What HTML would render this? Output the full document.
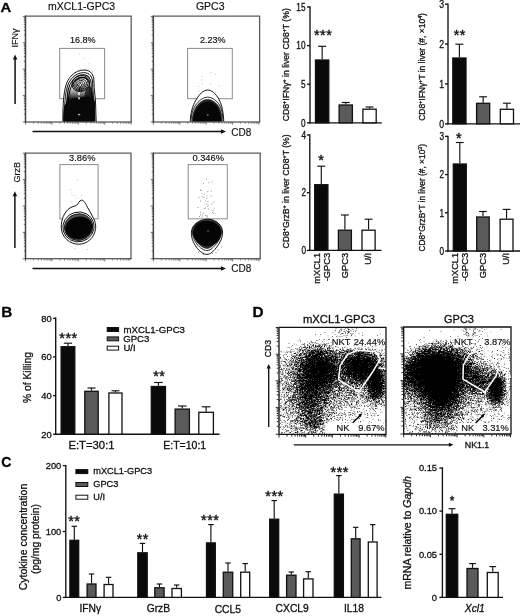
<!DOCTYPE html>
<html><head><meta charset="utf-8"><title>Figure</title>
<style>html,body{margin:0;padding:0;background:#fff}svg{display:block}svg text{font-family:"Liberation Sans","Noto Sans CJK SC",sans-serif;stroke:#111;stroke-width:0.3px}svg text.lt{stroke-width:0.16px}svg text.st{stroke-width:0.4px;letter-spacing:0.5px}</style></head>
<body>
<svg width="520" height="616" viewBox="0 0 520 616" fill="#111">
<defs>
<clipPath id="cA1"><rect x="26" y="16" width="105" height="105.6"/></clipPath>
<clipPath id="cA2"><rect x="154" y="16" width="105" height="105.6"/></clipPath>
<linearGradient id="gl1" gradientUnits="userSpaceOnUse" x1="0" y1="84" x2="0" y2="99"><stop offset="0" stop-color="#000" stop-opacity="0"/><stop offset="0.5" stop-color="#000" stop-opacity="0.35"/><stop offset="1" stop-color="#000" stop-opacity="0.9"/></linearGradient>
<radialGradient id="gdark"><stop offset="0" stop-color="#000"/><stop offset="0.75" stop-color="#000"/><stop offset="1" stop-color="#000" stop-opacity="0.55"/></radialGradient>
</defs>
<rect width="520" height="616" fill="#fff"/>
<text transform="translate(0.6 12.3) scale(1.1 1)" font-size="13.5" font-weight="bold" fill="#000">A</text>
<text transform="translate(1.2 317.3) scale(1.08 1)" font-size="14.2" font-weight="bold" fill="#000">B</text>
<text x="1.2" y="467" font-size="14" font-weight="bold" fill="#000">C</text>
<text transform="translate(252.4 316.9) scale(1.08 1)" font-size="14.2" font-weight="bold" fill="#000">D</text>
<text x="81.6" y="10" font-size="10.5" text-anchor="middle" class="lt">mXCL1-GPC3</text>
<text x="210.2" y="9.9" font-size="10.5" text-anchor="middle" class="lt">GPC3</text>
<path d="M25.5 122V16.15H131.2V122" fill="none" stroke="#5c5c5c" stroke-width="1.3"/>
<line x1="25.5" y1="15.55" x2="25.5" y2="122.5" stroke="#444" stroke-width="1.3"/>
<line x1="24.9" y1="122" x2="131.8" y2="122" stroke="#2a2a2a" stroke-width="1.1"/>
<path d="M25 122h-2.2M25 114.05h-1.2M25 109.4h-1.2M25 106.11h-1.2M25 103.55h-1.2M25 101.46h-1.2M25 99.69h-1.2M25 98.16h-1.2M25 96.81h-1.2M25 95.6h-2.2M25 87.65h-1.2M25 83h-1.2M25 79.71h-1.2M25 77.15h-1.2M25 75.06h-1.2M25 73.29h-1.2M25 71.76h-1.2M25 70.41h-1.2M25 69.2h-2.2M25 61.25h-1.2M25 56.6h-1.2M25 53.31h-1.2M25 50.75h-1.2M25 48.66h-1.2M25 46.89h-1.2M25 45.36h-1.2M25 44.01h-1.2M25 42.8h-2.2M25 34.85h-1.2M25 30.2h-1.2M25 26.91h-1.2M25 24.35h-1.2M25 22.26h-1.2M25 20.49h-1.2M25 18.96h-1.2M25 17.61h-1.2M25 16.4h-2.2" stroke="#333" stroke-width="0.7" fill="none"/>
<path d="M25.5 122.4v2.2M33.45 122.4v1.2M38.1 122.4v1.2M41.39 122.4v1.2M43.95 122.4v1.2M46.04 122.4v1.2M47.81 122.4v1.2M49.34 122.4v1.2M50.69 122.4v1.2M51.9 122.4v2.2M59.85 122.4v1.2M64.5 122.4v1.2M67.79 122.4v1.2M70.35 122.4v1.2M72.44 122.4v1.2M74.21 122.4v1.2M75.74 122.4v1.2M77.09 122.4v1.2M78.3 122.4v2.2M86.25 122.4v1.2M90.9 122.4v1.2M94.19 122.4v1.2M96.75 122.4v1.2M98.84 122.4v1.2M100.61 122.4v1.2M102.14 122.4v1.2M103.49 122.4v1.2M104.7 122.4v2.2M112.65 122.4v1.2M117.3 122.4v1.2M120.59 122.4v1.2M123.15 122.4v1.2M125.24 122.4v1.2M127.01 122.4v1.2M128.54 122.4v1.2M129.89 122.4v1.2M131.1 122.4v2.2" stroke="#333" stroke-width="0.7" fill="none"/>
<rect x="59.7" y="48.4" width="44.9" height="50.3" fill="none" stroke="#8c8c8c" stroke-width="1"/>
<text x="82.8" y="43.2" font-size="9" text-anchor="middle" class="lt">16.8%</text>
<g clip-path="url(#cA1)">
<path d="M63 123C62.6 110 63.4 96 65.2 88C67.5 77 75 70.3 83.8 70C91 69.8 93.8 75 93.9 81C94 90 95.6 98 95.7 106C95.8 112 96 118 96.3 123Z" fill="#fff" stroke="#0a0a0a" stroke-width="0.95"/>
<path d="M63 123C62.6 110 63.4 96 65.2 88C67.5 77 75 70.3 83.8 70C91 69.8 93.8 75 93.9 81C94 90 95.6 98 95.7 106C95.8 112 96 118 96.3 123Z" fill="none" stroke="#0a0a0a" stroke-width="1.05" transform="translate(79.7 123) scale(0.91 0.95) translate(-79.7 -123)"/>
<path d="M63 123C62.6 110 63.4 96 65.2 88C67.5 77 75 70.3 83.8 70C91 69.8 93.8 75 93.9 81C94 90 95.6 98 95.7 106C95.8 112 96 118 96.3 123Z" fill="none" stroke="#0a0a0a" stroke-width="1.17" transform="translate(79.7 123) scale(0.81 0.91) translate(-79.7 -123)"/>
<path d="M63 123C62.6 110 63.4 96 65.2 88C67.5 77 75 70.3 83.8 70C91 69.8 93.8 75 93.9 81C94 90 95.6 98 95.7 106C95.8 112 96 118 96.3 123Z" fill="none" stroke="#0a0a0a" stroke-width="1.33" transform="translate(79.7 123) scale(0.71 0.86) translate(-79.7 -123)"/>
<path d="M67 123L67 84L93 84L93 123Z" fill="url(#gl1)"/>
<ellipse cx="80.8" cy="83.6" rx="9" ry="7.92" fill="none" stroke="#0a0a0a" stroke-width="0.85" transform="rotate(-25 80.8 83.6)"/>
<ellipse cx="80.7" cy="83.9" rx="7.5" ry="6.6" fill="none" stroke="#0a0a0a" stroke-width="0.85" transform="rotate(-25 80.7 83.9)"/>
<ellipse cx="80.6" cy="84.2" rx="6" ry="5.28" fill="none" stroke="#0a0a0a" stroke-width="0.85" transform="rotate(-25 80.6 84.2)"/>
<ellipse cx="80.5" cy="84.5" rx="4.5" ry="3.96" fill="none" stroke="#0a0a0a" stroke-width="0.85" transform="rotate(-25 80.5 84.5)"/>
<ellipse cx="80.4" cy="84.8" rx="3" ry="2.64" fill="none" stroke="#0a0a0a" stroke-width="0.85" transform="rotate(-25 80.4 84.8)"/>
<ellipse cx="80.3" cy="85.1" rx="1.5" ry="1.32" fill="none" stroke="#0a0a0a" stroke-width="0.85" transform="rotate(-25 80.3 85.1)"/>
<path d="M84.4 97C84.6 92 86 88.4 88 86.8C90 85.8 91.6 87 92.2 90C93 94 94 99 94.5 104L84 104Z" fill="#111" fill-opacity="0.8"/>
<path d="M63.1 123C63.2 118 63.2 114 63.6 110C64 106.5 64.6 105 65.8 103.6C67 102 68.4 100.8 70 100C72 99 74 98.5 76.3 98.1C78 97.8 79.8 97.6 81.3 97.3C83 96.8 84.4 96.5 86 96.5C89 96.6 92 97.5 93.4 99C94.6 100.6 95 102 95.1 104C95.3 110 95.3 117 95.4 123Z" fill="#080808"/>
<ellipse cx="79" cy="93.6" rx="0.8" ry="1.9" fill="#fff" stroke="none" stroke-width="0.7"/>
<ellipse cx="79" cy="98.3" rx="0.8" ry="1.2" fill="#ddd" stroke="none" stroke-width="0.7"/>
<rect x="78" y="113.9" width="2.2" height="1.4" fill="#aaa" stroke="none" stroke-width="1"/>
</g>
<path d="M79.3 54h0.8M83.8 58.6h0.8M88.8 63.3h0.8M80 69h0.8M86.5 68h0.8M92.6 72h0.8" stroke="#aaa" stroke-width="0.8" fill="none"/>
<path d="M153.4 122V16.15H259.6V122" fill="none" stroke="#5c5c5c" stroke-width="1.3"/>
<line x1="153.4" y1="15.55" x2="153.4" y2="122.5" stroke="#444" stroke-width="1.3"/>
<line x1="152.8" y1="122" x2="260.2" y2="122" stroke="#2a2a2a" stroke-width="1.1"/>
<path d="M152.9 122h-2.2M152.9 114.05h-1.2M152.9 109.4h-1.2M152.9 106.11h-1.2M152.9 103.55h-1.2M152.9 101.46h-1.2M152.9 99.69h-1.2M152.9 98.16h-1.2M152.9 96.81h-1.2M152.9 95.6h-2.2M152.9 87.65h-1.2M152.9 83h-1.2M152.9 79.71h-1.2M152.9 77.15h-1.2M152.9 75.06h-1.2M152.9 73.29h-1.2M152.9 71.76h-1.2M152.9 70.41h-1.2M152.9 69.2h-2.2M152.9 61.25h-1.2M152.9 56.6h-1.2M152.9 53.31h-1.2M152.9 50.75h-1.2M152.9 48.66h-1.2M152.9 46.89h-1.2M152.9 45.36h-1.2M152.9 44.01h-1.2M152.9 42.8h-2.2M152.9 34.85h-1.2M152.9 30.2h-1.2M152.9 26.91h-1.2M152.9 24.35h-1.2M152.9 22.26h-1.2M152.9 20.49h-1.2M152.9 18.96h-1.2M152.9 17.61h-1.2M152.9 16.4h-2.2" stroke="#333" stroke-width="0.7" fill="none"/>
<path d="M153.4 122.4v2.2M161.35 122.4v1.2M166 122.4v1.2M169.29 122.4v1.2M171.85 122.4v1.2M173.94 122.4v1.2M175.71 122.4v1.2M177.24 122.4v1.2M178.59 122.4v1.2M179.8 122.4v2.2M187.75 122.4v1.2M192.4 122.4v1.2M195.69 122.4v1.2M198.25 122.4v1.2M200.34 122.4v1.2M202.11 122.4v1.2M203.64 122.4v1.2M204.99 122.4v1.2M206.2 122.4v2.2M214.15 122.4v1.2M218.8 122.4v1.2M222.09 122.4v1.2M224.65 122.4v1.2M226.74 122.4v1.2M228.51 122.4v1.2M230.04 122.4v1.2M231.39 122.4v1.2M232.6 122.4v2.2M240.55 122.4v1.2M245.2 122.4v1.2M248.49 122.4v1.2M251.05 122.4v1.2M253.14 122.4v1.2M254.91 122.4v1.2M256.44 122.4v1.2M257.79 122.4v1.2M259 122.4v2.2" stroke="#333" stroke-width="0.7" fill="none"/>
<rect x="187.6" y="48.4" width="44.7" height="50.3" fill="none" stroke="#8c8c8c" stroke-width="1"/>
<text x="212.7" y="43.2" font-size="9" text-anchor="middle" class="lt">2.23%</text>
<g clip-path="url(#cA2)">
<path d="M190.2 123C190.4 113 192.5 106 196 100C199.5 94 203.5 90 207.6 90C211.8 90 215.5 93.5 218.8 99C222 105 223.6 113 223.8 123Z" fill="#fff" stroke="#0a0a0a" stroke-width="0.95"/>
<path d="M190.9 123C191.1 114 193 108.5 196.5 104C200 99.6 204 97.2 207.6 97.2C211.6 97.2 215.2 99.4 218.5 103.5C221.6 107.5 223 114 223.1 123Z" fill="none" stroke="#0a0a0a" stroke-width="0.9"/>
<path d="M192 123C192.2 115 194 109.5 197.2 105.5C200.4 101.6 204 99.6 207.6 99.6C211.4 99.6 214.8 101.5 217.8 105.2C220.8 109 222 115 222.1 123Z" fill="#2a2a2a" stroke="#111" stroke-width="0.7"/>
<path d="M192.8 123C193 116 194.6 111 197.6 107.2C200.6 103.6 204 101.6 207.6 101.6C211.2 101.6 214.4 103.4 217.2 106.8C220 110.4 221.2 116 221.3 123Z" fill="#060606" stroke="none"/>
<rect x="206.8" y="114.3" width="1.8" height="1.3" fill="#888" stroke="none" stroke-width="1"/>
</g>
<path d="M210.5 72.5h0.9M215 74.5h0.9M201.8 76.5h0.9M201.5 80h0.9M202 84h0.9M210 84h0.9M218.8 86h0.9M198 86.5h0.9M198.5 91.5h0.9M215 92h0.9" stroke="#bbb" stroke-width="0.9" fill="none"/>
<line x1="32.5" y1="131.6" x2="223" y2="131.6" stroke="#111" stroke-width="1.5"/>
<path d="M226 131.6l-5 -2.25v4.5z" fill="#111"/>
<text x="231.2" y="135.6" font-size="10" class="lt">CD8</text>
<text x="18.3" y="47.5" font-size="9" transform="rotate(-90 18.3 47.5)" class="lt">IFNγ</text>
<line x1="15.1" y1="104" x2="15.1" y2="57.5" stroke="#111" stroke-width="1.5"/>
<path d="M15.1 54.5l-2.25 5h4.5z" fill="#111"/>
<path d="M25.5 258.8V153.2H131V258.8" fill="none" stroke="#5c5c5c" stroke-width="1.3"/>
<line x1="25.5" y1="152.6" x2="25.5" y2="259.3" stroke="#444" stroke-width="1.3"/>
<line x1="24.9" y1="258.8" x2="131.6" y2="258.8" stroke="#2a2a2a" stroke-width="1.1"/>
<path d="M25 258.8h-2.2M25 250.85h-1.2M25 246.2h-1.2M25 242.91h-1.2M25 240.35h-1.2M25 238.26h-1.2M25 236.49h-1.2M25 234.96h-1.2M25 233.61h-1.2M25 232.4h-2.2M25 224.45h-1.2M25 219.8h-1.2M25 216.51h-1.2M25 213.95h-1.2M25 211.86h-1.2M25 210.09h-1.2M25 208.56h-1.2M25 207.21h-1.2M25 206h-2.2M25 198.05h-1.2M25 193.4h-1.2M25 190.11h-1.2M25 187.55h-1.2M25 185.46h-1.2M25 183.69h-1.2M25 182.16h-1.2M25 180.81h-1.2M25 179.6h-2.2M25 171.65h-1.2M25 167h-1.2M25 163.71h-1.2M25 161.15h-1.2M25 159.06h-1.2M25 157.29h-1.2M25 155.76h-1.2M25 154.41h-1.2M25 153.2h-2.2" stroke="#333" stroke-width="0.7" fill="none"/>
<path d="M25.5 259.2v2.2M33.45 259.2v1.2M38.1 259.2v1.2M41.39 259.2v1.2M43.95 259.2v1.2M46.04 259.2v1.2M47.81 259.2v1.2M49.34 259.2v1.2M50.69 259.2v1.2M51.9 259.2v2.2M59.85 259.2v1.2M64.5 259.2v1.2M67.79 259.2v1.2M70.35 259.2v1.2M72.44 259.2v1.2M74.21 259.2v1.2M75.74 259.2v1.2M77.09 259.2v1.2M78.3 259.2v2.2M86.25 259.2v1.2M90.9 259.2v1.2M94.19 259.2v1.2M96.75 259.2v1.2M98.84 259.2v1.2M100.61 259.2v1.2M102.14 259.2v1.2M103.49 259.2v1.2M104.7 259.2v2.2M112.65 259.2v1.2M117.3 259.2v1.2M120.59 259.2v1.2M123.15 259.2v1.2M125.24 259.2v1.2M127.01 259.2v1.2M128.54 259.2v1.2M129.89 259.2v1.2" stroke="#333" stroke-width="0.7" fill="none"/>
<rect x="59.9" y="164.6" width="38.2" height="54.2" fill="none" stroke="#8c8c8c" stroke-width="1"/>
<text x="82.3" y="161.3" font-size="9.3" text-anchor="middle" class="lt">3.86%</text>
<path d="M61.3 228C61 219 64.5 212.5 68.8 208.8C71.5 206.5 74.5 206.6 76.6 205.2C78.6 203.8 79 200.6 81.4 200.2C83.8 199.9 85.6 203.5 87.4 207.2C89.4 211.2 92 214.5 93.8 218.8C95.2 222 96 225 95.6 228.5C94.5 238 87 244.2 78.8 244.2C69.5 244.2 62 237.5 61.3 228Z" fill="#fff" stroke="#0a0a0a" stroke-width="0.95"/>
<ellipse cx="78.5" cy="226.9" rx="15.7" ry="14.9" fill="none" stroke="#0a0a0a" stroke-width="0.9" transform="rotate(-15 78.5 226.9)"/>
<ellipse cx="78.6" cy="227.1" rx="14.3" ry="13.3" fill="#555" stroke="#0a0a0a" stroke-width="0.8" transform="rotate(-15 78.6 227.1)"/>
<ellipse cx="78.8" cy="227.8" rx="13.7" ry="11.2" fill="#050505" stroke="none" stroke-width="0.7" transform="rotate(-14 78.8 227.8)"/>
<path d="M70 190h0.9M71.3 193.5h0.9M73.3 195.6h0.9M81 195.5h0.9M76.3 198.3h0.9M70.5 202h0.9M77 180h0.9M74.5 248.5h0.9M87 249.5h0.9" stroke="#bbb" stroke-width="0.9" fill="none"/>
<path d="M153.4 258.8V153.2H260.2V258.8" fill="none" stroke="#5c5c5c" stroke-width="1.3"/>
<line x1="153.4" y1="152.6" x2="153.4" y2="259.3" stroke="#444" stroke-width="1.3"/>
<line x1="152.8" y1="258.8" x2="260.8" y2="258.8" stroke="#2a2a2a" stroke-width="1.1"/>
<path d="M152.9 258.8h-2.2M152.9 250.85h-1.2M152.9 246.2h-1.2M152.9 242.91h-1.2M152.9 240.35h-1.2M152.9 238.26h-1.2M152.9 236.49h-1.2M152.9 234.96h-1.2M152.9 233.61h-1.2M152.9 232.4h-2.2M152.9 224.45h-1.2M152.9 219.8h-1.2M152.9 216.51h-1.2M152.9 213.95h-1.2M152.9 211.86h-1.2M152.9 210.09h-1.2M152.9 208.56h-1.2M152.9 207.21h-1.2M152.9 206h-2.2M152.9 198.05h-1.2M152.9 193.4h-1.2M152.9 190.11h-1.2M152.9 187.55h-1.2M152.9 185.46h-1.2M152.9 183.69h-1.2M152.9 182.16h-1.2M152.9 180.81h-1.2M152.9 179.6h-2.2M152.9 171.65h-1.2M152.9 167h-1.2M152.9 163.71h-1.2M152.9 161.15h-1.2M152.9 159.06h-1.2M152.9 157.29h-1.2M152.9 155.76h-1.2M152.9 154.41h-1.2M152.9 153.2h-2.2" stroke="#333" stroke-width="0.7" fill="none"/>
<path d="M153.4 259.2v2.2M161.35 259.2v1.2M166 259.2v1.2M169.29 259.2v1.2M171.85 259.2v1.2M173.94 259.2v1.2M175.71 259.2v1.2M177.24 259.2v1.2M178.59 259.2v1.2M179.8 259.2v2.2M187.75 259.2v1.2M192.4 259.2v1.2M195.69 259.2v1.2M198.25 259.2v1.2M200.34 259.2v1.2M202.11 259.2v1.2M203.64 259.2v1.2M204.99 259.2v1.2M206.2 259.2v2.2M214.15 259.2v1.2M218.8 259.2v1.2M222.09 259.2v1.2M224.65 259.2v1.2M226.74 259.2v1.2M228.51 259.2v1.2M230.04 259.2v1.2M231.39 259.2v1.2M232.6 259.2v2.2M240.55 259.2v1.2M245.2 259.2v1.2M248.49 259.2v1.2M251.05 259.2v1.2M253.14 259.2v1.2M254.91 259.2v1.2M256.44 259.2v1.2M257.79 259.2v1.2M259 259.2v2.2" stroke="#333" stroke-width="0.7" fill="none"/>
<rect x="188.2" y="164.6" width="39.1" height="54.2" fill="none" stroke="#8c8c8c" stroke-width="1"/>
<text x="208.2" y="161.3" font-size="9.3" text-anchor="middle" class="lt">0.346%</text>
<path d="M207.5 219.2C214 219 221.5 223.5 222.5 231C223.2 237 220 243 216 248C213 251.8 210 254.4 207 254.4C203.5 254.4 199.5 251.5 196.3 247C193 242.3 191 237 191.4 232C192 224 200 219.4 207.5 219.2Z" fill="#fff" stroke="#0a0a0a" stroke-width="0.95"/>
<path d="M207.5 219.2C214 219 221.5 223.5 222.5 231C223.2 237 220 243 216 248C213 251.8 210 254.4 207 254.4C203.5 254.4 199.5 251.5 196.3 247C193 242.3 191 237 191.4 232C192 224 200 219.4 207.5 219.2Z" fill="none" stroke="#0a0a0a" stroke-width="0.95" transform="translate(207 219.2) scale(0.94 0.875) translate(-207 -218.6)"/>
<path d="M207.5 219.2C214 219 221.5 223.5 222.5 231C223.2 237 220 243 216 248C213 251.8 210 254.4 207 254.4C203.5 254.4 199.5 251.5 196.3 247C193 242.3 191 237 191.4 232C192 224 200 219.4 207.5 219.2Z" fill="#333" stroke="#111" stroke-width="0.7" transform="translate(207 219.2) scale(0.9 0.8) translate(-207 -217.8)"/>
<path d="M207.2 220.8C214.5 220.8 220.8 225.5 221.2 232.5C221.5 238.5 216 246.3 207.6 246.3C199.5 246.3 192.6 239.5 193 232.3C193.4 225.2 200 220.8 207.2 220.8Z" fill="#050505"/>
<rect x="207.3" y="230.4" width="1.5" height="1.2" fill="#777" stroke="none" stroke-width="1"/>
<path d="M200 190h1M201.5 193.5h1M206.5 198h1M207.5 201.5h1M200 201h1M213.5 202h1M205 208h1M207.8 209h1M197.5 207.5h1M212.5 210.5h1M212 212.5h1M200 215h1M203 213h1M205 215.5h1M199 216.5h1M201.5 217h1M221 247h1M217.5 250h1M198 252h1M212 253.5h1M203 254.5h1M215.5 252.5h1M203.88 194.21h1M207.06 216.01h1M211.27 204.02h1M207.68 204.97h1M203.37 197.3h1M210.83 191.24h1M201.69 215.05h1M198.56 197.27h1M213.98 208.28h1M210.75 196.06h1M201.73 196.82h1M200.91 190.51h1M207.34 191.6h1M199.94 212.45h1M211.34 182.15h1M206.41 217.65h1M206.28 195.79h1M206.48 216.12h1M205.97 179.02h1M204.9 201.05h1M213.12 213.35h1M206.2 203.91h1M208.27 182.79h1M207.25 206.43h1M203.75 208.47h1M202.83 183.4h1" stroke="#999" stroke-width="1" fill="none"/>
<line x1="32.5" y1="268.6" x2="223" y2="268.6" stroke="#111" stroke-width="1.5"/>
<path d="M226 268.6l-5 -2.25v4.5z" fill="#111"/>
<text x="231.2" y="272.2" font-size="10" class="lt">CD8</text>
<text x="19.6" y="182.6" font-size="9" transform="rotate(-90 19.6 182.6)" class="lt">GrzB</text>
<line x1="14.9" y1="248" x2="14.9" y2="194.2" stroke="#111" stroke-width="1.5"/>
<path d="M14.9 191.2l-2.25 5h4.5z" fill="#111"/>
<line x1="310" y1="6.33" x2="310" y2="123.47" stroke="#111" stroke-width="1.35"/>
<line x1="307" y1="7" x2="310" y2="7" stroke="#111" stroke-width="1.35"/>
<text transform="translate(305.5 10.71) scale(0.8 1)" font-size="10.3" text-anchor="end">15</text>
<line x1="307" y1="45.6" x2="310" y2="45.6" stroke="#111" stroke-width="1.35"/>
<text transform="translate(305.5 49.31) scale(0.8 1)" font-size="10.3" text-anchor="end">10</text>
<line x1="307" y1="84.2" x2="310" y2="84.2" stroke="#111" stroke-width="1.35"/>
<text transform="translate(305.5 87.91) scale(0.8 1)" font-size="10.3" text-anchor="end">5</text>
<line x1="307" y1="122.8" x2="310" y2="122.8" stroke="#111" stroke-width="1.35"/>
<text transform="translate(305.5 126.51) scale(0.8 1)" font-size="10.3" text-anchor="end">0</text>
<line x1="309.5" y1="122.8" x2="381.8" y2="122.8" stroke="#111" stroke-width="1.35"/>
<line x1="322.15" y1="46.3" x2="322.15" y2="59.35" stroke="#111" stroke-width="1.15"/>
<line x1="318.13" y1="46.3" x2="326.17" y2="46.3" stroke="#111" stroke-width="1.15"/>
<rect x="315.5" y="60" width="13.3" height="62.8" fill="#0a0a0a" stroke="#111" stroke-width="1.3"/>
<line x1="345.75" y1="102.5" x2="345.75" y2="104.35" stroke="#111" stroke-width="1.15"/>
<line x1="341.74" y1="102.5" x2="349.76" y2="102.5" stroke="#111" stroke-width="1.15"/>
<rect x="339.1" y="105" width="13.3" height="17.8" fill="#5a5a5a" stroke="#111" stroke-width="1.3"/>
<line x1="369.55" y1="107" x2="369.55" y2="108.55" stroke="#111" stroke-width="1.15"/>
<line x1="365.54" y1="107" x2="373.56" y2="107" stroke="#111" stroke-width="1.15"/>
<rect x="362.9" y="109.2" width="13.3" height="13.6" fill="#fff" stroke="#111" stroke-width="1.3"/>
<text x="323.2" y="39.5" font-size="14.5" text-anchor="middle" class="st">***</text>
<text x="288.7" y="64.7" font-size="8.8" text-anchor="middle" transform="rotate(-90 288.7 64.7)" textLength="113" lengthAdjust="spacingAndGlyphs">CD8<tspan dy="-3.17" font-size="5.46">+</tspan><tspan dy="3.17" font-size="8.8">&#8203;</tspan>IFNγ<tspan dy="-3.17" font-size="5.46">+</tspan><tspan dy="3.17" font-size="8.8">&#8203;</tspan> in liver CD8<tspan dy="-3.17" font-size="5.46">+</tspan><tspan dy="3.17" font-size="8.8">&#8203;</tspan>T (%)</text>
<line x1="448" y1="3.53" x2="448" y2="124.47" stroke="#111" stroke-width="1.35"/>
<line x1="445" y1="4.2" x2="448" y2="4.2" stroke="#111" stroke-width="1.35"/>
<text transform="translate(444.2 7.91) scale(0.85 1)" font-size="10.3" text-anchor="end">3</text>
<line x1="445" y1="44" x2="448" y2="44" stroke="#111" stroke-width="1.35"/>
<text transform="translate(444.2 47.71) scale(0.85 1)" font-size="10.3" text-anchor="end">2</text>
<line x1="445" y1="83.9" x2="448" y2="83.9" stroke="#111" stroke-width="1.35"/>
<text transform="translate(444.2 87.61) scale(0.85 1)" font-size="10.3" text-anchor="end">1</text>
<line x1="445" y1="123.8" x2="448" y2="123.8" stroke="#111" stroke-width="1.35"/>
<text transform="translate(444.2 127.51) scale(0.85 1)" font-size="10.3" text-anchor="end">0</text>
<line x1="447.5" y1="123.8" x2="520" y2="123.8" stroke="#111" stroke-width="1.35"/>
<line x1="459.4" y1="44.2" x2="459.4" y2="57.35" stroke="#111" stroke-width="1.15"/>
<line x1="455.41" y1="44.2" x2="463.39" y2="44.2" stroke="#111" stroke-width="1.15"/>
<rect x="452.8" y="58" width="13.2" height="65.8" fill="#0a0a0a" stroke="#111" stroke-width="1.3"/>
<line x1="483.15" y1="96.8" x2="483.15" y2="102.65" stroke="#111" stroke-width="1.15"/>
<line x1="479.19" y1="96.8" x2="487.11" y2="96.8" stroke="#111" stroke-width="1.15"/>
<rect x="476.6" y="103.3" width="13.1" height="20.5" fill="#5a5a5a" stroke="#111" stroke-width="1.3"/>
<line x1="506.9" y1="103.2" x2="506.9" y2="108.65" stroke="#111" stroke-width="1.15"/>
<line x1="502.91" y1="103.2" x2="510.89" y2="103.2" stroke="#111" stroke-width="1.15"/>
<rect x="500.3" y="109.3" width="13.2" height="14.5" fill="#fff" stroke="#111" stroke-width="1.3"/>
<text x="459.8" y="39.5" font-size="14.5" text-anchor="middle" class="st">**</text>
<text x="425.2" y="66.9" font-size="8.8" text-anchor="middle" transform="rotate(-90 425.2 66.9)" textLength="107.7" lengthAdjust="spacingAndGlyphs">CD8<tspan dy="-3.17" font-size="5.46">+</tspan><tspan dy="3.17" font-size="8.8">&#8203;</tspan>IFNγ<tspan dy="-3.17" font-size="5.46">+</tspan><tspan dy="3.17" font-size="8.8">&#8203;</tspan>T in liver (#, ×10<tspan dy="-3.17" font-size="5.46">4</tspan><tspan dy="3.17" font-size="8.8">&#8203;</tspan>)</text>
<line x1="309.8" y1="134.32" x2="309.8" y2="251.08" stroke="#111" stroke-width="1.35"/>
<line x1="306.8" y1="135" x2="309.8" y2="135" stroke="#111" stroke-width="1.35"/>
<text transform="translate(306 138.71) scale(0.8 1)" font-size="10.3" text-anchor="end">4</text>
<line x1="306.8" y1="192.7" x2="309.8" y2="192.7" stroke="#111" stroke-width="1.35"/>
<text transform="translate(306 196.41) scale(0.8 1)" font-size="10.3" text-anchor="end">2</text>
<line x1="306.8" y1="250.4" x2="309.8" y2="250.4" stroke="#111" stroke-width="1.35"/>
<text transform="translate(306 254.11) scale(0.8 1)" font-size="10.3" text-anchor="end">0</text>
<line x1="309.3" y1="250.4" x2="381.5" y2="250.4" stroke="#111" stroke-width="1.35"/>
<line x1="321.3" y1="166.2" x2="321.3" y2="184.05" stroke="#111" stroke-width="1.15"/>
<line x1="317.31" y1="166.2" x2="325.29" y2="166.2" stroke="#111" stroke-width="1.15"/>
<rect x="314.7" y="184.7" width="13.2" height="65.7" fill="#0a0a0a" stroke="#111" stroke-width="1.3"/>
<line x1="344.9" y1="215" x2="344.9" y2="229.55" stroke="#111" stroke-width="1.15"/>
<line x1="340.97" y1="215" x2="348.83" y2="215" stroke="#111" stroke-width="1.15"/>
<rect x="338.4" y="230.2" width="13" height="20.2" fill="#5a5a5a" stroke="#111" stroke-width="1.3"/>
<line x1="368.55" y1="219.2" x2="368.55" y2="229.55" stroke="#111" stroke-width="1.15"/>
<line x1="364.59" y1="219.2" x2="372.51" y2="219.2" stroke="#111" stroke-width="1.15"/>
<rect x="362" y="230.2" width="13.1" height="20.2" fill="#fff" stroke="#111" stroke-width="1.3"/>
<text x="321.3" y="165" font-size="14.5" text-anchor="middle" class="st">*</text>
<text x="288.7" y="191.4" font-size="8.8" text-anchor="middle" transform="rotate(-90 288.7 191.4)" textLength="114" lengthAdjust="spacingAndGlyphs">CD8<tspan dy="-3.17" font-size="5.46">+</tspan><tspan dy="3.17" font-size="8.8">&#8203;</tspan>GrzB<tspan dy="-3.17" font-size="5.46">+</tspan><tspan dy="3.17" font-size="8.8">&#8203;</tspan> in liver CD8<tspan dy="-3.17" font-size="5.46">+</tspan><tspan dy="3.17" font-size="8.8">&#8203;</tspan>T (%)</text>
<text x="320.3" y="252.8" font-size="9.3" text-anchor="end" transform="rotate(-90 320.3 252.8)">mXCL1</text>
<text x="330" y="252.8" font-size="9.3" text-anchor="end" transform="rotate(-90 330 252.8)">-GPC3</text>
<text x="348.1" y="252.8" font-size="9.3" text-anchor="end" transform="rotate(-90 348.1 252.8)">GPC3</text>
<text x="371.2" y="252.8" font-size="9.3" text-anchor="end" transform="rotate(-90 371.2 252.8)">U/I</text>
<line x1="448" y1="135.72" x2="448" y2="251.68" stroke="#111" stroke-width="1.35"/>
<line x1="445" y1="136.4" x2="448" y2="136.4" stroke="#111" stroke-width="1.35"/>
<text transform="translate(444.2 140.11) scale(0.8 1)" font-size="10.3" text-anchor="end">3</text>
<line x1="445" y1="174.6" x2="448" y2="174.6" stroke="#111" stroke-width="1.35"/>
<text transform="translate(444.2 178.31) scale(0.8 1)" font-size="10.3" text-anchor="end">2</text>
<line x1="445" y1="212.8" x2="448" y2="212.8" stroke="#111" stroke-width="1.35"/>
<text transform="translate(444.2 216.51) scale(0.8 1)" font-size="10.3" text-anchor="end">1</text>
<line x1="445" y1="251" x2="448" y2="251" stroke="#111" stroke-width="1.35"/>
<text transform="translate(444.2 254.71) scale(0.8 1)" font-size="10.3" text-anchor="end">0</text>
<line x1="447.5" y1="251" x2="520" y2="251" stroke="#111" stroke-width="1.35"/>
<line x1="459.8" y1="142.5" x2="459.8" y2="163.35" stroke="#111" stroke-width="1.15"/>
<line x1="455.87" y1="142.5" x2="463.73" y2="142.5" stroke="#111" stroke-width="1.15"/>
<rect x="453.3" y="164" width="13" height="87" fill="#0a0a0a" stroke="#111" stroke-width="1.3"/>
<line x1="482.95" y1="211.5" x2="482.95" y2="216.35" stroke="#111" stroke-width="1.15"/>
<line x1="479.15" y1="211.5" x2="486.75" y2="211.5" stroke="#111" stroke-width="1.15"/>
<rect x="476.7" y="217" width="12.5" height="34" fill="#5a5a5a" stroke="#111" stroke-width="1.3"/>
<line x1="506.55" y1="209.4" x2="506.55" y2="218.55" stroke="#111" stroke-width="1.15"/>
<line x1="502.64" y1="209.4" x2="510.45" y2="209.4" stroke="#111" stroke-width="1.15"/>
<rect x="500.1" y="219.2" width="12.9" height="31.8" fill="#fff" stroke="#111" stroke-width="1.3"/>
<text x="459" y="142.5" font-size="14.5" text-anchor="middle" class="st">*</text>
<text x="425.2" y="197.8" font-size="8.8" text-anchor="middle" transform="rotate(-90 425.2 197.8)" textLength="107.6" lengthAdjust="spacingAndGlyphs">CD8<tspan dy="-3.17" font-size="5.46">+</tspan><tspan dy="3.17" font-size="8.8">&#8203;</tspan>GrzB<tspan dy="-3.17" font-size="5.46">+</tspan><tspan dy="3.17" font-size="8.8">&#8203;</tspan>T in liver (#, ×10<tspan dy="-3.17" font-size="5.46">3</tspan><tspan dy="3.17" font-size="8.8">&#8203;</tspan>)</text>
<text x="458.5" y="252.8" font-size="9.3" text-anchor="end" transform="rotate(-90 458.5 252.8)">mXCL1</text>
<text x="468.2" y="252.8" font-size="9.3" text-anchor="end" transform="rotate(-90 468.2 252.8)">-GPC3</text>
<text x="485.6" y="252.8" font-size="9.3" text-anchor="end" transform="rotate(-90 485.6 252.8)">GPC3</text>
<text x="509.5" y="252.8" font-size="9.3" text-anchor="end" transform="rotate(-90 509.5 252.8)">U/I</text>
<line x1="55.7" y1="317.62" x2="55.7" y2="434.88" stroke="#111" stroke-width="1.35"/>
<line x1="53.1" y1="318.3" x2="55.7" y2="318.3" stroke="#111" stroke-width="1.35"/>
<text x="51.8" y="321.68" font-size="9.4" text-anchor="end">80</text>
<line x1="53.1" y1="356.9" x2="55.7" y2="356.9" stroke="#111" stroke-width="1.35"/>
<text x="51.8" y="360.28" font-size="9.4" text-anchor="end">60</text>
<line x1="53.1" y1="395.6" x2="55.7" y2="395.6" stroke="#111" stroke-width="1.35"/>
<text x="51.8" y="398.98" font-size="9.4" text-anchor="end">40</text>
<line x1="53.1" y1="434.2" x2="55.7" y2="434.2" stroke="#111" stroke-width="1.35"/>
<text x="51.8" y="437.58" font-size="9.4" text-anchor="end">20</text>
<line x1="55" y1="434.2" x2="219.5" y2="434.2" stroke="#111" stroke-width="1.35"/>
<line x1="67.95" y1="343.2" x2="67.95" y2="346.05" stroke="#111" stroke-width="1.15"/>
<line x1="63.82" y1="343.2" x2="72.07" y2="343.2" stroke="#111" stroke-width="1.15"/>
<rect x="61.1" y="346.7" width="13.7" height="87.5" fill="#0a0a0a" stroke="#111" stroke-width="1.3"/>
<line x1="91.5" y1="388" x2="91.5" y2="390.65" stroke="#111" stroke-width="1.15"/>
<line x1="87.46" y1="388" x2="95.54" y2="388" stroke="#111" stroke-width="1.15"/>
<rect x="84.8" y="391.3" width="13.4" height="42.9" fill="#5a5a5a" stroke="#111" stroke-width="1.3"/>
<line x1="115.45" y1="390.8" x2="115.45" y2="392.35" stroke="#111" stroke-width="1.15"/>
<line x1="111.49" y1="390.8" x2="119.41" y2="390.8" stroke="#111" stroke-width="1.15"/>
<rect x="108.9" y="393" width="13.1" height="41.2" fill="#fff" stroke="#111" stroke-width="1.3"/>
<line x1="158.4" y1="382.5" x2="158.4" y2="385.85" stroke="#111" stroke-width="1.15"/>
<line x1="154.14" y1="382.5" x2="162.66" y2="382.5" stroke="#111" stroke-width="1.15"/>
<rect x="151.3" y="386.5" width="14.2" height="47.7" fill="#0a0a0a" stroke="#111" stroke-width="1.3"/>
<line x1="182.25" y1="406" x2="182.25" y2="408.45" stroke="#111" stroke-width="1.15"/>
<line x1="177.96" y1="406" x2="186.54" y2="406" stroke="#111" stroke-width="1.15"/>
<rect x="175.1" y="409.1" width="14.3" height="25.1" fill="#5a5a5a" stroke="#111" stroke-width="1.3"/>
<line x1="206.1" y1="406.8" x2="206.1" y2="411.65" stroke="#111" stroke-width="1.15"/>
<line x1="201.73" y1="406.8" x2="210.47" y2="406.8" stroke="#111" stroke-width="1.15"/>
<rect x="198.8" y="412.3" width="14.6" height="21.9" fill="#fff" stroke="#111" stroke-width="1.3"/>
<text x="68.5" y="342.5" font-size="14.5" text-anchor="middle" class="st">***</text>
<text x="159.3" y="381.2" font-size="14.5" text-anchor="middle" class="st">**</text>
<text x="91.5" y="448.8" font-size="11.3" text-anchor="middle">E:T=30:1</text>
<text x="184.7" y="448.6" font-size="10.5" text-anchor="middle">E:T=10:1</text>
<text x="30.6" y="377.5" font-size="10.4" text-anchor="middle" transform="rotate(-90 30.6 377.5)" textLength="51" lengthAdjust="spacingAndGlyphs">% of Killing</text>
<rect x="107.2" y="327.5" width="11.4" height="4" fill="#0a0a0a" stroke="#111" stroke-width="1"/>
<rect x="107.2" y="336.9" width="11.4" height="3.9" fill="#5a5a5a" stroke="#111" stroke-width="1"/>
<rect x="107.2" y="346.2" width="11.4" height="3.9" fill="#fff" stroke="#111" stroke-width="1"/>
<text x="123.6" y="332.6" font-size="9.6">mXCL1-GPC3</text>
<text x="123.2" y="341.9" font-size="9.6">GPC3</text>
<text x="123.4" y="351.2" font-size="9.6">U/I</text>
<line x1="65.8" y1="464.93" x2="65.8" y2="598.07" stroke="#111" stroke-width="1.35"/>
<line x1="62.8" y1="465.6" x2="65.8" y2="465.6" stroke="#111" stroke-width="1.35"/>
<text x="61.3" y="468.95" font-size="9.3" text-anchor="end">200</text>
<line x1="62.8" y1="531.5" x2="65.8" y2="531.5" stroke="#111" stroke-width="1.35"/>
<text x="61.3" y="534.85" font-size="9.3" text-anchor="end">100</text>
<line x1="62.8" y1="597.4" x2="65.8" y2="597.4" stroke="#111" stroke-width="1.35"/>
<text x="61.3" y="600.75" font-size="9.3" text-anchor="end">0</text>
<line x1="65.5" y1="597.4" x2="381.5" y2="597.4" stroke="#111" stroke-width="1.35"/>
<line x1="74.3" y1="526.3" x2="74.3" y2="539.65" stroke="#111" stroke-width="1.15"/>
<line x1="71.55" y1="526.3" x2="77.05" y2="526.3" stroke="#111" stroke-width="1.15"/>
<rect x="69.9" y="540.3" width="8.8" height="57.1" fill="#0a0a0a" stroke="#111" stroke-width="1.3"/>
<line x1="91.55" y1="574" x2="91.55" y2="583.35" stroke="#111" stroke-width="1.15"/>
<line x1="88.8" y1="574" x2="94.3" y2="574" stroke="#111" stroke-width="1.15"/>
<rect x="87.1" y="584" width="8.9" height="13.4" fill="#5a5a5a" stroke="#111" stroke-width="1.3"/>
<line x1="108.55" y1="577.3" x2="108.55" y2="583.85" stroke="#111" stroke-width="1.15"/>
<line x1="105.8" y1="577.3" x2="111.3" y2="577.3" stroke="#111" stroke-width="1.15"/>
<rect x="104.1" y="584.5" width="8.9" height="12.9" fill="#fff" stroke="#111" stroke-width="1.3"/>
<line x1="142.5" y1="543.4" x2="142.5" y2="552.15" stroke="#111" stroke-width="1.15"/>
<line x1="139.75" y1="543.4" x2="145.25" y2="543.4" stroke="#111" stroke-width="1.15"/>
<rect x="137.8" y="552.8" width="9.4" height="44.6" fill="#0a0a0a" stroke="#111" stroke-width="1.3"/>
<line x1="159.45" y1="584" x2="159.45" y2="587.15" stroke="#111" stroke-width="1.15"/>
<line x1="156.7" y1="584" x2="162.2" y2="584" stroke="#111" stroke-width="1.15"/>
<rect x="154.8" y="587.8" width="9.3" height="9.6" fill="#5a5a5a" stroke="#111" stroke-width="1.3"/>
<line x1="176.7" y1="585" x2="176.7" y2="587.85" stroke="#111" stroke-width="1.15"/>
<line x1="173.95" y1="585" x2="179.45" y2="585" stroke="#111" stroke-width="1.15"/>
<rect x="172" y="588.5" width="9.4" height="8.9" fill="#fff" stroke="#111" stroke-width="1.3"/>
<line x1="210.9" y1="524.6" x2="210.9" y2="542.25" stroke="#111" stroke-width="1.15"/>
<line x1="208.15" y1="524.6" x2="213.65" y2="524.6" stroke="#111" stroke-width="1.15"/>
<rect x="206.5" y="542.9" width="8.8" height="54.5" fill="#0a0a0a" stroke="#111" stroke-width="1.3"/>
<line x1="228" y1="563" x2="228" y2="571.55" stroke="#111" stroke-width="1.15"/>
<line x1="225.25" y1="563" x2="230.75" y2="563" stroke="#111" stroke-width="1.15"/>
<rect x="223.3" y="572.2" width="9.4" height="25.2" fill="#5a5a5a" stroke="#111" stroke-width="1.3"/>
<line x1="245.2" y1="563.6" x2="245.2" y2="571.55" stroke="#111" stroke-width="1.15"/>
<line x1="242.45" y1="563.6" x2="247.95" y2="563.6" stroke="#111" stroke-width="1.15"/>
<rect x="240.7" y="572.2" width="9" height="25.2" fill="#fff" stroke="#111" stroke-width="1.3"/>
<line x1="274.2" y1="500.6" x2="274.2" y2="518.55" stroke="#111" stroke-width="1.15"/>
<line x1="271.45" y1="500.6" x2="276.95" y2="500.6" stroke="#111" stroke-width="1.15"/>
<rect x="269.7" y="519.2" width="9" height="78.2" fill="#0a0a0a" stroke="#111" stroke-width="1.3"/>
<line x1="291.3" y1="572" x2="291.3" y2="574.55" stroke="#111" stroke-width="1.15"/>
<line x1="288.55" y1="572" x2="294.05" y2="572" stroke="#111" stroke-width="1.15"/>
<rect x="286.6" y="575.2" width="9.4" height="22.2" fill="#5a5a5a" stroke="#111" stroke-width="1.3"/>
<line x1="308.3" y1="571.7" x2="308.3" y2="578.25" stroke="#111" stroke-width="1.15"/>
<line x1="305.55" y1="571.7" x2="311.05" y2="571.7" stroke="#111" stroke-width="1.15"/>
<rect x="303.6" y="578.9" width="9.4" height="18.5" fill="#fff" stroke="#111" stroke-width="1.3"/>
<line x1="338.85" y1="475.6" x2="338.85" y2="493.45" stroke="#111" stroke-width="1.15"/>
<line x1="336.1" y1="475.6" x2="341.6" y2="475.6" stroke="#111" stroke-width="1.15"/>
<rect x="334.3" y="494.1" width="9.1" height="103.3" fill="#0a0a0a" stroke="#111" stroke-width="1.3"/>
<line x1="355.7" y1="527.3" x2="355.7" y2="538.15" stroke="#111" stroke-width="1.15"/>
<line x1="352.95" y1="527.3" x2="358.45" y2="527.3" stroke="#111" stroke-width="1.15"/>
<rect x="351.3" y="538.8" width="8.8" height="58.6" fill="#5a5a5a" stroke="#111" stroke-width="1.3"/>
<line x1="372.7" y1="524.6" x2="372.7" y2="541.35" stroke="#111" stroke-width="1.15"/>
<line x1="369.95" y1="524.6" x2="375.45" y2="524.6" stroke="#111" stroke-width="1.15"/>
<rect x="368.3" y="542" width="8.8" height="55.4" fill="#fff" stroke="#111" stroke-width="1.3"/>
<text x="74.3" y="526" font-size="14.5" text-anchor="middle" class="st">**</text>
<text x="142.8" y="544" font-size="14.5" text-anchor="middle" class="st">**</text>
<text x="210.3" y="524.5" font-size="14.5" text-anchor="middle" class="st">***</text>
<text x="274.5" y="501" font-size="14.5" text-anchor="middle" class="st">***</text>
<text x="339.8" y="476.7" font-size="14.5" text-anchor="middle" class="st">***</text>
<text x="90.3" y="612.3" font-size="10.3" text-anchor="middle">IFNγ</text>
<text x="158.4" y="611.5" font-size="10.3" text-anchor="middle">GrzB</text>
<text x="227.8" y="613" font-size="10.3" text-anchor="middle">CCL5</text>
<text x="292.2" y="611.5" font-size="10.3" text-anchor="middle">CXCL9</text>
<text x="353.9" y="611.5" font-size="10.3" text-anchor="middle">IL18</text>
<text x="27.3" y="537" font-size="10.4" text-anchor="middle" transform="rotate(-90 27.3 537)" textLength="106.5" lengthAdjust="spacingAndGlyphs">Cytokine concentration</text>
<text x="38.8" y="539" font-size="10.4" text-anchor="middle" transform="rotate(-90 38.8 539)" textLength="70" lengthAdjust="spacingAndGlyphs">(pg/mg protein)</text>
<rect x="75.9" y="469.6" width="11.9" height="4" fill="#0a0a0a" stroke="#111" stroke-width="1"/>
<rect x="75.9" y="482.5" width="11.9" height="4" fill="#5a5a5a" stroke="#111" stroke-width="1"/>
<rect x="75.9" y="495.2" width="11.9" height="4" fill="#fff" stroke="#111" stroke-width="1"/>
<text x="93.3" y="474.4" font-size="9.2">mXCL1-GPC3</text>
<text x="93.3" y="487.4" font-size="9.2">GPC3</text>
<text x="93.3" y="500.2" font-size="9.2">U/I</text>
<line x1="442.4" y1="467.32" x2="442.4" y2="598.07" stroke="#111" stroke-width="1.35"/>
<line x1="439.4" y1="468" x2="442.4" y2="468" stroke="#111" stroke-width="1.35"/>
<text x="437" y="471.35" font-size="9.3" text-anchor="end">0.15</text>
<line x1="439.4" y1="511.1" x2="442.4" y2="511.1" stroke="#111" stroke-width="1.35"/>
<text x="437" y="514.45" font-size="9.3" text-anchor="end">0.10</text>
<line x1="439.4" y1="554.3" x2="442.4" y2="554.3" stroke="#111" stroke-width="1.35"/>
<text x="437" y="557.65" font-size="9.3" text-anchor="end">0.05</text>
<line x1="439.4" y1="597.4" x2="442.4" y2="597.4" stroke="#111" stroke-width="1.35"/>
<text x="437" y="600.75" font-size="9.3" text-anchor="end">0</text>
<line x1="441.8" y1="597.4" x2="503" y2="597.4" stroke="#111" stroke-width="1.35"/>
<line x1="452" y1="508.7" x2="452" y2="513.65" stroke="#111" stroke-width="1.15"/>
<line x1="448.51" y1="508.7" x2="455.49" y2="508.7" stroke="#111" stroke-width="1.15"/>
<rect x="446.3" y="514.3" width="11.4" height="83.1" fill="#0a0a0a" stroke="#111" stroke-width="1.3"/>
<line x1="472.5" y1="563.6" x2="472.5" y2="567.85" stroke="#111" stroke-width="1.15"/>
<line x1="469.12" y1="563.6" x2="475.88" y2="563.6" stroke="#111" stroke-width="1.15"/>
<rect x="467" y="568.5" width="11" height="28.9" fill="#5a5a5a" stroke="#111" stroke-width="1.3"/>
<line x1="492.75" y1="566.6" x2="492.75" y2="571.85" stroke="#111" stroke-width="1.15"/>
<line x1="489.39" y1="566.6" x2="496.11" y2="566.6" stroke="#111" stroke-width="1.15"/>
<rect x="487.3" y="572.5" width="10.9" height="24.9" fill="#fff" stroke="#111" stroke-width="1.3"/>
<text x="452.3" y="505.2" font-size="12" text-anchor="middle" class="st">*</text>
<text x="474.8" y="611.9" font-size="10.3" text-anchor="middle" font-style="italic">Xcl1</text>
<text x="411.2" y="532.8" font-size="10.4" text-anchor="middle" transform="rotate(-90 411.2 532.8)" textLength="113.5" lengthAdjust="spacingAndGlyphs">mRNA relative to <tspan font-style="italic">Gapdh</tspan></text>
<text x="339" y="322.8" font-size="11.3" text-anchor="middle">mXCL1-GPC3</text>
<text x="459" y="323" font-size="11" text-anchor="middle">GPC3</text>
<text x="270.9" y="357.2" font-size="8.6" transform="rotate(-90 270.9 357.2)">CD3</text>
<line x1="268.7" y1="427" x2="268.7" y2="366.76" stroke="#111" stroke-width="1.35"/>
<path d="M268.7 364l-2.07 4.6h4.14z" fill="#111"/>
<line x1="293.8" y1="444.8" x2="450.74" y2="444.8" stroke="#111" stroke-width="1.35"/>
<path d="M453.5 444.8l-4.6 -2.07v4.14z" fill="#111"/>
<text x="464.8" y="448.2" font-size="8.8">NK1.1</text>
<path transform="translate(279 327.3) scale(0.33333)" d="M0 0m198 0h2v1h-2zm-13 1h2v1h-2zm13 0h2v1h-2zm-28 1h2v1h-2zm15 0h2v1h-2zm14 0h2v1h-2zm33 0h2v1h-2zm-62 1h2v1h-2zm29 0h2v1h-2zm6 0h3v1h-3zm27 0h2v1h-2zm-46 1h2v1h-2zm19 0h3v1h-3zm13 0h2v1h-2zm-32 1h2v1h-2zm22 0h2v1h-2zm10 0h2v1h-2zm3 0h2v1h-2zm-37 1h4v1h-4zm10 0h2v1h-2zm13 0h3v1h-3zm4 0h2v1h-2zm10 0h2v1h-2zm-37 1h2v1h-2zm10 0h4v1h-4zm13 0h2v1h-2zm4 0h2v1h-2zm-15 1h2v1h-2zm18 0h2v1h-2zm16 0h2v1h-2zm-61 1h2v1h-2zm12 0h2v1h-2zm5 0h2v1h-2zm16 0h2v1h-2zm12 0h2v1h-2zm16 0h2v1h-2zm-63 1h4v1h-4zm14 0h2v1h-2zm5 0h2v1h-2zm16 0h2v1h-2zm5 0h2v1h-2zm10 0h2v1h-2zm-50 1h2v1h-2zm15 0h2v1h-2zm15 0h2v1h-2zm8 0h4v1h-4zm5 0h2v1h-2zm7 0h2v1h-2zm-35 1h2v1h-2zm12 0h2v1h-2zm3 0h2v1h-2zm8 0h4v1h-4zm5 0h2v1h-2zm12 0h2v1h-2zm6 0h2v1h-2zm-48 1h2v1h-2zm14 0h2v1h-2zm12 0h4v1h-4zm16 0h2v1h-2zm6 0h2v1h-2zm-48 1h2v1h-2zm28 0h2v1h-2zm-71 1h2v1h-2zm24 0h2v1h-2zm18 0h2v1h-2zm19 0h2v1h-2zm9 0h4v1h-4zm-70 1h2v1h-2zm24 0h2v1h-2zm16 0h4v1h-4zm21 0h2v1h-2zm8 0h5v1h-5zm44 0h2v1h-2zm-73 1h2v1h-2zm9 0h2v1h-2zm13 0h2v1h-2zm6 0h3v1h-3zm34 0h2v1h-2zm11 0h2v1h-2zm-64 1h2v1h-2zm3 0h4v1h-4zm10 0h2v1h-2zm6 0h2v1h-2zm8 0h2v1h-2zm8 0h2v1h-2zm18 0h2v1h-2zm-50 1h4v1h-4zm24 0h2v1h-2zm3 0h2v1h-2zm5 0h2v1h-2zm82 0h2v1h-2zm-136 1h2v1h-2zm49 0h2v1h-2zm87 0h2v1h-2zm-195 1h2v1h-2zm16 0h2v1h-2zm43 0h2v1h-2zm17 0h2v1h-2zm34 0h2v1h-2zm-110 1h2v1h-2zm16 0h2v1h-2zm60 0h2v1h-2zm21 0h2v1h-2zm13 0h2v1h-2zm-24 1h2v1h-2zm11 0h2v1h-2zm11 0h2v1h-2zm-22 1h2v1h-2zm9 0h2v1h-2zm13 0h2v1h-2zm34 0h2v1h-2zm45 0h2v1h-2zm-149 1h2v1h-2zm28 0h2v1h-2zm25 0h2v1h-2zm4 0h2v1h-2zm12 0h2v1h-2zm13 0h2v1h-2zm22 0h2v1h-2zm45 0h2v1h-2zm-149 1h2v1h-2zm28 0h2v1h-2zm25 0h2v1h-2zm16 0h2v1h-2zm13 0h2v1h-2zm-69 1h2v1h-2zm12 0h2v1h-2zm11 0h2v1h-2zm6 0h2v1h-2zm-29 1h2v1h-2zm12 0h2v1h-2zm11 0h2v1h-2zm6 0h2v1h-2zm14 2h2v1h-2zm0 1h2v1h-2zm-82 4h2v1h-2zm0 1h2v1h-2zm16 0h2v1h-2zm12 0h2v1h-2zm3 0h2v1h-2zm-91 1h2v1h-2zm4 0h2v1h-2zm68 0h2v1h-2zm4 0h2v1h-2zm7 0h2v1h-2zm5 0h2v1h-2zm3 0h2v1h-2zm28 0h2v1h-2zm-119 1h2v1h-2zm4 0h2v1h-2zm49 0h2v1h-2zm19 0h2v1h-2zm11 0h2v1h-2zm36 0h2v1h-2zm74 0h2v1h-2zm-140 1h2v1h-2zm140 0h2v1h-2zm-197 1h2v1h-2zm37 0h2v1h-2zm20 0h2v1h-2zm-57 1h2v1h-2zm37 0h2v1h-2zm36 0h2v1h-2zm-65 1h2v1h-2zm32 0h2v1h-2zm33 0h2v1h-2zm-65 1h2v1h-2zm20 0h2v1h-2zm12 0h2v1h-2zm-12 1h2v1h-2zm24 0h2v1h-2zm-11 1h2v1h-2zm4 0h2v1h-2zm7 0h2v1h-2zm47 0h2v1h-2zm-65 1h2v1h-2zm7 0h6v1h-6zm8 0h2v1h-2zm27 0h2v1h-2zm23 0h2v1h-2zm-65 1h2v1h-2zm8 0h4v1h-4zm7 0h2v1h-2zm7 0h2v1h-2zm20 0h2v1h-2zm4 0h2v1h-2zm7 0h2v1h-2zm-114 1h2v1h-2zm46 0h2v1h-2zm15 0h2v1h-2zm22 0h2v1h-2zm4 0h2v1h-2zm20 0h2v1h-2zm7 0h2v1h-2zm5 0h2v1h-2zm21 0h2v1h-2zm24 0h2v1h-2zm17 0h2v1h-2zm-181 1h2v1h-2zm15 0h3v1h-3zm27 0h2v1h-2zm4 0h2v1h-2zm15 0h2v1h-2zm19 0h2v1h-2zm7 0h2v1h-2zm9 0h2v1h-2zm17 0h2v1h-2zm6 0h2v1h-2zm21 0h2v1h-2zm12 0h2v1h-2zm12 0h2v1h-2zm17 0h2v1h-2zm-166 1h3v1h-3zm24 0h2v1h-2zm3 0h2v1h-2zm5 0h2v1h-2zm9 0h2v1h-2zm8 0h2v1h-2zm9 0h2v1h-2zm7 0h2v1h-2zm16 0h2v1h-2zm13 0h2v1h-2zm4 0h2v1h-2zm39 0h2v1h-2zm26 0h2v1h-2zm43 0h2v1h-2zm14 0h2v1h-2zm-196 1h2v1h-2zm4 0h2v1h-2zm4 0h2v1h-2zm9 0h2v1h-2zm8 0h2v1h-2zm9 0h2v1h-2zm17 0h2v1h-2zm3 0h2v1h-2zm8 0h4v1h-4zm5 0h2v1h-2zm3 0h2v1h-2zm69 0h2v1h-2zm42 0h3v1h-3zm15 0h2v1h-2zm-213 1h2v1h-2zm21 0h2v1h-2zm14 0h2v1h-2zm9 0h3v1h-3zm5 0h4v1h-4zm19 0h2v1h-2zm3 0h2v1h-2zm8 0h4v1h-4zm5 0h2v1h-2zm3 0h2v1h-2zm5 0h2v1h-2zm106 0h2v1h-2zm-198 1h2v1h-2zm34 0h3v1h-3zm4 0h2v1h-2zm6 0h3v1h-3zm4 0h5v1h-5zm10 0h2v1h-2zm4 0h2v1h-2zm5 0h2v1h-2zm6 0h2v1h-2zm11 0h2v1h-2zm3 0h4v1h-4zm5 0h2v1h-2zm7 0h2v1h-2zm8 0h2v1h-2zm116 0h2v1h-2zm37 0h2v1h-2zm-271 1h2v1h-2zm35 0h2v1h-2zm10 0h2v1h-2zm4 0h2v1h-2zm10 0h2v1h-2zm3 0h3v1h-3zm6 0h3v1h-3zm5 0h2v1h-2zm5 0h5v1h-5zm6 0h2v1h-2zm6 0h2v1h-2zm5 0h2v1h-2zm5 0h2v1h-2zm10 0h2v1h-2zm8 0h2v1h-2zm66 0h2v1h-2zm9 0h2v1h-2zm17 0h2v1h-2zm24 0h2v1h-2zm37 0h2v1h-2zm-271 1h2v1h-2zm35 0h2v1h-2zm9 0h2v1h-2zm19 0h2v1h-2zm5 0h2v1h-2zm11 0h4v1h-4zm11 0h2v1h-2zm5 0h2v1h-2zm8 0h2v1h-2zm7 0h4v1h-4zm5 0h3v1h-3zm69 0h2v1h-2zm9 0h2v1h-2zm13 0h2v1h-2zm4 0h2v1h-2zm37 0h6v1h-6zm-224 1h2v1h-2zm21 0h2v1h-2zm7 0h2v1h-2zm5 0h2v1h-2zm5 0h2v1h-2zm7 0h2v1h-2zm5 0h4v1h-4zm6 0h4v1h-4zm6 0h4v1h-4zm10 0h3v1h-3zm8 0h2v1h-2zm7 0h4v1h-4zm5 0h3v1h-3zm13 0h4v1h-4zm78 0h2v1h-2zm34 0h2v1h-2zm7 0h6v1h-6zm-224 1h2v1h-2zm12 0h2v1h-2zm3 0h2v1h-2zm12 0h3v1h-3zm6 0h2v1h-2zm5 0h3v1h-3zm7 0h4v1h-4zm5 0h10v1h-10zm12 0h5v1h-5zm10 0h3v1h-3zm14 0h2v1h-2zm19 0h4v1h-4zm89 0h2v1h-2zm23 0h2v1h-2zm-243 1h3v1h-3zm29 0h2v1h-2zm9 0h2v1h-2zm3 0h2v1h-2zm12 0h3v1h-3zm6 0h2v1h-2zm6 0h2v1h-2zm6 0h4v1h-4zm5 0h2v1h-2zm4 0h2v1h-2zm4 0h2v1h-2zm5 0h4v1h-4zm9 0h3v1h-3zm6 0h2v1h-2zm8 0h3v1h-3zm13 0h2v1h-2zm37 0h2v1h-2zm58 0h2v1h-2zm21 0h2v1h-2zm-252 1h2v1h-2zm11 0h3v1h-3zm29 0h4v1h-4zm7 0h6v1h-6zm7 0h2v1h-2zm4 0h4v1h-4zm7 0h2v1h-2zm5 0h3v1h-3zm10 0h2v1h-2zm3 0h2v1h-2zm3 0h3v1h-3zm6 0h2v1h-2zm3 0h7v1h-7zm13 0h2v1h-2zm7 0h2v1h-2zm5 0h2v1h-2zm4 0h2v1h-2zm12 0h2v1h-2zm37 0h2v1h-2zm40 0h2v1h-2zm29 0h2v1h-2zm10 0h2v1h-2zm-252 1h2v1h-2zm4 0h2v1h-2zm30 0h2v1h-2zm8 0h2v1h-2zm4 0h7v1h-7zm8 0h2v1h-2zm4 0h4v1h-4zm6 0h3v1h-3zm4 0h2v1h-2zm3 0h2v1h-2zm9 0h3v1h-3zm6 0h2v1h-2zm6 0h2v1h-2zm5 0h5v1h-5zm11 0h2v1h-2zm12 0h2v1h-2zm3 0h3v1h-3zm9 0h2v1h-2zm18 0h2v1h-2zm13 0h2v1h-2zm6 0h2v1h-2zm44 0h2v1h-2zm29 0h2v1h-2zm-238 1h2v1h-2zm30 0h2v1h-2zm12 0h2v1h-2zm7 0h4v1h-4zm5 0h2v1h-2zm5 0h7v1h-7zm14 0h2v1h-2zm4 0h4v1h-4zm16 0h2v1h-2zm23 0h2v1h-2zm3 0h5v1h-5zm9 0h2v1h-2zm18 0h2v1h-2zm13 0h2v1h-2zm6 0h2v1h-2zm8 0h2v1h-2zm24 0h2v1h-2zm19 0h2v1h-2zm19 0h2v1h-2zm-206 1h2v1h-2zm20 0h7v1h-7zm10 0h2v1h-2zm3 0h2v1h-2zm8 0h2v1h-2zm3 0h2v1h-2zm6 0h2v1h-2zm5 0h2v1h-2zm7 0h5v1h-5zm8 0h2v1h-2zm15 0h3v1h-3zm8 0h2v1h-2zm51 0h2v1h-2zm24 0h2v1h-2zm19 0h4v1h-4zm19 0h2v1h-2zm-216 1h2v1h-2zm10 0h2v1h-2zm7 0h2v1h-2zm16 0h2v1h-2zm9 0h2v1h-2zm6 0h2v1h-2zm3 0h2v1h-2zm14 0h4v1h-4zm7 0h13v1h-13zm23 0h3v1h-3zm4 0h2v1h-2zm3 0h4v1h-4zm8 0h2v1h-2zm30 0h2v1h-2zm25 0h2v1h-2zm14 0h2v1h-2zm8 0h2v1h-2zm12 0h2v1h-2zm10 0h2v1h-2zm-209 1h2v1h-2zm3 0h2v1h-2zm3 0h2v1h-2zm11 0h2v1h-2zm3 0h2v1h-2zm9 0h2v1h-2zm4 0h2v1h-2zm8 0h3v1h-3zm7 0h2v1h-2zm3 0h2v1h-2zm4 0h2v1h-2zm3 0h2v1h-2zm8 0h3v1h-3zm11 0h3v1h-3zm4 0h4v1h-4zm5 0h4v1h-4zm10 0h2v1h-2zm3 0h2v1h-2zm3 0h4v1h-4zm8 0h5v1h-5zm24 0h3v1h-3zm6 0h2v1h-2zm3 0h2v1h-2zm18 0h2v1h-2zm4 0h2v1h-2zm3 0h2v1h-2zm8 0h2v1h-2zm3 0h2v1h-2zm6 0h4v1h-4zm6 0h2v1h-2zm18 0h2v1h-2zm9 0h2v1h-2zm5 0h2v1h-2zm7 0h2v1h-2zm14 0h2v1h-2zm-252 1h2v1h-2zm11 0h2v1h-2zm3 0h2v1h-2zm5 0h2v1h-2zm3 0h5v1h-5zm6 0h2v1h-2zm5 0h3v1h-3zm4 0h4v1h-4zm7 0h2v1h-2zm5 0h2v1h-2zm4 0h2v1h-2zm6 0h2v1h-2zm4 0h5v1h-5zm11 0h3v1h-3zm7 0h2v1h-2zm5 0h2v1h-2zm8 0h6v1h-6zm9 0h2v1h-2zm4 0h4v1h-4zm13 0h3v1h-3zm22 0h3v1h-3zm7 0h4v1h-4zm15 0h2v1h-2zm3 0h4v1h-4zm9 0h2v1h-2zm8 0h2v1h-2zm9 0h2v1h-2zm3 0h2v1h-2zm3 0h2v1h-2zm3 0h2v1h-2zm3 0h5v1h-5zm21 0h4v1h-4zm5 0h2v1h-2zm7 0h3v1h-3zm14 0h2v1h-2zm-256 1h2v1h-2zm4 0h2v1h-2zm14 0h2v1h-2zm5 0h2v1h-2zm3 0h5v1h-5zm11 0h5v1h-5zm6 0h2v1h-2zm5 0h4v1h-4zm9 0h2v1h-2zm9 0h2v1h-2zm3 0h2v1h-2zm3 0h2v1h-2zm4 0h5v1h-5zm7 0h5v1h-5zm7 0h2v1h-2zm3 0h2v1h-2zm7 0h4v1h-4zm7 0h2v1h-2zm6 0h2v1h-2zm22 0h3v1h-3zm10 0h4v1h-4zm8 0h2v1h-2zm13 0h4v1h-4zm5 0h3v1h-3zm6 0h2v1h-2zm9 0h2v1h-2zm14 0h3v1h-3zm5 0h3v1h-3zm4 0h5v1h-5zm13 0h5v1h-5zm10 0h2v1h-2zm3 0h2v1h-2zm8 0h2v1h-2zm5 0h2v1h-2zm3 0h2v1h-2zm20 0h2v1h-2zm9 0h2v1h-2zm-284 1h2v1h-2zm4 0h2v1h-2zm18 0h2v1h-2zm5 0h2v1h-2zm17 0h2v1h-2zm10 0h2v1h-2zm16 0h3v1h-3zm5 0h20v1h-20zm22 0h2v1h-2zm3 0h2v1h-2zm12 0h3v1h-3zm5 0h2v1h-2zm12 0h2v1h-2zm10 0h3v1h-3zm10 0h3v1h-3zm9 0h3v1h-3zm12 0h2v1h-2zm5 0h3v1h-3zm6 0h3v1h-3zm9 0h2v1h-2zm8 0h2v1h-2zm6 0h3v1h-3zm5 0h3v1h-3zm17 0h5v1h-5zm13 0h2v1h-2zm6 0h2v1h-2zm7 0h5v1h-5zm23 0h2v1h-2zm9 0h2v1h-2zm-284 1h2v1h-2zm27 0h2v1h-2zm4 0h2v1h-2zm4 0h6v1h-6zm10 0h2v1h-2zm5 0h2v1h-2zm6 0h4v1h-4zm8 0h2v1h-2zm4 0h13v1h-13zm15 0h4v1h-4zm5 0h2v1h-2zm3 0h6v1h-6zm9 0h3v1h-3zm5 0h4v1h-4zm6 0h8v1h-8zm11 0h3v1h-3zm7 0h3v1h-3zm9 0h4v1h-4zm20 0h5v1h-5zm17 0h2v1h-2zm6 0h3v1h-3zm4 0h4v1h-4zm9 0h2v1h-2zm4 0h2v1h-2zm3 0h2v1h-2zm3 0h2v1h-2zm6 0h4v1h-4zm5 0h2v1h-2zm13 0h2v1h-2zm8 0h2v1h-2zm3 0h3v1h-3zm5 0h3v1h-3zm9 0h2v1h-2zm15 0h2v1h-2zm8 0h2v1h-2zm-250 1h2v1h-2zm5 0h2v1h-2zm4 0h6v1h-6zm8 0h4v1h-4zm7 0h3v1h-3zm4 0h6v1h-6zm8 0h17v1h-17zm19 0h2v1h-2zm4 0h2v1h-2zm3 0h4v1h-4zm6 0h3v1h-3zm6 0h3v1h-3zm5 0h4v1h-4zm6 0h2v1h-2zm4 0h3v1h-3zm4 0h9v1h-9zm11 0h2v1h-2zm7 0h5v1h-5zm6 0h3v1h-3zm11 0h2v1h-2zm4 0h6v1h-6zm8 0h4v1h-4zm5 0h2v1h-2zm4 0h2v1h-2zm4 0h5v1h-5zm6 0h4v1h-4zm7 0h4v1h-4zm8 0h3v1h-3zm4 0h4v1h-4zm6 0h4v1h-4zm5 0h3v1h-3zm7 0h3v1h-3zm6 0h3v1h-3zm6 0h4v1h-4zm6 0h6v1h-6zm10 0h2v1h-2zm18 0h2v1h-2zm8 0h2v1h-2zm-288 1h2v1h-2zm24 0h2v1h-2zm10 0h2v1h-2zm3 0h3v1h-3zm6 0h2v1h-2zm6 0h4v1h-4zm6 0h2v1h-2zm8 0h9v1h-9zm10 0h8v1h-8zm10 0h16v1h-16zm18 0h8v1h-8zm9 0h5v1h-5zm9 0h4v1h-4zm5 0h16v1h-16zm25 0h2v1h-2zm6 0h3v1h-3zm11 0h6v1h-6zm7 0h3v1h-3zm5 0h7v1h-7zm9 0h2v1h-2zm3 0h3v1h-3zm4 0h5v1h-5zm7 0h2v1h-2zm3 0h10v1h-10zm12 0h4v1h-4zm6 0h5v1h-5zm6 0h4v1h-4zm5 0h4v1h-4zm7 0h5v1h-5zm6 0h2v1h-2zm6 0h5v1h-5zm10 0h2v1h-2zm6 0h2v1h-2zm7 0h2v1h-2zm11 0h2v1h-2zm-302 1h2v1h-2zm16 0h2v1h-2zm5 0h2v1h-2zm6 0h2v1h-2zm13 0h2v1h-2zm10 0h2v1h-2zm3 0h5v1h-5zm6 0h2v1h-2zm8 0h2v1h-2zm7 0h4v1h-4zm6 0h4v1h-4zm5 0h3v1h-3zm4 0h11v1h-11zm12 0h15v1h-15zm17 0h6v1h-6zm8 0h2v1h-2zm4 0h4v1h-4zm5 0h4v1h-4zm5 0h10v1h-10zm13 0h2v1h-2zm12 0h2v1h-2zm10 0h4v1h-4zm5 0h2v1h-2zm3 0h5v1h-5zm7 0h2v1h-2zm4 0h3v1h-3zm4 0h4v1h-4zm5 0h2v1h-2zm3 0h3v1h-3zm5 0h8v1h-8zm9 0h11v1h-11zm15 0h8v1h-8zm10 0h6v1h-6zm9 0h2v1h-2zm3 0h5v1h-5zm18 0h2v1h-2zm4 0h2v1h-2zm5 0h2v1h-2zm7 0h2v1h-2zm11 0h2v1h-2zm-302 1h2v1h-2zm21 0h2v1h-2zm6 0h2v1h-2zm3 0h2v1h-2zm6 0h2v1h-2zm19 0h3v1h-3zm9 0h2v1h-2zm4 0h2v1h-2zm6 0h4v1h-4zm5 0h2v1h-2zm3 0h2v1h-2zm5 0h2v1h-2zm3 0h10v1h-10zm11 0h15v1h-15zm17 0h10v1h-10zm11 0h11v1h-11zm18 0h14v1h-14zm15 0h2v1h-2zm3 0h2v1h-2zm10 0h4v1h-4zm5 0h2v1h-2zm10 0h2v1h-2zm3 0h2v1h-2zm3 0h6v1h-6zm7 0h2v1h-2zm3 0h11v1h-11zm15 0h2v1h-2zm8 0h3v1h-3zm6 0h8v1h-8zm10 0h2v1h-2zm3 0h9v1h-9zm12 0h2v1h-2zm10 0h2v1h-2zm3 0h9v1h-9zm13 0h2v1h-2zm-284 1h2v1h-2zm7 0h2v1h-2zm21 0h2v1h-2zm6 0h2v1h-2zm12 0h2v1h-2zm16 0h2v1h-2zm4 0h2v1h-2zm6 0h2v1h-2zm5 0h2v1h-2zm8 0h2v1h-2zm5 0h2v1h-2zm3 0h2v1h-2zm7 0h2v1h-2zm3 0h2v1h-2zm4 0h19v1h-19zm20 0h6v1h-6zm7 0h4v1h-4zm8 0h2v1h-2zm3 0h14v1h-14zm15 0h3v1h-3zm4 0h2v1h-2zm9 0h2v1h-2zm14 0h3v1h-3zm4 0h2v1h-2zm3 0h6v1h-6zm7 0h2v1h-2zm3 0h2v1h-2zm3 0h2v1h-2zm3 0h3v1h-3zm4 0h2v1h-2zm4 0h4v1h-4zm6 0h2v1h-2zm3 0h4v1h-4zm5 0h2v1h-2zm5 0h4v1h-4zm7 0h8v1h-8zm9 0h2v1h-2zm4 0h2v1h-2zm11 0h2v1h-2zm3 0h2v1h-2zm3 0h3v1h-3zm4 0h2v1h-2zm4 0h4v1h-4zm18 0h2v1h-2zm-300 1h2v1h-2zm7 0h2v1h-2zm6 0h2v1h-2zm4 0h2v1h-2zm8 0h2v1h-2zm3 0h2v1h-2zm18 0h2v1h-2zm6 0h2v1h-2zm10 0h2v1h-2zm11 0h2v1h-2zm8 0h3v1h-3zm5 0h2v1h-2zm4 0h5v1h-5zm6 0h2v1h-2zm3 0h2v1h-2zm4 0h3v1h-3zm5 0h24v1h-24zm25 0h8v1h-8zm9 0h2v1h-2zm3 0h4v1h-4zm6 0h6v1h-6zm7 0h8v1h-8zm15 0h2v1h-2zm3 0h6v1h-6zm7 0h6v1h-6zm13 0h5v1h-5zm11 0h16v1h-16zm17 0h7v1h-7zm8 0h2v1h-2zm3 0h5v1h-5zm7 0h6v1h-6zm7 0h4v1h-4zm5 0h2v1h-2zm3 0h3v1h-3zm4 0h6v1h-6zm9 0h2v1h-2zm4 0h6v1h-6zm8 0h2v1h-2zm18 0h2v1h-2zm-287 1h2v1h-2zm4 0h2v1h-2zm8 0h2v1h-2zm3 0h2v1h-2zm19 0h2v1h-2zm5 0h2v1h-2zm11 0h3v1h-3zm10 0h4v1h-4zm5 0h2v1h-2zm3 0h20v1h-20zm22 0h3v1h-3zm4 0h18v1h-18zm19 0h3v1h-3zm7 0h8v1h-8zm11 0h4v1h-4zm8 0h5v1h-5zm6 0h2v1h-2zm5 0h3v1h-3zm9 0h2v1h-2zm3 0h13v1h-13zm15 0h2v1h-2zm5 0h6v1h-6zm8 0h12v1h-12zm13 0h2v1h-2zm5 0h2v1h-2zm4 0h12v1h-12zm13 0h11v1h-11zm13 0h2v1h-2zm3 0h2v1h-2zm4 0h9v1h-9zm12 0h2v1h-2zm6 0h4v1h-4zm13 0h2v1h-2zm4 0h2v1h-2zm-263 1h2v1h-2zm11 0h3v1h-3zm6 0h2v1h-2zm13 0h8v1h-8zm9 0h2v1h-2zm5 0h3v1h-3zm4 0h2v1h-2zm3 0h6v1h-6zm7 0h21v1h-21zm22 0h2v1h-2zm6 0h8v1h-8zm9 0h2v1h-2zm5 0h5v1h-5zm7 0h6v1h-6zm7 0h4v1h-4zm13 0h3v1h-3zm8 0h2v1h-2zm5 0h4v1h-4zm5 0h3v1h-3zm6 0h6v1h-6zm7 0h4v1h-4zm7 0h12v1h-12zm13 0h3v1h-3zm4 0h7v1h-7zm10 0h2v1h-2zm6 0h9v1h-9zm10 0h13v1h-13zm14 0h4v1h-4zm7 0h4v1h-4zm5 0h2v1h-2zm13 0h3v1h-3zm4 0h2v1h-2zm8 0h2v1h-2zm4 0h2v1h-2zm15 0h2v1h-2zm-278 1h2v1h-2zm7 0h7v1h-7zm19 0h8v1h-8zm10 0h2v1h-2zm3 0h8v1h-8zm9 0h2v1h-2zm5 0h5v1h-5zm6 0h18v1h-18zm20 0h10v1h-10zm12 0h13v1h-13zm14 0h9v1h-9zm11 0h4v1h-4zm11 0h3v1h-3zm4 0h2v1h-2zm3 0h5v1h-5zm6 0h6v1h-6zm11 0h6v1h-6zm7 0h4v1h-4zm9 0h2v1h-2zm4 0h5v1h-5zm8 0h2v1h-2zm5 0h7v1h-7zm8 0h2v1h-2zm6 0h3v1h-3zm4 0h12v1h-12zm14 0h5v1h-5zm6 0h2v1h-2zm4 0h5v1h-5zm19 0h5v1h-5zm6 0h2v1h-2zm3 0h2v1h-2zm12 0h2v1h-2zm8 0h2v1h-2zm4 0h2v1h-2zm-271 1h6v1h-6zm12 0h2v1h-2zm7 0h5v1h-5zm8 0h2v1h-2zm4 0h6v1h-6zm7 0h2v1h-2zm3 0h2v1h-2zm3 0h7v1h-7zm8 0h13v1h-13zm15 0h2v1h-2zm3 0h12v1h-12zm13 0h11v1h-11zm12 0h8v1h-8zm10 0h2v1h-2zm3 0h8v1h-8zm11 0h7v1h-7zm8 0h2v1h-2zm3 0h3v1h-3zm5 0h4v1h-4zm6 0h2v1h-2zm13 0h3v1h-3zm4 0h2v1h-2zm6 0h3v1h-3zm6 0h10v1h-10zm11 0h31v1h-31zm33 0h2v1h-2zm5 0h5v1h-5zm6 0h2v1h-2zm7 0h2v1h-2zm6 0h2v1h-2zm9 0h2v1h-2zm12 0h2v1h-2zm8 0h2v1h-2zm-265 1h6v1h-6zm10 0h2v1h-2zm7 0h2v1h-2zm8 0h7v1h-7zm10 0h2v1h-2zm4 0h11v1h-11zm15 0h8v1h-8zm9 0h17v1h-17zm18 0h7v1h-7zm9 0h10v1h-10zm12 0h13v1h-13zm15 0h3v1h-3zm4 0h3v1h-3zm4 0h2v1h-2zm4 0h8v1h-8zm9 0h9v1h-9zm13 0h7v1h-7zm8 0h2v1h-2zm3 0h5v1h-5zm6 0h8v1h-8zm12 0h10v1h-10zm11 0h7v1h-7zm8 0h8v1h-8zm9 0h2v1h-2zm3 0h3v1h-3zm4 0h4v1h-4zm7 0h5v1h-5zm8 0h10v1h-10zm12 0h2v1h-2zm14 0h2v1h-2zm3 0h2v1h-2zm-288 1h2v1h-2zm5 0h2v1h-2zm16 0h2v1h-2zm12 0h3v1h-3zm10 0h2v1h-2zm3 0h2v1h-2zm3 0h2v1h-2zm7 0h4v1h-4zm8 0h2v1h-2zm5 0h10v1h-10zm13 0h3v1h-3zm4 0h3v1h-3zm5 0h22v1h-22zm23 0h2v1h-2zm5 0h3v1h-3zm8 0h2v1h-2zm4 0h7v1h-7zm8 0h5v1h-5zm8 0h2v1h-2zm3 0h5v1h-5zm6 0h13v1h-13zm14 0h9v1h-9zm10 0h6v1h-6zm8 0h2v1h-2zm3 0h5v1h-5zm7 0h3v1h-3zm4 0h2v1h-2zm7 0h2v1h-2zm3 0h11v1h-11zm12 0h11v1h-11zm13 0h10v1h-10zm11 0h2v1h-2zm3 0h5v1h-5zm6 0h8v1h-8zm10 0h6v1h-6zm18 0h2v1h-2zm3 0h2v1h-2zm15 0h1v1h-1zm-318 1h2v1h-2zm15 0h2v1h-2zm5 0h2v1h-2zm16 0h2v1h-2zm13 0h2v1h-2zm3 0h2v1h-2zm6 0h3v1h-3zm4 0h4v1h-4zm9 0h5v1h-5zm7 0h4v1h-4zm9 0h13v1h-13zm14 0h2v1h-2zm5 0h31v1h-31zm37 0h2v1h-2zm4 0h3v1h-3zm4 0h2v1h-2zm3 0h2v1h-2zm3 0h2v1h-2zm3 0h2v1h-2zm5 0h5v1h-5zm6 0h2v1h-2zm4 0h2v1h-2zm4 0h4v1h-4zm9 0h8v1h-8zm9 0h11v1h-11zm12 0h2v1h-2zm3 0h3v1h-3zm5 0h2v1h-2zm6 0h3v1h-3zm4 0h18v1h-18zm20 0h2v1h-2zm4 0h27v1h-27zm32 0h4v1h-4zm17 0h2v1h-2zm18 0h1v1h-1zm-318 1h2v1h-2zm40 0h2v1h-2zm9 0h2v1h-2zm3 0h2v1h-2zm5 0h11v1h-11zm14 0h11v1h-11zm14 0h14v1h-14zm15 0h2v1h-2zm3 0h23v1h-23zm24 0h11v1h-11zm15 0h3v1h-3zm5 0h3v1h-3zm10 0h5v1h-5zm7 0h5v1h-5zm6 0h2v1h-2zm10 0h2v1h-2zm5 0h7v1h-7zm9 0h2v1h-2zm3 0h11v1h-11zm12 0h2v1h-2zm3 0h6v1h-6zm7 0h23v1h-23zm24 0h3v1h-3zm5 0h12v1h-12zm13 0h8v1h-8zm9 0h8v1h-8zm11 0h6v1h-6zm9 0h2v1h-2zm10 0h2v1h-2zm3 0h2v1h-2zm4 0h2v1h-2zm-297 1h2v1h-2zm30 0h2v1h-2zm8 0h2v1h-2zm3 0h2v1h-2zm6 0h3v1h-3zm4 0h8v1h-8zm14 0h7v1h-7zm8 0h11v1h-11zm13 0h6v1h-6zm7 0h12v1h-12zm13 0h15v1h-15zm17 0h8v1h-8zm9 0h10v1h-10zm11 0h2v1h-2zm3 0h6v1h-6zm8 0h8v1h-8zm16 0h2v1h-2zm5 0h3v1h-3zm8 0h4v1h-4zm6 0h2v1h-2zm5 0h3v1h-3zm4 0h24v1h-24zm26 0h26v1h-26zm27 0h4v1h-4zm5 0h3v1h-3zm7 0h5v1h-5zm8 0h7v1h-7zm8 0h5v1h-5zm11 0h6v1h-6zm7 0h2v1h-2zm-297 1h2v1h-2zm24 0h2v1h-2zm14 0h2v1h-2zm3 0h3v1h-3zm4 0h2v1h-2zm3 0h5v1h-5zm9 0h2v1h-2zm10 0h5v1h-5zm6 0h12v1h-12zm14 0h18v1h-18zm19 0h4v1h-4zm5 0h10v1h-10zm12 0h3v1h-3zm5 0h3v1h-3zm6 0h8v1h-8zm9 0h2v1h-2zm3 0h5v1h-5zm9 0h3v1h-3zm4 0h2v1h-2zm3 0h2v1h-2zm7 0h2v1h-2zm5 0h2v1h-2zm4 0h3v1h-3zm4 0h5v1h-5zm6 0h4v1h-4zm6 0h3v1h-3zm4 0h5v1h-5zm6 0h2v1h-2zm4 0h4v1h-4zm9 0h3v1h-3zm5 0h23v1h-23zm25 0h2v1h-2zm3 0h4v1h-4zm6 0h13v1h-13zm16 0h12v1h-12zm18 0h3v1h-3zm4 0h3v1h-3zm8 0h2v1h-2zm3 0h2v1h-2zm-287 1h2v1h-2zm6 0h2v1h-2zm3 0h2v1h-2zm5 0h4v1h-4zm5 0h2v1h-2zm4 0h3v1h-3zm4 0h2v1h-2zm4 0h6v1h-6zm11 0h2v1h-2zm3 0h2v1h-2zm3 0h2v1h-2zm3 0h2v1h-2zm5 0h5v1h-5zm6 0h5v1h-5zm6 0h28v1h-28zm29 0h3v1h-3zm8 0h10v1h-10zm11 0h2v1h-2zm3 0h8v1h-8zm10 0h6v1h-6zm7 0h5v1h-5zm8 0h2v1h-2zm5 0h4v1h-4zm7 0h2v1h-2zm4 0h3v1h-3zm4 0h11v1h-11zm13 0h3v1h-3zm4 0h8v1h-8zm9 0h5v1h-5zm8 0h3v1h-3zm5 0h20v1h-20zm21 0h7v1h-7zm8 0h3v1h-3zm7 0h6v1h-6zm8 0h5v1h-5zm8 0h4v1h-4zm5 0h6v1h-6zm11 0h2v1h-2zm3 0h2v1h-2zm3 0h2v1h-2zm7 0h2v1h-2zm3 0h2v1h-2zm-287 1h2v1h-2zm9 0h2v1h-2zm5 0h7v1h-7zm21 0h2v1h-2zm3 0h2v1h-2zm4 0h2v1h-2zm3 0h5v1h-5zm6 0h7v1h-7zm8 0h35v1h-35zm37 0h3v1h-3zm5 0h2v1h-2zm4 0h10v1h-10zm12 0h3v1h-3zm4 0h6v1h-6zm7 0h10v1h-10zm11 0h4v1h-4zm6 0h2v1h-2zm4 0h3v1h-3zm11 0h5v1h-5zm6 0h10v1h-10zm11 0h15v1h-15zm16 0h7v1h-7zm8 0h12v1h-12zm13 0h7v1h-7zm10 0h12v1h-12zm15 0h6v1h-6zm9 0h10v1h-10zm13 0h5v1h-5zm10 0h2v1h-2zm3 0h2v1h-2zm-280 1h2v1h-2zm16 0h6v1h-6zm8 0h2v1h-2zm12 0h2v1h-2zm8 0h2v1h-2zm8 0h18v1h-18zm20 0h28v1h-28zm30 0h3v1h-3zm4 0h3v1h-3zm5 0h15v1h-15zm20 0h18v1h-18zm20 0h2v1h-2zm5 0h3v1h-3zm4 0h5v1h-5zm8 0h6v1h-6zm7 0h7v1h-7zm8 0h8v1h-8zm11 0h4v1h-4zm6 0h6v1h-6zm7 0h13v1h-13zm14 0h26v1h-26zm28 0h2v1h-2zm5 0h10v1h-10zm11 0h6v1h-6zm13 0h2v1h-2zm-289 1h2v1h-2zm11 0h2v1h-2zm16 0h6v1h-6zm11 0h2v1h-2zm5 0h6v1h-6zm8 0h2v1h-2zm8 0h2v1h-2zm6 0h8v1h-8zm9 0h27v1h-27zm28 0h9v1h-9zm11 0h8v1h-8zm10 0h11v1h-11zm12 0h4v1h-4zm6 0h9v1h-9zm13 0h7v1h-7zm8 0h5v1h-5zm6 0h2v1h-2zm3 0h7v1h-7zm9 0h13v1h-13zm14 0h2v1h-2zm6 0h4v1h-4zm5 0h4v1h-4zm5 0h21v1h-21zm22 0h24v1h-24zm25 0h2v1h-2zm6 0h12v1h-12zm13 0h2v1h-2zm4 0h2v1h-2zm7 0h6v1h-6zm-297 1h2v1h-2zm10 0h3v1h-3zm25 0h2v1h-2zm7 0h4v1h-4zm6 0h2v1h-2zm5 0h4v1h-4zm8 0h2v1h-2zm3 0h4v1h-4zm5 0h2v1h-2zm4 0h8v1h-8zm9 0h4v1h-4zm7 0h22v1h-22zm23 0h19v1h-19zm21 0h4v1h-4zm5 0h6v1h-6zm9 0h15v1h-15zm17 0h13v1h-13zm19 0h5v1h-5zm7 0h8v1h-8zm11 0h2v1h-2zm4 0h5v1h-5zm6 0h8v1h-8zm9 0h2v1h-2zm3 0h18v1h-18zm20 0h2v1h-2zm3 0h9v1h-9zm14 0h16v1h-16zm17 0h2v1h-2zm3 0h5v1h-5zm7 0h2v1h-2zm3 0h3v1h-3zm7 0h2v1h-2zm4 0h2v1h-2zm-301 1h3v1h-3zm11 0h2v1h-2zm22 0h4v1h-4zm9 0h4v1h-4zm5 0h3v1h-3zm6 0h2v1h-2zm7 0h26v1h-26zm29 0h16v1h-16zm17 0h10v1h-10zm11 0h3v1h-3zm4 0h12v1h-12zm13 0h7v1h-7zm8 0h14v1h-14zm15 0h5v1h-5zm7 0h8v1h-8zm9 0h3v1h-3zm4 0h2v1h-2zm6 0h5v1h-5zm6 0h7v1h-7zm13 0h8v1h-8zm9 0h34v1h-34zm36 0h7v1h-7zm9 0h18v1h-18zm19 0h4v1h-4zm5 0h4v1h-4zm5 0h4v1h-4zm5 0h3v1h-3zm7 0h6v1h-6zm11 0h2v1h-2zm7 0h2v1h-2zm-314 1h2v1h-2zm32 0h2v1h-2zm10 0h2v1h-2zm4 0h8v1h-8zm9 0h2v1h-2zm4 0h4v1h-4zm7 0h6v1h-6zm8 0h2v1h-2zm3 0h9v1h-9zm10 0h2v1h-2zm5 0h40v1h-40zm41 0h6v1h-6zm7 0h12v1h-12zm13 0h4v1h-4zm5 0h3v1h-3zm5 0h2v1h-2zm3 0h8v1h-8zm10 0h5v1h-5zm6 0h5v1h-5zm6 0h3v1h-3zm4 0h3v1h-3zm4 0h2v1h-2zm4 0h7v1h-7zm10 0h6v1h-6zm7 0h9v1h-9zm10 0h6v1h-6zm7 0h20v1h-20zm21 0h5v1h-5zm6 0h7v1h-7zm8 0h2v1h-2zm5 0h4v1h-4zm5 0h3v1h-3zm5 0h5v1h-5zm12 0h6v1h-6zm7 0h2v1h-2zm4 0h4v1h-4zm7 0h2v1h-2zm-314 1h2v1h-2zm13 0h2v1h-2zm18 0h2v1h-2zm6 0h2v1h-2zm5 0h2v1h-2zm4 0h2v1h-2zm3 0h8v1h-8zm9 0h2v1h-2zm7 0h3v1h-3zm9 0h2v1h-2zm3 0h9v1h-9zm10 0h39v1h-39zm41 0h5v1h-5zm6 0h12v1h-12zm14 0h4v1h-4zm5 0h4v1h-4zm5 0h3v1h-3zm5 0h6v1h-6zm7 0h2v1h-2zm7 0h4v1h-4zm5 0h4v1h-4zm6 0h7v1h-7zm8 0h7v1h-7zm8 0h4v1h-4zm5 0h7v1h-7zm8 0h61v1h-61zm62 0h2v1h-2zm4 0h9v1h-9zm12 0h2v1h-2zm3 0h2v1h-2zm4 0h5v1h-5zm7 0h2v1h-2zm-309 1h2v1h-2zm13 0h2v1h-2zm18 0h2v1h-2zm4 0h4v1h-4zm8 0h2v1h-2zm4 0h2v1h-2zm5 0h10v1h-10zm11 0h5v1h-5zm15 0h15v1h-15zm16 0h61v1h-61zm64 0h2v1h-2zm4 0h7v1h-7zm8 0h2v1h-2zm10 0h7v1h-7zm8 0h4v1h-4zm7 0h24v1h-24zm25 0h36v1h-36zm37 0h25v1h-25zm26 0h4v1h-4zm5 0h6v1h-6zm7 0h3v1h-3zm7 0h5v1h-5zm6 0h4v1h-4zm-293 1h2v1h-2zm20 0h2v1h-2zm8 0h2v1h-2zm4 0h2v1h-2zm6 0h12v1h-12zm13 0h2v1h-2zm4 0h2v1h-2zm5 0h61v1h-61zm62 0h4v1h-4zm5 0h2v1h-2zm3 0h15v1h-15zm16 0h7v1h-7zm9 0h2v1h-2zm3 0h4v1h-4zm7 0h2v1h-2zm5 0h2v1h-2zm3 0h3v1h-3zm4 0h74v1h-74zm75 0h6v1h-6zm8 0h7v1h-7zm10 0h2v1h-2zm3 0h2v1h-2zm4 0h2v1h-2zm3 0h3v1h-3zm8 0h9v1h-9zm-288 1h2v1h-2zm24 0h2v1h-2zm10 0h2v1h-2zm4 0h2v1h-2zm8 0h11v1h-11zm14 0h55v1h-55zm56 0h32v1h-32zm33 0h15v1h-15zm16 0h2v1h-2zm6 0h5v1h-5zm6 0h13v1h-13zm15 0h17v1h-17zm18 0h3v1h-3zm4 0h10v1h-10zm11 0h7v1h-7zm8 0h16v1h-16zm17 0h9v1h-9zm10 0h4v1h-4zm6 0h2v1h-2zm4 0h5v1h-5zm7 0h2v1h-2zm3 0h2v1h-2zm8 0h6v1h-6zm7 0h2v1h-2zm-297 1h2v1h-2zm4 0h3v1h-3zm6 0h2v1h-2zm9 0h2v1h-2zm7 0h2v1h-2zm7 0h2v1h-2zm3 0h4v1h-4zm9 0h2v1h-2zm4 0h4v1h-4zm6 0h3v1h-3zm5 0h27v1h-27zm28 0h4v1h-4zm5 0h10v1h-10zm11 0h13v1h-13zm15 0h25v1h-25zm26 0h16v1h-16zm17 0h9v1h-9zm10 0h5v1h-5zm7 0h8v1h-8zm9 0h4v1h-4zm5 0h22v1h-22zm23 0h14v1h-14zm15 0h30v1h-30zm31 0h10v1h-10zm11 0h4v1h-4zm6 0h2v1h-2zm6 0h2v1h-2zm5 0h2v1h-2zm4 0h2v1h-2zm3 0h2v1h-2zm-307 1h2v1h-2zm3 0h2v1h-2zm7 0h2v1h-2zm4 0h3v1h-3zm6 0h2v1h-2zm6 0h2v1h-2zm3 0h2v1h-2zm7 0h3v1h-3zm5 0h5v1h-5zm7 0h2v1h-2zm5 0h5v1h-5zm6 0h4v1h-4zm5 0h4v1h-4zm5 0h5v1h-5zm6 0h11v1h-11zm12 0h25v1h-25zm26 0h28v1h-28zm29 0h4v1h-4zm5 0h5v1h-5zm6 0h4v1h-4zm5 0h7v1h-7zm10 0h2v1h-2zm4 0h3v1h-3zm4 0h10v1h-10zm13 0h10v1h-10zm11 0h39v1h-39zm41 0h30v1h-30zm31 0h15v1h-15zm16 0h2v1h-2zm5 0h8v1h-8zm-293 1h2v1h-2zm3 0h2v1h-2zm22 0h5v1h-5zm11 0h3v1h-3zm5 0h2v1h-2zm3 0h2v1h-2zm4 0h4v1h-4zm5 0h10v1h-10zm11 0h7v1h-7zm11 0h3v1h-3zm4 0h10v1h-10zm11 0h22v1h-22zm23 0h4v1h-4zm5 0h3v1h-3zm4 0h24v1h-24zm25 0h9v1h-9zm10 0h6v1h-6zm9 0h4v1h-4zm8 0h4v1h-4zm6 0h3v1h-3zm4 0h3v1h-3zm5 0h10v1h-10zm11 0h67v1h-67zm68 0h7v1h-7zm9 0h9v1h-9zm10 0h3v1h-3zm6 0h2v1h-2zm4 0h4v1h-4zm10 0h2v1h-2zm-291 1h2v1h-2zm9 0h2v1h-2zm3 0h2v1h-2zm6 0h4v1h-4zm7 0h3v1h-3zm9 0h7v1h-7zm8 0h4v1h-4zm5 0h7v1h-7zm9 0h6v1h-6zm7 0h49v1h-49zm51 0h26v1h-26zm27 0h14v1h-14zm17 0h9v1h-9zm10 0h3v1h-3zm5 0h21v1h-21zm23 0h63v1h-63zm64 0h8v1h-8zm10 0h3v1h-3zm7 0h2v1h-2zm6 0h5v1h-5zm8 0h2v1h-2zm-291 1h2v1h-2zm10 0h2v1h-2zm5 0h2v1h-2zm3 0h2v1h-2zm8 0h2v1h-2zm5 0h2v1h-2zm5 0h3v1h-3zm8 0h2v1h-2zm3 0h2v1h-2zm3 0h4v1h-4zm6 0h23v1h-23zm24 0h8v1h-8zm9 0h26v1h-26zm27 0h9v1h-9zm10 0h2v1h-2zm3 0h2v1h-2zm3 0h25v1h-25zm26 0h9v1h-9zm10 0h4v1h-4zm5 0h81v1h-81zm82 0h13v1h-13zm15 0h2v1h-2zm4 0h4v1h-4zm5 0h9v1h-9zm-287 1h2v1h-2zm18 0h2v1h-2zm3 0h7v1h-7zm16 0h6v1h-6zm9 0h2v1h-2zm4 0h4v1h-4zm5 0h2v1h-2zm4 0h2v1h-2zm4 0h12v1h-12zm13 0h11v1h-11zm12 0h8v1h-8zm9 0h2v1h-2zm3 0h33v1h-33zm34 0h2v1h-2zm7 0h13v1h-13zm14 0h4v1h-4zm8 0h3v1h-3zm4 0h4v1h-4zm8 0h10v1h-10zm13 0h85v1h-85zm87 0h6v1h-6zm7 0h4v1h-4zm5 0h4v1h-4zm5 0h2v1h-2zm5 0h2v1h-2zm3 0h2v1h-2zm3 0h2v1h-2zm-313 1h2v1h-2zm3 0h2v1h-2zm5 0h7v1h-7zm18 0h2v1h-2zm5 0h2v1h-2zm3 0h2v1h-2zm5 0h2v1h-2zm4 0h6v1h-6zm8 0h2v1h-2zm5 0h2v1h-2zm4 0h4v1h-4zm5 0h4v1h-4zm6 0h9v1h-9zm10 0h24v1h-24zm26 0h41v1h-41zm43 0h14v1h-14zm17 0h9v1h-9zm10 0h3v1h-3zm5 0h30v1h-30zm31 0h34v1h-34zm35 0h44v1h-44zm45 0h2v1h-2zm6 0h2v1h-2zm3 0h2v1h-2zm3 0h4v1h-4zm5 0h5v1h-5zm-310 1h2v1h-2zm3 0h2v1h-2zm5 0h2v1h-2zm3 0h4v1h-4zm10 0h2v1h-2zm5 0h2v1h-2zm11 0h4v1h-4zm6 0h5v1h-5zm8 0h3v1h-3zm5 0h3v1h-3zm4 0h4v1h-4zm7 0h13v1h-13zm14 0h2v1h-2zm3 0h4v1h-4zm5 0h71v1h-71zm72 0h13v1h-13zm16 0h2v1h-2zm3 0h6v1h-6zm8 0h21v1h-21zm22 0h64v1h-64zm66 0h13v1h-13zm14 0h6v1h-6zm9 0h2v1h-2zm6 0h2v1h-2zm6 0h4v1h-4zm-298 1h2v1h-2zm8 0h3v1h-3zm14 0h7v1h-7zm8 0h2v1h-2zm3 0h2v1h-2zm6 0h3v1h-3zm4 0h3v1h-3zm4 0h2v1h-2zm4 0h9v1h-9zm11 0h47v1h-47zm48 0h8v1h-8zm9 0h18v1h-18zm20 0h11v1h-11zm12 0h8v1h-8zm12 0h7v1h-7zm8 0h4v1h-4zm6 0h4v1h-4zm5 0h42v1h-42zm43 0h36v1h-36zm38 0h4v1h-4zm5 0h10v1h-10zm11 0h4v1h-4zm15 0h2v1h-2zm6 0h2v1h-2zm-300 1h2v1h-2zm9 0h2v1h-2zm5 0h2v1h-2zm4 0h2v1h-2zm4 0h2v1h-2zm3 0h4v1h-4zm6 0h4v1h-4zm5 0h6v1h-6zm8 0h2v1h-2zm3 0h3v1h-3zm4 0h10v1h-10zm11 0h2v1h-2zm3 0h6v1h-6zm7 0h57v1h-57zm58 0h7v1h-7zm8 0h2v1h-2zm5 0h7v1h-7zm8 0h7v1h-7zm12 0h7v1h-7zm8 0h6v1h-6zm7 0h14v1h-14zm15 0h40v1h-40zm41 0h17v1h-17zm18 0h15v1h-15zm16 0h4v1h-4zm5 0h6v1h-6zm7 0h3v1h-3zm8 0h2v1h-2zm6 0h2v1h-2zm5 0h2v1h-2zm-315 1h2v1h-2zm16 0h4v1h-4zm14 0h2v1h-2zm4 0h2v1h-2zm13 0h11v1h-11zm12 0h3v1h-3zm4 0h85v1h-85zm86 0h32v1h-32zm34 0h2v1h-2zm4 0h2v1h-2zm3 0h3v1h-3zm4 0h89v1h-89zm90 0h11v1h-11zm12 0h2v1h-2zm8 0h3v1h-3zm4 0h2v1h-2zm7 0h3v1h-3zm-315 1h2v1h-2zm16 0h4v1h-4zm5 0h2v1h-2zm7 0h2v1h-2zm21 0h6v1h-6zm8 0h4v1h-4zm5 0h3v1h-3zm4 0h6v1h-6zm8 0h74v1h-74zm76 0h15v1h-15zm16 0h2v1h-2zm3 0h3v1h-3zm4 0h12v1h-12zm16 0h5v1h-5zm7 0h98v1h-98zm99 0h5v1h-5zm6 0h2v1h-2zm4 0h7v1h-7zm11 0h2v1h-2zm-312 1h2v1h-2zm17 0h2v1h-2zm7 0h2v1h-2zm5 0h2v1h-2zm3 0h2v1h-2zm7 0h2v1h-2zm3 0h2v1h-2zm6 0h3v1h-3zm5 0h2v1h-2zm5 0h9v1h-9zm12 0h4v1h-4zm5 0h4v1h-4zm5 0h2v1h-2zm3 0h21v1h-21zm22 0h53v1h-53zm54 0h4v1h-4zm6 0h2v1h-2zm5 0h2v1h-2zm4 0h7v1h-7zm11 0h16v1h-16zm17 0h82v1h-82zm83 0h11v1h-11zm12 0h2v1h-2zm3 0h2v1h-2zm3 0h2v1h-2zm3 0h2v1h-2zm-306 1h2v1h-2zm10 0h2v1h-2zm16 0h2v1h-2zm3 0h5v1h-5zm10 0h2v1h-2zm3 0h2v1h-2zm7 0h4v1h-4zm8 0h12v1h-12zm14 0h2v1h-2zm3 0h5v1h-5zm7 0h16v1h-16zm17 0h55v1h-55zm56 0h2v1h-2zm6 0h3v1h-3zm7 0h3v1h-3zm5 0h9v1h-9zm13 0h11v1h-11zm15 0h60v1h-60zm62 0h7v1h-7zm8 0h9v1h-9zm10 0h13v1h-13zm18 0h4v1h-4zm5 0h2v1h-2zm-293 1h2v1h-2zm14 0h4v1h-4zm7 0h4v1h-4zm9 0h4v1h-4zm5 0h5v1h-5zm6 0h3v1h-3zm6 0h12v1h-12zm17 0h15v1h-15zm16 0h50v1h-50zm51 0h12v1h-12zm13 0h2v1h-2zm4 0h6v1h-6zm9 0h4v1h-4zm5 0h9v1h-9zm12 0h51v1h-51zm53 0h53v1h-53zm54 0h2v1h-2zm3 0h8v1h-8zm9 0h2v1h-2zm8 0h2v1h-2zm-296 1h3v1h-3zm9 0h2v1h-2zm5 0h6v1h-6zm10 0h11v1h-11zm12 0h3v1h-3zm6 0h47v1h-47zm48 0h55v1h-55zm56 0h3v1h-3zm5 0h17v1h-17zm18 0h4v1h-4zm5 0h4v1h-4zm5 0h109v1h-109zm113 0h2v1h-2zm4 0h2v1h-2zm-313 1h2v1h-2zm8 0h2v1h-2zm9 0h3v1h-3zm11 0h2v1h-2zm3 0h4v1h-4zm9 0h3v1h-3zm5 0h5v1h-5zm13 0h10v1h-10zm11 0h25v1h-25zm26 0h66v1h-66zm67 0h3v1h-3zm6 0h2v1h-2zm4 0h9v1h-9zm10 0h3v1h-3zm4 0h2v1h-2zm5 0h7v1h-7zm8 0h7v1h-7zm8 0h81v1h-81zm82 0h9v1h-9zm11 0h5v1h-5zm8 0h4v1h-4zm-310 1h4v1h-4zm9 0h3v1h-3zm10 0h2v1h-2zm3 0h4v1h-4zm8 0h4v1h-4zm5 0h2v1h-2zm7 0h3v1h-3zm8 0h2v1h-2zm4 0h2v1h-2zm5 0h35v1h-35zm37 0h41v1h-41zm42 0h29v1h-29zm32 0h2v1h-2zm3 0h27v1h-27zm28 0h5v1h-5zm8 0h68v1h-68zm69 0h12v1h-12zm13 0h2v1h-2zm4 0h9v1h-9zm12 0h7v1h-7zm-307 1h2v1h-2zm9 0h2v1h-2zm3 0h2v1h-2zm5 0h2v1h-2zm5 0h4v1h-4zm5 0h2v1h-2zm4 0h3v1h-3zm4 0h2v1h-2zm7 0h5v1h-5zm8 0h2v1h-2zm4 0h2v1h-2zm4 0h7v1h-7zm8 0h8v1h-8zm9 0h91v1h-91zm92 0h4v1h-4zm6 0h21v1h-21zm22 0h49v1h-49zm50 0h48v1h-48zm51 0h8v1h-8zm9 0h7v1h-7zm11 0h2v1h-2zm-304 1h2v1h-2zm5 0h2v1h-2zm6 0h2v1h-2zm4 0h2v1h-2zm15 0h2v1h-2zm3 0h7v1h-7zm9 0h2v1h-2zm4 0h7v1h-7zm8 0h2v1h-2zm3 0h39v1h-39zm40 0h20v1h-20zm21 0h24v1h-24zm25 0h17v1h-17zm18 0h10v1h-10zm11 0h13v1h-13zm14 0h70v1h-70zm72 0h5v1h-5zm6 0h19v1h-19zm20 0h3v1h-3zm4 0h8v1h-8zm10 0h2v1h-2zm4 0h4v1h-4zm-302 1h2v1h-2zm11 0h2v1h-2zm16 0h2v1h-2zm7 0h6v1h-6zm7 0h5v1h-5zm7 0h5v1h-5zm6 0h2v1h-2zm3 0h10v1h-10zm11 0h13v1h-13zm14 0h34v1h-34zm35 0h15v1h-15zm16 0h9v1h-9zm10 0h22v1h-22zm23 0h5v1h-5zm6 0h3v1h-3zm4 0h9v1h-9zm10 0h74v1h-74zm77 0h24v1h-24zm25 0h9v1h-9zm10 0h2v1h-2zm4 0h3v1h-3zm-313 1h2v1h-2zm20 0h2v1h-2zm4 0h2v1h-2zm5 0h2v1h-2zm9 0h2v1h-2zm7 0h6v1h-6zm7 0h5v1h-5zm7 0h5v1h-5zm6 0h2v1h-2zm3 0h105v1h-105zm106 0h8v1h-8zm9 0h3v1h-3zm4 0h5v1h-5zm8 0h3v1h-3zm4 0h19v1h-19zm20 0h76v1h-76zm77 0h2v1h-2zm7 0h5v1h-5zm11 0h2v1h-2zm-314 1h2v1h-2zm11 0h2v1h-2zm5 0h2v1h-2zm4 0h3v1h-3zm4 0h2v1h-2zm5 0h2v1h-2zm3 0h2v1h-2zm4 0h2v1h-2zm3 0h4v1h-4zm9 0h5v1h-5zm6 0h2v1h-2zm6 0h10v1h-10zm11 0h36v1h-36zm37 0h5v1h-5zm6 0h54v1h-54zm55 0h13v1h-13zm14 0h8v1h-8zm9 0h2v1h-2zm3 0h4v1h-4zm5 0h7v1h-7zm9 0h20v1h-20zm21 0h35v1h-35zm37 0h21v1h-21zm22 0h2v1h-2zm3 0h8v1h-8zm10 0h2v1h-2zm3 0h4v1h-4zm9 0h2v1h-2zm-317 1h2v1h-2zm14 0h2v1h-2zm5 0h2v1h-2zm5 0h2v1h-2zm11 0h6v1h-6zm7 0h4v1h-4zm12 0h5v1h-5zm8 0h14v1h-14zm15 0h8v1h-8zm9 0h9v1h-9zm10 0h54v1h-54zm55 0h19v1h-19zm20 0h7v1h-7zm8 0h11v1h-11zm12 0h3v1h-3zm4 0h10v1h-10zm11 0h8v1h-8zm10 0h22v1h-22zm23 0h30v1h-30zm31 0h33v1h-33zm34 0h8v1h-8zm-304 1h2v1h-2zm4 0h2v1h-2zm32 0h4v1h-4zm6 0h2v1h-2zm13 0h3v1h-3zm7 0h12v1h-12zm13 0h83v1h-83zm84 0h16v1h-16zm17 0h18v1h-18zm19 0h75v1h-75zm76 0h28v1h-28zm33 0h6v1h-6zm9 0h2v1h-2zm3 0h4v1h-4zm-315 1h2v1h-2zm3 0h2v1h-2zm26 0h4v1h-4zm11 0h2v1h-2zm3 0h5v1h-5zm11 0h3v1h-3zm7 0h5v1h-5zm7 0h2v1h-2zm4 0h8v1h-8zm9 0h25v1h-25zm28 0h64v1h-64zm67 0h7v1h-7zm10 0h7v1h-7zm8 0h72v1h-72zm73 0h35v1h-35zm38 0h6v1h-6zm7 0h2v1h-2zm3 0h4v1h-4zm-315 1h2v1h-2zm6 0h2v1h-2zm14 0h2v1h-2zm9 0h4v1h-4zm6 0h2v1h-2zm4 0h3v1h-3zm4 0h8v1h-8zm12 0h2v1h-2zm4 0h2v1h-2zm5 0h2v1h-2zm7 0h9v1h-9zm10 0h9v1h-9zm10 0h82v1h-82zm84 0h9v1h-9zm11 0h2v1h-2zm3 0h9v1h-9zm12 0h101v1h-101zm103 0h3v1h-3zm4 0h3v1h-3zm4 0h4v1h-4zm-306 1h2v1h-2zm5 0h2v1h-2zm4 0h2v1h-2zm5 0h2v1h-2zm5 0h2v1h-2zm10 0h2v1h-2zm4 0h4v1h-4zm8 0h6v1h-6zm7 0h8v1h-8zm9 0h3v1h-3zm5 0h22v1h-22zm23 0h97v1h-97zm98 0h9v1h-9zm10 0h99v1h-99zm102 0h5v1h-5zm6 0h5v1h-5zm7 0h2v1h-2zm-303 1h2v1h-2zm4 0h2v1h-2zm10 0h2v1h-2zm13 0h5v1h-5zm12 0h3v1h-3zm4 0h11v1h-11zm14 0h20v1h-20zm21 0h73v1h-73zm74 0h3v1h-3zm6 0h19v1h-19zm20 0h2v1h-2zm3 0h17v1h-17zm18 0h45v1h-45zm46 0h38v1h-38zm40 0h2v1h-2zm3 0h7v1h-7zm8 0h5v1h-5zm-304 1h4v1h-4zm17 0h2v1h-2zm18 0h4v1h-4zm8 0h2v1h-2zm3 0h6v1h-6zm8 0h7v1h-7zm9 0h7v1h-7zm8 0h11v1h-11zm12 0h2v1h-2zm3 0h76v1h-76zm79 0h5v1h-5zm6 0h11v1h-11zm13 0h8v1h-8zm10 0h3v1h-3zm5 0h104v1h-104zm105 0h3v1h-3zm4 0h3v1h-3zm-308 1h4v1h-4zm6 0h2v1h-2zm11 0h2v1h-2zm7 0h5v1h-5zm11 0h2v1h-2zm4 0h2v1h-2zm4 0h9v1h-9zm12 0h11v1h-11zm12 0h15v1h-15zm17 0h85v1h-85zm88 0h9v1h-9zm12 0h8v1h-8zm10 0h3v1h-3zm6 0h74v1h-74zm75 0h18v1h-18zm19 0h5v1h-5zm6 0h3v1h-3zm7 0h4v1h-4zm-306 1h4v1h-4zm5 0h4v1h-4zm13 0h4v1h-4zm5 0h6v1h-6zm12 0h2v1h-2zm3 0h2v1h-2zm3 0h5v1h-5zm8 0h7v1h-7zm8 0h111v1h-111zm114 0h2v1h-2zm3 0h6v1h-6zm9 0h2v1h-2zm3 0h112v1h-112zm114 0h3v1h-3zm6 0h4v1h-4zm9 0h1v1h-1zm-313 1h2v1h-2zm4 0h3v1h-3zm7 0h3v1h-3zm5 0h4v1h-4zm9 0h2v1h-2zm3 0h2v1h-2zm5 0h2v1h-2zm3 0h2v1h-2zm3 0h5v1h-5zm7 0h14v1h-14zm15 0h106v1h-106zm107 0h8v1h-8zm13 0h80v1h-80zm81 0h14v1h-14zm15 0h3v1h-3zm4 0h15v1h-15zm16 0h4v1h-4zm9 0h5v1h-5zm6 0h2v1h-2zm-308 1h2v1h-2zm7 0h3v1h-3zm5 0h2v1h-2zm12 0h2v1h-2zm18 0h2v1h-2zm4 0h11v1h-11zm15 0h7v1h-7zm8 0h69v1h-69zm70 0h11v1h-11zm12 0h23v1h-23zm24 0h2v1h-2zm3 0h5v1h-5zm9 0h2v1h-2zm3 0h94v1h-94zm95 0h7v1h-7zm8 0h4v1h-4zm5 0h2v1h-2zm3 0h2v1h-2zm3 0h3v1h-3zm4 0h2v1h-2zm-319 1h2v1h-2zm28 0h2v1h-2zm3 0h2v1h-2zm4 0h2v1h-2zm10 0h2v1h-2zm8 0h2v1h-2zm3 0h12v1h-12zm14 0h20v1h-20zm21 0h79v1h-79zm83 0h11v1h-11zm12 0h2v1h-2zm3 0h19v1h-19zm20 0h84v1h-84zm85 0h22v1h-22zm23 0h3v1h-3zm-317 1h2v1h-2zm9 0h2v1h-2zm18 0h3v1h-3zm4 0h2v1h-2zm4 0h5v1h-5zm7 0h2v1h-2zm3 0h2v1h-2zm3 0h2v1h-2zm8 0h3v1h-3zm4 0h7v1h-7zm8 0h5v1h-5zm6 0h91v1h-91zm92 0h4v1h-4zm6 0h9v1h-9zm10 0h3v1h-3zm5 0h6v1h-6zm7 0h61v1h-61zm62 0h60v1h-60zm61 0h3v1h-3zm-314 1h2v1h-2zm6 0h2v1h-2zm18 0h2v1h-2zm10 0h3v1h-3zm4 0h5v1h-5zm7 0h2v1h-2zm7 0h12v1h-12zm13 0h8v1h-8zm9 0h2v1h-2zm3 0h37v1h-37zm38 0h63v1h-63zm64 0h11v1h-11zm12 0h5v1h-5zm7 0h98v1h-98zm99 0h12v1h-12zm13 0h2v1h-2zm3 0h5v1h-5zm-313 1h2v1h-2zm15 0h2v1h-2zm9 0h2v1h-2zm6 0h2v1h-2zm8 0h5v1h-5zm10 0h3v1h-3zm4 0h2v1h-2zm3 0h5v1h-5zm6 0h3v1h-3zm4 0h8v1h-8zm9 0h40v1h-40zm41 0h48v1h-48zm49 0h10v1h-10zm12 0h2v1h-2zm4 0h8v1h-8zm9 0h2v1h-2zm3 0h4v1h-4zm5 0h17v1h-17zm18 0h8v1h-8zm9 0h12v1h-12zm13 0h59v1h-59zm60 0h8v1h-8zm9 0h3v1h-3zm6 0h6v1h-6zm-297 1h2v1h-2zm9 0h2v1h-2zm5 0h5v1h-5zm8 0h2v1h-2zm11 0h5v1h-5zm7 0h4v1h-4zm6 0h3v1h-3zm4 0h49v1h-49zm50 0h37v1h-37zm38 0h3v1h-3zm4 0h12v1h-12zm13 0h4v1h-4zm5 0h3v1h-3zm5 0h2v1h-2zm4 0h7v1h-7zm8 0h7v1h-7zm8 0h110v1h-110zm112 0h2v1h-2zm-310 1h2v1h-2zm5 0h2v1h-2zm8 0h2v1h-2zm9 0h3v1h-3zm5 0h7v1h-7zm8 0h2v1h-2zm4 0h3v1h-3zm6 0h2v1h-2zm3 0h3v1h-3zm8 0h3v1h-3zm10 0h84v1h-84zm85 0h3v1h-3zm4 0h8v1h-8zm9 0h3v1h-3zm4 0h8v1h-8zm9 0h3v1h-3zm5 0h6v1h-6zm8 0h25v1h-25zm26 0h88v1h-88zm90 0h2v1h-2zm5 0h2v1h-2zm-311 1h2v1h-2zm5 0h4v1h-4zm8 0h2v1h-2zm6 0h3v1h-3zm4 0h2v1h-2zm6 0h2v1h-2zm3 0h2v1h-2zm5 0h7v1h-7zm8 0h2v1h-2zm3 0h5v1h-5zm8 0h3v1h-3zm10 0h11v1h-11zm12 0h2v1h-2zm3 0h5v1h-5zm6 0h57v1h-57zm58 0h4v1h-4zm5 0h12v1h-12zm13 0h18v1h-18zm19 0h12v1h-12zm13 0h5v1h-5zm7 0h12v1h-12zm14 0h3v1h-3zm4 0h5v1h-5zm6 0h72v1h-72zm77 0h4v1h-4zm5 0h2v1h-2zm3 0h5v1h-5zm-304 1h2v1h-2zm6 0h2v1h-2zm6 0h3v1h-3zm6 0h3v1h-3zm11 0h5v1h-5zm6 0h5v1h-5zm7 0h4v1h-4zm9 0h2v1h-2zm8 0h3v1h-3zm6 0h14v1h-14zm15 0h29v1h-29zm30 0h27v1h-27zm29 0h16v1h-16zm17 0h9v1h-9zm10 0h127v1h-127zm128 0h6v1h-6zm7 0h3v1h-3zm5 0h3v1h-3zm-310 1h2v1h-2zm15 0h4v1h-4zm6 0h4v1h-4zm10 0h11v1h-11zm15 0h4v1h-4zm7 0h9v1h-9zm10 0h2v1h-2zm3 0h16v1h-16zm17 0h59v1h-59zm61 0h8v1h-8zm9 0h93v1h-93zm94 0h50v1h-50zm51 0h3v1h-3zm8 0h3v1h-3zm-311 1h2v1h-2zm5 0h2v1h-2zm5 0h2v1h-2zm10 0h3v1h-3zm4 0h4v1h-4zm5 0h2v1h-2zm7 0h2v1h-2zm5 0h6v1h-6zm7 0h7v1h-7zm9 0h3v1h-3zm5 0h6v1h-6zm7 0h22v1h-22zm24 0h4v1h-4zm5 0h73v1h-73zm75 0h10v1h-10zm13 0h2v1h-2zm4 0h10v1h-10zm11 0h15v1h-15zm16 0h44v1h-44zm46 0h44v1h-44zm45 0h6v1h-6zm-308 1h2v1h-2zm10 0h2v1h-2zm10 0h3v1h-3zm4 0h2v1h-2zm5 0h2v1h-2zm4 0h2v1h-2zm8 0h4v1h-4zm6 0h5v1h-5zm7 0h5v1h-5zm7 0h3v1h-3zm5 0h7v1h-7zm8 0h17v1h-17zm18 0h51v1h-51zm52 0h2v1h-2zm3 0h26v1h-26zm27 0h9v1h-9zm14 0h19v1h-19zm20 0h30v1h-30zm31 0h65v1h-65zm66 0h10v1h-10zm-301 1h5v1h-5zm21 0h2v1h-2zm7 0h5v1h-5zm7 0h3v1h-3zm5 0h16v1h-16zm17 0h45v1h-45zm46 0h29v1h-29zm30 0h27v1h-27zm28 0h8v1h-8zm10 0h8v1h-8zm9 0h2v1h-2zm4 0h44v1h-44zm46 0h68v1h-68zm70 0h6v1h-6zm9 0h2v1h-2zm4 0h1v1h-1zm-313 1h6v1h-6zm21 0h2v1h-2zm3 0h6v1h-6zm7 0h2v1h-2zm4 0h3v1h-3zm5 0h3v1h-3zm4 0h2v1h-2zm4 0h8v1h-8zm9 0h6v1h-6zm7 0h6v1h-6zm7 0h34v1h-34zm35 0h21v1h-21zm22 0h10v1h-10zm11 0h4v1h-4zm5 0h24v1h-24zm25 0h9v1h-9zm10 0h8v1h-8zm10 0h2v1h-2zm4 0h33v1h-33zm34 0h19v1h-19zm21 0h7v1h-7zm10 0h10v1h-10zm11 0h33v1h-33zm35 0h3v1h-3zm5 0h2v1h-2zm4 0h1v1h-1zm-309 1h2v1h-2zm7 0h2v1h-2zm10 0h2v1h-2zm3 0h4v1h-4zm16 0h2v1h-2zm4 0h2v1h-2zm4 0h5v1h-5zm6 0h109v1h-109zm111 0h3v1h-3zm4 0h2v1h-2zm4 0h8v1h-8zm9 0h5v1h-5zm7 0h2v1h-2zm4 0h19v1h-19zm20 0h44v1h-44zm45 0h10v1h-10zm11 0h42v1h-42zm44 0h1v1h-1zm-304 1h4v1h-4zm12 0h2v1h-2zm3 0h3v1h-3zm6 0h2v1h-2zm5 0h2v1h-2zm5 0h3v1h-3zm6 0h12v1h-12zm14 0h12v1h-12zm14 0h19v1h-19zm20 0h61v1h-61zm63 0h2v1h-2zm4 0h2v1h-2zm3 0h6v1h-6zm8 0h8v1h-8zm12 0h3v1h-3zm5 0h4v1h-4zm5 0h2v1h-2zm4 0h2v1h-2zm3 0h5v1h-5zm8 0h4v1h-4zm5 0h53v1h-53zm54 0h42v1h-42zm-261 1h4v1h-4zm12 0h2v1h-2zm8 0h2v1h-2zm3 0h2v1h-2zm3 0h4v1h-4zm8 0h2v1h-2zm5 0h11v1h-11zm17 0h96v1h-96zm98 0h2v1h-2zm3 0h6v1h-6zm7 0h6v1h-6zm13 0h3v1h-3zm5 0h17v1h-17zm18 0h42v1h-42zm44 0h47v1h-47zm48 0h6v1h-6zm7 0h4v1h-4zm-310 1h2v1h-2zm11 0h2v1h-2zm3 0h2v1h-2zm4 0h2v1h-2zm5 0h2v1h-2zm8 0h2v1h-2zm6 0h2v1h-2zm3 0h2v1h-2zm4 0h3v1h-3zm6 0h4v1h-4zm5 0h8v1h-8zm13 0h19v1h-19zm20 0h59v1h-59zm60 0h10v1h-10zm11 0h15v1h-15zm16 0h6v1h-6zm7 0h2v1h-2zm3 0h6v1h-6zm10 0h7v1h-7zm8 0h12v1h-12zm13 0h39v1h-39zm41 0h8v1h-8zm9 0h44v1h-44zm45 0h2v1h-2zm4 0h2v1h-2zm-315 1h2v1h-2zm11 0h2v1h-2zm3 0h2v1h-2zm4 0h2v1h-2zm4 0h2v1h-2zm8 0h2v1h-2zm10 0h2v1h-2zm4 0h3v1h-3zm6 0h4v1h-4zm5 0h9v1h-9zm10 0h2v1h-2zm3 0h3v1h-3zm5 0h62v1h-62zm63 0h37v1h-37zm38 0h4v1h-4zm6 0h4v1h-4zm5 0h7v1h-7zm10 0h21v1h-21zm22 0h14v1h-14zm16 0h26v1h-26zm27 0h46v1h-46zm47 0h4v1h-4zm7 0h3v1h-3zm-310 1h2v1h-2zm10 0h2v1h-2zm8 0h2v1h-2zm8 0h4v1h-4zm7 0h2v1h-2zm3 0h2v1h-2zm9 0h4v1h-4zm6 0h14v1h-14zm15 0h64v1h-64zm65 0h43v1h-43zm45 0h3v1h-3zm7 0h9v1h-9zm14 0h5v1h-5zm6 0h2v1h-2zm3 0h7v1h-7zm8 0h76v1h-76zm77 0h16v1h-16zm17 0h4v1h-4zm5 0h1v1h-1zm-313 1h2v1h-2zm10 0h2v1h-2zm4 0h2v1h-2zm5 0h2v1h-2zm4 0h2v1h-2zm5 0h2v1h-2zm5 0h2v1h-2zm3 0h7v1h-7zm9 0h4v1h-4zm5 0h2v1h-2zm4 0h11v1h-11zm12 0h28v1h-28zm29 0h59v1h-59zm60 0h2v1h-2zm3 0h14v1h-14zm18 0h6v1h-6zm9 0h9v1h-9zm13 0h10v1h-10zm11 0h13v1h-13zm14 0h16v1h-16zm17 0h10v1h-10zm11 0h53v1h-53zm57 0h4v1h-4zm5 0h1v1h-1zm-308 1h2v1h-2zm5 0h2v1h-2zm4 0h2v1h-2zm5 0h2v1h-2zm4 0h2v1h-2zm4 0h2v1h-2zm4 0h4v1h-4zm6 0h6v1h-6zm8 0h79v1h-79zm80 0h20v1h-20zm21 0h11v1h-11zm12 0h14v1h-14zm20 0h16v1h-16zm20 0h8v1h-8zm11 0h2v1h-2zm3 0h11v1h-11zm12 0h33v1h-33zm34 0h46v1h-46zm47 0h2v1h-2zm3 0h2v1h-2zm5 0h1v1h-1zm-308 1h2v1h-2zm5 0h2v1h-2zm3 0h3v1h-3zm4 0h2v1h-2zm3 0h2v1h-2zm7 0h3v1h-3zm4 0h2v1h-2zm6 0h4v1h-4zm9 0h4v1h-4zm6 0h2v1h-2zm3 0h6v1h-6zm7 0h64v1h-64zm65 0h2v1h-2zm3 0h31v1h-31zm33 0h10v1h-10zm13 0h10v1h-10zm14 0h4v1h-4zm8 0h3v1h-3zm5 0h2v1h-2zm6 0h2v1h-2zm3 0h12v1h-12zm13 0h7v1h-7zm9 0h3v1h-3zm4 0h20v1h-20zm22 0h48v1h-48zm53 0h1v1h-1zm-317 1h2v1h-2zm4 0h2v1h-2zm13 0h2v1h-2zm4 0h2v1h-2zm3 0h2v1h-2zm8 0h2v1h-2zm7 0h2v1h-2zm3 0h3v1h-3zm9 0h2v1h-2zm4 0h4v1h-4zm5 0h10v1h-10zm13 0h28v1h-28zm29 0h40v1h-40zm41 0h22v1h-22zm24 0h2v1h-2zm3 0h7v1h-7zm8 0h11v1h-11zm13 0h2v1h-2zm3 0h5v1h-5zm8 0h4v1h-4zm5 0h3v1h-3zm6 0h2v1h-2zm3 0h2v1h-2zm5 0h17v1h-17zm18 0h24v1h-24zm25 0h48v1h-48zm50 0h2v1h-2zm-314 1h2v1h-2zm4 0h4v1h-4zm12 0h2v1h-2zm3 0h2v1h-2zm5 0h2v1h-2zm15 0h2v1h-2zm3 0h2v1h-2zm7 0h13v1h-13zm14 0h7v1h-7zm8 0h13v1h-13zm15 0h14v1h-14zm15 0h42v1h-42zm44 0h20v1h-20zm22 0h13v1h-13zm17 0h5v1h-5zm7 0h2v1h-2zm3 0h5v1h-5zm8 0h8v1h-8zm9 0h3v1h-3zm4 0h3v1h-3zm4 0h6v1h-6zm7 0h12v1h-12zm13 0h66v1h-66zm67 0h2v1h-2zm3 0h2v1h-2zm5 0h2v1h-2zm-310 1h4v1h-4zm12 0h2v1h-2zm3 0h2v1h-2zm12 0h2v1h-2zm6 0h2v1h-2zm5 0h2v1h-2zm6 0h29v1h-29zm30 0h6v1h-6zm8 0h33v1h-33zm34 0h36v1h-36zm37 0h24v1h-24zm27 0h6v1h-6zm10 0h3v1h-3zm8 0h7v1h-7zm8 0h4v1h-4zm5 0h3v1h-3zm4 0h41v1h-41zm42 0h52v1h-52zm53 0h2v1h-2zm3 0h1v1h-1zm-313 1h2v1h-2zm13 0h2v1h-2zm14 0h2v1h-2zm6 0h2v1h-2zm4 0h2v1h-2zm5 0h5v1h-5zm9 0h3v1h-3zm4 0h18v1h-18zm19 0h2v1h-2zm3 0h8v1h-8zm9 0h3v1h-3zm4 0h63v1h-63zm64 0h3v1h-3zm5 0h13v1h-13zm15 0h3v1h-3zm6 0h14v1h-14zm15 0h2v1h-2zm3 0h2v1h-2zm3 0h2v1h-2zm5 0h23v1h-23zm25 0h10v1h-10zm11 0h9v1h-9zm11 0h3v1h-3zm5 0h47v1h-47zm49 0h4v1h-4zm5 0h2v1h-2zm-319 1h2v1h-2zm7 0h2v1h-2zm13 0h2v1h-2zm4 0h2v1h-2zm6 0h3v1h-3zm7 0h2v1h-2zm7 0h2v1h-2zm3 0h4v1h-4zm5 0h2v1h-2zm9 0h7v1h-7zm9 0h5v1h-5zm7 0h2v1h-2zm5 0h14v1h-14zm15 0h63v1h-63zm64 0h3v1h-3zm4 0h5v1h-5zm7 0h8v1h-8zm10 0h4v1h-4zm5 0h14v1h-14zm15 0h2v1h-2zm3 0h2v1h-2zm3 0h2v1h-2zm3 0h2v1h-2zm3 0h21v1h-21zm25 0h29v1h-29zm30 0h43v1h-43zm44 0h5v1h-5zm6 0h2v1h-2zm-319 1h3v1h-3zm24 0h2v1h-2zm6 0h5v1h-5zm7 0h3v1h-3zm5 0h2v1h-2zm5 0h5v1h-5zm9 0h10v1h-10zm14 0h9v1h-9zm12 0h3v1h-3zm4 0h10v1h-10zm11 0h21v1h-21zm22 0h21v1h-21zm22 0h29v1h-29zm31 0h24v1h-24zm30 0h2v1h-2zm3 0h4v1h-4zm6 0h6v1h-6zm13 0h12v1h-12zm13 0h19v1h-19zm20 0h48v1h-48zm52 0h7v1h-7zm11 0h1v1h-1zm-319 1h2v1h-2zm9 0h3v1h-3zm14 0h2v1h-2zm6 0h5v1h-5zm7 0h4v1h-4zm5 0h2v1h-2zm3 0h2v1h-2zm3 0h6v1h-6zm8 0h8v1h-8zm9 0h5v1h-5zm6 0h14v1h-14zm15 0h52v1h-52zm53 0h7v1h-7zm8 0h19v1h-19zm20 0h3v1h-3zm5 0h10v1h-10zm13 0h13v1h-13zm17 0h4v1h-4zm5 0h2v1h-2zm4 0h7v1h-7zm9 0h2v1h-2zm6 0h17v1h-17zm18 0h12v1h-12zm13 0h59v1h-59zm63 0h1v1h-1zm-313 1h6v1h-6zm17 0h2v1h-2zm13 0h4v1h-4zm5 0h2v1h-2zm3 0h2v1h-2zm3 0h3v1h-3zm4 0h32v1h-32zm34 0h16v1h-16zm18 0h41v1h-41zm42 0h23v1h-23zm28 0h2v1h-2zm3 0h25v1h-25zm27 0h2v1h-2zm3 0h2v1h-2zm4 0h7v1h-7zm9 0h5v1h-5zm8 0h18v1h-18zm20 0h8v1h-8zm10 0h11v1h-11zm12 0h46v1h-46zm-266 1h2v1h-2zm3 0h4v1h-4zm13 0h2v1h-2zm23 0h2v1h-2zm6 0h2v1h-2zm5 0h64v1h-64zm66 0h31v1h-31zm33 0h5v1h-5zm6 0h10v1h-10zm16 0h2v1h-2zm5 0h6v1h-6zm8 0h2v1h-2zm5 0h10v1h-10zm11 0h5v1h-5zm7 0h5v1h-5zm7 0h7v1h-7zm10 0h3v1h-3zm5 0h16v1h-16zm17 0h2v1h-2zm4 0h5v1h-5zm6 0h10v1h-10zm11 0h37v1h-37zm38 0h7v1h-7zm10 0h2v1h-2zm-319 1h2v1h-2zm4 0h2v1h-2zm16 0h2v1h-2zm17 0h3v1h-3zm5 0h9v1h-9zm10 0h2v1h-2zm3 0h7v1h-7zm9 0h11v1h-11zm12 0h33v1h-33zm34 0h14v1h-14zm15 0h3v1h-3zm4 0h27v1h-27zm30 0h6v1h-6zm7 0h2v1h-2zm6 0h6v1h-6zm8 0h8v1h-8zm9 0h6v1h-6zm10 0h8v1h-8zm11 0h5v1h-5zm8 0h4v1h-4zm10 0h3v1h-3zm4 0h2v1h-2zm4 0h6v1h-6zm9 0h8v1h-8zm9 0h22v1h-22zm24 0h30v1h-30zm31 0h9v1h-9zm10 0h2v1h-2zm-319 1h4v1h-4zm7 0h2v1h-2zm10 0h2v1h-2zm3 0h2v1h-2zm17 0h7v1h-7zm8 0h4v1h-4zm6 0h3v1h-3zm4 0h3v1h-3zm5 0h15v1h-15zm16 0h89v1h-89zm91 0h2v1h-2zm5 0h3v1h-3zm4 0h22v1h-22zm23 0h2v1h-2zm3 0h4v1h-4zm8 0h12v1h-12zm13 0h2v1h-2zm3 0h2v1h-2zm6 0h3v1h-3zm4 0h2v1h-2zm3 0h3v1h-3zm4 0h14v1h-14zm15 0h19v1h-19zm20 0h26v1h-26zm27 0h2v1h-2zm4 0h9v1h-9zm-309 1h4v1h-4zm7 0h2v1h-2zm10 0h2v1h-2zm3 0h2v1h-2zm4 0h2v1h-2zm3 0h2v1h-2zm9 0h8v1h-8zm13 0h15v1h-15zm18 0h6v1h-6zm10 0h71v1h-71zm72 0h14v1h-14zm18 0h4v1h-4zm5 0h3v1h-3zm4 0h7v1h-7zm9 0h4v1h-4zm5 0h2v1h-2zm3 0h6v1h-6zm9 0h3v1h-3zm4 0h2v1h-2zm5 0h7v1h-7zm11 0h8v1h-8zm10 0h16v1h-16zm19 0h6v1h-6zm7 0h8v1h-8zm9 0h4v1h-4zm5 0h26v1h-26zm27 0h8v1h-8zm10 0h8v1h-8zm-309 1h2v1h-2zm20 0h6v1h-6zm7 0h2v1h-2zm9 0h2v1h-2zm11 0h4v1h-4zm6 0h2v1h-2zm4 0h7v1h-7zm11 0h5v1h-5zm9 0h8v1h-8zm9 0h5v1h-5zm6 0h68v1h-68zm71 0h2v1h-2zm4 0h4v1h-4zm6 0h4v1h-4zm5 0h2v1h-2zm8 0h2v1h-2zm4 0h2v1h-2zm3 0h7v1h-7zm9 0h3v1h-3zm4 0h2v1h-2zm5 0h19v1h-19zm21 0h4v1h-4zm5 0h8v1h-8zm9 0h3v1h-3zm4 0h20v1h-20zm21 0h41v1h-41zm42 0h6v1h-6zm-313 1h2v1h-2zm3 0h2v1h-2zm12 0h2v1h-2zm7 0h2v1h-2zm4 0h2v1h-2zm7 0h2v1h-2zm14 0h6v1h-6zm9 0h3v1h-3zm4 0h2v1h-2zm4 0h3v1h-3zm4 0h7v1h-7zm8 0h43v1h-43zm44 0h42v1h-42zm43 0h2v1h-2zm3 0h11v1h-11zm12 0h2v1h-2zm5 0h2v1h-2zm7 0h2v1h-2zm6 0h4v1h-4zm6 0h2v1h-2zm9 0h4v1h-4zm5 0h14v1h-14zm15 0h7v1h-7zm11 0h3v1h-3zm4 0h3v1h-3zm4 0h2v1h-2zm3 0h47v1h-47zm48 0h11v1h-11zm12 0h3v1h-3zm4 0h2v1h-2zm-317 1h2v1h-2zm3 0h2v1h-2zm12 0h2v1h-2zm11 0h2v1h-2zm7 0h3v1h-3zm14 0h6v1h-6zm9 0h7v1h-7zm8 0h3v1h-3zm7 0h8v1h-8zm9 0h68v1h-68zm70 0h14v1h-14zm16 0h3v1h-3zm4 0h9v1h-9zm13 0h2v1h-2zm3 0h2v1h-2zm4 0h2v1h-2zm4 0h2v1h-2zm8 0h4v1h-4zm9 0h2v1h-2zm6 0h10v1h-10zm14 0h7v1h-7zm11 0h2v1h-2zm3 0h8v1h-8zm12 0h2v1h-2zm3 0h15v1h-15zm16 0h36v1h-36zm37 0h3v1h-3zm-306 1h2v1h-2zm8 0h2v1h-2zm5 0h4v1h-4zm7 0h2v1h-2zm7 0h4v1h-4zm11 0h3v1h-3zm7 0h3v1h-3zm4 0h10v1h-10zm11 0h3v1h-3zm6 0h39v1h-39zm40 0h25v1h-25zm28 0h7v1h-7zm9 0h3v1h-3zm4 0h5v1h-5zm8 0h2v1h-2zm4 0h2v1h-2zm4 0h2v1h-2zm3 0h8v1h-8zm13 0h4v1h-4zm8 0h2v1h-2zm3 0h2v1h-2zm3 0h7v1h-7zm13 0h2v1h-2zm4 0h6v1h-6zm8 0h12v1h-12zm17 0h2v1h-2zm3 0h2v1h-2zm3 0h5v1h-5zm12 0h3v1h-3zm4 0h10v1h-10zm12 0h42v1h-42zm-269 1h2v1h-2zm6 0h2v1h-2zm7 0h4v1h-4zm7 0h2v1h-2zm9 0h2v1h-2zm8 0h11v1h-11zm15 0h2v1h-2zm4 0h69v1h-69zm70 0h15v1h-15zm17 0h2v1h-2zm4 0h6v1h-6zm11 0h8v1h-8zm10 0h3v1h-3zm4 0h3v1h-3zm5 0h3v1h-3zm4 0h2v1h-2zm7 0h4v1h-4zm5 0h2v1h-2zm5 0h2v1h-2zm4 0h3v1h-3zm4 0h2v1h-2zm3 0h6v1h-6zm9 0h14v1h-14zm17 0h10v1h-10zm12 0h4v1h-4zm7 0h14v1h-14zm15 0h42v1h-42zm43 0h2v1h-2zm-317 1h3v1h-3zm8 0h2v1h-2zm3 0h2v1h-2zm9 0h3v1h-3zm10 0h2v1h-2zm5 0h2v1h-2zm3 0h2v1h-2zm4 0h9v1h-9zm12 0h22v1h-22zm25 0h9v1h-9zm12 0h54v1h-54zm55 0h5v1h-5zm7 0h20v1h-20zm21 0h2v1h-2zm3 0h8v1h-8zm16 0h4v1h-4zm5 0h2v1h-2zm3 0h2v1h-2zm3 0h6v1h-6zm7 0h2v1h-2zm3 0h7v1h-7zm10 0h5v1h-5zm7 0h2v1h-2zm4 0h2v1h-2zm7 0h6v1h-6zm10 0h4v1h-4zm7 0h51v1h-51zm52 0h2v1h-2zm5 0h3v1h-3zm-316 1h3v1h-3zm7 0h3v1h-3zm14 0h2v1h-2zm4 0h2v1h-2zm5 0h2v1h-2zm5 0h2v1h-2zm3 0h2v1h-2zm6 0h9v1h-9zm10 0h19v1h-19zm20 0h32v1h-32zm33 0h8v1h-8zm9 0h3v1h-3zm4 0h16v1h-16zm17 0h16v1h-16zm17 0h10v1h-10zm12 0h7v1h-7zm8 0h5v1h-5zm6 0h4v1h-4zm9 0h2v1h-2zm6 0h2v1h-2zm3 0h5v1h-5zm6 0h5v1h-5zm6 0h3v1h-3zm9 0h2v1h-2zm5 0h5v1h-5zm6 0h3v1h-3zm5 0h2v1h-2zm3 0h3v1h-3zm10 0h2v1h-2zm5 0h2v1h-2zm3 0h16v1h-16zm17 0h37v1h-37zm43 0h3v1h-3zm-309 1h2v1h-2zm5 0h2v1h-2zm9 0h2v1h-2zm3 0h3v1h-3zm5 0h2v1h-2zm10 0h5v1h-5zm6 0h4v1h-4zm6 0h2v1h-2zm9 0h13v1h-13zm15 0h4v1h-4zm5 0h36v1h-36zm37 0h13v1h-13zm14 0h9v1h-9zm12 0h13v1h-13zm14 0h7v1h-7zm8 0h2v1h-2zm4 0h2v1h-2zm4 0h2v1h-2zm3 0h4v1h-4zm6 0h4v1h-4zm5 0h4v1h-4zm8 0h2v1h-2zm3 0h4v1h-4zm8 0h6v1h-6zm8 0h2v1h-2zm11 0h2v1h-2zm4 0h3v1h-3zm6 0h2v1h-2zm3 0h5v1h-5zm9 0h4v1h-4zm7 0h6v1h-6zm8 0h46v1h-46zm51 0h2v1h-2zm5 0h1v1h-1zm-320 1h2v1h-2zm14 0h2v1h-2zm9 0h2v1h-2zm3 0h2v1h-2zm5 0h2v1h-2zm5 0h2v1h-2zm5 0h5v1h-5zm6 0h3v1h-3zm5 0h2v1h-2zm7 0h2v1h-2zm3 0h2v1h-2zm3 0h10v1h-10zm11 0h5v1h-5zm6 0h48v1h-48zm49 0h13v1h-13zm14 0h3v1h-3zm4 0h5v1h-5zm6 0h8v1h-8zm9 0h5v1h-5zm6 0h2v1h-2zm3 0h9v1h-9zm10 0h2v1h-2zm3 0h2v1h-2zm3 0h2v1h-2zm12 0h3v1h-3zm7 0h10v1h-10zm13 0h6v1h-6zm8 0h5v1h-5zm8 0h5v1h-5zm6 0h5v1h-5zm6 0h6v1h-6zm7 0h3v1h-3zm8 0h9v1h-9zm10 0h38v1h-38zm40 0h3v1h-3zm5 0h2v1h-2zm-319 1h2v1h-2zm14 0h2v1h-2zm4 0h5v1h-5zm13 0h2v1h-2zm5 0h2v1h-2zm5 0h5v1h-5zm10 0h3v1h-3zm4 0h3v1h-3zm4 0h9v1h-9zm10 0h6v1h-6zm7 0h68v1h-68zm69 0h8v1h-8zm9 0h3v1h-3zm4 0h2v1h-2zm6 0h3v1h-3zm4 0h7v1h-7zm8 0h5v1h-5zm7 0h2v1h-2zm11 0h2v1h-2zm7 0h5v1h-5zm7 0h2v1h-2zm4 0h5v1h-5zm7 0h8v1h-8zm10 0h5v1h-5zm6 0h2v1h-2zm4 0h9v1h-9zm10 0h6v1h-6zm8 0h4v1h-4zm5 0h11v1h-11zm12 0h44v1h-44zm45 0h2v1h-2zm-310 1h2v1h-2zm9 0h5v1h-5zm11 0h2v1h-2zm5 0h3v1h-3zm8 0h3v1h-3zm9 0h2v1h-2zm3 0h5v1h-5zm6 0h2v1h-2zm3 0h9v1h-9zm10 0h3v1h-3zm4 0h20v1h-20zm21 0h48v1h-48zm49 0h6v1h-6zm7 0h6v1h-6zm9 0h3v1h-3zm4 0h3v1h-3zm5 0h2v1h-2zm5 0h4v1h-4zm8 0h2v1h-2zm8 0h3v1h-3zm6 0h13v1h-13zm14 0h2v1h-2zm6 0h2v1h-2zm11 0h2v1h-2zm3 0h4v1h-4zm8 0h2v1h-2zm5 0h2v1h-2zm3 0h2v1h-2zm5 0h2v1h-2zm3 0h4v1h-4zm5 0h41v1h-41zm42 0h11v1h-11zm12 0h4v1h-4zm-313 1h2v1h-2zm6 0h2v1h-2zm20 0h2v1h-2zm5 0h3v1h-3zm8 0h3v1h-3zm11 0h3v1h-3zm4 0h2v1h-2zm3 0h2v1h-2zm5 0h5v1h-5zm7 0h25v1h-25zm26 0h24v1h-24zm25 0h12v1h-12zm13 0h5v1h-5zm6 0h6v1h-6zm8 0h10v1h-10zm13 0h6v1h-6zm9 0h4v1h-4zm5 0h4v1h-4zm5 0h2v1h-2zm3 0h2v1h-2zm8 0h2v1h-2zm6 0h9v1h-9zm11 0h11v1h-11zm18 0h2v1h-2zm5 0h7v1h-7zm8 0h2v1h-2zm4 0h3v1h-3zm4 0h2v1h-2zm5 0h5v1h-5zm7 0h5v1h-5zm6 0h2v1h-2zm3 0h45v1h-45zm48 0h3v1h-3zm-315 1h2v1h-2zm25 0h2v1h-2zm6 0h4v1h-4zm8 0h2v1h-2zm11 0h2v1h-2zm3 0h2v1h-2zm4 0h7v1h-7zm8 0h2v1h-2zm4 0h9v1h-9zm10 0h24v1h-24zm25 0h16v1h-16zm17 0h17v1h-17zm18 0h7v1h-7zm8 0h10v1h-10zm12 0h6v1h-6zm8 0h6v1h-6zm12 0h2v1h-2zm16 0h10v1h-10zm12 0h12v1h-12zm14 0h2v1h-2zm4 0h4v1h-4zm6 0h6v1h-6zm7 0h2v1h-2zm4 0h6v1h-6zm8 0h6v1h-6zm8 0h5v1h-5zm8 0h42v1h-42zm43 0h4v1h-4zm5 0h4v1h-4zm-299 1h2v1h-2zm5 0h2v1h-2zm4 0h5v1h-5zm7 0h4v1h-4zm5 0h4v1h-4zm7 0h2v1h-2zm5 0h3v1h-3zm5 0h2v1h-2zm3 0h14v1h-14zm16 0h25v1h-25zm26 0h5v1h-5zm6 0h13v1h-13zm14 0h2v1h-2zm3 0h2v1h-2zm3 0h15v1h-15zm16 0h15v1h-15zm16 0h2v1h-2zm3 0h3v1h-3zm4 0h11v1h-11zm14 0h4v1h-4zm16 0h5v1h-5zm7 0h2v1h-2zm3 0h2v1h-2zm4 0h2v1h-2zm4 0h2v1h-2zm6 0h6v1h-6zm10 0h2v1h-2zm4 0h3v1h-3zm12 0h5v1h-5zm7 0h6v1h-6zm8 0h3v1h-3zm5 0h45v1h-45zm46 0h8v1h-8zm-301 1h2v1h-2zm7 0h2v1h-2zm5 0h2v1h-2zm4 0h5v1h-5zm8 0h13v1h-13zm16 0h5v1h-5zm8 0h4v1h-4zm5 0h16v1h-16zm17 0h11v1h-11zm12 0h29v1h-29zm32 0h8v1h-8zm10 0h26v1h-26zm31 0h5v1h-5zm7 0h6v1h-6zm7 0h4v1h-4zm13 0h2v1h-2zm3 0h2v1h-2zm7 0h2v1h-2zm3 0h2v1h-2zm15 0h4v1h-4zm9 0h3v1h-3zm4 0h2v1h-2zm8 0h2v1h-2zm4 0h5v1h-5zm8 0h2v1h-2zm3 0h6v1h-6zm9 0h9v1h-9zm11 0h34v1h-34zm36 0h2v1h-2zm3 0h4v1h-4zm-305 1h2v1h-2zm6 0h2v1h-2zm3 0h2v1h-2zm11 0h2v1h-2zm4 0h5v1h-5zm6 0h6v1h-6zm9 0h13v1h-13zm14 0h11v1h-11zm12 0h6v1h-6zm8 0h4v1h-4zm5 0h12v1h-12zm13 0h30v1h-30zm31 0h2v1h-2zm4 0h13v1h-13zm14 0h8v1h-8zm9 0h2v1h-2zm3 0h2v1h-2zm7 0h5v1h-5zm7 0h4v1h-4zm8 0h2v1h-2zm8 0h4v1h-4zm9 0h3v1h-3zm10 0h6v1h-6zm8 0h5v1h-5zm10 0h3v1h-3zm12 0h2v1h-2zm12 0h3v1h-3zm5 0h4v1h-4zm8 0h42v1h-42zm43 0h5v1h-5zm8 0h2v1h-2zm-304 1h2v1h-2zm3 0h2v1h-2zm3 0h2v1h-2zm11 0h2v1h-2zm7 0h2v1h-2zm6 0h5v1h-5zm6 0h13v1h-13zm15 0h18v1h-18zm19 0h33v1h-33zm35 0h16v1h-16zm19 0h5v1h-5zm7 0h5v1h-5zm6 0h2v1h-2zm3 0h5v1h-5zm6 0h2v1h-2zm3 0h2v1h-2zm4 0h8v1h-8zm11 0h9v1h-9zm13 0h2v1h-2zm3 0h3v1h-3zm8 0h7v1h-7zm10 0h6v1h-6zm8 0h4v1h-4zm8 0h2v1h-2zm14 0h2v1h-2zm6 0h4v1h-4zm6 0h3v1h-3zm7 0h2v1h-2zm5 0h47v1h-47zm48 0h2v1h-2zm3 0h2v1h-2zm-307 1h2v1h-2zm4 0h2v1h-2zm9 0h5v1h-5zm8 0h2v1h-2zm10 0h3v1h-3zm5 0h3v1h-3zm4 0h5v1h-5zm7 0h2v1h-2zm3 0h5v1h-5zm6 0h27v1h-27zm28 0h24v1h-24zm25 0h21v1h-21zm22 0h17v1h-17zm19 0h2v1h-2zm3 0h2v1h-2zm4 0h5v1h-5zm11 0h11v1h-11zm13 0h2v1h-2zm3 0h5v1h-5zm10 0h8v1h-8zm18 0h2v1h-2zm6 0h2v1h-2zm4 0h2v1h-2zm10 0h4v1h-4zm6 0h4v1h-4zm6 0h2v1h-2zm7 0h3v1h-3zm4 0h9v1h-9zm10 0h36v1h-36zm38 0h3v1h-3zm4 0h4v1h-4zm-307 1h2v1h-2zm4 0h3v1h-3zm9 0h5v1h-5zm6 0h6v1h-6zm12 0h3v1h-3zm9 0h2v1h-2zm3 0h3v1h-3zm4 0h2v1h-2zm3 0h5v1h-5zm6 0h14v1h-14zm15 0h57v1h-57zm59 0h6v1h-6zm9 0h3v1h-3zm4 0h2v1h-2zm6 0h5v1h-5zm9 0h2v1h-2zm10 0h4v1h-4zm8 0h3v1h-3zm8 0h6v1h-6zm8 0h2v1h-2zm5 0h5v1h-5zm6 0h4v1h-4zm7 0h2v1h-2zm8 0h3v1h-3zm4 0h4v1h-4zm6 0h2v1h-2zm6 0h2v1h-2zm5 0h4v1h-4zm5 0h2v1h-2zm5 0h15v1h-15zm17 0h13v1h-13zm14 0h8v1h-8zm9 0h19v1h-19zm20 0h2v1h-2zm-309 1h3v1h-3zm5 0h2v1h-2zm9 0h4v1h-4zm5 0h3v1h-3zm4 0h4v1h-4zm8 0h2v1h-2zm3 0h2v1h-2zm5 0h2v1h-2zm3 0h4v1h-4zm9 0h25v1h-25zm26 0h19v1h-19zm20 0h19v1h-19zm24 0h6v1h-6zm8 0h6v1h-6zm7 0h9v1h-9zm11 0h7v1h-7zm21 0h5v1h-5zm7 0h3v1h-3zm4 0h6v1h-6zm9 0h2v1h-2zm3 0h3v1h-3zm6 0h2v1h-2zm6 0h4v1h-4zm7 0h2v1h-2zm3 0h2v1h-2zm4 0h9v1h-9zm10 0h5v1h-5zm12 0h5v1h-5zm6 0h7v1h-7zm9 0h8v1h-8zm9 0h36v1h-36zm37 0h11v1h-11zm-299 1h2v1h-2zm4 0h2v1h-2zm5 0h2v1h-2zm4 0h3v1h-3zm5 0h2v1h-2zm6 0h2v1h-2zm4 0h2v1h-2zm5 0h2v1h-2zm5 0h2v1h-2zm3 0h5v1h-5zm10 0h6v1h-6zm7 0h5v1h-5zm7 0h16v1h-16zm18 0h12v1h-12zm13 0h22v1h-22zm23 0h13v1h-13zm14 0h7v1h-7zm8 0h4v1h-4zm5 0h5v1h-5zm17 0h2v1h-2zm4 0h5v1h-5zm7 0h3v1h-3zm4 0h8v1h-8zm12 0h2v1h-2zm5 0h2v1h-2zm9 0h2v1h-2zm5 0h2v1h-2zm3 0h2v1h-2zm4 0h2v1h-2zm3 0h5v1h-5zm7 0h5v1h-5zm12 0h2v1h-2zm3 0h2v1h-2zm3 0h7v1h-7zm12 0h2v1h-2zm3 0h2v1h-2zm3 0h39v1h-39zm40 0h2v1h-2zm4 0h4v1h-4zm-305 1h5v1h-5zm8 0h2v1h-2zm3 0h2v1h-2zm3 0h2v1h-2zm3 0h4v1h-4zm6 0h2v1h-2zm4 0h2v1h-2zm3 0h2v1h-2zm7 0h8v1h-8zm9 0h2v1h-2zm4 0h22v1h-22zm23 0h4v1h-4zm5 0h19v1h-19zm20 0h19v1h-19zm20 0h18v1h-18zm19 0h2v1h-2zm4 0h3v1h-3zm5 0h4v1h-4zm9 0h2v1h-2zm7 0h2v1h-2zm4 0h5v1h-5zm7 0h4v1h-4zm10 0h4v1h-4zm9 0h5v1h-5zm16 0h4v1h-4zm13 0h2v1h-2zm6 0h2v1h-2zm7 0h2v1h-2zm5 0h2v1h-2zm4 0h4v1h-4zm5 0h2v1h-2zm3 0h2v1h-2zm5 0h9v1h-9zm10 0h33v1h-33zm35 0h2v1h-2zm4 0h4v1h-4zm-306 1h4v1h-4zm12 0h2v1h-2zm3 0h2v1h-2zm5 0h2v1h-2zm4 0h5v1h-5zm7 0h2v1h-2zm8 0h7v1h-7zm8 0h3v1h-3zm4 0h22v1h-22zm23 0h20v1h-20zm21 0h2v1h-2zm3 0h13v1h-13zm14 0h5v1h-5zm7 0h7v1h-7zm9 0h8v1h-8zm10 0h3v1h-3zm4 0h4v1h-4zm5 0h2v1h-2zm3 0h2v1h-2zm6 0h2v1h-2zm12 0h4v1h-4zm6 0h4v1h-4zm12 0h2v1h-2zm7 0h2v1h-2zm3 0h2v1h-2zm13 0h4v1h-4zm20 0h2v1h-2zm6 0h3v1h-3zm5 0h2v1h-2zm5 0h2v1h-2zm7 0h2v1h-2zm5 0h41v1h-41zm43 0h4v1h-4zm6 0h2v1h-2zm-306 1h4v1h-4zm7 0h2v1h-2zm5 0h2v1h-2zm3 0h3v1h-3zm7 0h2v1h-2zm3 0h4v1h-4zm8 0h2v1h-2zm7 0h21v1h-21zm22 0h5v1h-5zm7 0h14v1h-14zm15 0h19v1h-19zm20 0h8v1h-8zm9 0h13v1h-13zm14 0h3v1h-3zm5 0h9v1h-9zm12 0h3v1h-3zm6 0h6v1h-6zm14 0h2v1h-2zm4 0h4v1h-4zm6 0h4v1h-4zm10 0h2v1h-2zm7 0h3v1h-3zm13 0h4v1h-4zm7 0h2v1h-2zm9 0h2v1h-2zm8 0h3v1h-3zm8 0h2v1h-2zm9 0h2v1h-2zm6 0h2v1h-2zm6 0h41v1h-41zm42 0h5v1h-5zm7 0h3v1h-3zm-299 1h2v1h-2zm5 0h2v1h-2zm4 0h2v1h-2zm4 0h6v1h-6zm13 0h3v1h-3zm5 0h2v1h-2zm5 0h18v1h-18zm20 0h6v1h-6zm8 0h32v1h-32zm33 0h11v1h-11zm13 0h12v1h-12zm19 0h4v1h-4zm5 0h3v1h-3zm4 0h2v1h-2zm3 0h2v1h-2zm4 0h4v1h-4zm8 0h2v1h-2zm3 0h9v1h-9zm10 0h5v1h-5zm9 0h4v1h-4zm9 0h5v1h-5zm7 0h2v1h-2zm4 0h7v1h-7zm9 0h5v1h-5zm9 0h2v1h-2zm8 0h2v1h-2zm4 0h2v1h-2zm7 0h2v1h-2zm3 0h2v1h-2zm3 0h2v1h-2zm6 0h2v1h-2zm3 0h8v1h-8zm9 0h2v1h-2zm3 0h18v1h-18zm19 0h13v1h-13zm14 0h2v1h-2zm5 0h2v1h-2zm3 0h2v1h-2zm-315 1h2v1h-2zm23 0h4v1h-4zm5 0h6v1h-6zm13 0h3v1h-3zm5 0h2v1h-2zm4 0h5v1h-5zm7 0h9v1h-9zm10 0h2v1h-2zm5 0h6v1h-6zm8 0h32v1h-32zm35 0h10v1h-10zm12 0h10v1h-10zm11 0h3v1h-3zm8 0h12v1h-12zm21 0h6v1h-6zm7 0h2v1h-2zm4 0h5v1h-5zm6 0h2v1h-2zm4 0h6v1h-6zm13 0h7v1h-7zm9 0h4v1h-4zm5 0h2v1h-2zm4 0h5v1h-5zm21 0h2v1h-2zm7 0h2v1h-2zm3 0h3v1h-3zm4 0h4v1h-4zm7 0h8v1h-8zm10 0h2v1h-2zm3 0h12v1h-12zm13 0h20v1h-20zm25 0h2v1h-2zm-312 1h2v1h-2zm7 0h2v1h-2zm3 0h4v1h-4zm13 0h4v1h-4zm22 0h9v1h-9zm13 0h5v1h-5zm9 0h4v1h-4zm5 0h2v1h-2zm3 0h3v1h-3zm4 0h14v1h-14zm15 0h25v1h-25zm26 0h5v1h-5zm7 0h10v1h-10zm11 0h5v1h-5zm8 0h3v1h-3zm4 0h8v1h-8zm12 0h4v1h-4zm5 0h4v1h-4zm9 0h2v1h-2zm3 0h4v1h-4zm5 0h2v1h-2zm4 0h2v1h-2zm4 0h2v1h-2zm6 0h2v1h-2zm3 0h5v1h-5zm6 0h2v1h-2zm5 0h2v1h-2zm4 0h2v1h-2zm12 0h2v1h-2zm4 0h2v1h-2zm11 0h2v1h-2zm8 0h2v1h-2zm3 0h4v1h-4zm7 0h2v1h-2zm3 0h43v1h-43zm44 0h4v1h-4zm-301 1h2v1h-2zm3 0h4v1h-4zm21 0h2v1h-2zm5 0h2v1h-2zm9 0h8v1h-8zm12 0h2v1h-2zm3 0h4v1h-4zm5 0h6v1h-6zm7 0h2v1h-2zm5 0h16v1h-16zm17 0h5v1h-5zm6 0h16v1h-16zm17 0h2v1h-2zm3 0h2v1h-2zm3 0h3v1h-3zm4 0h9v1h-9zm12 0h5v1h-5zm6 0h2v1h-2zm3 0h4v1h-4zm7 0h5v1h-5zm6 0h5v1h-5zm12 0h2v1h-2zm3 0h2v1h-2zm5 0h2v1h-2zm10 0h2v1h-2zm6 0h3v1h-3zm5 0h2v1h-2zm5 0h2v1h-2zm4 0h2v1h-2zm5 0h2v1h-2zm5 0h2v1h-2zm7 0h2v1h-2zm4 0h2v1h-2zm3 0h2v1h-2zm8 0h2v1h-2zm10 0h3v1h-3zm8 0h2v1h-2zm3 0h11v1h-11zm12 0h27v1h-27zm28 0h2v1h-2zm3 0h5v1h-5zm7 0h2v1h-2zm-287 1h2v1h-2zm4 0h4v1h-4zm5 0h2v1h-2zm9 0h2v1h-2zm4 0h6v1h-6zm8 0h2v1h-2zm3 0h4v1h-4zm5 0h6v1h-6zm7 0h14v1h-14zm15 0h11v1h-11zm12 0h5v1h-5zm6 0h11v1h-11zm12 0h2v1h-2zm3 0h2v1h-2zm3 0h7v1h-7zm9 0h5v1h-5zm7 0h8v1h-8zm9 0h4v1h-4zm8 0h4v1h-4zm5 0h6v1h-6zm12 0h4v1h-4zm12 0h5v1h-5zm6 0h2v1h-2zm6 0h2v1h-2zm14 0h6v1h-6zm10 0h4v1h-4zm11 0h7v1h-7zm21 0h2v1h-2zm10 0h22v1h-22zm24 0h16v1h-16zm17 0h2v1h-2zm3 0h10v1h-10zm-287 1h2v1h-2zm6 0h3v1h-3zm7 0h2v1h-2zm6 0h2v1h-2zm3 0h6v1h-6zm8 0h5v1h-5zm8 0h2v1h-2zm4 0h10v1h-10zm11 0h17v1h-17zm19 0h6v1h-6zm7 0h16v1h-16zm19 0h4v1h-4zm5 0h6v1h-6zm7 0h11v1h-11zm12 0h7v1h-7zm8 0h4v1h-4zm6 0h2v1h-2zm5 0h6v1h-6zm14 0h4v1h-4zm10 0h5v1h-5zm12 0h2v1h-2zm16 0h4v1h-4zm5 0h7v1h-7zm8 0h2v1h-2zm6 0h3v1h-3zm5 0h2v1h-2zm6 0h3v1h-3zm10 0h2v1h-2zm5 0h2v1h-2zm3 0h24v1h-24zm25 0h20v1h-20zm21 0h10v1h-10zm-296 1h2v1h-2zm8 0h3v1h-3zm7 0h2v1h-2zm9 0h2v1h-2zm4 0h9v1h-9zm11 0h4v1h-4zm8 0h15v1h-15zm16 0h2v1h-2zm3 0h11v1h-11zm12 0h2v1h-2zm4 0h2v1h-2zm3 0h3v1h-3zm4 0h15v1h-15zm17 0h12v1h-12zm13 0h3v1h-3zm4 0h8v1h-8zm10 0h6v1h-6zm8 0h2v1h-2zm4 0h2v1h-2zm5 0h3v1h-3zm16 0h2v1h-2zm5 0h2v1h-2zm5 0h2v1h-2zm8 0h4v1h-4zm5 0h4v1h-4zm5 0h2v1h-2zm4 0h2v1h-2zm4 0h2v1h-2zm5 0h4v1h-4zm8 0h2v1h-2zm6 0h2v1h-2zm11 0h5v1h-5zm15 0h2v1h-2zm3 0h2v1h-2zm6 0h11v1h-11zm13 0h26v1h-26zm27 0h4v1h-4zm9 0h2v1h-2zm-317 1h2v1h-2zm7 0h2v1h-2zm5 0h2v1h-2zm7 0h3v1h-3zm5 0h2v1h-2zm3 0h2v1h-2zm9 0h2v1h-2zm6 0h6v1h-6zm8 0h7v1h-7zm9 0h5v1h-5zm7 0h8v1h-8zm9 0h2v1h-2zm3 0h15v1h-15zm16 0h22v1h-22zm23 0h5v1h-5zm6 0h5v1h-5zm6 0h2v1h-2zm3 0h19v1h-19zm20 0h2v1h-2zm4 0h3v1h-3zm4 0h2v1h-2zm3 0h2v1h-2zm14 0h3v1h-3zm6 0h2v1h-2zm13 0h3v1h-3zm5 0h7v1h-7zm8 0h4v1h-4zm5 0h3v1h-3zm8 0h2v1h-2zm8 0h2v1h-2zm3 0h2v1h-2zm4 0h2v1h-2zm3 0h2v1h-2zm3 0h2v1h-2zm4 0h2v1h-2zm3 0h2v1h-2zm6 0h2v1h-2zm4 0h2v1h-2zm4 0h2v1h-2zm4 0h6v1h-6zm7 0h3v1h-3zm4 0h2v1h-2zm3 0h12v1h-12zm13 0h16v1h-16zm19 0h2v1h-2zm3 0h2v1h-2zm-317 1h2v1h-2zm6 0h3v1h-3zm13 0h4v1h-4zm5 0h4v1h-4zm16 0h3v1h-3zm4 0h5v1h-5zm6 0h3v1h-3zm5 0h2v1h-2zm4 0h15v1h-15zm16 0h2v1h-2zm4 0h7v1h-7zm9 0h16v1h-16zm17 0h11v1h-11zm12 0h5v1h-5zm6 0h8v1h-8zm9 0h19v1h-19zm20 0h2v1h-2zm3 0h8v1h-8zm11 0h3v1h-3zm6 0h2v1h-2zm5 0h5v1h-5zm6 0h7v1h-7zm21 0h2v1h-2zm5 0h4v1h-4zm6 0h2v1h-2zm6 0h5v1h-5zm9 0h2v1h-2zm7 0h2v1h-2zm3 0h2v1h-2zm3 0h2v1h-2zm7 0h2v1h-2zm6 0h3v1h-3zm4 0h2v1h-2zm4 0h4v1h-4zm7 0h3v1h-3zm4 0h3v1h-3zm4 0h2v1h-2zm3 0h21v1h-21zm22 0h15v1h-15zm-298 1h2v1h-2zm15 0h2v1h-2zm4 0h3v1h-3zm8 0h2v1h-2zm7 0h3v1h-3zm4 0h2v1h-2zm3 0h2v1h-2zm4 0h4v1h-4zm8 0h8v1h-8zm9 0h2v1h-2zm4 0h2v1h-2zm3 0h17v1h-17zm18 0h2v1h-2zm3 0h19v1h-19zm22 0h7v1h-7zm9 0h4v1h-4zm5 0h4v1h-4zm5 0h13v1h-13zm15 0h2v1h-2zm3 0h2v1h-2zm4 0h4v1h-4zm5 0h6v1h-6zm8 0h2v1h-2zm6 0h4v1h-4zm5 0h7v1h-7zm26 0h4v1h-4zm7 0h2v1h-2zm5 0h2v1h-2zm3 0h2v1h-2zm13 0h2v1h-2zm14 0h2v1h-2zm6 0h2v1h-2zm3 0h2v1h-2zm4 0h4v1h-4zm7 0h7v1h-7zm8 0h35v1h-35zm36 0h2v1h-2zm-297 1h2v1h-2zm15 0h2v1h-2zm12 0h2v1h-2zm8 0h2v1h-2zm3 0h8v1h-8zm10 0h5v1h-5zm6 0h9v1h-9zm10 0h10v1h-10zm11 0h2v1h-2zm3 0h5v1h-5zm6 0h12v1h-12zm13 0h11v1h-11zm13 0h3v1h-3zm4 0h8v1h-8zm9 0h9v1h-9zm14 0h2v1h-2zm5 0h2v1h-2zm4 0h6v1h-6zm9 0h4v1h-4zm6 0h2v1h-2zm6 0h2v1h-2zm3 0h2v1h-2zm6 0h2v1h-2zm5 0h2v1h-2zm10 0h4v1h-4zm7 0h3v1h-3zm5 0h2v1h-2zm3 0h2v1h-2zm13 0h2v1h-2zm12 0h4v1h-4zm8 0h2v1h-2zm7 0h8v1h-8zm9 0h5v1h-5zm6 0h10v1h-10zm11 0h6v1h-6zm7 0h8v1h-8zm9 0h5v1h-5zm6 0h2v1h-2zm6 0h1v1h-1zm-300 1h3v1h-3zm22 0h4v1h-4zm5 0h2v1h-2zm11 0h5v1h-5zm10 0h15v1h-15zm16 0h4v1h-4zm7 0h6v1h-6zm7 0h5v1h-5zm6 0h24v1h-24zm25 0h4v1h-4zm8 0h4v1h-4zm6 0h7v1h-7zm9 0h2v1h-2zm18 0h2v1h-2zm5 0h4v1h-4zm6 0h2v1h-2zm15 0h2v1h-2zm4 0h3v1h-3zm7 0h4v1h-4zm7 0h2v1h-2zm3 0h4v1h-4zm6 0h8v1h-8zm16 0h2v1h-2zm12 0h2v1h-2zm4 0h2v1h-2zm4 0h2v1h-2zm9 0h6v1h-6zm7 0h25v1h-25zm26 0h5v1h-5zm7 0h5v1h-5zm6 0h3v1h-3zm4 0h3v1h-3zm-297 1h2v1h-2zm21 0h4v1h-4zm5 0h2v1h-2zm4 0h2v1h-2zm5 0h3v1h-3zm4 0h5v1h-5zm7 0h2v1h-2zm4 0h13v1h-13zm14 0h3v1h-3zm4 0h2v1h-2zm4 0h7v1h-7zm11 0h3v1h-3zm4 0h4v1h-4zm5 0h15v1h-15zm16 0h2v1h-2zm13 0h3v1h-3zm5 0h2v1h-2zm5 0h2v1h-2zm5 0h4v1h-4zm13 0h2v1h-2zm3 0h5v1h-5zm8 0h2v1h-2zm19 0h2v1h-2zm7 0h4v1h-4zm7 0h2v1h-2zm3 0h2v1h-2zm5 0h9v1h-9zm14 0h2v1h-2zm5 0h2v1h-2zm5 0h2v1h-2zm6 0h2v1h-2zm3 0h2v1h-2zm10 0h2v1h-2zm3 0h2v1h-2zm6 0h26v1h-26zm27 0h6v1h-6zm7 0h9v1h-9zm10 0h2v1h-2zm-318 1h2v1h-2zm6 0h2v1h-2zm8 0h3v1h-3zm14 0h2v1h-2zm15 0h3v1h-3zm4 0h2v1h-2zm3 0h5v1h-5zm6 0h3v1h-3zm5 0h8v1h-8zm9 0h3v1h-3zm5 0h18v1h-18zm19 0h9v1h-9zm10 0h14v1h-14zm15 0h9v1h-9zm13 0h4v1h-4zm6 0h2v1h-2zm3 0h4v1h-4zm6 0h2v1h-2zm10 0h4v1h-4zm5 0h2v1h-2zm3 0h2v1h-2zm4 0h2v1h-2zm4 0h4v1h-4zm8 0h2v1h-2zm30 0h3v1h-3zm11 0h5v1h-5zm8 0h4v1h-4zm6 0h2v1h-2zm5 0h2v1h-2zm3 0h4v1h-4zm8 0h2v1h-2zm4 0h2v1h-2zm9 0h2v1h-2zm3 0h2v1h-2zm6 0h16v1h-16zm17 0h9v1h-9zm10 0h6v1h-6zm9 0h5v1h-5zm-310 1h3v1h-3zm6 0h2v1h-2zm8 0h4v1h-4zm7 0h3v1h-3zm7 0h2v1h-2zm15 0h3v1h-3zm4 0h2v1h-2zm3 0h9v1h-9zm11 0h2v1h-2zm3 0h4v1h-4zm5 0h12v1h-12zm13 0h8v1h-8zm9 0h17v1h-17zm18 0h12v1h-12zm13 0h8v1h-8zm10 0h8v1h-8zm9 0h2v1h-2zm9 0h2v1h-2zm3 0h6v1h-6zm9 0h2v1h-2zm3 0h6v1h-6zm8 0h3v1h-3zm7 0h3v1h-3zm5 0h2v1h-2zm4 0h2v1h-2zm3 0h4v1h-4zm6 0h2v1h-2zm4 0h2v1h-2zm7 0h5v1h-5zm13 0h5v1h-5zm8 0h4v1h-4zm14 0h2v1h-2zm5 0h2v1h-2zm7 0h2v1h-2zm5 0h4v1h-4zm5 0h4v1h-4zm5 0h2v1h-2zm3 0h2v1h-2zm3 0h28v1h-28zm29 0h9v1h-9zm10 0h3v1h-3zm-315 1h2v1h-2zm14 0h3v1h-3zm6 0h5v1h-5zm13 0h2v1h-2zm9 0h5v1h-5zm7 0h3v1h-3zm5 0h3v1h-3zm6 0h5v1h-5zm6 0h5v1h-5zm6 0h3v1h-3zm4 0h2v1h-2zm3 0h41v1h-41zm42 0h8v1h-8zm9 0h4v1h-4zm5 0h4v1h-4zm5 0h3v1h-3zm4 0h2v1h-2zm5 0h9v1h-9zm12 0h3v1h-3zm4 0h3v1h-3zm7 0h3v1h-3zm5 0h4v1h-4zm7 0h3v1h-3zm4 0h2v1h-2zm3 0h4v1h-4zm6 0h2v1h-2zm4 0h4v1h-4zm5 0h5v1h-5zm9 0h2v1h-2zm7 0h3v1h-3zm7 0h4v1h-4zm13 0h2v1h-2zm3 0h2v1h-2zm3 0h4v1h-4zm8 0h2v1h-2zm4 0h4v1h-4zm5 0h2v1h-2zm3 0h27v1h-27zm29 0h5v1h-5zm8 0h7v1h-7zm10 0h3v1h-3zm-301 1h2v1h-2zm9 0h3v1h-3zm10 0h2v1h-2zm5 0h6v1h-6zm7 0h4v1h-4zm15 0h4v1h-4zm6 0h2v1h-2zm5 0h33v1h-33zm34 0h9v1h-9zm11 0h6v1h-6zm10 0h2v1h-2zm4 0h3v1h-3zm6 0h3v1h-3zm4 0h6v1h-6zm10 0h2v1h-2zm3 0h2v1h-2zm9 0h2v1h-2zm4 0h2v1h-2zm3 0h3v1h-3zm4 0h3v1h-3zm4 0h3v1h-3zm8 0h4v1h-4zm8 0h2v1h-2zm7 0h2v1h-2zm3 0h2v1h-2zm3 0h2v1h-2zm3 0h2v1h-2zm3 0h5v1h-5zm11 0h2v1h-2zm3 0h2v1h-2zm3 0h4v1h-4zm11 0h4v1h-4zm5 0h4v1h-4zm5 0h2v1h-2zm6 0h2v1h-2zm12 0h12v1h-12zm13 0h14v1h-14zm16 0h7v1h-7zm8 0h5v1h-5zm10 0h2v1h-2zm-314 1h2v1h-2zm4 0h2v1h-2zm18 0h3v1h-3zm4 0h2v1h-2zm8 0h2v1h-2zm3 0h4v1h-4zm7 0h4v1h-4zm8 0h2v1h-2zm3 0h2v1h-2zm5 0h2v1h-2zm5 0h18v1h-18zm22 0h2v1h-2zm3 0h31v1h-31zm35 0h2v1h-2zm3 0h10v1h-10zm11 0h7v1h-7zm11 0h4v1h-4zm10 0h2v1h-2zm8 0h3v1h-3zm5 0h3v1h-3zm4 0h2v1h-2zm3 0h2v1h-2zm5 0h3v1h-3zm7 0h2v1h-2zm7 0h3v1h-3zm12 0h4v1h-4zm11 0h2v1h-2zm3 0h2v1h-2zm14 0h2v1h-2zm5 0h4v1h-4zm5 0h2v1h-2zm4 0h2v1h-2zm12 0h2v1h-2zm5 0h2v1h-2zm3 0h2v1h-2zm4 0h6v1h-6zm7 0h16v1h-16zm17 0h3v1h-3zm4 0h3v1h-3zm9 0h2v1h-2zm-314 1h2v1h-2zm4 0h2v1h-2zm8 0h3v1h-3zm8 0h4v1h-4zm6 0h2v1h-2zm8 0h2v1h-2zm3 0h2v1h-2zm4 0h3v1h-3zm4 0h2v1h-2zm7 0h2v1h-2zm3 0h2v1h-2zm5 0h4v1h-4zm5 0h5v1h-5zm6 0h12v1h-12zm15 0h21v1h-21zm22 0h10v1h-10zm11 0h8v1h-8zm9 0h2v1h-2zm3 0h6v1h-6zm7 0h3v1h-3zm4 0h4v1h-4zm7 0h3v1h-3zm11 0h2v1h-2zm8 0h2v1h-2zm6 0h3v1h-3zm6 0h2v1h-2zm5 0h4v1h-4zm11 0h2v1h-2zm4 0h2v1h-2zm18 0h2v1h-2zm4 0h2v1h-2zm4 0h2v1h-2zm5 0h2v1h-2zm13 0h2v1h-2zm4 0h2v1h-2zm3 0h4v1h-4zm5 0h2v1h-2zm3 0h2v1h-2zm4 0h4v1h-4zm7 0h7v1h-7zm8 0h21v1h-21zm24 0h7v1h-7zm-296 1h2v1h-2zm6 0h3v1h-3zm8 0h3v1h-3zm18 0h2v1h-2zm3 0h3v1h-3zm4 0h4v1h-4zm8 0h6v1h-6zm9 0h3v1h-3zm4 0h5v1h-5zm6 0h11v1h-11zm12 0h16v1h-16zm17 0h3v1h-3zm4 0h2v1h-2zm3 0h10v1h-10zm11 0h13v1h-13zm16 0h2v1h-2zm3 0h3v1h-3zm4 0h6v1h-6zm7 0h2v1h-2zm11 0h4v1h-4zm8 0h2v1h-2zm5 0h4v1h-4zm6 0h2v1h-2zm8 0h2v1h-2zm7 0h4v1h-4zm24 0h2v1h-2zm8 0h2v1h-2zm5 0h2v1h-2zm10 0h2v1h-2zm7 0h2v1h-2zm3 0h2v1h-2zm5 0h2v1h-2zm3 0h3v1h-3zm4 0h2v1h-2zm3 0h2v1h-2zm4 0h4v1h-4zm5 0h19v1h-19zm20 0h4v1h-4zm5 0h9v1h-9zm11 0h2v1h-2zm5 0h2v1h-2zm-316 1h2v1h-2zm6 0h2v1h-2zm25 0h3v1h-3zm5 0h7v1h-7zm10 0h3v1h-3zm7 0h7v1h-7zm9 0h21v1h-21zm22 0h23v1h-23zm25 0h3v1h-3zm6 0h18v1h-18zm19 0h3v1h-3zm5 0h9v1h-9zm13 0h4v1h-4zm10 0h4v1h-4zm11 0h2v1h-2zm6 0h2v1h-2zm14 0h3v1h-3zm4 0h4v1h-4zm21 0h2v1h-2zm15 0h2v1h-2zm8 0h2v1h-2zm3 0h2v1h-2zm7 0h2v1h-2zm8 0h3v1h-3zm7 0h2v1h-2zm4 0h37v1h-37zm41 0h2v1h-2zm4 0h3v1h-3zm-315 1h2v1h-2zm26 0h8v1h-8zm10 0h9v1h-9zm17 0h2v1h-2zm4 0h3v1h-3zm4 0h22v1h-22zm23 0h2v1h-2zm3 0h21v1h-21zm22 0h5v1h-5zm7 0h21v1h-21zm24 0h4v1h-4zm5 0h2v1h-2zm5 0h8v1h-8zm10 0h10v1h-10zm14 0h2v1h-2zm19 0h2v1h-2zm4 0h5v1h-5zm7 0h2v1h-2zm3 0h2v1h-2zm11 0h2v1h-2zm15 0h2v1h-2zm11 0h2v1h-2zm15 0h2v1h-2zm5 0h3v1h-3zm7 0h5v1h-5zm6 0h6v1h-6zm8 0h11v1h-11zm12 0h3v1h-3zm4 0h6v1h-6zm14 0h3v1h-3zm-304 1h2v1h-2zm4 0h2v1h-2zm11 0h8v1h-8zm11 0h4v1h-4zm5 0h7v1h-7zm8 0h2v1h-2zm3 0h2v1h-2zm4 0h9v1h-9zm10 0h13v1h-13zm14 0h2v1h-2zm3 0h3v1h-3zm4 0h10v1h-10zm11 0h15v1h-15zm16 0h9v1h-9zm10 0h3v1h-3zm4 0h8v1h-8zm11 0h3v1h-3zm5 0h2v1h-2zm5 0h2v1h-2zm3 0h5v1h-5zm7 0h10v1h-10zm14 0h2v1h-2zm15 0h2v1h-2zm11 0h2v1h-2zm4 0h5v1h-5zm6 0h2v1h-2zm4 0h2v1h-2zm3 0h2v1h-2zm6 0h2v1h-2zm9 0h2v1h-2zm15 0h4v1h-4zm5 0h2v1h-2zm6 0h4v1h-4zm6 0h4v1h-4zm5 0h2v1h-2zm3 0h3v1h-3zm4 0h7v1h-7zm8 0h12v1h-12zm13 0h2v1h-2zm4 0h3v1h-3zm5 0h2v1h-2zm3 0h2v1h-2zm4 0h2v1h-2zm3 0h3v1h-3zm-305 1h2v1h-2zm4 0h2v1h-2zm3 0h2v1h-2zm7 0h2v1h-2zm6 0h2v1h-2zm4 0h4v1h-4zm5 0h14v1h-14zm17 0h2v1h-2zm3 0h23v1h-23zm24 0h7v1h-7zm8 0h5v1h-5zm7 0h6v1h-6zm7 0h8v1h-8zm9 0h13v1h-13zm18 0h3v1h-3zm4 0h4v1h-4zm7 0h3v1h-3zm17 0h3v1h-3zm7 0h2v1h-2zm10 0h2v1h-2zm3 0h2v1h-2zm3 0h2v1h-2zm5 0h2v1h-2zm4 0h2v1h-2zm12 0h4v1h-4zm5 0h2v1h-2zm4 0h2v1h-2zm3 0h2v1h-2zm5 0h3v1h-3zm10 0h3v1h-3zm5 0h2v1h-2zm6 0h2v1h-2zm3 0h5v1h-5zm6 0h2v1h-2zm6 0h5v1h-5zm7 0h3v1h-3zm4 0h2v1h-2zm3 0h2v1h-2zm3 0h5v1h-5zm6 0h5v1h-5zm6 0h2v1h-2zm3 0h5v1h-5zm7 0h2v1h-2zm5 0h2v1h-2zm4 0h2v1h-2zm3 0h3v1h-3zm4 0h2v1h-2zm3 0h3v1h-3zm-313 1h2v1h-2zm15 0h2v1h-2zm7 0h2v1h-2zm4 0h2v1h-2zm6 0h4v1h-4zm5 0h2v1h-2zm3 0h3v1h-3zm5 0h6v1h-6zm13 0h3v1h-3zm4 0h4v1h-4zm7 0h10v1h-10zm11 0h14v1h-14zm16 0h2v1h-2zm4 0h2v1h-2zm3 0h7v1h-7zm8 0h2v1h-2zm5 0h4v1h-4zm5 0h5v1h-5zm9 0h14v1h-14zm17 0h2v1h-2zm4 0h2v1h-2zm3 0h2v1h-2zm3 0h4v1h-4zm8 0h2v1h-2zm9 0h6v1h-6zm7 0h2v1h-2zm9 0h2v1h-2zm12 0h4v1h-4zm5 0h2v1h-2zm4 0h2v1h-2zm5 0h2v1h-2zm3 0h2v1h-2zm11 0h2v1h-2zm4 0h4v1h-4zm6 0h2v1h-2zm3 0h2v1h-2zm9 0h2v1h-2zm3 0h5v1h-5zm6 0h4v1h-4zm9 0h7v1h-7zm8 0h5v1h-5zm6 0h2v1h-2zm3 0h10v1h-10zm13 0h3v1h-3zm7 0h2v1h-2zm-307 1h2v1h-2zm22 0h2v1h-2zm4 0h2v1h-2zm7 0h3v1h-3zm11 0h2v1h-2zm4 0h7v1h-7zm8 0h5v1h-5zm9 0h2v1h-2zm4 0h29v1h-29zm34 0h2v1h-2zm3 0h2v1h-2zm3 0h4v1h-4zm8 0h4v1h-4zm5 0h4v1h-4zm10 0h2v1h-2zm3 0h6v1h-6zm7 0h4v1h-4zm5 0h2v1h-2zm4 0h2v1h-2zm3 0h2v1h-2zm3 0h2v1h-2zm6 0h2v1h-2zm8 0h2v1h-2zm3 0h5v1h-5zm7 0h2v1h-2zm9 0h3v1h-3zm10 0h6v1h-6zm11 0h2v1h-2zm5 0h2v1h-2zm3 0h2v1h-2zm5 0h2v1h-2zm12 0h4v1h-4zm16 0h2v1h-2zm3 0h3v1h-3zm6 0h4v1h-4zm5 0h6v1h-6zm8 0h3v1h-3zm5 0h7v1h-7zm10 0h2v1h-2zm3 0h7v1h-7zm8 0h3v1h-3zm13 0h3v1h-3zm-303 1h2v1h-2zm12 0h2v1h-2zm12 0h2v1h-2zm10 0h2v1h-2zm4 0h7v1h-7zm8 0h6v1h-6zm9 0h6v1h-6zm7 0h15v1h-15zm16 0h17v1h-17zm18 0h8v1h-8zm11 0h5v1h-5zm6 0h3v1h-3zm9 0h9v1h-9zm10 0h4v1h-4zm10 0h2v1h-2zm11 0h2v1h-2zm8 0h2v1h-2zm4 0h2v1h-2zm6 0h2v1h-2zm9 0h4v1h-4zm5 0h2v1h-2zm5 0h2v1h-2zm6 0h2v1h-2zm13 0h2v1h-2zm5 0h2v1h-2zm14 0h2v1h-2zm15 0h2v1h-2zm8 0h2v1h-2zm5 0h5v1h-5zm8 0h7v1h-7zm8 0h3v1h-3zm4 0h5v1h-5zm7 0h3v1h-3zm4 0h2v1h-2zm9 0h2v1h-2zm7 0h3v1h-3zm-316 1h2v1h-2zm13 0h2v1h-2zm7 0h2v1h-2zm7 0h2v1h-2zm3 0h4v1h-4zm5 0h2v1h-2zm3 0h2v1h-2zm4 0h2v1h-2zm9 0h2v1h-2zm3 0h6v1h-6zm7 0h5v1h-5zm6 0h5v1h-5zm8 0h22v1h-22zm23 0h8v1h-8zm10 0h9v1h-9zm10 0h21v1h-21zm26 0h2v1h-2zm3 0h2v1h-2zm8 0h2v1h-2zm4 0h2v1h-2zm4 0h2v1h-2zm8 0h2v1h-2zm14 0h2v1h-2zm6 0h2v1h-2zm4 0h2v1h-2zm3 0h4v1h-4zm11 0h2v1h-2zm6 0h3v1h-3zm23 0h2v1h-2zm16 0h4v1h-4zm7 0h2v1h-2zm3 0h2v1h-2zm6 0h4v1h-4zm7 0h10v1h-10zm12 0h4v1h-4zm7 0h3v1h-3zm7 0h2v1h-2zm3 0h2v1h-2zm3 0h2v1h-2zm7 0h2v1h-2zm-316 1h3v1h-3zm4 0h2v1h-2zm9 0h2v1h-2zm7 0h2v1h-2zm3 0h2v1h-2zm4 0h2v1h-2zm3 0h4v1h-4zm5 0h14v1h-14zm15 0h2v1h-2zm4 0h6v1h-6zm8 0h4v1h-4zm5 0h5v1h-5zm7 0h5v1h-5zm7 0h5v1h-5zm6 0h10v1h-10zm11 0h2v1h-2zm3 0h2v1h-2zm3 0h2v1h-2zm3 0h16v1h-16zm17 0h16v1h-16zm17 0h2v1h-2zm3 0h2v1h-2zm3 0h2v1h-2zm10 0h4v1h-4zm6 0h2v1h-2zm8 0h2v1h-2zm12 0h4v1h-4zm8 0h2v1h-2zm5 0h2v1h-2zm4 0h2v1h-2zm3 0h3v1h-3zm12 0h3v1h-3zm7 0h2v1h-2zm6 0h2v1h-2zm10 0h2v1h-2zm4 0h2v1h-2zm12 0h2v1h-2zm7 0h2v1h-2zm3 0h2v1h-2zm16 0h6v1h-6zm7 0h4v1h-4zm16 0h5v1h-5zm-302 1h2v1h-2zm3 0h2v1h-2zm19 0h2v1h-2zm5 0h2v1h-2zm8 0h13v1h-13zm14 0h2v1h-2zm7 0h4v1h-4zm5 0h4v1h-4zm6 0h2v1h-2zm4 0h12v1h-12zm14 0h7v1h-7zm8 0h8v1h-8zm10 0h15v1h-15zm17 0h2v1h-2zm6 0h2v1h-2zm3 0h16v1h-16zm27 0h2v1h-2zm5 0h2v1h-2zm21 0h2v1h-2zm3 0h2v1h-2zm4 0h2v1h-2zm5 0h3v1h-3zm8 0h3v1h-3zm6 0h2v1h-2zm10 0h6v1h-6zm9 0h2v1h-2zm14 0h2v1h-2zm8 0h2v1h-2zm9 0h2v1h-2zm4 0h6v1h-6zm15 0h2v1h-2zm3 0h5v1h-5zm6 0h2v1h-2zm8 0h4v1h-4zm9 0h3v1h-3zm-305 1h2v1h-2zm29 0h2v1h-2zm5 0h2v1h-2zm3 0h4v1h-4zm6 0h4v1h-4zm6 0h2v1h-2zm7 0h6v1h-6zm7 0h2v1h-2zm3 0h2v1h-2zm7 0h17v1h-17zm18 0h2v1h-2zm4 0h15v1h-15zm18 0h6v1h-6zm9 0h2v1h-2zm7 0h11v1h-11zm12 0h2v1h-2zm3 0h5v1h-5zm7 0h4v1h-4zm12 0h2v1h-2zm24 0h2v1h-2zm4 0h4v1h-4zm5 0h2v1h-2zm14 0h2v1h-2zm4 0h2v1h-2zm6 0h3v1h-3zm4 0h2v1h-2zm27 0h2v1h-2zm9 0h2v1h-2zm4 0h8v1h-8zm11 0h2v1h-2zm4 0h2v1h-2zm3 0h2v1h-2zm3 0h5v1h-5zm11 0h4v1h-4zm10 0h4v1h-4zm-306 1h2v1h-2zm15 0h2v1h-2zm10 0h4v1h-4zm5 0h3v1h-3zm4 0h5v1h-5zm9 0h5v1h-5zm6 0h4v1h-4zm7 0h3v1h-3zm7 0h2v1h-2zm3 0h7v1h-7zm9 0h14v1h-14zm15 0h2v1h-2zm4 0h18v1h-18zm21 0h4v1h-4zm8 0h21v1h-21zm23 0h3v1h-3zm5 0h4v1h-4zm12 0h4v1h-4zm6 0h2v1h-2zm7 0h2v1h-2zm5 0h2v1h-2zm12 0h2v1h-2zm21 0h2v1h-2zm21 0h4v1h-4zm13 0h2v1h-2zm10 0h2v1h-2zm6 0h3v1h-3zm6 0h2v1h-2zm5 0h2v1h-2zm6 0h3v1h-3zm5 0h2v1h-2zm12 0h4v1h-4zm8 0h4v1h-4zm8 0h2v1h-2zm-314 1h2v1h-2zm7 0h2v1h-2zm8 0h2v1h-2zm9 0h5v1h-5zm6 0h9v1h-9zm11 0h2v1h-2zm5 0h2v1h-2zm3 0h4v1h-4zm5 0h2v1h-2zm3 0h2v1h-2zm10 0h9v1h-9zm12 0h7v1h-7zm8 0h12v1h-12zm14 0h2v1h-2zm3 0h8v1h-8zm9 0h4v1h-4zm6 0h2v1h-2zm3 0h9v1h-9zm10 0h12v1h-12zm14 0h2v1h-2zm19 0h2v1h-2zm3 0h3v1h-3zm5 0h2v1h-2zm3 0h2v1h-2zm3 0h4v1h-4zm15 0h2v1h-2zm3 0h2v1h-2zm3 0h2v1h-2zm19 0h4v1h-4zm16 0h4v1h-4zm12 0h3v1h-3zm11 0h2v1h-2zm6 0h3v1h-3zm5 0h2v1h-2zm6 0h2v1h-2zm6 0h2v1h-2zm5 0h2v1h-2zm3 0h2v1h-2zm3 0h4v1h-4zm6 0h4v1h-4zm10 0h2v1h-2zm3 0h5v1h-5zm-311 1h2v1h-2zm7 0h2v1h-2zm12 0h2v1h-2zm4 0h3v1h-3zm8 0h7v1h-7zm10 0h2v1h-2zm8 0h4v1h-4zm5 0h3v1h-3zm6 0h2v1h-2zm5 0h2v1h-2zm4 0h9v1h-9zm11 0h7v1h-7zm8 0h13v1h-13zm16 0h4v1h-4zm5 0h18v1h-18zm20 0h2v1h-2zm4 0h7v1h-7zm9 0h2v1h-2zm8 0h4v1h-4zm6 0h2v1h-2zm8 0h2v1h-2zm4 0h2v1h-2zm5 0h2v1h-2zm6 0h2v1h-2zm15 0h2v1h-2zm3 0h2v1h-2zm3 0h5v1h-5zm13 0h2v1h-2zm3 0h2v1h-2zm3 0h4v1h-4zm19 0h2v1h-2zm9 0h2v1h-2zm7 0h2v1h-2zm6 0h2v1h-2zm4 0h3v1h-3zm5 0h4v1h-4zm5 0h2v1h-2zm11 0h2v1h-2zm4 0h2v1h-2zm3 0h10v1h-10zm16 0h2v1h-2zm3 0h3v1h-3zm-292 1h2v1h-2zm4 0h3v1h-3zm5 0h2v1h-2zm3 0h2v1h-2zm3 0h4v1h-4zm7 0h2v1h-2zm9 0h2v1h-2zm4 0h4v1h-4zm6 0h2v1h-2zm4 0h3v1h-3zm5 0h9v1h-9zm10 0h5v1h-5zm6 0h2v1h-2zm3 0h6v1h-6zm7 0h6v1h-6zm7 0h6v1h-6zm7 0h2v1h-2zm3 0h12v1h-12zm13 0h2v1h-2zm8 0h4v1h-4zm8 0h2v1h-2zm9 0h4v1h-4zm5 0h3v1h-3zm9 0h2v1h-2zm7 0h4v1h-4zm10 0h3v1h-3zm5 0h2v1h-2zm3 0h2v1h-2zm8 0h3v1h-3zm5 0h3v1h-3zm11 0h2v1h-2zm3 0h2v1h-2zm3 0h2v1h-2zm6 0h2v1h-2zm5 0h2v1h-2zm4 0h2v1h-2zm4 0h4v1h-4zm16 0h2v1h-2zm6 0h2v1h-2zm4 0h2v1h-2zm7 0h6v1h-6zm14 0h2v1h-2zm4 0h5v1h-5zm7 0h2v1h-2zm3 0h2v1h-2zm10 0h3v1h-3zm-291 1h5v1h-5zm10 0h2v1h-2zm3 0h3v1h-3zm14 0h2v1h-2zm5 0h2v1h-2zm4 0h4v1h-4zm10 0h4v1h-4zm5 0h7v1h-7zm10 0h5v1h-5zm6 0h2v1h-2zm4 0h5v1h-5zm7 0h15v1h-15zm16 0h5v1h-5zm7 0h8v1h-8zm15 0h3v1h-3zm6 0h3v1h-3zm11 0h3v1h-3zm4 0h2v1h-2zm14 0h4v1h-4zm12 0h3v1h-3zm5 0h2v1h-2zm3 0h2v1h-2zm7 0h6v1h-6zm29 0h2v1h-2zm5 0h2v1h-2zm4 0h2v1h-2zm3 0h2v1h-2zm3 0h2v1h-2zm5 0h2v1h-2zm19 0h2v1h-2zm8 0h2v1h-2zm3 0h4v1h-4zm10 0h2v1h-2zm4 0h4v1h-4zm7 0h3v1h-3zm4 0h2v1h-2zm7 0h5v1h-5zm9 0h2v1h-2zm3 0h1v1h-1zm-312 1h2v1h-2zm11 0h5v1h-5zm13 0h3v1h-3zm5 0h2v1h-2zm3 0h2v1h-2zm6 0h2v1h-2zm3 0h2v1h-2zm7 0h4v1h-4zm5 0h4v1h-4zm5 0h10v1h-10zm13 0h14v1h-14zm15 0h10v1h-10zm11 0h6v1h-6zm8 0h5v1h-5zm6 0h3v1h-3zm5 0h5v1h-5zm7 0h2v1h-2zm3 0h9v1h-9zm11 0h2v1h-2zm11 0h3v1h-3zm6 0h2v1h-2zm8 0h2v1h-2zm13 0h2v1h-2zm9 0h2v1h-2zm5 0h2v1h-2zm4 0h4v1h-4zm31 0h2v1h-2zm3 0h2v1h-2zm3 0h2v1h-2zm8 0h2v1h-2zm14 0h2v1h-2zm5 0h2v1h-2zm12 0h3v1h-3zm9 0h4v1h-4zm5 0h4v1h-4zm6 0h3v1h-3zm4 0h2v1h-2zm7 0h2v1h-2zm5 0h2v1h-2zm4 0h2v1h-2zm3 0h1v1h-1zm-312 1h2v1h-2zm10 0h2v1h-2zm4 0h2v1h-2zm15 0h5v1h-5zm9 0h5v1h-5zm6 0h2v1h-2zm6 0h2v1h-2zm3 0h4v1h-4zm5 0h12v1h-12zm13 0h31v1h-31zm34 0h4v1h-4zm6 0h3v1h-3zm7 0h3v1h-3zm5 0h12v1h-12zm14 0h3v1h-3zm4 0h4v1h-4zm8 0h2v1h-2zm5 0h2v1h-2zm10 0h2v1h-2zm11 0h2v1h-2zm9 0h2v1h-2zm11 0h2v1h-2zm3 0h2v1h-2zm25 0h3v1h-3zm4 0h2v1h-2zm14 0h2v1h-2zm5 0h2v1h-2zm5 0h3v1h-3zm28 0h3v1h-3zm4 0h6v1h-6zm20 0h4v1h-4zm-297 1h2v1h-2zm4 0h6v1h-6zm12 0h2v1h-2zm8 0h2v1h-2zm8 0h4v1h-4zm5 0h3v1h-3zm9 0h30v1h-30zm33 0h2v1h-2zm3 0h6v1h-6zm7 0h5v1h-5zm10 0h2v1h-2zm3 0h2v1h-2zm3 0h3v1h-3zm4 0h3v1h-3zm8 0h3v1h-3zm4 0h3v1h-3zm4 0h4v1h-4zm6 0h3v1h-3zm4 0h5v1h-5zm11 0h2v1h-2zm4 0h2v1h-2zm7 0h3v1h-3zm8 0h6v1h-6zm26 0h3v1h-3zm10 0h2v1h-2zm5 0h2v1h-2zm11 0h2v1h-2zm4 0h2v1h-2zm4 0h2v1h-2zm3 0h2v1h-2zm7 0h3v1h-3zm5 0h3v1h-3zm5 0h2v1h-2zm20 0h6v1h-6zm11 0h2v1h-2zm5 0h2v1h-2zm3 0h4v1h-4zm10 0h2v1h-2zm3 0h2v1h-2zm3 0h2v1h-2zm-300 1h2v1h-2zm3 0h2v1h-2zm3 0h2v1h-2zm10 0h3v1h-3zm8 0h2v1h-2zm3 0h4v1h-4zm10 0h2v1h-2zm9 0h7v1h-7zm9 0h4v1h-4zm6 0h13v1h-13zm15 0h19v1h-19zm20 0h2v1h-2zm3 0h2v1h-2zm3 0h10v1h-10zm15 0h2v1h-2zm3 0h4v1h-4zm5 0h8v1h-8zm11 0h7v1h-7zm10 0h2v1h-2zm4 0h2v1h-2zm7 0h2v1h-2zm6 0h6v1h-6zm10 0h2v1h-2zm18 0h4v1h-4zm10 0h4v1h-4zm5 0h2v1h-2zm12 0h2v1h-2zm5 0h4v1h-4zm5 0h2v1h-2zm8 0h2v1h-2zm5 0h2v1h-2zm24 0h6v1h-6zm10 0h3v1h-3zm9 0h4v1h-4zm8 0h4v1h-4zm5 0h2v1h-2zm3 0h2v1h-2zm-311 1h2v1h-2zm14 0h4v1h-4zm13 0h3v1h-3zm10 0h5v1h-5zm6 0h2v1h-2zm8 0h2v1h-2zm4 0h6v1h-6zm7 0h2v1h-2zm4 0h4v1h-4zm6 0h11v1h-11zm14 0h9v1h-9zm10 0h16v1h-16zm18 0h11v1h-11zm17 0h4v1h-4zm5 0h8v1h-8zm9 0h2v1h-2zm6 0h3v1h-3zm12 0h2v1h-2zm11 0h2v1h-2zm4 0h4v1h-4zm6 0h2v1h-2zm9 0h2v1h-2zm9 0h4v1h-4zm12 0h2v1h-2zm15 0h2v1h-2zm5 0h2v1h-2zm16 0h2v1h-2zm20 0h2v1h-2zm4 0h3v1h-3zm12 0h3v1h-3zm11 0h4v1h-4zm6 0h2v1h-2zm-303 1h2v1h-2zm14 0h4v1h-4zm6 0h2v1h-2zm13 0h2v1h-2zm4 0h4v1h-4zm6 0h2v1h-2zm5 0h2v1h-2zm3 0h2v1h-2zm3 0h5v1h-5zm6 0h5v1h-5zm6 0h4v1h-4zm7 0h17v1h-17zm18 0h4v1h-4zm10 0h2v1h-2zm4 0h10v1h-10zm13 0h7v1h-7zm11 0h5v1h-5zm7 0h8v1h-8zm9 0h2v1h-2zm5 0h2v1h-2zm6 0h2v1h-2zm3 0h2v1h-2zm3 0h3v1h-3zm4 0h2v1h-2zm5 0h2v1h-2zm7 0h4v1h-4zm6 0h2v1h-2zm9 0h2v1h-2zm6 0h2v1h-2zm14 0h2v1h-2zm17 0h2v1h-2zm20 0h2v1h-2zm20 0h2v1h-2zm4 0h3v1h-3zm4 0h2v1h-2zm5 0h2v1h-2zm9 0h2v1h-2zm5 0h4v1h-4zm-281 1h2v1h-2zm4 0h2v1h-2zm13 0h2v1h-2zm6 0h2v1h-2zm9 0h2v1h-2zm3 0h2v1h-2zm3 0h8v1h-8zm9 0h7v1h-7zm8 0h5v1h-5zm6 0h19v1h-19zm20 0h18v1h-18zm22 0h2v1h-2zm8 0h5v1h-5zm9 0h2v1h-2zm3 0h2v1h-2zm7 0h2v1h-2zm4 0h2v1h-2zm6 0h2v1h-2zm3 0h2v1h-2zm3 0h2v1h-2zm4 0h2v1h-2zm5 0h2v1h-2zm28 0h2v1h-2zm7 0h2v1h-2zm7 0h4v1h-4zm14 0h2v1h-2zm3 0h2v1h-2zm33 0h2v1h-2zm7 0h2v1h-2zm8 0h2v1h-2zm5 0h2v1h-2zm3 0h2v1h-2zm6 0h2v1h-2zm3 0h2v1h-2zm4 0h2v1h-2zm3 0h4v1h-4zm9 0h2v1h-2zm-300 1h2v1h-2zm5 0h2v1h-2zm16 0h2v1h-2zm5 0h4v1h-4zm7 0h2v1h-2zm4 0h2v1h-2zm3 0h10v1h-10zm13 0h18v1h-18zm19 0h8v1h-8zm11 0h18v1h-18zm19 0h4v1h-4zm14 0h3v1h-3zm7 0h4v1h-4zm12 0h5v1h-5zm13 0h2v1h-2zm10 0h2v1h-2zm16 0h2v1h-2zm7 0h2v1h-2zm14 0h2v1h-2zm7 0h4v1h-4zm14 0h2v1h-2zm3 0h2v1h-2zm10 0h2v1h-2zm23 0h2v1h-2zm7 0h2v1h-2zm9 0h2v1h-2zm6 0h3v1h-3zm10 0h2v1h-2zm4 0h2v1h-2zm3 0h4v1h-4zm9 0h2v1h-2zm-300 1h2v1h-2zm9 0h2v1h-2zm7 0h3v1h-3zm4 0h3v1h-3zm6 0h2v1h-2zm7 0h2v1h-2zm3 0h8v1h-8zm9 0h2v1h-2zm3 0h2v1h-2zm10 0h2v1h-2zm3 0h6v1h-6zm7 0h7v1h-7zm8 0h2v1h-2zm5 0h2v1h-2zm3 0h8v1h-8zm9 0h10v1h-10zm11 0h2v1h-2zm6 0h2v1h-2zm7 0h2v1h-2zm6 0h6v1h-6zm13 0h4v1h-4zm12 0h2v1h-2zm10 0h2v1h-2zm12 0h2v1h-2zm4 0h2v1h-2zm7 0h2v1h-2zm9 0h2v1h-2zm5 0h2v1h-2zm3 0h2v1h-2zm4 0h2v1h-2zm17 0h2v1h-2zm10 0h2v1h-2zm30 0h2v1h-2zm7 0h4v1h-4zm8 0h2v1h-2zm4 0h2v1h-2zm-288 1h3v1h-3zm12 0h2v1h-2zm7 0h2v1h-2zm5 0h5v1h-5zm6 0h2v1h-2zm6 0h3v1h-3zm10 0h5v1h-5zm9 0h2v1h-2zm6 0h2v1h-2zm7 0h2v1h-2zm3 0h7v1h-7zm9 0h8v1h-8zm9 0h12v1h-12zm15 0h2v1h-2zm4 0h10v1h-10zm11 0h7v1h-7zm10 0h2v1h-2zm6 0h4v1h-4zm11 0h4v1h-4zm12 0h2v1h-2zm7 0h2v1h-2zm7 0h2v1h-2zm8 0h2v1h-2zm8 0h2v1h-2zm4 0h2v1h-2zm5 0h2v1h-2zm3 0h2v1h-2zm5 0h2v1h-2zm3 0h2v1h-2zm34 0h2v1h-2zm24 0h2v1h-2zm3 0h2v1h-2zm7 0h2v1h-2zm8 0h2v1h-2zm4 0h2v1h-2zm22 0h2v1h-2zm-310 1h4v1h-4zm12 0h2v1h-2zm12 0h2v1h-2zm10 0h2v1h-2zm3 0h4v1h-4zm11 0h2v1h-2zm4 0h11v1h-11zm12 0h2v1h-2zm4 0h2v1h-2zm3 0h2v1h-2zm3 0h4v1h-4zm5 0h2v1h-2zm3 0h5v1h-5zm6 0h7v1h-7zm8 0h11v1h-11zm12 0h4v1h-4zm5 0h5v1h-5zm6 0h7v1h-7zm10 0h8v1h-8zm16 0h4v1h-4zm17 0h2v1h-2zm3 0h2v1h-2zm6 0h3v1h-3zm10 0h2v1h-2zm7 0h2v1h-2zm4 0h2v1h-2zm5 0h2v1h-2zm10 0h2v1h-2zm19 0h2v1h-2zm10 0h2v1h-2zm6 0h2v1h-2zm9 0h2v1h-2zm6 0h2v1h-2zm9 0h2v1h-2zm18 0h2v1h-2zm4 0h2v1h-2zm19 0h2v1h-2zm3 0h4v1h-4zm-308 1h2v1h-2zm17 0h2v1h-2zm4 0h2v1h-2zm4 0h2v1h-2zm7 0h2v1h-2zm5 0h2v1h-2zm9 0h2v1h-2zm4 0h9v1h-9zm10 0h6v1h-6zm10 0h4v1h-4zm7 0h2v1h-2zm3 0h4v1h-4zm6 0h24v1h-24zm26 0h3v1h-3zm4 0h3v1h-3zm12 0h5v1h-5zm8 0h4v1h-4zm7 0h2v1h-2zm8 0h2v1h-2zm6 0h2v1h-2zm3 0h3v1h-3zm9 0h2v1h-2zm4 0h3v1h-3zm4 0h4v1h-4zm28 0h3v1h-3zm5 0h2v1h-2zm4 0h2v1h-2zm4 0h2v1h-2zm6 0h2v1h-2zm5 0h2v1h-2zm5 0h4v1h-4zm7 0h2v1h-2zm8 0h3v1h-3zm6 0h2v1h-2zm13 0h2v1h-2zm4 0h2v1h-2zm7 0h2v1h-2zm5 0h4v1h-4zm21 0h2v1h-2zm5 0h2v1h-2zm-309 1h2v1h-2zm16 0h2v1h-2zm4 0h2v1h-2zm3 0h3v1h-3zm8 0h4v1h-4zm8 0h2v1h-2zm6 0h2v1h-2zm8 0h2v1h-2zm6 0h6v1h-6zm7 0h2v1h-2zm3 0h2v1h-2zm7 0h2v1h-2zm3 0h4v1h-4zm6 0h20v1h-20zm21 0h3v1h-3zm5 0h2v1h-2zm3 0h3v1h-3zm5 0h2v1h-2zm5 0h5v1h-5zm7 0h8v1h-8zm11 0h2v1h-2zm6 0h4v1h-4zm8 0h2v1h-2zm4 0h2v1h-2zm12 0h3v1h-3zm4 0h2v1h-2zm29 0h2v1h-2zm4 0h2v1h-2zm4 0h2v1h-2zm4 0h2v1h-2zm10 0h3v1h-3zm8 0h2v1h-2zm5 0h2v1h-2zm9 0h2v1h-2zm8 0h2v1h-2zm4 0h2v1h-2zm6 0h2v1h-2zm4 0h2v1h-2zm7 0h2v1h-2zm3 0h6v1h-6zm-281 1h2v1h-2zm23 0h2v1h-2zm8 0h4v1h-4zm6 0h4v1h-4zm8 0h2v1h-2zm8 0h11v1h-11zm13 0h14v1h-14zm15 0h3v1h-3zm4 0h18v1h-18zm22 0h6v1h-6zm7 0h2v1h-2zm5 0h2v1h-2zm5 0h3v1h-3zm7 0h4v1h-4zm5 0h2v1h-2zm6 0h2v1h-2zm6 0h4v1h-4zm10 0h2v1h-2zm13 0h2v1h-2zm6 0h2v1h-2zm28 0h2v1h-2zm12 0h2v1h-2zm10 0h2v1h-2zm22 0h2v1h-2zm8 0h2v1h-2zm4 0h2v1h-2zm20 0h2v1h-2zm4 0h2v1h-2zm14 0h2v1h-2zm-302 1h3v1h-3zm9 0h2v1h-2zm5 0h3v1h-3zm4 0h2v1h-2zm15 0h3v1h-3zm4 0h2v1h-2zm3 0h2v1h-2zm5 0h2v1h-2zm3 0h2v1h-2zm10 0h9v1h-9zm11 0h19v1h-19zm20 0h3v1h-3zm4 0h6v1h-6zm7 0h5v1h-5zm6 0h2v1h-2zm4 0h4v1h-4zm5 0h2v1h-2zm5 0h4v1h-4zm5 0h3v1h-3zm4 0h7v1h-7zm24 0h2v1h-2zm3 0h3v1h-3zm5 0h2v1h-2zm5 0h2v1h-2zm5 0h5v1h-5zm9 0h5v1h-5zm13 0h2v1h-2zm15 0h3v1h-3zm12 0h2v1h-2zm3 0h2v1h-2zm29 0h2v1h-2zm21 0h2v1h-2zm3 0h4v1h-4zm8 0h2v1h-2zm7 0h2v1h-2zm11 0h2v1h-2zm-302 1h3v1h-3zm9 0h2v1h-2zm5 0h3v1h-3zm4 0h2v1h-2zm15 0h3v1h-3zm4 0h2v1h-2zm8 0h6v1h-6zm7 0h7v1h-7zm10 0h9v1h-9zm11 0h6v1h-6zm8 0h22v1h-22zm25 0h3v1h-3zm9 0h2v1h-2zm5 0h8v1h-8zm9 0h6v1h-6zm11 0h2v1h-2zm11 0h2v1h-2zm5 0h3v1h-3zm5 0h2v1h-2zm5 0h2v1h-2zm5 0h3v1h-3zm11 0h3v1h-3zm11 0h2v1h-2zm16 0h2v1h-2zm6 0h2v1h-2zm5 0h7v1h-7zm53 0h2v1h-2zm3 0h4v1h-4zm15 0h2v1h-2zm-295 1h2v1h-2zm3 0h2v1h-2zm14 0h4v1h-4zm5 0h3v1h-3zm5 0h2v1h-2zm23 0h5v1h-5zm6 0h9v1h-9zm10 0h3v1h-3zm4 0h5v1h-5zm7 0h13v1h-13zm14 0h7v1h-7zm11 0h2v1h-2zm9 0h4v1h-4zm6 0h2v1h-2zm6 0h9v1h-9zm10 0h3v1h-3zm7 0h2v1h-2zm4 0h2v1h-2zm10 0h3v1h-3zm4 0h2v1h-2zm5 0h4v1h-4zm8 0h2v1h-2zm6 0h2v1h-2zm9 0h2v1h-2zm11 0h2v1h-2zm5 0h2v1h-2zm16 0h3v1h-3zm7 0h2v1h-2zm4 0h2v1h-2zm91 0h1v1h-1zm-320 1h2v1h-2zm3 0h2v1h-2zm6 0h2v1h-2zm3 0h2v1h-2zm5 0h2v1h-2zm6 0h2v1h-2zm4 0h2v1h-2zm5 0h4v1h-4zm5 0h2v1h-2zm7 0h2v1h-2zm6 0h6v1h-6zm11 0h6v1h-6zm9 0h5v1h-5zm6 0h2v1h-2zm3 0h16v1h-16zm17 0h4v1h-4zm6 0h2v1h-2zm3 0h4v1h-4zm6 0h4v1h-4zm6 0h2v1h-2zm4 0h6v1h-6zm7 0h4v1h-4zm12 0h3v1h-3zm5 0h2v1h-2zm9 0h3v1h-3zm4 0h9v1h-9zm13 0h2v1h-2zm6 0h4v1h-4zm11 0h4v1h-4zm14 0h2v1h-2zm13 0h5v1h-5zm62 0h2v1h-2zm37 0h2v1h-2zm6 0h1v1h-1zm-319 1h2v1h-2zm8 0h2v1h-2zm3 0h2v1h-2zm7 0h2v1h-2zm13 0h4v1h-4zm5 0h2v1h-2zm7 0h2v1h-2zm5 0h3v1h-3zm4 0h5v1h-5zm7 0h4v1h-4zm5 0h2v1h-2zm11 0h5v1h-5zm8 0h7v1h-7zm8 0h2v1h-2zm4 0h13v1h-13zm15 0h2v1h-2zm3 0h3v1h-3zm5 0h13v1h-13zm16 0h2v1h-2zm6 0h2v1h-2zm4 0h2v1h-2zm9 0h3v1h-3zm5 0h5v1h-5zm6 0h2v1h-2zm13 0h3v1h-3zm10 0h4v1h-4zm27 0h4v1h-4zm16 0h2v1h-2zm9 0h2v1h-2zm30 0h2v1h-2zm7 0h2v1h-2zm4 0h2v1h-2zm12 0h2v1h-2zm21 0h2v1h-2zm-313 1h2v1h-2zm7 0h2v1h-2zm9 0h4v1h-4zm12 0h2v1h-2zm3 0h2v1h-2zm9 0h5v1h-5zm8 0h2v1h-2zm6 0h3v1h-3zm5 0h4v1h-4zm7 0h14v1h-14zm15 0h9v1h-9zm10 0h2v1h-2zm4 0h13v1h-13zm14 0h2v1h-2zm4 0h4v1h-4zm5 0h2v1h-2zm3 0h3v1h-3zm4 0h5v1h-5zm8 0h3v1h-3zm20 0h3v1h-3zm8 0h2v1h-2zm8 0h2v1h-2zm8 0h3v1h-3zm53 0h2v1h-2zm6 0h2v1h-2zm3 0h2v1h-2zm30 0h2v1h-2zm11 0h2v1h-2zm7 0h4v1h-4zm5 0h2v1h-2zm-288 1h2v1h-2zm3 0h2v1h-2zm9 0h2v1h-2zm5 0h3v1h-3zm7 0h2v1h-2zm12 0h3v1h-3zm7 0h2v1h-2zm7 0h2v1h-2zm8 0h13v1h-13zm15 0h2v1h-2zm4 0h3v1h-3zm4 0h3v1h-3zm6 0h4v1h-4zm5 0h7v1h-7zm13 0h2v1h-2zm6 0h5v1h-5zm6 0h9v1h-9zm12 0h2v1h-2zm3 0h2v1h-2zm10 0h2v1h-2zm8 0h2v1h-2zm3 0h3v1h-3zm12 0h3v1h-3zm9 0h2v1h-2zm4 0h2v1h-2zm41 0h2v1h-2zm10 0h2v1h-2zm3 0h2v1h-2zm14 0h2v1h-2zm3 0h2v1h-2zm19 0h2v1h-2zm7 0h2v1h-2zm8 0h4v1h-4zm-288 1h2v1h-2zm5 0h2v1h-2zm6 0h2v1h-2zm11 0h3v1h-3zm9 0h2v1h-2zm13 0h2v1h-2zm4 0h2v1h-2zm11 0h2v1h-2zm4 0h5v1h-5zm12 0h2v1h-2zm3 0h2v1h-2zm4 0h2v1h-2zm4 0h2v1h-2zm3 0h7v1h-7zm8 0h4v1h-4zm5 0h2v1h-2zm7 0h5v1h-5zm7 0h5v1h-5zm6 0h2v1h-2zm3 0h6v1h-6zm12 0h2v1h-2zm10 0h4v1h-4zm11 0h3v1h-3zm13 0h2v1h-2zm8 0h2v1h-2zm4 0h2v1h-2zm4 0h2v1h-2zm37 0h2v1h-2zm10 0h2v1h-2zm17 0h2v1h-2zm3 0h2v1h-2zm19 0h2v1h-2zm7 0h4v1h-4zm23 0h2v1h-2zm-303 1h2v1h-2zm11 0h6v1h-6zm11 0h2v1h-2zm9 0h2v1h-2zm4 0h2v1h-2zm5 0h6v1h-6zm11 0h2v1h-2zm8 0h2v1h-2zm4 0h7v1h-7zm11 0h3v1h-3zm4 0h3v1h-3zm4 0h2v1h-2zm7 0h9v1h-9zm10 0h5v1h-5zm6 0h2v1h-2zm4 0h5v1h-5zm6 0h4v1h-4zm7 0h5v1h-5zm7 0h2v1h-2zm8 0h4v1h-4zm11 0h3v1h-3zm9 0h4v1h-4zm24 0h2v1h-2zm6 0h2v1h-2zm95 0h2v1h-2zm21 0h2v1h-2zm-291 1h7v1h-7zm17 0h2v1h-2zm6 0h2v1h-2zm5 0h4v1h-4zm8 0h2v1h-2zm3 0h2v1h-2zm6 0h6v1h-6zm8 0h5v1h-5zm6 0h7v1h-7zm8 0h4v1h-4zm8 0h2v1h-2zm3 0h2v1h-2zm3 0h5v1h-5zm7 0h8v1h-8zm9 0h4v1h-4zm5 0h5v1h-5zm7 0h6v1h-6zm7 0h3v1h-3zm9 0h4v1h-4zm5 0h4v1h-4zm10 0h2v1h-2zm5 0h4v1h-4zm6 0h2v1h-2zm8 0h2v1h-2zm10 0h2v1h-2zm8 0h2v1h-2zm27 0h2v1h-2zm8 0h2v1h-2zm49 0h2v1h-2zm10 0h2v1h-2zm-282 1h2v1h-2zm10 0h3v1h-3zm6 0h2v1h-2zm5 0h2v1h-2zm6 0h3v1h-3zm20 0h3v1h-3zm9 0h6v1h-6zm9 0h2v1h-2zm3 0h9v1h-9zm10 0h4v1h-4zm6 0h4v1h-4zm5 0h2v1h-2zm5 0h2v1h-2zm3 0h10v1h-10zm11 0h3v1h-3zm4 0h6v1h-6zm7 0h3v1h-3zm5 0h5v1h-5zm17 0h6v1h-6zm10 0h2v1h-2zm11 0h2v1h-2zm8 0h3v1h-3zm18 0h2v1h-2zm8 0h2v1h-2zm18 0h3v1h-3zm9 0h2v1h-2zm49 0h2v1h-2zm10 0h2v1h-2zm3 0h2v1h-2zm-285 1h2v1h-2zm10 0h3v1h-3zm11 0h2v1h-2zm6 0h2v1h-2zm3 0h3v1h-3zm18 0h2v1h-2zm8 0h4v1h-4zm9 0h2v1h-2zm3 0h6v1h-6zm7 0h2v1h-2zm3 0h5v1h-5zm6 0h2v1h-2zm3 0h2v1h-2zm3 0h6v1h-6zm7 0h4v1h-4zm5 0h4v1h-4zm5 0h4v1h-4zm5 0h11v1h-11zm13 0h7v1h-7zm18 0h4v1h-4zm12 0h2v1h-2zm4 0h2v1h-2zm3 0h2v1h-2zm9 0h2v1h-2zm25 0h2v1h-2zm18 0h2v1h-2zm46 0h2v1h-2zm25 0h2v1h-2zm-275 1h2v1h-2zm20 0h3v1h-3zm9 0h2v1h-2zm16 0h2v1h-2zm15 0h10v1h-10zm11 0h2v1h-2zm3 0h5v1h-5zm6 0h6v1h-6zm8 0h4v1h-4zm6 0h7v1h-7zm8 0h21v1h-21zm25 0h2v1h-2zm12 0h2v1h-2zm6 0h2v1h-2zm4 0h2v1h-2zm3 0h5v1h-5zm98 0h2v1h-2zm9 0h2v1h-2zm-268 1h2v1h-2zm19 0h2v1h-2zm19 0h2v1h-2zm3 0h2v1h-2zm5 0h2v1h-2zm3 0h2v1h-2zm5 0h3v1h-3zm12 0h2v1h-2zm3 0h2v1h-2zm3 0h5v1h-5zm6 0h2v1h-2zm4 0h13v1h-13zm15 0h4v1h-4zm6 0h6v1h-6zm8 0h13v1h-13zm14 0h2v1h-2zm3 0h4v1h-4zm8 0h2v1h-2zm4 0h2v1h-2zm8 0h2v1h-2zm14 0h4v1h-4zm71 0h2v1h-2zm35 0h2v1h-2zm-268 1h2v1h-2zm19 0h2v1h-2zm6 0h2v1h-2zm16 0h2v1h-2zm4 0h3v1h-3zm4 0h2v1h-2zm6 0h2v1h-2zm3 0h2v1h-2zm6 0h6v1h-6zm11 0h21v1h-21zm22 0h2v1h-2zm5 0h2v1h-2zm4 0h3v1h-3zm4 0h5v1h-5zm6 0h5v1h-5zm6 0h2v1h-2zm5 0h3v1h-3zm12 0h3v1h-3zm7 0h2v1h-2zm76 0h2v1h-2zm11 0h2v1h-2zm6 0h2v1h-2zm47 0h2v1h-2zm-261 1h2v1h-2zm7 0h2v1h-2zm13 0h2v1h-2zm8 0h2v1h-2zm5 0h2v1h-2zm6 0h2v1h-2zm3 0h3v1h-3zm8 0h8v1h-8zm9 0h7v1h-7zm8 0h5v1h-5zm6 0h2v1h-2zm4 0h5v1h-5zm8 0h5v1h-5zm15 0h4v1h-4zm13 0h3v1h-3zm8 0h2v1h-2zm14 0h2v1h-2zm6 0h2v1h-2zm14 0h2v1h-2zm13 0h2v1h-2zm29 0h2v1h-2zm3 0h2v1h-2zm7 0h2v1h-2zm7 0h2v1h-2zm4 0h2v1h-2zm11 0h3v1h-3zm32 0h2v1h-2zm16 0h2v1h-2zm4 0h2v1h-2zm-287 1h2v1h-2zm12 0h3v1h-3zm4 0h4v1h-4zm14 0h2v1h-2zm4 0h6v1h-6zm14 0h2v1h-2zm5 0h8v1h-8zm9 0h2v1h-2zm3 0h7v1h-7zm8 0h8v1h-8zm10 0h5v1h-5zm8 0h5v1h-5zm8 0h4v1h-4zm7 0h4v1h-4zm9 0h2v1h-2zm4 0h2v1h-2zm6 0h4v1h-4zm6 0h2v1h-2zm10 0h3v1h-3zm6 0h2v1h-2zm3 0h2v1h-2zm11 0h2v1h-2zm13 0h2v1h-2zm14 0h2v1h-2zm5 0h2v1h-2zm13 0h2v1h-2zm7 0h2v1h-2zm11 0h2v1h-2zm11 0h3v1h-3zm48 0h2v1h-2zm4 0h2v1h-2zm-287 1h2v1h-2zm12 0h2v1h-2zm4 0h6v1h-6zm10 0h3v1h-3zm4 0h2v1h-2zm3 0h2v1h-2zm3 0h4v1h-4zm12 0h2v1h-2zm4 0h8v1h-8zm13 0h15v1h-15zm18 0h2v1h-2zm3 0h2v1h-2zm3 0h3v1h-3zm5 0h2v1h-2zm5 0h4v1h-4zm8 0h3v1h-3zm8 0h2v1h-2zm10 0h2v1h-2zm4 0h4v1h-4zm6 0h5v1h-5zm6 0h3v1h-3zm9 0h2v1h-2zm24 0h2v1h-2zm14 0h3v1h-3zm5 0h2v1h-2zm22 0h2v1h-2zm9 0h2v1h-2zm3 0h2v1h-2zm-242 1h2v1h-2zm9 0h2v1h-2zm6 0h2v1h-2zm4 0h2v1h-2zm8 0h2v1h-2zm8 0h2v1h-2zm6 0h3v1h-3zm7 0h2v1h-2zm3 0h2v1h-2zm5 0h4v1h-4zm6 0h3v1h-3zm5 0h2v1h-2zm4 0h2v1h-2zm6 0h2v1h-2zm3 0h2v1h-2zm3 0h19v1h-19zm21 0h3v1h-3zm5 0h2v1h-2zm3 0h7v1h-7zm8 0h2v1h-2zm4 0h2v1h-2zm4 0h2v1h-2zm16 0h2v1h-2zm4 0h7v1h-7zm8 0h2v1h-2zm4 0h2v1h-2zm18 0h2v1h-2zm3 0h2v1h-2zm23 0h2v1h-2zm9 0h2v1h-2zm17 0h2v1h-2zm12 0h2v1h-2zm26 0h2v1h-2zm-268 1h2v1h-2zm9 0h2v1h-2zm5 0h3v1h-3zm5 0h2v1h-2zm8 0h2v1h-2zm8 0h2v1h-2zm15 0h3v1h-3zm6 0h4v1h-4zm6 0h3v1h-3zm5 0h2v1h-2zm10 0h8v1h-8zm9 0h12v1h-12zm14 0h2v1h-2zm6 0h5v1h-5zm6 0h7v1h-7zm8 0h6v1h-6zm8 0h4v1h-4zm20 0h2v1h-2zm11 0h3v1h-3zm6 0h2v1h-2zm13 0h2v1h-2zm3 0h2v1h-2zm10 0h2v1h-2zm22 0h2v1h-2zm3 0h2v1h-2zm42 0h2v1h-2zm10 0h2v1h-2zm7 0h2v1h-2zm9 0h2v1h-2zm-270 1h2v1h-2zm5 0h2v1h-2zm8 0h2v1h-2zm3 0h2v1h-2zm5 0h2v1h-2zm5 0h2v1h-2zm6 0h3v1h-3zm4 0h3v1h-3zm5 0h3v1h-3zm8 0h10v1h-10zm14 0h7v1h-7zm8 0h8v1h-8zm16 0h2v1h-2zm5 0h4v1h-4zm6 0h8v1h-8zm9 0h4v1h-4zm5 0h2v1h-2zm4 0h2v1h-2zm4 0h2v1h-2zm9 0h2v1h-2zm9 0h3v1h-3zm7 0h4v1h-4zm6 0h2v1h-2zm9 0h2v1h-2zm9 0h2v1h-2zm8 0h2v1h-2zm22 0h2v1h-2zm3 0h2v1h-2zm5 0h2v1h-2zm37 0h2v1h-2zm17 0h2v1h-2zm9 0h2v1h-2zm-265 1h2v1h-2zm4 0h2v1h-2zm7 0h2v1h-2zm5 0h2v1h-2zm5 0h2v1h-2zm6 0h3v1h-3zm9 0h3v1h-3zm5 0h13v1h-13zm19 0h16v1h-16zm19 0h12v1h-12zm14 0h5v1h-5zm6 0h2v1h-2zm3 0h2v1h-2zm5 0h2v1h-2zm7 0h4v1h-4zm6 0h2v1h-2zm4 0h2v1h-2zm9 0h3v1h-3zm6 0h2v1h-2zm3 0h2v1h-2zm13 0h2v1h-2zm9 0h2v1h-2zm3 0h2v1h-2zm16 0h2v1h-2zm19 0h2v1h-2zm28 0h2v1h-2zm9 0h2v1h-2zm22 0h2v1h-2zm-260 1h2v1h-2zm3 0h2v1h-2zm3 0h2v1h-2zm27 0h2v1h-2zm4 0h9v1h-9zm12 0h4v1h-4zm8 0h9v1h-9zm10 0h8v1h-8zm10 0h5v1h-5zm6 0h7v1h-7zm8 0h2v1h-2zm3 0h3v1h-3zm7 0h2v1h-2zm12 0h4v1h-4zm6 0h2v1h-2zm6 0h2v1h-2zm13 0h2v1h-2zm14 0h2v1h-2zm14 0h2v1h-2zm3 0h2v1h-2zm4 0h2v1h-2zm9 0h2v1h-2zm4 0h2v1h-2zm3 0h2v1h-2zm40 0h2v1h-2zm3 0h2v1h-2zm6 0h2v1h-2zm22 0h2v1h-2zm-281 1h2v1h-2zm8 0h2v1h-2zm13 0h2v1h-2zm6 0h2v1h-2zm10 0h2v1h-2zm16 0h3v1h-3zm5 0h5v1h-5zm6 0h2v1h-2zm6 0h6v1h-6zm8 0h4v1h-4zm6 0h3v1h-3zm5 0h2v1h-2zm4 0h2v1h-2zm5 0h6v1h-6zm7 0h2v1h-2zm3 0h3v1h-3zm4 0h6v1h-6zm12 0h2v1h-2zm5 0h2v1h-2zm3 0h2v1h-2zm6 0h3v1h-3zm8 0h5v1h-5zm7 0h2v1h-2zm20 0h2v1h-2zm17 0h2v1h-2zm4 0h2v1h-2zm13 0h2v1h-2zm3 0h2v1h-2zm12 0h2v1h-2zm31 0h2v1h-2zm-253 1h2v1h-2zm8 0h2v1h-2zm6 0h2v1h-2zm14 0h2v1h-2zm4 0h2v1h-2zm5 0h2v1h-2zm15 0h3v1h-3zm6 0h5v1h-5zm9 0h3v1h-3zm5 0h4v1h-4zm5 0h2v1h-2zm7 0h3v1h-3zm5 0h6v1h-6zm7 0h5v1h-5zm6 0h2v1h-2zm3 0h5v1h-5zm7 0h7v1h-7zm8 0h2v1h-2zm3 0h3v1h-3zm4 0h4v1h-4zm5 0h2v1h-2zm6 0h3v1h-3zm10 0h7v1h-7zm30 0h2v1h-2zm4 0h2v1h-2zm4 0h2v1h-2zm22 0h3v1h-3zm13 0h3v1h-3zm40 0h2v1h-2zm9 0h2v1h-2zm-272 1h3v1h-3zm5 0h2v1h-2zm5 0h2v1h-2zm6 0h2v1h-2zm14 0h2v1h-2zm4 0h4v1h-4zm17 0h2v1h-2zm3 0h3v1h-3zm6 0h2v1h-2zm3 0h2v1h-2zm6 0h3v1h-3zm4 0h8v1h-8zm13 0h3v1h-3zm4 0h6v1h-6zm8 0h5v1h-5zm6 0h2v1h-2zm3 0h4v1h-4zm12 0h2v1h-2zm3 0h6v1h-6zm7 0h5v1h-5zm11 0h2v1h-2zm7 0h2v1h-2zm6 0h2v1h-2zm15 0h2v1h-2zm5 0h2v1h-2zm7 0h2v1h-2zm4 0h2v1h-2zm4 0h2v1h-2zm9 0h2v1h-2zm13 0h3v1h-3zm13 0h3v1h-3zm39 0h3v1h-3zm10 0h4v1h-4zm9 0h2v1h-2zm-281 1h4v1h-4zm5 0h2v1h-2zm17 0h2v1h-2zm14 0h2v1h-2zm8 0h2v1h-2zm7 0h2v1h-2zm7 0h24v1h-24zm26 0h2v1h-2zm3 0h5v1h-5zm6 0h6v1h-6zm7 0h12v1h-12zm21 0h2v1h-2zm3 0h5v1h-5zm6 0h4v1h-4zm10 0h2v1h-2zm3 0h2v1h-2zm4 0h2v1h-2zm7 0h2v1h-2zm14 0h2v1h-2zm5 0h2v1h-2zm3 0h2v1h-2zm8 0h2v1h-2zm13 0h2v1h-2zm9 0h2v1h-2zm10 0h2v1h-2zm46 0h2v1h-2zm12 0h2v1h-2zm7 0h2v1h-2zm10 0h2v1h-2zm4 0h2v1h-2zm-293 1h2v1h-2zm20 0h2v1h-2zm3 0h2v1h-2zm3 0h2v1h-2zm16 0h4v1h-4zm6 0h2v1h-2zm8 0h11v1h-11zm13 0h11v1h-11zm13 0h2v1h-2zm3 0h4v1h-4zm7 0h5v1h-5zm6 0h4v1h-4zm6 0h8v1h-8zm14 0h3v1h-3zm7 0h2v1h-2zm3 0h2v1h-2zm6 0h2v1h-2zm7 0h6v1h-6zm11 0h2v1h-2zm8 0h2v1h-2zm14 0h2v1h-2zm8 0h4v1h-4zm22 0h2v1h-2zm10 0h2v1h-2zm68 0h2v1h-2zm7 0h2v1h-2zm4 0h2v1h-2zm-296 1h2v1h-2zm8 0h2v1h-2zm4 0h2v1h-2zm13 0h3v1h-3zm4 0h2v1h-2zm8 0h2v1h-2zm8 0h4v1h-4zm6 0h3v1h-3zm6 0h2v1h-2zm9 0h2v1h-2zm4 0h2v1h-2zm7 0h5v1h-5zm8 0h2v1h-2zm3 0h8v1h-8zm10 0h4v1h-4zm5 0h2v1h-2zm5 0h3v1h-3zm5 0h2v1h-2zm4 0h6v1h-6zm11 0h2v1h-2zm3 0h2v1h-2zm6 0h2v1h-2zm7 0h6v1h-6zm16 0h2v1h-2zm3 0h2v1h-2zm24 0h2v1h-2zm9 0h2v1h-2zm89 0h2v1h-2zm-285 1h2v1h-2zm8 0h2v1h-2zm3 0h5v1h-5zm14 0h2v1h-2zm12 0h2v1h-2zm15 0h2v1h-2zm3 0h4v1h-4zm9 0h2v1h-2zm6 0h2v1h-2zm7 0h5v1h-5zm6 0h4v1h-4zm7 0h7v1h-7zm8 0h13v1h-13zm19 0h7v1h-7zm19 0h2v1h-2zm8 0h4v1h-4zm9 0h2v1h-2zm7 0h2v1h-2zm4 0h2v1h-2zm32 0h2v1h-2zm32 0h2v1h-2zm-217 1h2v1h-2zm3 0h2v1h-2zm18 0h2v1h-2zm20 0h2v1h-2zm3 0h4v1h-4zm7 0h6v1h-6zm9 0h2v1h-2zm4 0h23v1h-23zm24 0h2v1h-2zm3 0h8v1h-8zm10 0h8v1h-8zm9 0h6v1h-6zm9 0h2v1h-2zm6 0h2v1h-2zm4 0h3v1h-3zm4 0h4v1h-4zm9 0h2v1h-2zm11 0h2v1h-2zm64 0h2v1h-2zm48 0h2v1h-2zm-265 1h2v1h-2zm3 0h2v1h-2zm5 0h2v1h-2zm5 0h2v1h-2zm3 0h2v1h-2zm5 0h2v1h-2zm5 0h2v1h-2zm14 0h3v1h-3zm5 0h4v1h-4zm6 0h2v1h-2zm4 0h2v1h-2zm5 0h2v1h-2zm4 0h15v1h-15zm16 0h13v1h-13zm14 0h6v1h-6zm7 0h8v1h-8zm9 0h8v1h-8zm9 0h3v1h-3zm10 0h3v1h-3zm4 0h2v1h-2zm14 0h2v1h-2zm14 0h2v1h-2zm10 0h2v1h-2zm94 0h2v1h-2zm-262 1h2v1h-2zm5 0h2v1h-2zm5 0h2v1h-2zm3 0h2v1h-2zm10 0h2v1h-2zm14 0h2v1h-2zm3 0h6v1h-6zm7 0h2v1h-2zm17 0h7v1h-7zm8 0h2v1h-2zm7 0h2v1h-2zm3 0h3v1h-3zm5 0h2v1h-2zm4 0h3v1h-3zm4 0h2v1h-2zm4 0h7v1h-7zm8 0h2v1h-2zm3 0h5v1h-5zm7 0h2v1h-2zm4 0h2v1h-2zm23 0h2v1h-2zm14 0h2v1h-2zm10 0h2v1h-2zm26 0h2v1h-2zm50 0h2v1h-2zm5 0h2v1h-2zm-213 1h2v1h-2zm4 0h2v1h-2zm5 0h4v1h-4zm15 0h2v1h-2zm5 0h5v1h-5zm6 0h10v1h-10zm11 0h2v1h-2zm3 0h5v1h-5zm6 0h3v1h-3zm6 0h10v1h-10zm11 0h5v1h-5zm13 0h3v1h-3zm28 0h2v1h-2zm11 0h2v1h-2zm5 0h4v1h-4zm5 0h2v1h-2zm4 0h3v1h-3zm20 0h2v1h-2zm30 0h2v1h-2zm20 0h2v1h-2zm5 0h2v1h-2zm4 0h2v1h-2zm-267 1h2v1h-2zm49 0h5v1h-5zm10 0h8v1h-8zm10 0h4v1h-4zm5 0h4v1h-4zm5 0h18v1h-18zm20 0h7v1h-7zm12 0h10v1h-10zm11 0h2v1h-2zm3 0h2v1h-2zm4 0h3v1h-3zm7 0h2v1h-2zm15 0h2v1h-2zm4 0h2v1h-2zm8 0h2v1h-2zm11 0h2v1h-2zm5 0h4v1h-4zm5 0h2v1h-2zm4 0h3v1h-3zm50 0h3v1h-3zm29 0h2v1h-2zm-267 1h2v1h-2zm29 0h2v1h-2zm19 0h6v1h-6zm8 0h2v1h-2zm5 0h6v1h-6zm8 0h4v1h-4zm7 0h2v1h-2zm4 0h9v1h-9zm10 0h2v1h-2zm4 0h3v1h-3zm6 0h2v1h-2zm3 0h3v1h-3zm6 0h6v1h-6zm8 0h3v1h-3zm5 0h2v1h-2zm7 0h3v1h-3zm10 0h3v1h-3zm4 0h2v1h-2zm8 0h6v1h-6zm14 0h2v1h-2zm74 0h2v1h-2zm-213 1h2v1h-2zm3 0h2v1h-2zm19 0h4v1h-4zm8 0h2v1h-2zm5 0h2v1h-2zm3 0h9v1h-9zm17 0h9v1h-9zm13 0h2v1h-2zm3 0h5v1h-5zm6 0h9v1h-9zm10 0h2v1h-2zm4 0h2v1h-2zm7 0h3v1h-3zm6 0h2v1h-2zm9 0h3v1h-3zm4 0h2v1h-2zm10 0h3v1h-3zm12 0h2v1h-2zm10 0h2v1h-2zm60 0h2v1h-2zm-235 1h2v1h-2zm26 0h2v1h-2zm24 0h2v1h-2zm11 0h2v1h-2zm3 0h9v1h-9zm12 0h2v1h-2zm8 0h2v1h-2zm3 0h3v1h-3zm4 0h2v1h-2zm3 0h2v1h-2zm3 0h4v1h-4zm6 0h9v1h-9zm14 0h3v1h-3zm6 0h4v1h-4zm52 0h2v1h-2zm3 0h2v1h-2zm10 0h2v1h-2zm26 0h2v1h-2zm5 0h2v1h-2zm16 0h2v1h-2zm44 0h2v1h-2zm-279 1h2v1h-2zm22 0h2v1h-2zm4 0h2v1h-2zm17 0h4v1h-4zm7 0h3v1h-3zm11 0h2v1h-2zm3 0h2v1h-2zm6 0h4v1h-4zm6 0h2v1h-2zm5 0h2v1h-2zm3 0h3v1h-3zm4 0h2v1h-2zm3 0h5v1h-5zm10 0h9v1h-9zm10 0h2v1h-2zm6 0h10v1h-10zm23 0h6v1h-6zm9 0h2v1h-2zm5 0h2v1h-2zm15 0h2v1h-2zm9 0h2v1h-2zm10 0h2v1h-2zm9 0h2v1h-2zm17 0h2v1h-2zm5 0h2v1h-2zm3 0h2v1h-2zm5 0h2v1h-2zm52 0h2v1h-2zm16 0h2v1h-2zm-273 1h2v1h-2zm4 0h2v1h-2zm11 0h2v1h-2zm6 0h4v1h-4zm5 0h2v1h-2zm3 0h3v1h-3zm5 0h2v1h-2zm5 0h3v1h-3zm11 0h4v1h-4zm8 0h14v1h-14zm17 0h13v1h-13zm14 0h2v1h-2zm5 0h2v1h-2zm3 0h8v1h-8zm12 0h2v1h-2zm8 0h8v1h-8zm10 0h2v1h-2zm5 0h2v1h-2zm15 0h6v1h-6zm28 0h2v1h-2zm25 0h2v1h-2zm5 0h2v1h-2zm68 0h2v1h-2zm-294 1h2v1h-2zm11 0h3v1h-3zm25 0h3v1h-3zm4 0h2v1h-2zm7 0h2v1h-2zm3 0h4v1h-4zm5 0h5v1h-5zm6 0h2v1h-2zm6 0h2v1h-2zm6 0h29v1h-29zm31 0h2v1h-2zm3 0h2v1h-2zm3 0h2v1h-2zm5 0h2v1h-2zm4 0h10v1h-10zm11 0h3v1h-3zm4 0h2v1h-2zm4 0h2v1h-2zm5 0h3v1h-3zm18 0h2v1h-2zm9 0h4v1h-4zm17 0h2v1h-2zm107 0h2v1h-2zm7 0h2v1h-2zm14 0h2v1h-2zm-315 1h2v1h-2zm11 0h3v1h-3zm10 0h2v1h-2zm11 0h3v1h-3zm5 0h2v1h-2zm3 0h2v1h-2zm3 0h2v1h-2zm3 0h2v1h-2zm3 0h5v1h-5zm7 0h4v1h-4zm11 0h3v1h-3zm4 0h2v1h-2zm3 0h11v1h-11zm16 0h6v1h-6zm7 0h2v1h-2zm3 0h8v1h-8zm10 0h4v1h-4zm5 0h14v1h-14zm16 0h5v1h-5zm12 0h3v1h-3zm18 0h2v1h-2zm13 0h2v1h-2zm13 0h2v1h-2zm15 0h2v1h-2zm92 0h2v1h-2zm7 0h2v1h-2zm14 0h2v1h-2zm-311 1h2v1h-2zm17 0h2v1h-2zm9 0h5v1h-5zm6 0h2v1h-2zm7 0h5v1h-5zm6 0h5v1h-5zm18 0h3v1h-3zm4 0h14v1h-14zm17 0h7v1h-7zm9 0h2v1h-2zm3 0h8v1h-8zm10 0h12v1h-12zm15 0h4v1h-4zm8 0h2v1h-2zm5 0h2v1h-2zm11 0h2v1h-2zm4 0h2v1h-2zm21 0h2v1h-2zm28 0h2v1h-2zm8 0h2v1h-2zm39 0h2v1h-2zm-245 1h2v1h-2zm12 0h2v1h-2zm14 0h2v1h-2zm5 0h3v1h-3zm9 0h4v1h-4zm8 0h4v1h-4zm10 0h5v1h-5zm6 0h2v1h-2zm3 0h9v1h-9zm15 0h10v1h-10zm11 0h15v1h-15zm17 0h8v1h-8zm11 0h5v1h-5zm8 0h2v1h-2zm5 0h2v1h-2zm5 0h2v1h-2zm6 0h2v1h-2zm4 0h2v1h-2zm57 0h2v1h-2zm31 0h2v1h-2zm8 0h2v1h-2zm66 0h2v1h-2zm-299 1h2v1h-2zm14 0h2v1h-2zm4 0h3v1h-3zm4 0h2v1h-2zm6 0h4v1h-4zm9 0h3v1h-3zm7 0h10v1h-10zm12 0h4v1h-4zm5 0h5v1h-5zm9 0h3v1h-3zm7 0h8v1h-8zm10 0h11v1h-11zm13 0h10v1h-10zm12 0h2v1h-2zm15 0h2v1h-2zm98 0h2v1h-2zm26 0h2v1h-2zm48 0h2v1h-2zm-304 1h2v1h-2zm23 0h2v1h-2zm4 0h2v1h-2zm13 0h4v1h-4zm9 0h9v1h-9zm12 0h2v1h-2zm5 0h2v1h-2zm3 0h2v1h-2zm6 0h3v1h-3zm5 0h10v1h-10zm11 0h7v1h-7zm9 0h3v1h-3zm6 0h9v1h-9zm11 0h3v1h-3zm107 0h2v1h-2zm5 0h2v1h-2zm27 0h2v1h-2zm-262 1h2v1h-2zm6 0h2v1h-2zm3 0h2v1h-2zm37 0h2v1h-2zm13 0h13v1h-13zm19 0h6v1h-6zm8 0h9v1h-9zm10 0h7v1h-7zm11 0h2v1h-2zm8 0h2v1h-2zm4 0h2v1h-2zm4 0h4v1h-4zm9 0h2v1h-2zm58 0h2v1h-2zm20 0h2v1h-2zm20 0h2v1h-2zm5 0h2v1h-2zm-235 1h2v1h-2zm9 0h2v1h-2zm17 0h2v1h-2zm10 0h2v1h-2zm9 0h3v1h-3zm9 0h2v1h-2zm9 0h9v1h-9zm11 0h2v1h-2zm4 0h7v1h-7zm8 0h6v1h-6zm7 0h5v1h-5zm6 0h12v1h-12zm13 0h2v1h-2zm3 0h2v1h-2zm10 0h2v1h-2zm7 0h4v1h-4zm58 0h2v1h-2zm20 0h2v1h-2zm58 0h2v1h-2zm-268 1h2v1h-2zm18 0h2v1h-2zm8 0h2v1h-2zm7 0h2v1h-2zm3 0h3v1h-3zm4 0h2v1h-2zm5 0h3v1h-3zm6 0h2v1h-2zm3 0h2v1h-2zm3 0h2v1h-2zm10 0h3v1h-3zm7 0h2v1h-2zm6 0h12v1h-12zm13 0h5v1h-5zm7 0h8v1h-8zm9 0h5v1h-5zm11 0h3v1h-3zm7 0h2v1h-2zm7 0h4v1h-4zm45 0h2v1h-2zm19 0h2v1h-2zm61 0h2v1h-2zm9 0h2v1h-2zm36 0h2v1h-2zm-308 1h2v1h-2zm21 0h3v1h-3zm11 0h2v1h-2zm5 0h2v1h-2zm4 0h5v1h-5zm7 0h2v1h-2zm7 0h2v1h-2zm6 0h2v1h-2zm10 0h2v1h-2zm4 0h2v1h-2zm4 0h2v1h-2zm5 0h9v1h-9zm10 0h2v1h-2zm3 0h2v1h-2zm3 0h2v1h-2zm3 0h5v1h-5zm9 0h9v1h-9zm12 0h6v1h-6zm7 0h2v1h-2zm9 0h2v1h-2zm43 0h2v1h-2zm19 0h2v1h-2zm61 0h2v1h-2zm45 0h2v1h-2zm-308 1h2v1h-2zm21 0h2v1h-2zm7 0h2v1h-2zm4 0h2v1h-2zm11 0h4v1h-4zm5 0h2v1h-2zm7 0h2v1h-2zm3 0h4v1h-4zm8 0h2v1h-2zm5 0h2v1h-2zm3 0h10v1h-10zm11 0h8v1h-8zm9 0h5v1h-5zm9 0h4v1h-4zm5 0h3v1h-3zm4 0h3v1h-3zm5 0h6v1h-6zm9 0h5v1h-5zm-110 1h2v1h-2zm12 0h2v1h-2zm17 0h2v1h-2zm7 0h2v1h-2zm6 0h4v1h-4zm8 0h2v1h-2zm8 0h10v1h-10zm11 0h7v1h-7zm9 0h21v1h-21zm25 0h5v1h-5zm8 0h4v1h-4zm-123 1h2v1h-2zm12 0h2v1h-2zm36 0h2v1h-2zm20 0h2v1h-2zm3 0h2v1h-2zm3 0h14v1h-14zm16 0h2v1h-2zm3 0h7v1h-7zm9 0h9v1h-9zm10 0h2v1h-2zm3 0h7v1h-7zm8 0h2v1h-2zm-131 1h3v1h-3zm8 0h2v1h-2zm22 0h2v1h-2zm22 0h2v1h-2zm11 0h2v1h-2zm6 0h2v1h-2zm3 0h2v1h-2zm4 0h2v1h-2zm3 0h10v1h-10zm12 0h5v1h-5zm8 0h2v1h-2zm3 0h2v1h-2zm3 0h3v1h-3zm4 0h3v1h-3zm4 0h9v1h-9zm10 0h10v1h-10zm-123 1h3v1h-3zm30 0h2v1h-2zm4 0h2v1h-2zm12 0h2v1h-2zm6 0h2v1h-2zm11 0h3v1h-3zm6 0h2v1h-2zm3 0h2v1h-2zm7 0h3v1h-3zm4 0h2v1h-2zm8 0h2v1h-2zm3 0h7v1h-7zm8 0h9v1h-9zm11 0h7v1h-7zm10 0h2v1h-2zm6 0h2v1h-2zm4 0h2v1h-2zm-115 1h2v1h-2zm12 0h2v1h-2zm4 0h2v1h-2zm3 0h2v1h-2zm9 0h2v1h-2zm17 0h3v1h-3zm4 0h2v1h-2zm8 0h2v1h-2zm4 0h6v1h-6zm13 0h18v1h-18zm21 0h2v1h-2zm6 0h2v1h-2zm10 0h2v1h-2zm4 0h2v1h-2zm4 0h2v1h-2zm-119 1h2v1h-2zm5 0h2v1h-2zm14 0h2v1h-2zm9 0h2v1h-2zm19 0h4v1h-4zm5 0h2v1h-2zm4 0h3v1h-3zm8 0h6v1h-6zm8 0h9v1h-9zm10 0h3v1h-3zm4 0h4v1h-4zm9 0h3v1h-3zm6 0h2v1h-2zm18 0h2v1h-2zm-117 1h2v1h-2zm3 0h2v1h-2zm14 0h2v1h-2zm6 0h2v1h-2zm3 0h2v1h-2zm19 0h2v1h-2zm5 0h2v1h-2zm4 0h2v1h-2zm4 0h2v1h-2zm4 0h2v1h-2zm3 0h3v1h-3zm5 0h2v1h-2zm3 0h6v1h-6zm11 0h7v1h-7zm8 0h4v1h-4zm5 0h3v1h-3zm5 0h4v1h-4zm13 0h2v1h-2zm-117 1h4v1h-4zm19 0h2v1h-2zm6 0h3v1h-3zm35 0h2v1h-2zm7 0h2v1h-2zm5 0h2v1h-2zm3 0h7v1h-7zm8 0h15v1h-15zm16 0h3v1h-3zm4 0h5v1h-5zm14 0h2v1h-2zm-130 1h2v1h-2zm7 0h2v1h-2zm6 0h2v1h-2zm6 0h2v1h-2zm11 0h2v1h-2zm3 0h2v1h-2zm6 0h2v1h-2zm6 0h2v1h-2zm27 0h7v1h-7zm8 0h2v1h-2zm7 0h4v1h-4zm5 0h3v1h-3zm4 0h12v1h-12zm13 0h2v1h-2zm3 0h3v1h-3zm4 0h2v1h-2zm10 0h2v1h-2zm-126 1h2v1h-2zm7 0h3v1h-3zm12 0h2v1h-2zm6 0h2v1h-2zm5 0h7v1h-7zm11 0h2v1h-2zm4 0h2v1h-2zm7 0h2v1h-2zm6 0h2v1h-2zm7 0h2v1h-2zm7 0h7v1h-7zm11 0h2v1h-2zm4 0h4v1h-4zm10 0h11v1h-11zm12 0h2v1h-2zm3 0h2v1h-2zm14 0h2v1h-2zm6 0h2v1h-2zm-137 1h2v1h-2zm13 0h2v1h-2zm12 0h2v1h-2zm5 0h2v1h-2zm6 0h2v1h-2zm4 0h2v1h-2zm6 0h2v1h-2zm4 0h3v1h-3zm7 0h2v1h-2zm6 0h5v1h-5zm7 0h3v1h-3zm9 0h7v1h-7zm9 0h2v1h-2zm6 0h5v1h-5zm7 0h2v1h-2zm4 0h14v1h-14zm15 0h3v1h-3zm10 0h2v1h-2zm4 0h2v1h-2zm3 0h2v1h-2zm-137 1h2v1h-2zm3 0h2v1h-2zm13 0h2v1h-2zm9 0h2v1h-2zm4 0h2v1h-2zm21 0h3v1h-3zm12 0h2v1h-2zm3 0h3v1h-3zm6 0h2v1h-2zm8 0h2v1h-2zm5 0h4v1h-4zm7 0h2v1h-2zm3 0h9v1h-9zm11 0h5v1h-5zm6 0h7v1h-7zm9 0h3v1h-3zm10 0h2v1h-2zm4 0h2v1h-2zm-131 1h2v1h-2zm13 0h2v1h-2zm13 0h2v1h-2zm4 0h2v1h-2zm14 0h6v1h-6zm8 0h2v1h-2zm7 0h2v1h-2zm8 0h2v1h-2zm4 0h2v1h-2zm10 0h4v1h-4zm7 0h2v1h-2zm7 0h3v1h-3zm7 0h9v1h-9zm13 0h2v1h-2zm7 0h2v1h-2zm-92 1h2v1h-2zm14 0h6v1h-6zm8 0h2v1h-2zm4 0h2v1h-2zm6 0h2v1h-2zm5 0h2v1h-2zm3 0h3v1h-3zm7 0h4v1h-4zm14 0h2v1h-2zm4 0h2v1h-2zm3 0h2v1h-2zm3 0h10v1h-10zm14 0h2v1h-2zm4 0h2v1h-2zm3 0h4v1h-4zm-90 1h4v1h-4zm8 0h2v1h-2zm7 0h3v1h-3zm6 0h2v1h-2zm3 0h2v1h-2zm6 0h2v1h-2zm3 0h2v1h-2zm4 0h5v1h-5zm8 0h4v1h-4zm14 0h2v1h-2zm7 0h6v1h-6zm8 0h4v1h-4zm10 0h2v1h-2zm3 0h2v1h-2zm3 0h4v1h-4zm5 0h2v1h-2zm-117 1h2v1h-2zm21 0h7v1h-7zm9 0h2v1h-2zm3 0h2v1h-2zm3 0h6v1h-6zm7 0h2v1h-2zm6 0h2v1h-2zm6 0h2v1h-2zm4 0h5v1h-5zm8 0h4v1h-4zm5 0h3v1h-3zm9 0h2v1h-2zm7 0h3v1h-3zm4 0h4v1h-4zm14 0h2v1h-2zm11 0h2v1h-2zm-117 1h2v1h-2zm21 0h2v1h-2zm5 0h2v1h-2zm7 0h2v1h-2zm3 0h2v1h-2zm3 0h3v1h-3zm10 0h2v1h-2zm18 0h4v1h-4zm5 0h3v1h-3zm6 0h2v1h-2zm3 0h2v1h-2zm3 0h4v1h-4zm10 0h2v1h-2zm14 0h2v1h-2zm9 0h5v1h-5zm-120 1h2v1h-2zm9 0h2v1h-2zm31 0h2v1h-2zm5 0h2v1h-2zm5 0h2v1h-2zm20 0h2v1h-2zm4 0h2v1h-2zm7 0h2v1h-2zm3 0h2v1h-2zm3 0h6v1h-6zm11 0h2v1h-2zm13 0h2v1h-2zm9 0h5v1h-5zm-120 1h2v1h-2zm9 0h2v1h-2zm31 0h2v1h-2zm5 0h2v1h-2zm5 0h2v1h-2zm8 0h2v1h-2zm11 0h2v1h-2zm3 0h4v1h-4zm5 0h2v1h-2zm6 0h3v1h-3zm8 0h2v1h-2zm7 0h3v1h-3zm8 0h2v1h-2zm7 0h2v1h-2zm12 0h4v1h-4zm-108 1h2v1h-2zm26 0h2v1h-2zm13 0h6v1h-6zm13 0h2v1h-2zm3 0h2v1h-2zm5 0h2v1h-2zm5 0h4v1h-4zm12 0h2v1h-2zm3 0h4v1h-4zm9 0h2v1h-2zm7 0h2v1h-2zm12 0h4v1h-4zm-114 1h2v1h-2zm4 0h4v1h-4zm19 0h2v1h-2zm4 0h2v1h-2zm5 0h2v1h-2zm11 0h5v1h-5zm6 0h2v1h-2zm14 0h2v1h-2zm8 0h2v1h-2zm12 0h2v1h-2zm3 0h4v1h-4zm6 0h3v1h-3zm15 0h2v1h-2zm3 0h2v1h-2zm-110 1h2v1h-2zm4 0h4v1h-4zm11 0h2v1h-2zm8 0h2v1h-2zm4 0h2v1h-2zm16 0h5v1h-5zm20 0h2v1h-2zm5 0h2v1h-2zm3 0h2v1h-2zm7 0h2v1h-2zm10 0h2v1h-2zm4 0h3v1h-3zm14 0h3v1h-3zm4 0h2v1h-2zm-108 1h2v1h-2zm4 0h2v1h-2zm9 0h4v1h-4zm20 0h2v1h-2zm8 0h3v1h-3zm25 0h2v1h-2zm3 0h2v1h-2zm7 0h2v1h-2zm4 0h2v1h-2zm6 0h3v1h-3zm5 0h2v1h-2zm12 0h3v1h-3zm-106 1h2v1h-2zm3 0h2v1h-2zm15 0h2v1h-2zm16 0h4v1h-4zm11 0h2v1h-2zm10 0h2v1h-2zm17 0h2v1h-2zm4 0h4v1h-4zm7 0h2v1h-2zm7 0h2v1h-2zm13 0h2v1h-2zm3 0h2v1h-2zm-106 1h2v1h-2zm12 0h2v1h-2zm16 0h2v1h-2zm6 0h3v1h-3zm21 0h2v1h-2zm17 0h2v1h-2zm4 0h4v1h-4zm7 0h2v1h-2zm7 0h3v1h-3zm13 0h2v1h-2zm3 0h2v1h-2zm3 0h2v1h-2zm-109 1h2v1h-2zm12 0h2v1h-2zm16 0h4v1h-4zm8 0h2v1h-2zm13 0h2v1h-2zm5 0h2v1h-2zm13 0h2v1h-2zm11 0h2v1h-2zm4 0h5v1h-5zm6 0h5v1h-5zm21 0h2v1h-2zm-123 1h2v1h-2zm3 0h2v1h-2zm7 0h2v1h-2zm16 0h4v1h-4zm15 0h6v1h-6zm7 0h4v1h-4zm15 0h2v1h-2zm5 0h2v1h-2zm13 0h2v1h-2zm4 0h2v1h-2zm5 0h4v1h-4zm5 0h3v1h-3zm4 0h2v1h-2zm3 0h3v1h-3zm21 0h2v1h-2zm5 0h2v1h-2zm-128 1h2v1h-2zm3 0h2v1h-2zm7 0h2v1h-2zm13 0h2v1h-2zm3 0h4v1h-4zm15 0h6v1h-6zm7 0h2v1h-2zm7 0h2v1h-2zm4 0h2v1h-2zm3 0h2v1h-2zm6 0h2v1h-2zm3 0h2v1h-2zm9 0h3v1h-3zm5 0h2v1h-2zm5 0h2v1h-2zm5 0h2v1h-2zm4 0h2v1h-2zm17 0h4v1h-4zm7 0h2v1h-2zm5 0h2v1h-2zm-105 1h2v1h-2zm32 0h2v1h-2zm4 0h2v1h-2zm3 0h2v1h-2zm6 0h2v1h-2zm3 0h2v1h-2zm6 0h2v1h-2zm3 0h4v1h-4zm14 0h2v1h-2zm5 0h2v1h-2zm15 0h6v1h-6zm-113 1h2v1h-2zm31 0h2v1h-2zm4 0h2v1h-2zm13 0h2v1h-2zm28 0h2v1h-2zm5 0h2v1h-2zm9 0h2v1h-2zm3 0h2v1h-2zm12 0h2v1h-2zm8 0h2v1h-2zm9 0h2v1h-2zm7 0h2v1h-2zm-129 1h4v1h-4zm31 0h2v1h-2zm4 0h2v1h-2zm13 0h2v1h-2zm5 0h2v1h-2zm3 0h2v1h-2zm4 0h2v1h-2zm20 0h2v1h-2zm5 0h2v1h-2zm5 0h2v1h-2zm15 0h2v1h-2zm17 0h2v1h-2zm7 0h3v1h-3zm59 0h2v1h-2zm72 0h2v1h-2zm22 0h2v1h-2zm-281 1h3v1h-3zm12 0h4v1h-4zm40 0h2v1h-2zm3 0h2v1h-2zm4 0h2v1h-2zm8 0h2v1h-2zm5 0h2v1h-2zm7 0h2v1h-2zm5 0h2v1h-2zm19 0h2v1h-2zm26 0h2v1h-2zm58 0h2v1h-2zm37 0h2v1h-2zm35 0h2v1h-2zm22 0h2v1h-2z" fill="#000"/>
<path d="M279 434.3V327.3H386V434.3Z" fill="none" stroke="#111" stroke-width="1.3"/>
<path d="M278.5 434.3h-2.8M278.5 426.26h-1.8M278.5 421.56h-1.8M278.5 418.22h-1.8M278.5 415.64h-1.8M278.5 413.52h-1.8M278.5 411.74h-1.8M278.5 410.19h-1.8M278.5 408.82h-1.8M278.5 407.6h-2.8M278.5 399.56h-1.8M278.5 394.86h-1.8M278.5 391.52h-1.8M278.5 388.94h-1.8M278.5 386.82h-1.8M278.5 385.04h-1.8M278.5 383.49h-1.8M278.5 382.12h-1.8M278.5 380.9h-2.8M278.5 372.86h-1.8M278.5 368.16h-1.8M278.5 364.82h-1.8M278.5 362.24h-1.8M278.5 360.12h-1.8M278.5 358.34h-1.8M278.5 356.79h-1.8M278.5 355.42h-1.8M278.5 354.2h-2.8M278.5 346.16h-1.8M278.5 341.46h-1.8M278.5 338.12h-1.8M278.5 335.54h-1.8M278.5 333.42h-1.8M278.5 331.64h-1.8M278.5 330.09h-1.8M278.5 328.72h-1.8M278.5 327.5h-2.8" stroke="#111" stroke-width="0.9" fill="none"/>
<path d="M279 434.8v2.8M287.04 434.8v1.8M291.74 434.8v1.8M295.08 434.8v1.8M297.66 434.8v1.8M299.78 434.8v1.8M301.56 434.8v1.8M303.11 434.8v1.8M304.48 434.8v1.8M305.7 434.8v2.8M313.74 434.8v1.8M318.44 434.8v1.8M321.78 434.8v1.8M324.36 434.8v1.8M326.48 434.8v1.8M328.26 434.8v1.8M329.81 434.8v1.8M331.18 434.8v1.8M332.4 434.8v2.8M340.44 434.8v1.8M345.14 434.8v1.8M348.48 434.8v1.8M351.06 434.8v1.8M353.18 434.8v1.8M354.96 434.8v1.8M356.51 434.8v1.8M357.88 434.8v1.8M359.1 434.8v2.8M367.14 434.8v1.8M371.84 434.8v1.8M375.18 434.8v1.8M377.76 434.8v1.8M379.88 434.8v1.8M381.66 434.8v1.8M383.21 434.8v1.8M384.58 434.8v1.8M385.8 434.8v2.8" stroke="#111" stroke-width="0.9" fill="none"/>
<path transform="translate(403.7 327) scale(0.33333)" d="M0 0m203 0h2v1h-2zm-41 1h2v1h-2zm32 0h2v1h-2zm9 0h2v1h-2zm-41 1h2v1h-2zm20 0h4v1h-4zm6 0h2v1h-2zm6 0h2v1h-2zm15 0h2v1h-2zm-29 1h6v1h-6zm8 0h2v1h-2zm21 0h2v1h-2zm-29 1h2v1h-2zm33 0h3v1h-3zm21 0h2v1h-2zm-50 1h2v1h-2zm3 0h4v1h-4zm9 0h4v1h-4zm11 0h2v1h-2zm6 0h3v1h-3zm21 0h2v1h-2zm14 0h2v1h-2zm-64 1h2v1h-2zm3 0h4v1h-4zm9 0h4v1h-4zm11 0h2v1h-2zm5 0h3v1h-3zm9 0h2v1h-2zm27 0h2v1h-2zm43 0h2v1h-2zm-107 1h2v1h-2zm28 0h3v1h-3zm9 0h2v1h-2zm20 0h2v1h-2zm50 0h2v1h-2zm-141 1h2v1h-2zm23 0h2v1h-2zm11 0h2v1h-2zm3 0h2v1h-2zm54 0h2v1h-2zm-91 1h2v1h-2zm23 0h2v1h-2zm14 0h2v1h-2zm40 0h2v1h-2zm-150 1h2v1h-2zm100 0h2v1h-2zm32 0h2v1h-2zm18 0h2v1h-2zm-150 1h2v1h-2zm100 0h2v1h-2zm7 0h2v1h-2zm4 0h2v1h-2zm21 0h2v1h-2zm20 0h2v1h-2zm-45 1h2v1h-2zm4 0h2v1h-2zm21 0h2v1h-2zm20 0h2v1h-2zm-118 1h2v1h-2zm69 0h2v1h-2zm29 0h2v1h-2zm16 0h2v1h-2zm10 0h2v1h-2zm-124 1h2v1h-2zm69 0h2v1h-2zm7 0h2v1h-2zm38 0h2v1h-2zm10 0h2v1h-2zm26 0h2v1h-2zm-74 1h2v1h-2zm23 0h2v1h-2zm51 0h2v1h-2zm-73 1h2v1h-2zm3 0h2v1h-2zm19 0h3v1h-3zm5 0h2v1h-2zm-28 1h3v1h-3zm4 0h3v1h-3zm20 0h2v1h-2zm4 0h2v1h-2zm-28 1h2v1h-2zm5 0h4v1h-4zm15 0h2v1h-2zm8 0h2v1h-2zm-30 1h2v1h-2zm9 0h2v1h-2zm13 0h2v1h-2zm6 0h2v1h-2zm-28 1h2v1h-2zm9 0h2v1h-2zm13 0h2v1h-2zm6 0h2v1h-2zm-33 1h2v1h-2zm6 0h2v1h-2zm8 0h2v1h-2zm13 0h2v1h-2zm-27 1h2v1h-2zm6 0h2v1h-2zm21 0h4v1h-4zm24 0h2v1h-2zm-41 1h2v1h-2zm6 0h2v1h-2zm13 0h2v1h-2zm22 0h2v1h-2zm-41 1h2v1h-2zm6 0h2v1h-2zm10 0h2v1h-2zm13 0h2v1h-2zm-31 1h2v1h-2zm5 0h2v1h-2zm13 0h2v1h-2zm7 0h2v1h-2zm6 0h2v1h-2zm-31 1h2v1h-2zm5 0h2v1h-2zm20 0h2v1h-2zm37 0h2v1h-2zm-58 1h2v1h-2zm34 0h2v1h-2zm24 0h2v1h-2zm-111 1h2v1h-2zm23 0h2v1h-2zm30 0h2v1h-2zm34 0h2v1h-2zm-87 1h2v1h-2zm23 0h2v1h-2zm45 0h3v1h-3zm0 1h3v1h-3zm-147 1h2v1h-2zm0 1h2v1h-2zm102 1h2v1h-2zm0 1h2v1h-2zm6 0h2v1h-2zm68 0h2v1h-2zm-68 1h2v1h-2zm68 0h2v1h-2zm-38 1h2v1h-2zm29 0h2v1h-2zm-177 1h2v1h-2zm46 0h2v1h-2zm102 0h2v1h-2zm29 0h2v1h-2zm-177 1h2v1h-2zm46 0h2v1h-2zm28 0h2v1h-2zm15 0h2v1h-2zm6 0h2v1h-2zm79 0h2v1h-2zm-178 1h2v1h-2zm78 0h2v1h-2zm15 0h2v1h-2zm6 0h2v1h-2zm69 0h2v1h-2zm10 0h2v1h-2zm-178 1h2v1h-2zm65 0h2v1h-2zm17 0h2v1h-2zm86 0h2v1h-2zm-118 1h6v1h-6zm15 0h2v1h-2zm16 0h3v1h-3zm-31 1h6v1h-6zm8 0h2v1h-2zm6 0h2v1h-2zm17 0h2v1h-2zm96 0h2v1h-2zm-163 1h2v1h-2zm37 0h2v1h-2zm7 0h2v1h-2zm6 0h2v1h-2zm8 0h2v1h-2zm11 0h2v1h-2zm10 0h2v1h-2zm45 0h2v1h-2zm39 0h2v1h-2zm-163 1h2v1h-2zm26 0h2v1h-2zm3 0h2v1h-2zm8 0h2v1h-2zm15 0h2v1h-2zm5 0h3v1h-3zm12 0h2v1h-2zm10 0h2v1h-2zm16 0h2v1h-2zm29 0h2v1h-2zm35 0h2v1h-2zm-133 1h2v1h-2zm3 0h2v1h-2zm13 0h2v1h-2zm10 0h2v1h-2zm5 0h2v1h-2zm8 0h2v1h-2zm14 0h2v1h-2zm8 0h2v1h-2zm8 0h2v1h-2zm3 0h2v1h-2zm61 0h2v1h-2zm30 0h2v1h-2zm-198 1h2v1h-2zm51 0h2v1h-2zm3 0h2v1h-2zm20 0h2v1h-2zm3 0h2v1h-2zm11 0h2v1h-2zm4 0h2v1h-2zm4 0h2v1h-2zm11 0h2v1h-2zm87 0h2v1h-2zm4 0h2v1h-2zm-235 1h2v1h-2zm37 0h2v1h-2zm22 0h2v1h-2zm22 0h2v1h-2zm8 0h4v1h-4zm9 0h2v1h-2zm12 0h6v1h-6zm15 0h2v1h-2zm3 0h3v1h-3zm39 0h2v1h-2zm64 0h2v1h-2zm-231 1h2v1h-2zm52 0h2v1h-2zm7 0h4v1h-4zm11 0h4v1h-4zm9 0h4v1h-4zm7 0h2v1h-2zm3 0h2v1h-2zm9 0h2v1h-2zm5 0h2v1h-2zm7 0h4v1h-4zm9 0h3v1h-3zm9 0h2v1h-2zm39 0h2v1h-2zm21 0h4v1h-4zm8 0h2v1h-2zm-144 1h2v1h-2zm9 0h3v1h-3zm6 0h8v1h-8zm11 0h3v1h-3zm5 0h2v1h-2zm3 0h2v1h-2zm3 0h4v1h-4zm6 0h2v1h-2zm8 0h2v1h-2zm8 0h4v1h-4zm8 0h3v1h-3zm9 0h2v1h-2zm60 0h4v1h-4zm8 0h2v1h-2zm4 0h2v1h-2zm82 0h2v1h-2zm-220 1h2v1h-2zm5 0h5v1h-5zm6 0h2v1h-2zm5 0h2v1h-2zm5 0h2v1h-2zm7 0h3v1h-3zm5 0h3v1h-3zm8 0h2v1h-2zm8 0h5v1h-5zm7 0h2v1h-2zm10 0h2v1h-2zm72 0h2v1h-2zm80 0h4v1h-4zm-256 1h2v1h-2zm24 0h2v1h-2zm7 0h2v1h-2zm16 0h2v1h-2zm7 0h3v1h-3zm12 0h2v1h-2zm6 0h3v1h-3zm13 0h7v1h-7zm9 0h2v1h-2zm58 0h2v1h-2zm24 0h2v1h-2zm80 0h2v1h-2zm-256 1h2v1h-2zm24 0h2v1h-2zm7 0h2v1h-2zm16 0h4v1h-4zm8 0h2v1h-2zm3 0h2v1h-2zm15 0h3v1h-3zm7 0h2v1h-2zm4 0h3v1h-3zm4 0h2v1h-2zm14 0h2v1h-2zm50 0h2v1h-2zm24 0h2v1h-2zm-176 1h2v1h-2zm28 0h2v1h-2zm15 0h2v1h-2zm6 0h2v1h-2zm8 0h3v1h-3zm13 0h2v1h-2zm4 0h2v1h-2zm6 0h2v1h-2zm4 0h4v1h-4zm6 0h2v1h-2zm12 0h2v1h-2zm3 0h5v1h-5zm46 0h2v1h-2zm22 0h2v1h-2zm-173 1h2v1h-2zm28 0h2v1h-2zm3 0h2v1h-2zm5 0h2v1h-2zm7 0h2v1h-2zm9 0h2v1h-2zm3 0h4v1h-4zm15 0h2v1h-2zm7 0h2v1h-2zm5 0h2v1h-2zm3 0h3v1h-3zm5 0h2v1h-2zm15 0h5v1h-5zm46 0h2v1h-2zm22 0h2v1h-2zm19 0h2v1h-2zm-173 1h2v1h-2zm3 0h2v1h-2zm9 0h2v1h-2zm5 0h4v1h-4zm9 0h2v1h-2zm4 0h2v1h-2zm3 0h2v1h-2zm3 0h2v1h-2zm8 0h2v1h-2zm3 0h2v1h-2zm5 0h3v1h-3zm6 0h2v1h-2zm5 0h5v1h-5zm14 0h3v1h-3zm5 0h2v1h-2zm6 0h2v1h-2zm30 0h2v1h-2zm53 0h4v1h-4zm69 0h2v1h-2zm-253 1h2v1h-2zm13 0h2v1h-2zm3 0h2v1h-2zm5 0h2v1h-2zm4 0h2v1h-2zm3 0h2v1h-2zm4 0h2v1h-2zm7 0h3v1h-3zm4 0h2v1h-2zm3 0h2v1h-2zm4 0h2v1h-2zm7 0h5v1h-5zm8 0h5v1h-5zm10 0h6v1h-6zm15 0h3v1h-3zm5 0h2v1h-2zm6 0h3v1h-3zm30 0h2v1h-2zm19 0h2v1h-2zm34 0h2v1h-2zm69 0h2v1h-2zm-253 1h4v1h-4zm10 0h2v1h-2zm3 0h2v1h-2zm8 0h2v1h-2zm4 0h2v1h-2zm3 0h2v1h-2zm12 0h2v1h-2zm6 0h2v1h-2zm4 0h2v1h-2zm4 0h4v1h-4zm5 0h2v1h-2zm4 0h3v1h-3zm5 0h2v1h-2zm7 0h4v1h-4zm10 0h2v1h-2zm5 0h2v1h-2zm5 0h2v1h-2zm3 0h2v1h-2zm4 0h2v1h-2zm3 0h2v1h-2zm30 0h2v1h-2zm15 0h2v1h-2zm23 0h2v1h-2zm-200 1h2v1h-2zm3 0h2v1h-2zm26 0h4v1h-4zm5 0h2v1h-2zm3 0h2v1h-2zm3 0h2v1h-2zm3 0h7v1h-7zm12 0h2v1h-2zm10 0h5v1h-5zm8 0h5v1h-5zm6 0h6v1h-6zm10 0h4v1h-4zm6 0h2v1h-2zm4 0h7v1h-7zm8 0h2v1h-2zm5 0h2v1h-2zm5 0h3v1h-3zm4 0h8v1h-8zm11 0h2v1h-2zm26 0h2v1h-2zm4 0h2v1h-2zm38 0h2v1h-2zm-200 1h2v1h-2zm3 0h2v1h-2zm22 0h2v1h-2zm6 0h2v1h-2zm3 0h2v1h-2zm9 0h7v1h-7zm11 0h5v1h-5zm11 0h5v1h-5zm10 0h3v1h-3zm4 0h4v1h-4zm9 0h6v1h-6zm7 0h2v1h-2zm4 0h5v1h-5zm8 0h2v1h-2zm5 0h2v1h-2zm5 0h3v1h-3zm4 0h8v1h-8zm21 0h2v1h-2zm6 0h2v1h-2zm10 0h2v1h-2zm34 0h2v1h-2zm40 0h2v1h-2zm-217 1h2v1h-2zm10 0h2v1h-2zm5 0h2v1h-2zm14 0h2v1h-2zm4 0h2v1h-2zm6 0h5v1h-5zm7 0h2v1h-2zm4 0h2v1h-2zm3 0h2v1h-2zm3 0h2v1h-2zm4 0h2v1h-2zm3 0h2v1h-2zm3 0h4v1h-4zm7 0h6v1h-6zm7 0h2v1h-2zm6 0h3v1h-3zm6 0h2v1h-2zm3 0h4v1h-4zm11 0h2v1h-2zm3 0h3v1h-3zm4 0h2v1h-2zm14 0h2v1h-2zm6 0h2v1h-2zm20 0h2v1h-2zm4 0h2v1h-2zm20 0h2v1h-2zm21 0h2v1h-2zm19 0h2v1h-2zm-217 1h2v1h-2zm15 0h2v1h-2zm8 0h2v1h-2zm10 0h7v1h-7zm13 0h6v1h-6zm7 0h2v1h-2zm3 0h6v1h-6zm7 0h4v1h-4zm5 0h4v1h-4zm5 0h6v1h-6zm7 0h3v1h-3zm4 0h2v1h-2zm8 0h2v1h-2zm3 0h3v1h-3zm9 0h7v1h-7zm8 0h3v1h-3zm23 0h2v1h-2zm4 0h2v1h-2zm12 0h4v1h-4zm6 0h2v1h-2zm12 0h2v1h-2zm8 0h2v1h-2zm21 0h2v1h-2zm5 0h2v1h-2zm60 0h2v1h-2zm10 0h2v1h-2zm-262 1h2v1h-2zm3 0h2v1h-2zm9 0h2v1h-2zm3 0h2v1h-2zm5 0h2v1h-2zm3 0h6v1h-6zm13 0h6v1h-6zm7 0h3v1h-3zm4 0h2v1h-2zm7 0h2v1h-2zm3 0h8v1h-8zm9 0h9v1h-9zm14 0h2v1h-2zm4 0h14v1h-14zm17 0h3v1h-3zm4 0h2v1h-2zm4 0h2v1h-2zm11 0h2v1h-2zm4 0h2v1h-2zm4 0h2v1h-2zm12 0h2v1h-2zm6 0h2v1h-2zm12 0h2v1h-2zm8 0h2v1h-2zm16 0h2v1h-2zm10 0h2v1h-2zm60 0h2v1h-2zm10 0h2v1h-2zm-286 1h2v1h-2zm20 0h2v1h-2zm4 0h2v1h-2zm3 0h2v1h-2zm9 0h2v1h-2zm3 0h2v1h-2zm4 0h3v1h-3zm4 0h2v1h-2zm13 0h10v1h-10zm11 0h2v1h-2zm5 0h2v1h-2zm3 0h2v1h-2zm5 0h3v1h-3zm6 0h7v1h-7zm10 0h2v1h-2zm4 0h2v1h-2zm4 0h12v1h-12zm15 0h3v1h-3zm6 0h2v1h-2zm4 0h3v1h-3zm5 0h2v1h-2zm6 0h2v1h-2zm4 0h2v1h-2zm36 0h2v1h-2zm22 0h2v1h-2zm-222 1h2v1h-2zm16 0h2v1h-2zm17 0h2v1h-2zm3 0h2v1h-2zm5 0h2v1h-2zm4 0h2v1h-2zm6 0h6v1h-6zm8 0h4v1h-4zm7 0h2v1h-2zm5 0h9v1h-9zm10 0h4v1h-4zm7 0h2v1h-2zm3 0h3v1h-3zm4 0h2v1h-2zm6 0h2v1h-2zm4 0h2v1h-2zm3 0h5v1h-5zm8 0h2v1h-2zm3 0h3v1h-3zm5 0h3v1h-3zm5 0h3v1h-3zm4 0h2v1h-2zm6 0h6v1h-6zm10 0h4v1h-4zm5 0h2v1h-2zm4 0h2v1h-2zm4 0h6v1h-6zm16 0h4v1h-4zm12 0h2v1h-2zm10 0h2v1h-2zm3 0h2v1h-2zm27 0h2v1h-2zm85 0h2v1h-2zm-315 1h2v1h-2zm20 0h3v1h-3zm11 0h4v1h-4zm5 0h2v1h-2zm5 0h6v1h-6zm10 0h6v1h-6zm10 0h7v1h-7zm10 0h7v1h-7zm8 0h2v1h-2zm4 0h4v1h-4zm5 0h2v1h-2zm3 0h3v1h-3zm6 0h2v1h-2zm4 0h2v1h-2zm4 0h9v1h-9zm10 0h8v1h-8zm9 0h4v1h-4zm5 0h3v1h-3zm10 0h11v1h-11zm12 0h3v1h-3zm7 0h2v1h-2zm3 0h3v1h-3zm5 0h2v1h-2zm10 0h6v1h-6zm9 0h2v1h-2zm5 0h2v1h-2zm6 0h2v1h-2zm3 0h2v1h-2zm4 0h2v1h-2zm13 0h2v1h-2zm13 0h3v1h-3zm86 0h2v1h-2zm-295 1h3v1h-3zm11 0h3v1h-3zm5 0h2v1h-2zm5 0h5v1h-5zm13 0h6v1h-6zm7 0h7v1h-7zm8 0h2v1h-2zm3 0h9v1h-9zm11 0h5v1h-5zm7 0h4v1h-4zm6 0h6v1h-6zm10 0h5v1h-5zm6 0h11v1h-11zm13 0h6v1h-6zm8 0h2v1h-2zm6 0h2v1h-2zm3 0h8v1h-8zm10 0h5v1h-5zm6 0h2v1h-2zm3 0h2v1h-2zm3 0h2v1h-2zm5 0h3v1h-3zm4 0h2v1h-2zm3 0h2v1h-2zm3 0h3v1h-3zm6 0h2v1h-2zm9 0h4v1h-4zm5 0h2v1h-2zm17 0h2v1h-2zm8 0h2v1h-2zm5 0h2v1h-2zm89 0h1v1h-1zm-286 1h2v1h-2zm10 0h4v1h-4zm5 0h2v1h-2zm7 0h14v1h-14zm15 0h10v1h-10zm13 0h20v1h-20zm23 0h6v1h-6zm9 0h7v1h-7zm11 0h6v1h-6zm8 0h2v1h-2zm6 0h11v1h-11zm14 0h7v1h-7zm11 0h2v1h-2zm3 0h5v1h-5zm6 0h2v1h-2zm6 0h3v1h-3zm15 0h2v1h-2zm24 0h2v1h-2zm6 0h2v1h-2zm6 0h2v1h-2zm7 0h2v1h-2zm81 0h1v1h-1zm-310 1h2v1h-2zm8 0h2v1h-2zm4 0h2v1h-2zm5 0h2v1h-2zm14 0h2v1h-2zm3 0h3v1h-3zm4 0h22v1h-22zm24 0h2v1h-2zm3 0h5v1h-5zm8 0h18v1h-18zm19 0h8v1h-8zm9 0h2v1h-2zm5 0h7v1h-7zm9 0h3v1h-3zm5 0h2v1h-2zm5 0h5v1h-5zm6 0h8v1h-8zm14 0h2v1h-2zm3 0h2v1h-2zm4 0h2v1h-2zm3 0h2v1h-2zm4 0h3v1h-3zm4 0h4v1h-4zm13 0h2v1h-2zm29 0h2v1h-2zm5 0h3v1h-3zm12 0h2v1h-2zm7 0h2v1h-2zm74 0h2v1h-2zm5 0h2v1h-2zm-308 1h2v1h-2zm8 0h2v1h-2zm4 0h2v1h-2zm5 0h2v1h-2zm6 0h3v1h-3zm7 0h4v1h-4zm5 0h2v1h-2zm3 0h18v1h-18zm19 0h2v1h-2zm4 0h8v1h-8zm9 0h5v1h-5zm8 0h2v1h-2zm4 0h8v1h-8zm10 0h9v1h-9zm14 0h14v1h-14zm20 0h4v1h-4zm5 0h8v1h-8zm10 0h2v1h-2zm5 0h11v1h-11zm14 0h2v1h-2zm3 0h5v1h-5zm6 0h2v1h-2zm6 0h3v1h-3zm30 0h2v1h-2zm6 0h2v1h-2zm10 0h2v1h-2zm4 0h2v1h-2zm44 0h2v1h-2zm34 0h2v1h-2zm5 0h2v1h-2zm-307 1h2v1h-2zm10 0h2v1h-2zm12 0h3v1h-3zm5 0h6v1h-6zm13 0h3v1h-3zm9 0h6v1h-6zm7 0h19v1h-19zm21 0h2v1h-2zm4 0h4v1h-4zm6 0h2v1h-2zm6 0h7v1h-7zm14 0h14v1h-14zm18 0h3v1h-3zm5 0h4v1h-4zm5 0h4v1h-4zm5 0h2v1h-2zm3 0h8v1h-8zm9 0h3v1h-3zm7 0h2v1h-2zm5 0h3v1h-3zm4 0h2v1h-2zm4 0h4v1h-4zm8 0h2v1h-2zm6 0h2v1h-2zm19 0h2v1h-2zm15 0h2v1h-2zm4 0h2v1h-2zm44 0h2v1h-2zm19 0h2v1h-2zm-287 1h2v1h-2zm10 0h2v1h-2zm13 0h3v1h-3zm4 0h2v1h-2zm9 0h6v1h-6zm7 0h2v1h-2zm6 0h8v1h-8zm9 0h3v1h-3zm4 0h8v1h-8zm9 0h4v1h-4zm8 0h2v1h-2zm5 0h3v1h-3zm7 0h9v1h-9zm13 0h4v1h-4zm8 0h9v1h-9zm12 0h5v1h-5zm6 0h5v1h-5zm7 0h2v1h-2zm3 0h2v1h-2zm3 0h2v1h-2zm4 0h2v1h-2zm5 0h2v1h-2zm5 0h4v1h-4zm6 0h4v1h-4zm9 0h2v1h-2zm6 0h5v1h-5zm6 0h4v1h-4zm21 0h2v1h-2zm14 0h2v1h-2zm9 0h2v1h-2zm12 0h2v1h-2zm28 0h2v1h-2zm19 0h3v1h-3zm-280 1h2v1h-2zm11 0h2v1h-2zm4 0h4v1h-4zm11 0h37v1h-37zm38 0h7v1h-7zm8 0h2v1h-2zm5 0h3v1h-3zm7 0h18v1h-18zm19 0h7v1h-7zm8 0h5v1h-5zm6 0h11v1h-11zm13 0h4v1h-4zm8 0h2v1h-2zm3 0h3v1h-3zm9 0h4v1h-4zm6 0h4v1h-4zm5 0h2v1h-2zm7 0h2v1h-2zm3 0h2v1h-2zm3 0h5v1h-5zm7 0h2v1h-2zm5 0h2v1h-2zm18 0h2v1h-2zm3 0h3v1h-3zm5 0h2v1h-2zm9 0h2v1h-2zm12 0h2v1h-2zm13 0h2v1h-2zm35 0h2v1h-2zm-281 1h2v1h-2zm8 0h2v1h-2zm3 0h2v1h-2zm3 0h3v1h-3zm9 0h2v1h-2zm3 0h5v1h-5zm6 0h4v1h-4zm5 0h26v1h-26zm27 0h7v1h-7zm8 0h4v1h-4zm5 0h3v1h-3zm7 0h22v1h-22zm23 0h2v1h-2zm3 0h18v1h-18zm20 0h4v1h-4zm6 0h4v1h-4zm5 0h3v1h-3zm9 0h2v1h-2zm6 0h2v1h-2zm5 0h4v1h-4zm6 0h3v1h-3zm7 0h4v1h-4zm7 0h2v1h-2zm5 0h2v1h-2zm18 0h2v1h-2zm3 0h3v1h-3zm16 0h2v1h-2zm23 0h2v1h-2zm26 0h2v1h-2zm-275 1h2v1h-2zm8 0h2v1h-2zm3 0h5v1h-5zm6 0h4v1h-4zm6 0h2v1h-2zm3 0h3v1h-3zm5 0h2v1h-2zm4 0h6v1h-6zm9 0h18v1h-18zm19 0h20v1h-20zm21 0h2v1h-2zm3 0h21v1h-21zm26 0h18v1h-18zm22 0h2v1h-2zm4 0h3v1h-3zm4 0h5v1h-5zm9 0h7v1h-7zm8 0h2v1h-2zm6 0h2v1h-2zm4 0h2v1h-2zm7 0h2v1h-2zm5 0h2v1h-2zm3 0h2v1h-2zm25 0h2v1h-2zm16 0h2v1h-2zm49 0h2v1h-2zm-285 1h2v1h-2zm4 0h2v1h-2zm6 0h2v1h-2zm8 0h3v1h-3zm4 0h2v1h-2zm7 0h2v1h-2zm3 0h3v1h-3zm4 0h3v1h-3zm10 0h16v1h-16zm21 0h7v1h-7zm8 0h2v1h-2zm4 0h17v1h-17zm18 0h7v1h-7zm8 0h18v1h-18zm19 0h16v1h-16zm20 0h2v1h-2zm3 0h13v1h-13zm15 0h10v1h-10zm11 0h2v1h-2zm19 0h5v1h-5zm6 0h2v1h-2zm60 0h2v1h-2zm-259 1h3v1h-3zm5 0h2v1h-2zm5 0h2v1h-2zm10 0h2v1h-2zm3 0h3v1h-3zm5 0h2v1h-2zm3 0h7v1h-7zm11 0h2v1h-2zm6 0h12v1h-12zm13 0h2v1h-2zm3 0h14v1h-14zm16 0h11v1h-11zm12 0h25v1h-25zm26 0h12v1h-12zm15 0h8v1h-8zm12 0h2v1h-2zm3 0h10v1h-10zm11 0h6v1h-6zm9 0h4v1h-4zm6 0h3v1h-3zm11 0h3v1h-3zm6 0h5v1h-5zm8 0h2v1h-2zm46 0h2v1h-2zm14 0h2v1h-2zm33 0h2v1h-2zm16 0h2v1h-2zm-308 1h2v1h-2zm10 0h2v1h-2zm6 0h2v1h-2zm8 0h2v1h-2zm4 0h2v1h-2zm3 0h2v1h-2zm4 0h3v1h-3zm4 0h7v1h-7zm9 0h7v1h-7zm9 0h3v1h-3zm7 0h13v1h-13zm14 0h5v1h-5zm6 0h10v1h-10zm11 0h23v1h-23zm24 0h7v1h-7zm9 0h17v1h-17zm20 0h7v1h-7zm8 0h3v1h-3zm4 0h4v1h-4zm5 0h4v1h-4zm8 0h4v1h-4zm5 0h2v1h-2zm3 0h7v1h-7zm10 0h5v1h-5zm20 0h2v1h-2zm8 0h2v1h-2zm19 0h2v1h-2zm7 0h2v1h-2zm47 0h2v1h-2zm3 0h2v1h-2zm13 0h2v1h-2zm-292 1h2v1h-2zm4 0h2v1h-2zm6 0h4v1h-4zm5 0h36v1h-36zm37 0h8v1h-8zm10 0h4v1h-4zm6 0h8v1h-8zm9 0h12v1h-12zm13 0h5v1h-5zm6 0h12v1h-12zm13 0h22v1h-22zm23 0h3v1h-3zm5 0h6v1h-6zm7 0h3v1h-3zm4 0h5v1h-5zm7 0h4v1h-4zm5 0h12v1h-12zm35 0h3v1h-3zm8 0h2v1h-2zm6 0h2v1h-2zm13 0h2v1h-2zm57 0h2v1h-2zm-287 1h2v1h-2zm12 0h3v1h-3zm6 0h3v1h-3zm6 0h19v1h-19zm20 0h21v1h-21zm22 0h2v1h-2zm4 0h13v1h-13zm14 0h13v1h-13zm16 0h2v1h-2zm3 0h21v1h-21zm22 0h6v1h-6zm7 0h3v1h-3zm5 0h2v1h-2zm3 0h2v1h-2zm4 0h6v1h-6zm9 0h2v1h-2zm3 0h2v1h-2zm7 0h3v1h-3zm5 0h5v1h-5zm16 0h2v1h-2zm5 0h2v1h-2zm8 0h2v1h-2zm5 0h4v1h-4zm15 0h2v1h-2zm-217 1h2v1h-2zm13 0h2v1h-2zm8 0h2v1h-2zm4 0h15v1h-15zm16 0h42v1h-42zm43 0h2v1h-2zm3 0h2v1h-2zm3 0h11v1h-11zm12 0h29v1h-29zm30 0h7v1h-7zm8 0h10v1h-10zm11 0h2v1h-2zm5 0h2v1h-2zm3 0h7v1h-7zm8 0h3v1h-3zm4 0h2v1h-2zm4 0h2v1h-2zm9 0h2v1h-2zm5 0h4v1h-4zm8 0h2v1h-2zm3 0h5v1h-5zm15 0h2v1h-2zm6 0h3v1h-3zm44 0h2v1h-2zm38 0h2v1h-2zm-296 1h2v1h-2zm8 0h2v1h-2zm6 0h15v1h-15zm17 0h3v1h-3zm4 0h3v1h-3zm4 0h16v1h-16zm17 0h16v1h-16zm17 0h3v1h-3zm4 0h24v1h-24zm25 0h18v1h-18zm19 0h9v1h-9zm10 0h11v1h-11zm13 0h2v1h-2zm8 0h4v1h-4zm7 0h7v1h-7zm9 0h4v1h-4zm5 0h2v1h-2zm11 0h2v1h-2zm3 0h8v1h-8zm12 0h2v1h-2zm9 0h2v1h-2zm6 0h3v1h-3zm44 0h2v1h-2zm27 0h2v1h-2zm8 0h2v1h-2zm3 0h2v1h-2zm-299 1h2v1h-2zm3 0h4v1h-4zm6 0h5v1h-5zm10 0h2v1h-2zm5 0h10v1h-10zm11 0h2v1h-2zm3 0h2v1h-2zm4 0h11v1h-11zm12 0h4v1h-4zm6 0h47v1h-47zm48 0h3v1h-3zm4 0h20v1h-20zm21 0h7v1h-7zm10 0h10v1h-10zm14 0h2v1h-2zm5 0h6v1h-6zm9 0h4v1h-4zm5 0h3v1h-3zm11 0h2v1h-2zm3 0h6v1h-6zm12 0h2v1h-2zm13 0h2v1h-2zm3 0h2v1h-2zm47 0h2v1h-2zm8 0h2v1h-2zm15 0h2v1h-2zm8 0h2v1h-2zm-313 1h2v1h-2zm16 0h3v1h-3zm4 0h8v1h-8zm9 0h3v1h-3zm10 0h19v1h-19zm21 0h7v1h-7zm8 0h39v1h-39zm40 0h8v1h-8zm9 0h24v1h-24zm25 0h7v1h-7zm8 0h8v1h-8zm10 0h11v1h-11zm14 0h2v1h-2zm4 0h7v1h-7zm9 0h4v1h-4zm7 0h4v1h-4zm13 0h2v1h-2zm6 0h2v1h-2zm19 0h2v1h-2zm3 0h2v1h-2zm6 0h2v1h-2zm26 0h2v1h-2zm15 0h2v1h-2zm8 0h2v1h-2zm-290 1h3v1h-3zm16 0h2v1h-2zm3 0h4v1h-4zm5 0h2v1h-2zm6 0h2v1h-2zm7 0h25v1h-25zm27 0h16v1h-16zm17 0h36v1h-36zm37 0h18v1h-18zm19 0h4v1h-4zm5 0h11v1h-11zm13 0h12v1h-12zm13 0h3v1h-3zm8 0h5v1h-5zm9 0h4v1h-4zm5 0h2v1h-2zm6 0h4v1h-4zm9 0h4v1h-4zm8 0h2v1h-2zm3 0h2v1h-2zm25 0h2v1h-2zm26 0h2v1h-2zm13 0h2v1h-2zm-279 1h2v1h-2zm18 0h4v1h-4zm10 0h2v1h-2zm7 0h27v1h-27zm28 0h16v1h-16zm17 0h7v1h-7zm8 0h28v1h-28zm29 0h5v1h-5zm7 0h30v1h-30zm31 0h16v1h-16zm17 0h2v1h-2zm3 0h6v1h-6zm9 0h8v1h-8zm11 0h6v1h-6zm9 0h5v1h-5zm9 0h4v1h-4zm66 0h2v1h-2zm9 0h2v1h-2zm13 0h2v1h-2zm-291 1h2v1h-2zm9 0h4v1h-4zm5 0h2v1h-2zm4 0h5v1h-5zm7 0h27v1h-27zm29 0h69v1h-69zm70 0h23v1h-23zm25 0h6v1h-6zm7 0h5v1h-5zm6 0h4v1h-4zm6 0h3v1h-3zm9 0h5v1h-5zm8 0h3v1h-3zm4 0h2v1h-2zm8 0h2v1h-2zm6 0h2v1h-2zm3 0h2v1h-2zm49 0h2v1h-2zm23 0h4v1h-4zm13 0h2v1h-2zm-293 1h4v1h-4zm13 0h5v1h-5zm6 0h7v1h-7zm9 0h2v1h-2zm3 0h118v1h-118zm121 0h4v1h-4zm6 0h10v1h-10zm11 0h2v1h-2zm6 0h8v1h-8zm11 0h2v1h-2zm7 0h2v1h-2zm13 0h4v1h-4zm16 0h2v1h-2zm32 0h2v1h-2zm3 0h2v1h-2zm25 0h2v1h-2zm5 0h2v1h-2zm-291 1h2v1h-2zm4 0h2v1h-2zm14 0h4v1h-4zm5 0h11v1h-11zm12 0h103v1h-103zm104 0h7v1h-7zm8 0h7v1h-7zm8 0h14v1h-14zm15 0h6v1h-6zm9 0h5v1h-5zm6 0h7v1h-7zm12 0h2v1h-2zm3 0h6v1h-6zm10 0h4v1h-4zm5 0h3v1h-3zm11 0h2v1h-2zm9 0h2v1h-2zm23 0h2v1h-2zm33 0h2v1h-2zm20 0h2v1h-2zm-311 1h2v1h-2zm3 0h2v1h-2zm13 0h2v1h-2zm4 0h13v1h-13zm14 0h3v1h-3zm6 0h74v1h-74zm75 0h5v1h-5zm6 0h17v1h-17zm18 0h4v1h-4zm5 0h6v1h-6zm7 0h15v1h-15zm16 0h2v1h-2zm3 0h7v1h-7zm8 0h2v1h-2zm3 0h2v1h-2zm6 0h5v1h-5zm8 0h2v1h-2zm3 0h10v1h-10zm17 0h3v1h-3zm20 0h2v1h-2zm7 0h2v1h-2zm69 0h2v1h-2zm-308 1h2v1h-2zm5 0h2v1h-2zm3 0h2v1h-2zm5 0h15v1h-15zm18 0h10v1h-10zm11 0h105v1h-105zm106 0h6v1h-6zm7 0h8v1h-8zm9 0h10v1h-10zm11 0h11v1h-11zm12 0h2v1h-2zm3 0h4v1h-4zm5 0h2v1h-2zm5 0h2v1h-2zm3 0h2v1h-2zm8 0h2v1h-2zm8 0h2v1h-2zm13 0h2v1h-2zm7 0h2v1h-2zm19 0h2v1h-2zm33 0h2v1h-2zm18 0h2v1h-2zm-311 1h2v1h-2zm6 0h3v1h-3zm4 0h2v1h-2zm4 0h6v1h-6zm9 0h3v1h-3zm4 0h4v1h-4zm6 0h13v1h-13zm14 0h9v1h-9zm10 0h92v1h-92zm93 0h5v1h-5zm7 0h2v1h-2zm3 0h14v1h-14zm18 0h10v1h-10zm11 0h2v1h-2zm3 0h2v1h-2zm9 0h5v1h-5zm12 0h2v1h-2zm4 0h2v1h-2zm4 0h2v1h-2zm39 0h2v1h-2zm33 0h2v1h-2zm18 0h2v1h-2zm-317 1h4v1h-4zm6 0h2v1h-2zm3 0h2v1h-2zm3 0h2v1h-2zm8 0h4v1h-4zm5 0h2v1h-2zm4 0h126v1h-126zm127 0h16v1h-16zm17 0h5v1h-5zm7 0h2v1h-2zm4 0h4v1h-4zm6 0h4v1h-4zm6 0h2v1h-2zm9 0h7v1h-7zm18 0h2v1h-2zm9 0h2v1h-2zm69 0h2v1h-2zm8 0h2v1h-2zm-309 1h4v1h-4zm5 0h2v1h-2zm3 0h3v1h-3zm6 0h2v1h-2zm7 0h2v1h-2zm3 0h3v1h-3zm5 0h127v1h-127zm128 0h11v1h-11zm12 0h7v1h-7zm8 0h2v1h-2zm3 0h4v1h-4zm7 0h7v1h-7zm9 0h2v1h-2zm3 0h3v1h-3zm6 0h3v1h-3zm5 0h2v1h-2zm7 0h5v1h-5zm15 0h4v1h-4zm39 0h3v1h-3zm14 0h2v1h-2zm16 0h2v1h-2zm8 0h2v1h-2zm6 0h2v1h-2zm-313 1h2v1h-2zm3 0h6v1h-6zm7 0h4v1h-4zm6 0h5v1h-5zm6 0h17v1h-17zm18 0h4v1h-4zm7 0h118v1h-118zm121 0h3v1h-3zm4 0h2v1h-2zm3 0h2v1h-2zm3 0h4v1h-4zm5 0h5v1h-5zm6 0h3v1h-3zm8 0h3v1h-3zm11 0h2v1h-2zm7 0h5v1h-5zm10 0h4v1h-4zm7 0h2v1h-2zm37 0h3v1h-3zm14 0h2v1h-2zm7 0h2v1h-2zm23 0h2v1h-2zm-314 1h3v1h-3zm6 0h8v1h-8zm9 0h9v1h-9zm10 0h4v1h-4zm5 0h9v1h-9zm10 0h126v1h-126zm129 0h3v1h-3zm4 0h3v1h-3zm8 0h2v1h-2zm3 0h2v1h-2zm6 0h6v1h-6zm36 0h4v1h-4zm31 0h2v1h-2zm14 0h2v1h-2zm20 0h2v1h-2zm7 0h2v1h-2zm-298 1h3v1h-3zm8 0h3v1h-3zm4 0h2v1h-2zm3 0h2v1h-2zm5 0h4v1h-4zm5 0h4v1h-4zm5 0h9v1h-9zm10 0h8v1h-8zm9 0h75v1h-75zm77 0h3v1h-3zm4 0h28v1h-28zm29 0h9v1h-9zm10 0h7v1h-7zm12 0h3v1h-3zm6 0h2v1h-2zm3 0h10v1h-10zm11 0h2v1h-2zm3 0h2v1h-2zm19 0h2v1h-2zm5 0h2v1h-2zm6 0h2v1h-2zm3 0h2v1h-2zm20 0h2v1h-2zm34 0h2v1h-2zm7 0h2v1h-2zm-297 1h3v1h-3zm7 0h3v1h-3zm4 0h2v1h-2zm3 0h4v1h-4zm7 0h23v1h-23zm24 0h105v1h-105zm109 0h20v1h-20zm21 0h2v1h-2zm3 0h6v1h-6zm8 0h2v1h-2zm5 0h11v1h-11zm12 0h2v1h-2zm3 0h2v1h-2zm12 0h2v1h-2zm4 0h2v1h-2zm8 0h2v1h-2zm3 0h2v1h-2zm3 0h3v1h-3zm12 0h2v1h-2zm30 0h2v1h-2zm12 0h2v1h-2zm-289 1h2v1h-2zm10 0h2v1h-2zm3 0h6v1h-6zm7 0h8v1h-8zm9 0h6v1h-6zm7 0h135v1h-135zm138 0h2v1h-2zm3 0h2v1h-2zm3 0h5v1h-5zm10 0h5v1h-5zm6 0h6v1h-6zm9 0h2v1h-2zm10 0h4v1h-4zm14 0h2v1h-2zm7 0h2v1h-2zm11 0h2v1h-2zm30 0h2v1h-2zm10 0h2v1h-2zm-288 1h2v1h-2zm3 0h2v1h-2zm8 0h9v1h-9zm10 0h4v1h-4zm8 0h117v1h-117zm118 0h28v1h-28zm31 0h2v1h-2zm3 0h7v1h-7zm10 0h2v1h-2zm3 0h5v1h-5zm7 0h2v1h-2zm5 0h2v1h-2zm10 0h2v1h-2zm38 0h2v1h-2zm5 0h2v1h-2zm29 0h2v1h-2zm-288 1h5v1h-5zm8 0h2v1h-2zm4 0h7v1h-7zm8 0h5v1h-5zm9 0h120v1h-120zm122 0h20v1h-20zm21 0h8v1h-8zm9 0h8v1h-8zm15 0h2v1h-2zm4 0h4v1h-4zm6 0h2v1h-2zm48 0h2v1h-2zm5 0h2v1h-2zm56 0h2v1h-2zm-315 1h5v1h-5zm6 0h5v1h-5zm11 0h10v1h-10zm14 0h4v1h-4zm5 0h118v1h-118zm119 0h8v1h-8zm10 0h9v1h-9zm10 0h5v1h-5zm6 0h2v1h-2zm3 0h5v1h-5zm8 0h4v1h-4zm8 0h4v1h-4zm6 0h2v1h-2zm21 0h2v1h-2zm4 0h2v1h-2zm33 0h2v1h-2zm18 0h2v1h-2zm33 0h2v1h-2zm-315 1h2v1h-2zm5 0h8v1h-8zm13 0h6v1h-6zm7 0h10v1h-10zm14 0h135v1h-135zm136 0h9v1h-9zm10 0h2v1h-2zm3 0h2v1h-2zm4 0h4v1h-4zm10 0h4v1h-4zm10 0h2v1h-2zm9 0h2v1h-2zm6 0h2v1h-2zm4 0h2v1h-2zm17 0h2v1h-2zm16 0h2v1h-2zm18 0h2v1h-2zm-282 1h3v1h-3zm5 0h2v1h-2zm3 0h9v1h-9zm10 0h20v1h-20zm21 0h148v1h-148zm149 0h4v1h-4zm5 0h3v1h-3zm11 0h2v1h-2zm5 0h2v1h-2zm3 0h2v1h-2zm9 0h2v1h-2zm6 0h2v1h-2zm11 0h2v1h-2zm3 0h3v1h-3zm7 0h2v1h-2zm-248 1h3v1h-3zm5 0h2v1h-2zm4 0h2v1h-2zm4 0h174v1h-174zm177 0h9v1h-9zm10 0h2v1h-2zm3 0h3v1h-3zm6 0h2v1h-2zm18 0h3v1h-3zm11 0h6v1h-6zm19 0h2v1h-2zm-257 1h2v1h-2zm5 0h5v1h-5zm6 0h9v1h-9zm11 0h133v1h-133zm134 0h15v1h-15zm16 0h14v1h-14zm17 0h4v1h-4zm6 0h7v1h-7zm8 0h3v1h-3zm16 0h2v1h-2zm9 0h2v1h-2zm12 0h2v1h-2zm17 0h2v1h-2zm12 0h2v1h-2zm-271 1h2v1h-2zm8 0h4v1h-4zm5 0h13v1h-13zm14 0h3v1h-3zm4 0h142v1h-142zm144 0h13v1h-13zm16 0h2v1h-2zm3 0h2v1h-2zm6 0h3v1h-3zm5 0h3v1h-3zm6 0h2v1h-2zm6 0h2v1h-2zm4 0h2v1h-2zm10 0h2v1h-2zm8 0h2v1h-2zm26 0h2v1h-2zm6 0h2v1h-2zm9 0h2v1h-2zm-280 1h2v1h-2zm3 0h2v1h-2zm5 0h3v1h-3zm5 0h153v1h-153zm154 0h14v1h-14zm15 0h8v1h-8zm9 0h6v1h-6zm7 0h11v1h-11zm12 0h3v1h-3zm6 0h3v1h-3zm4 0h5v1h-5zm11 0h4v1h-4zm8 0h2v1h-2zm15 0h2v1h-2zm11 0h2v1h-2zm15 0h2v1h-2zm4 0h2v1h-2zm18 0h2v1h-2zm-299 1h2v1h-2zm5 0h3v1h-3zm5 0h10v1h-10zm12 0h13v1h-13zm14 0h89v1h-89zm90 0h49v1h-49zm50 0h7v1h-7zm8 0h7v1h-7zm8 0h14v1h-14zm15 0h8v1h-8zm10 0h5v1h-5zm7 0h2v1h-2zm5 0h5v1h-5zm6 0h3v1h-3zm8 0h2v1h-2zm8 0h2v1h-2zm9 0h2v1h-2zm4 0h2v1h-2zm13 0h2v1h-2zm4 0h2v1h-2zm18 0h2v1h-2zm-298 1h2v1h-2zm4 0h3v1h-3zm4 0h2v1h-2zm4 0h2v1h-2zm3 0h4v1h-4zm5 0h153v1h-153zm154 0h13v1h-13zm14 0h2v1h-2zm4 0h10v1h-10zm11 0h9v1h-9zm20 0h2v1h-2zm5 0h2v1h-2zm3 0h2v1h-2zm3 0h2v1h-2zm5 0h2v1h-2zm3 0h3v1h-3zm17 0h2v1h-2zm4 0h2v1h-2zm13 0h2v1h-2zm5 0h2v1h-2zm-285 1h2v1h-2zm4 0h2v1h-2zm4 0h2v1h-2zm4 0h3v1h-3zm5 0h19v1h-19zm20 0h138v1h-138zm139 0h7v1h-7zm9 0h20v1h-20zm22 0h7v1h-7zm24 0h2v1h-2zm12 0h2v1h-2zm4 0h3v1h-3zm11 0h2v1h-2zm27 0h2v1h-2zm-285 1h2v1h-2zm9 0h6v1h-6zm8 0h144v1h-144zm145 0h23v1h-23zm25 0h18v1h-18zm21 0h2v1h-2zm3 0h2v1h-2zm6 0h2v1h-2zm4 0h2v1h-2zm10 0h2v1h-2zm12 0h2v1h-2zm5 0h2v1h-2zm10 0h2v1h-2zm18 0h3v1h-3zm26 0h2v1h-2zm-302 1h6v1h-6zm7 0h7v1h-7zm9 0h145v1h-145zm146 0h10v1h-10zm11 0h3v1h-3zm4 0h8v1h-8zm10 0h3v1h-3zm6 0h4v1h-4zm5 0h8v1h-8zm10 0h2v1h-2zm9 0h2v1h-2zm3 0h3v1h-3zm6 0h2v1h-2zm13 0h2v1h-2zm4 0h3v1h-3zm5 0h2v1h-2zm21 0h2v1h-2zm7 0h3v1h-3zm26 0h2v1h-2zm-302 1h10v1h-10zm12 0h7v1h-7zm9 0h155v1h-155zm156 0h5v1h-5zm6 0h6v1h-6zm7 0h2v1h-2zm4 0h12v1h-12zm13 0h5v1h-5zm12 0h4v1h-4zm7 0h3v1h-3zm7 0h2v1h-2zm5 0h3v1h-3zm6 0h2v1h-2zm14 0h2v1h-2zm11 0h2v1h-2zm9 0h2v1h-2zm6 0h2v1h-2zm-283 1h2v1h-2zm3 0h6v1h-6zm7 0h166v1h-166zm168 0h10v1h-10zm11 0h4v1h-4zm5 0h4v1h-4zm5 0h2v1h-2zm3 0h2v1h-2zm4 0h2v1h-2zm3 0h2v1h-2zm4 0h2v1h-2zm5 0h4v1h-4zm8 0h2v1h-2zm6 0h3v1h-3zm5 0h2v1h-2zm6 0h2v1h-2zm7 0h3v1h-3zm7 0h2v1h-2zm11 0h2v1h-2zm9 0h2v1h-2zm6 0h2v1h-2zm-280 1h147v1h-147zm148 0h36v1h-36zm38 0h7v1h-7zm12 0h3v1h-3zm12 0h3v1h-3zm9 0h2v1h-2zm9 0h4v1h-4zm12 0h2v1h-2zm5 0h5v1h-5zm8 0h3v1h-3zm-257 1h2v1h-2zm3 0h4v1h-4zm5 0h159v1h-159zm160 0h19v1h-19zm20 0h7v1h-7zm8 0h4v1h-4zm5 0h3v1h-3zm5 0h2v1h-2zm6 0h2v1h-2zm3 0h3v1h-3zm8 0h3v1h-3zm4 0h2v1h-2zm3 0h4v1h-4zm11 0h2v1h-2zm8 0h2v1h-2zm8 0h3v1h-3zm27 0h2v1h-2zm-284 1h23v1h-23zm24 0h3v1h-3zm5 0h91v1h-91zm92 0h66v1h-66zm67 0h15v1h-15zm18 0h2v1h-2zm6 0h2v1h-2zm4 0h2v1h-2zm4 0h2v1h-2zm4 0h2v1h-2zm3 0h2v1h-2zm3 0h3v1h-3zm5 0h2v1h-2zm6 0h2v1h-2zm19 0h4v1h-4zm11 0h2v1h-2zm11 0h4v1h-4zm-282 1h3v1h-3zm5 0h8v1h-8zm9 0h37v1h-37zm38 0h153v1h-153zm156 0h3v1h-3zm5 0h2v1h-2zm3 0h7v1h-7zm10 0h2v1h-2zm5 0h2v1h-2zm4 0h3v1h-3zm7 0h2v1h-2zm17 0h6v1h-6zm12 0h2v1h-2zm11 0h2v1h-2zm4 0h2v1h-2zm-285 1h2v1h-2zm3 0h157v1h-157zm158 0h29v1h-29zm30 0h3v1h-3zm4 0h11v1h-11zm12 0h3v1h-3zm5 0h7v1h-7zm8 0h2v1h-2zm3 0h4v1h-4zm6 0h2v1h-2zm6 0h2v1h-2zm5 0h5v1h-5zm18 0h2v1h-2zm4 0h2v1h-2zm5 0h2v1h-2zm18 0h2v1h-2zm6 0h2v1h-2zm-288 1h4v1h-4zm5 0h10v1h-10zm11 0h159v1h-159zm160 0h15v1h-15zm16 0h2v1h-2zm3 0h4v1h-4zm6 0h2v1h-2zm6 0h2v1h-2zm3 0h9v1h-9zm10 0h2v1h-2zm6 0h2v1h-2zm6 0h2v1h-2zm5 0h5v1h-5zm6 0h2v1h-2zm4 0h2v1h-2zm17 0h2v1h-2zm14 0h2v1h-2zm10 0h2v1h-2zm9 0h2v1h-2zm-296 1h40v1h-40zm42 0h132v1h-132zm133 0h18v1h-18zm19 0h4v1h-4zm6 0h5v1h-5zm6 0h5v1h-5zm7 0h4v1h-4zm7 0h2v1h-2zm4 0h2v1h-2zm5 0h2v1h-2zm13 0h2v1h-2zm3 0h3v1h-3zm5 0h3v1h-3zm4 0h2v1h-2zm23 0h2v1h-2zm18 0h3v1h-3zm-300 1h2v1h-2zm5 0h5v1h-5zm6 0h28v1h-28zm29 0h147v1h-147zm150 0h7v1h-7zm9 0h2v1h-2zm6 0h5v1h-5zm6 0h6v1h-6zm7 0h4v1h-4zm5 0h5v1h-5zm6 0h2v1h-2zm5 0h2v1h-2zm7 0h4v1h-4zm7 0h5v1h-5zm7 0h3v1h-3zm4 0h2v1h-2zm4 0h2v1h-2zm8 0h3v1h-3zm14 0h2v1h-2zm15 0h2v1h-2zm6 0h2v1h-2zm-306 1h2v1h-2zm6 0h181v1h-181zm182 0h9v1h-9zm10 0h3v1h-3zm7 0h5v1h-5zm6 0h9v1h-9zm12 0h5v1h-5zm6 0h3v1h-3zm8 0h3v1h-3zm4 0h5v1h-5zm7 0h4v1h-4zm11 0h2v1h-2zm4 0h3v1h-3zm8 0h3v1h-3zm14 0h2v1h-2zm21 0h2v1h-2zm3 0h2v1h-2zm4 0h2v1h-2zm-313 1h15v1h-15zm17 0h18v1h-18zm19 0h141v1h-141zm142 0h26v1h-26zm28 0h3v1h-3zm5 0h5v1h-5zm6 0h2v1h-2zm3 0h7v1h-7zm10 0h3v1h-3zm5 0h8v1h-8zm9 0h2v1h-2zm4 0h4v1h-4zm6 0h2v1h-2zm3 0h2v1h-2zm6 0h3v1h-3zm7 0h2v1h-2zm39 0h2v1h-2zm4 0h2v1h-2zm-313 1h10v1h-10zm11 0h160v1h-160zm161 0h26v1h-26zm28 0h5v1h-5zm7 0h5v1h-5zm7 0h2v1h-2zm3 0h6v1h-6zm8 0h2v1h-2zm5 0h3v1h-3zm4 0h4v1h-4zm5 0h3v1h-3zm5 0h2v1h-2zm4 0h2v1h-2zm6 0h2v1h-2zm3 0h2v1h-2zm6 0h2v1h-2zm7 0h2v1h-2zm15 0h2v1h-2zm-285 1h10v1h-10zm11 0h151v1h-151zm152 0h4v1h-4zm5 0h30v1h-30zm32 0h5v1h-5zm8 0h4v1h-4zm7 0h6v1h-6zm10 0h4v1h-4zm5 0h3v1h-3zm4 0h2v1h-2zm3 0h2v1h-2zm3 0h2v1h-2zm3 0h3v1h-3zm4 0h2v1h-2zm3 0h2v1h-2zm3 0h2v1h-2zm17 0h2v1h-2zm6 0h4v1h-4zm9 0h3v1h-3zm-285 1h6v1h-6zm7 0h18v1h-18zm19 0h144v1h-144zm145 0h28v1h-28zm29 0h5v1h-5zm8 0h2v1h-2zm7 0h4v1h-4zm5 0h4v1h-4zm5 0h4v1h-4zm6 0h2v1h-2zm6 0h4v1h-4zm6 0h2v1h-2zm4 0h2v1h-2zm3 0h5v1h-5zm8 0h2v1h-2zm6 0h2v1h-2zm6 0h3v1h-3zm6 0h4v1h-4zm10 0h2v1h-2zm3 0h2v1h-2zm-289 1h3v1h-3zm5 0h21v1h-21zm22 0h153v1h-153zm154 0h3v1h-3zm4 0h20v1h-20zm21 0h18v1h-18zm19 0h6v1h-6zm11 0h5v1h-5zm7 0h2v1h-2zm8 0h2v1h-2zm7 0h2v1h-2zm6 0h3v1h-3zm7 0h2v1h-2zm7 0h2v1h-2zm11 0h2v1h-2zm-289 1h7v1h-7zm8 0h8v1h-8zm9 0h12v1h-12zm13 0h143v1h-143zm144 0h2v1h-2zm4 0h16v1h-16zm17 0h9v1h-9zm10 0h3v1h-3zm4 0h9v1h-9zm10 0h3v1h-3zm5 0h7v1h-7zm8 0h2v1h-2zm4 0h6v1h-6zm7 0h4v1h-4zm8 0h3v1h-3zm14 0h2v1h-2zm8 0h2v1h-2zm7 0h2v1h-2zm38 0h2v1h-2zm-318 1h6v1h-6zm9 0h151v1h-151zm152 0h4v1h-4zm5 0h31v1h-31zm32 0h2v1h-2zm3 0h11v1h-11zm14 0h3v1h-3zm9 0h6v1h-6zm8 0h3v1h-3zm4 0h6v1h-6zm7 0h4v1h-4zm6 0h5v1h-5zm14 0h9v1h-9zm10 0h4v1h-4zm7 0h2v1h-2zm18 0h2v1h-2zm20 0h2v1h-2zm-318 1h2v1h-2zm3 0h3v1h-3zm6 0h151v1h-151zm152 0h9v1h-9zm10 0h9v1h-9zm10 0h6v1h-6zm9 0h2v1h-2zm3 0h8v1h-8zm9 0h10v1h-10zm11 0h4v1h-4zm5 0h4v1h-4zm6 0h8v1h-8zm9 0h2v1h-2zm3 0h5v1h-5zm7 0h3v1h-3zm6 0h4v1h-4zm11 0h2v1h-2zm3 0h9v1h-9zm11 0h3v1h-3zm15 0h2v1h-2zm7 0h4v1h-4zm19 0h2v1h-2zm-313 1h4v1h-4zm7 0h15v1h-15zm16 0h170v1h-170zm172 0h8v1h-8zm11 0h3v1h-3zm4 0h3v1h-3zm4 0h6v1h-6zm7 0h3v1h-3zm4 0h7v1h-7zm10 0h3v1h-3zm10 0h3v1h-3zm13 0h4v1h-4zm10 0h2v1h-2zm3 0h2v1h-2zm10 0h2v1h-2zm4 0h4v1h-4zm9 0h2v1h-2zm19 0h3v1h-3zm-313 1h2v1h-2zm3 0h4v1h-4zm5 0h4v1h-4zm6 0h190v1h-190zm191 0h4v1h-4zm5 0h6v1h-6zm7 0h6v1h-6zm8 0h7v1h-7zm9 0h4v1h-4zm11 0h3v1h-3zm10 0h2v1h-2zm4 0h4v1h-4zm6 0h2v1h-2zm3 0h2v1h-2zm3 0h2v1h-2zm3 0h2v1h-2zm3 0h2v1h-2zm4 0h2v1h-2zm4 0h2v1h-2zm5 0h2v1h-2zm15 0h2v1h-2zm9 0h2v1h-2zm-314 1h2v1h-2zm3 0h5v1h-5zm6 0h4v1h-4zm7 0h147v1h-147zm148 0h12v1h-12zm14 0h11v1h-11zm12 0h14v1h-14zm15 0h26v1h-26zm29 0h4v1h-4zm9 0h2v1h-2zm6 0h2v1h-2zm6 0h3v1h-3zm4 0h4v1h-4zm6 0h4v1h-4zm5 0h3v1h-3zm4 0h2v1h-2zm3 0h2v1h-2zm3 0h2v1h-2zm9 0h4v1h-4zm16 0h2v1h-2zm-304 1h193v1h-193zm194 0h5v1h-5zm6 0h24v1h-24zm25 0h5v1h-5zm7 0h5v1h-5zm8 0h4v1h-4zm8 0h4v1h-4zm7 0h7v1h-7zm10 0h11v1h-11zm14 0h2v1h-2zm5 0h2v1h-2zm4 0h4v1h-4zm-291 1h2v1h-2zm3 0h174v1h-174zm175 0h18v1h-18zm19 0h12v1h-12zm13 0h3v1h-3zm4 0h10v1h-10zm13 0h3v1h-3zm6 0h5v1h-5zm9 0h4v1h-4zm6 0h2v1h-2zm5 0h2v1h-2zm4 0h5v1h-5zm6 0h4v1h-4zm6 0h3v1h-3zm4 0h7v1h-7zm12 0h4v1h-4zm7 0h4v1h-4zm-292 1h2v1h-2zm5 0h4v1h-4zm5 0h151v1h-151zm152 0h8v1h-8zm9 0h6v1h-6zm7 0h7v1h-7zm8 0h11v1h-11zm12 0h14v1h-14zm17 0h2v1h-2zm3 0h12v1h-12zm14 0h4v1h-4zm5 0h2v1h-2zm3 0h4v1h-4zm7 0h3v1h-3zm4 0h2v1h-2zm5 0h4v1h-4zm7 0h4v1h-4zm6 0h2v1h-2zm9 0h2v1h-2zm7 0h11v1h-11zm29 0h2v1h-2zm-308 1h2v1h-2zm4 0h11v1h-11zm12 0h11v1h-11zm12 0h144v1h-144zm145 0h35v1h-35zm36 0h7v1h-7zm8 0h5v1h-5zm6 0h2v1h-2zm3 0h4v1h-4zm5 0h5v1h-5zm7 0h2v1h-2zm3 0h3v1h-3zm4 0h2v1h-2zm5 0h4v1h-4zm7 0h4v1h-4zm12 0h2v1h-2zm4 0h2v1h-2zm9 0h4v1h-4zm16 0h2v1h-2zm9 0h3v1h-3zm-313 1h6v1h-6zm9 0h157v1h-157zm158 0h17v1h-17zm18 0h4v1h-4zm6 0h4v1h-4zm5 0h8v1h-8zm11 0h17v1h-17zm18 0h2v1h-2zm4 0h3v1h-3zm5 0h4v1h-4zm5 0h2v1h-2zm3 0h5v1h-5zm6 0h2v1h-2zm4 0h4v1h-4zm5 0h2v1h-2zm5 0h4v1h-4zm13 0h2v1h-2zm3 0h5v1h-5zm13 0h2v1h-2zm3 0h2v1h-2zm10 0h2v1h-2zm9 0h2v1h-2zm-313 1h170v1h-170zm174 0h2v1h-2zm3 0h6v1h-6zm9 0h3v1h-3zm4 0h37v1h-37zm39 0h3v1h-3zm6 0h5v1h-5zm7 0h2v1h-2zm3 0h4v1h-4zm6 0h5v1h-5zm6 0h2v1h-2zm4 0h3v1h-3zm4 0h5v1h-5zm6 0h2v1h-2zm3 0h2v1h-2zm3 0h6v1h-6zm7 0h3v1h-3zm4 0h2v1h-2zm3 0h6v1h-6zm12 0h2v1h-2zm10 0h2v1h-2zm-312 1h3v1h-3zm4 0h8v1h-8zm9 0h31v1h-31zm34 0h159v1h-159zm160 0h2v1h-2zm4 0h5v1h-5zm8 0h8v1h-8zm9 0h2v1h-2zm6 0h5v1h-5zm7 0h2v1h-2zm5 0h2v1h-2zm4 0h6v1h-6zm10 0h2v1h-2zm3 0h6v1h-6zm7 0h5v1h-5zm6 0h10v1h-10zm11 0h9v1h-9zm14 0h4v1h-4zm-300 1h6v1h-6zm7 0h6v1h-6zm7 0h178v1h-178zm182 0h2v1h-2zm3 0h5v1h-5zm7 0h3v1h-3zm4 0h5v1h-5zm7 0h9v1h-9zm10 0h2v1h-2zm5 0h2v1h-2zm8 0h2v1h-2zm3 0h3v1h-3zm6 0h6v1h-6zm13 0h6v1h-6zm7 0h4v1h-4zm6 0h7v1h-7zm13 0h2v1h-2zm11 0h5v1h-5zm-300 1h163v1h-163zm164 0h29v1h-29zm30 0h5v1h-5zm6 0h2v1h-2zm3 0h4v1h-4zm5 0h2v1h-2zm3 0h14v1h-14zm22 0h3v1h-3zm11 0h3v1h-3zm6 0h6v1h-6zm9 0h4v1h-4zm7 0h6v1h-6zm12 0h5v1h-5zm10 0h2v1h-2zm6 0h2v1h-2zm4 0h5v1h-5zm-299 1h3v1h-3zm4 0h166v1h-166zm167 0h23v1h-23zm24 0h6v1h-6zm8 0h17v1h-17zm18 0h2v1h-2zm3 0h3v1h-3zm4 0h9v1h-9zm10 0h2v1h-2zm4 0h2v1h-2zm8 0h6v1h-6zm10 0h8v1h-8zm9 0h2v1h-2zm3 0h2v1h-2zm3 0h4v1h-4zm5 0h4v1h-4zm9 0h2v1h-2zm6 0h2v1h-2zm4 0h4v1h-4zm-299 1h10v1h-10zm11 0h6v1h-6zm7 0h177v1h-177zm180 0h22v1h-22zm23 0h2v1h-2zm3 0h3v1h-3zm4 0h9v1h-9zm10 0h6v1h-6zm12 0h6v1h-6zm13 0h8v1h-8zm9 0h14v1h-14zm17 0h2v1h-2zm6 0h2v1h-2zm4 0h4v1h-4zm-298 1h3v1h-3zm4 0h5v1h-5zm6 0h155v1h-155zm156 0h20v1h-20zm21 0h18v1h-18zm20 0h24v1h-24zm25 0h14v1h-14zm16 0h7v1h-7zm9 0h2v1h-2zm3 0h2v1h-2zm3 0h18v1h-18zm20 0h2v1h-2zm11 0h2v1h-2zm6 0h2v1h-2zm12 0h2v1h-2zm-311 1h2v1h-2zm3 0h19v1h-19zm20 0h173v1h-173zm174 0h40v1h-40zm43 0h5v1h-5zm7 0h2v1h-2zm3 0h4v1h-4zm6 0h5v1h-5zm6 0h3v1h-3zm4 0h6v1h-6zm7 0h9v1h-9zm16 0h5v1h-5zm10 0h2v1h-2zm12 0h2v1h-2zm-308 1h10v1h-10zm13 0h6v1h-6zm7 0h151v1h-151zm153 0h8v1h-8zm9 0h18v1h-18zm19 0h23v1h-23zm24 0h8v1h-8zm9 0h2v1h-2zm3 0h11v1h-11zm12 0h2v1h-2zm5 0h9v1h-9zm10 0h5v1h-5zm6 0h2v1h-2zm4 0h6v1h-6zm11 0h8v1h-8zm-285 1h10v1h-10zm13 0h6v1h-6zm8 0h139v1h-139zm141 0h8v1h-8zm9 0h23v1h-23zm24 0h25v1h-25zm26 0h7v1h-7zm9 0h2v1h-2zm4 0h2v1h-2zm4 0h6v1h-6zm7 0h3v1h-3zm7 0h2v1h-2zm4 0h3v1h-3zm5 0h2v1h-2zm3 0h3v1h-3zm5 0h3v1h-3zm5 0h6v1h-6zm8 0h5v1h-5zm9 0h2v1h-2zm-295 1h16v1h-16zm19 0h155v1h-155zm156 0h15v1h-15zm18 0h5v1h-5zm9 0h34v1h-34zm39 0h2v1h-2zm3 0h6v1h-6zm7 0h7v1h-7zm9 0h2v1h-2zm5 0h6v1h-6zm7 0h5v1h-5zm6 0h5v1h-5zm8 0h5v1h-5zm10 0h2v1h-2zm-296 1h19v1h-19zm20 0h153v1h-153zm154 0h12v1h-12zm13 0h3v1h-3zm5 0h3v1h-3zm4 0h2v1h-2zm3 0h2v1h-2zm4 0h22v1h-22zm23 0h12v1h-12zm13 0h4v1h-4zm5 0h6v1h-6zm7 0h6v1h-6zm7 0h19v1h-19zm21 0h4v1h-4zm6 0h3v1h-3zm5 0h2v1h-2zm4 0h4v1h-4zm6 0h2v1h-2zm-301 1h11v1h-11zm12 0h16v1h-16zm18 0h130v1h-130zm131 0h23v1h-23zm24 0h11v1h-11zm14 0h3v1h-3zm4 0h12v1h-12zm13 0h11v1h-11zm14 0h3v1h-3zm4 0h5v1h-5zm6 0h3v1h-3zm5 0h7v1h-7zm8 0h2v1h-2zm3 0h2v1h-2zm3 0h7v1h-7zm11 0h33v1h-33zm34 0h2v1h-2zm-304 1h160v1h-160zm161 0h18v1h-18zm19 0h8v1h-8zm10 0h7v1h-7zm9 0h14v1h-14zm15 0h8v1h-8zm9 0h7v1h-7zm8 0h2v1h-2zm3 0h4v1h-4zm6 0h5v1h-5zm9 0h3v1h-3zm9 0h6v1h-6zm8 0h26v1h-26zm27 0h2v1h-2zm3 0h2v1h-2zm3 0h3v1h-3zm5 0h2v1h-2zm15 0h2v1h-2zm-319 1h2v1h-2zm3 0h28v1h-28zm29 0h137v1h-137zm138 0h10v1h-10zm11 0h32v1h-32zm33 0h6v1h-6zm7 0h9v1h-9zm12 0h5v1h-5zm6 0h6v1h-6zm9 0h3v1h-3zm5 0h2v1h-2zm3 0h4v1h-4zm6 0h3v1h-3zm4 0h8v1h-8zm9 0h19v1h-19zm21 0h2v1h-2zm4 0h4v1h-4zm15 0h2v1h-2zm4 0h2v1h-2zm-319 1h12v1h-12zm13 0h187v1h-187zm188 0h25v1h-25zm26 0h2v1h-2zm3 0h15v1h-15zm16 0h5v1h-5zm7 0h2v1h-2zm3 0h2v1h-2zm3 0h29v1h-29zm30 0h5v1h-5zm6 0h2v1h-2zm7 0h6v1h-6zm13 0h2v1h-2zm6 0h1v1h-1zm-320 1h6v1h-6zm7 0h5v1h-5zm6 0h41v1h-41zm42 0h112v1h-112zm113 0h24v1h-24zm26 0h14v1h-14zm15 0h4v1h-4zm8 0h5v1h-5zm6 0h12v1h-12zm13 0h2v1h-2zm4 0h2v1h-2zm3 0h4v1h-4zm5 0h2v1h-2zm4 0h5v1h-5zm6 0h8v1h-8zm10 0h4v1h-4zm5 0h20v1h-20zm21 0h2v1h-2zm6 0h2v1h-2zm3 0h5v1h-5zm10 0h2v1h-2zm7 0h1v1h-1zm-319 1h6v1h-6zm7 0h11v1h-11zm12 0h14v1h-14zm15 0h133v1h-133zm134 0h18v1h-18zm19 0h22v1h-22zm24 0h17v1h-17zm19 0h15v1h-15zm19 0h45v1h-45zm47 0h2v1h-2zm3 0h2v1h-2zm6 0h2v1h-2zm7 0h2v1h-2zm-314 1h4v1h-4zm6 0h2v1h-2zm3 0h11v1h-11zm12 0h12v1h-12zm13 0h115v1h-115zm116 0h15v1h-15zm16 0h20v1h-20zm22 0h23v1h-23zm25 0h18v1h-18zm19 0h18v1h-18zm19 0h3v1h-3zm4 0h8v1h-8zm9 0h12v1h-12zm13 0h16v1h-16zm17 0h2v1h-2zm3 0h6v1h-6zm8 0h2v1h-2zm-305 1h7v1h-7zm8 0h5v1h-5zm7 0h17v1h-17zm18 0h147v1h-147zm149 0h4v1h-4zm6 0h21v1h-21zm22 0h4v1h-4zm5 0h21v1h-21zm27 0h8v1h-8zm10 0h2v1h-2zm3 0h8v1h-8zm9 0h31v1h-31zm33 0h7v1h-7zm8 0h2v1h-2zm-304 1h6v1h-6zm7 0h2v1h-2zm3 0h21v1h-21zm22 0h22v1h-22zm23 0h124v1h-124zm125 0h4v1h-4zm7 0h3v1h-3zm5 0h9v1h-9zm11 0h5v1h-5zm6 0h17v1h-17zm20 0h2v1h-2zm3 0h8v1h-8zm9 0h3v1h-3zm5 0h3v1h-3zm5 0h2v1h-2zm3 0h14v1h-14zm15 0h25v1h-25zm28 0h6v1h-6zm-296 1h5v1h-5zm6 0h2v1h-2zm3 0h27v1h-27zm28 0h53v1h-53zm54 0h91v1h-91zm96 0h3v1h-3zm4 0h9v1h-9zm11 0h26v1h-26zm28 0h9v1h-9zm10 0h4v1h-4zm6 0h2v1h-2zm3 0h10v1h-10zm11 0h31v1h-31zm33 0h4v1h-4zm5 0h3v1h-3zm5 0h2v1h-2zm-303 1h5v1h-5zm7 0h28v1h-28zm29 0h3v1h-3zm6 0h5v1h-5zm6 0h120v1h-120zm121 0h8v1h-8zm9 0h12v1h-12zm13 0h5v1h-5zm6 0h13v1h-13zm14 0h8v1h-8zm9 0h37v1h-37zm38 0h2v1h-2zm3 0h12v1h-12zm13 0h15v1h-15zm18 0h5v1h-5zm7 0h6v1h-6zm17 0h2v1h-2zm-316 1h16v1h-16zm17 0h140v1h-140zm141 0h18v1h-18zm20 0h32v1h-32zm34 0h3v1h-3zm4 0h2v1h-2zm3 0h6v1h-6zm8 0h4v1h-4zm6 0h35v1h-35zm37 0h27v1h-27zm28 0h5v1h-5zm18 0h2v1h-2zm-316 1h13v1h-13zm14 0h156v1h-156zm157 0h4v1h-4zm5 0h9v1h-9zm11 0h5v1h-5zm6 0h7v1h-7zm8 0h2v1h-2zm4 0h3v1h-3zm4 0h17v1h-17zm18 0h18v1h-18zm19 0h5v1h-5zm6 0h10v1h-10zm11 0h37v1h-37zm39 0h4v1h-4zm-304 1h5v1h-5zm8 0h7v1h-7zm8 0h155v1h-155zm157 0h33v1h-33zm34 0h14v1h-14zm15 0h6v1h-6zm7 0h3v1h-3zm4 0h16v1h-16zm18 0h2v1h-2zm3 0h10v1h-10zm11 0h36v1h-36zm39 0h4v1h-4zm-304 1h5v1h-5zm8 0h2v1h-2zm3 0h160v1h-160zm162 0h9v1h-9zm10 0h28v1h-28zm29 0h4v1h-4zm6 0h3v1h-3zm6 0h25v1h-25zm26 0h7v1h-7zm9 0h2v1h-2zm3 0h39v1h-39zm-261 1h4v1h-4zm7 0h29v1h-29zm30 0h4v1h-4zm5 0h2v1h-2zm3 0h123v1h-123zm125 0h6v1h-6zm8 0h4v1h-4zm5 0h8v1h-8zm9 0h3v1h-3zm4 0h3v1h-3zm4 0h3v1h-3zm5 0h7v1h-7zm8 0h3v1h-3zm5 0h4v1h-4zm5 0h31v1h-31zm36 0h17v1h-17zm18 0h18v1h-18zm19 0h4v1h-4zm5 0h2v1h-2zm5 0h2v1h-2zm-307 1h5v1h-5zm6 0h10v1h-10zm11 0h2v1h-2zm4 0h2v1h-2zm3 0h13v1h-13zm15 0h4v1h-4zm5 0h125v1h-125zm127 0h5v1h-5zm6 0h2v1h-2zm4 0h10v1h-10zm12 0h7v1h-7zm8 0h3v1h-3zm4 0h27v1h-27zm28 0h11v1h-11zm15 0h5v1h-5zm7 0h2v1h-2zm5 0h3v1h-3zm4 0h32v1h-32zm34 0h3v1h-3zm4 0h2v1h-2zm5 0h2v1h-2zm9 0h2v1h-2zm-316 1h2v1h-2zm3 0h8v1h-8zm10 0h3v1h-3zm4 0h3v1h-3zm6 0h153v1h-153zm154 0h4v1h-4zm5 0h17v1h-17zm20 0h6v1h-6zm7 0h3v1h-3zm4 0h6v1h-6zm7 0h12v1h-12zm13 0h10v1h-10zm13 0h7v1h-7zm9 0h3v1h-3zm5 0h2v1h-2zm3 0h34v1h-34zm36 0h4v1h-4zm6 0h2v1h-2zm7 0h2v1h-2zm4 0h2v1h-2zm-316 1h11v1h-11zm12 0h16v1h-16zm18 0h142v1h-142zm143 0h11v1h-11zm12 0h9v1h-9zm12 0h2v1h-2zm3 0h25v1h-25zm27 0h14v1h-14zm16 0h5v1h-5zm6 0h4v1h-4zm5 0h49v1h-49zm51 0h2v1h-2zm7 0h2v1h-2zm-312 1h4v1h-4zm6 0h5v1h-5zm6 0h6v1h-6zm8 0h7v1h-7zm9 0h134v1h-134zm136 0h3v1h-3zm4 0h14v1h-14zm16 0h2v1h-2zm3 0h6v1h-6zm7 0h10v1h-10zm11 0h21v1h-21zm22 0h9v1h-9zm10 0h3v1h-3zm5 0h3v1h-3zm6 0h3v1h-3zm5 0h38v1h-38zm39 0h7v1h-7zm8 0h3v1h-3zm4 0h2v1h-2zm-305 1h11v1h-11zm12 0h6v1h-6zm8 0h7v1h-7zm8 0h140v1h-140zm141 0h14v1h-14zm16 0h2v1h-2zm3 0h2v1h-2zm3 0h10v1h-10zm11 0h2v1h-2zm3 0h8v1h-8zm9 0h15v1h-15zm17 0h3v1h-3zm4 0h2v1h-2zm3 0h3v1h-3zm6 0h2v1h-2zm4 0h2v1h-2zm6 0h4v1h-4zm6 0h39v1h-39zm41 0h3v1h-3zm-300 1h16v1h-16zm17 0h142v1h-142zm143 0h22v1h-22zm24 0h2v1h-2zm3 0h2v1h-2zm3 0h10v1h-10zm11 0h17v1h-17zm18 0h6v1h-6zm7 0h2v1h-2zm3 0h3v1h-3zm4 0h3v1h-3zm4 0h3v1h-3zm6 0h2v1h-2zm3 0h4v1h-4zm7 0h47v1h-47zm51 0h3v1h-3zm-304 1h7v1h-7zm8 0h52v1h-52zm53 0h122v1h-122zm125 0h7v1h-7zm8 0h6v1h-6zm7 0h3v1h-3zm4 0h12v1h-12zm14 0h6v1h-6zm10 0h3v1h-3zm4 0h10v1h-10zm13 0h9v1h-9zm11 0h43v1h-43zm47 0h3v1h-3zm-304 1h4v1h-4zm5 0h3v1h-3zm6 0h9v1h-9zm10 0h3v1h-3zm4 0h2v1h-2zm3 0h144v1h-144zm145 0h10v1h-10zm12 0h6v1h-6zm10 0h5v1h-5zm7 0h6v1h-6zm7 0h16v1h-16zm18 0h10v1h-10zm11 0h7v1h-7zm8 0h8v1h-8zm12 0h38v1h-38zm40 0h2v1h-2zm4 0h5v1h-5zm-302 1h8v1h-8zm9 0h8v1h-8zm10 0h5v1h-5zm6 0h12v1h-12zm14 0h131v1h-131zm133 0h11v1h-11zm13 0h4v1h-4zm5 0h2v1h-2zm5 0h8v1h-8zm9 0h9v1h-9zm12 0h7v1h-7zm11 0h6v1h-6zm9 0h2v1h-2zm4 0h2v1h-2zm3 0h2v1h-2zm4 0h4v1h-4zm6 0h5v1h-5zm6 0h33v1h-33zm39 0h9v1h-9zm-299 1h8v1h-8zm9 0h21v1h-21zm22 0h150v1h-150zm151 0h2v1h-2zm4 0h7v1h-7zm8 0h2v1h-2zm4 0h7v1h-7zm8 0h7v1h-7zm14 0h3v1h-3zm5 0h10v1h-10zm12 0h2v1h-2zm3 0h3v1h-3zm4 0h7v1h-7zm8 0h42v1h-42zm43 0h2v1h-2zm3 0h6v1h-6zm7 0h2v1h-2zm-305 1h5v1h-5zm6 0h2v1h-2zm3 0h2v1h-2zm5 0h2v1h-2zm3 0h4v1h-4zm5 0h4v1h-4zm6 0h7v1h-7zm8 0h134v1h-134zm135 0h10v1h-10zm12 0h2v1h-2zm4 0h12v1h-12zm13 0h12v1h-12zm13 0h10v1h-10zm12 0h5v1h-5zm6 0h6v1h-6zm9 0h2v1h-2zm3 0h54v1h-54zm55 0h4v1h-4zm5 0h4v1h-4zm13 0h2v1h-2zm3 0h2v1h-2zm-318 1h4v1h-4zm5 0h4v1h-4zm11 0h2v1h-2zm5 0h4v1h-4zm6 0h11v1h-11zm13 0h115v1h-115zm116 0h17v1h-17zm18 0h3v1h-3zm4 0h6v1h-6zm8 0h7v1h-7zm8 0h4v1h-4zm5 0h7v1h-7zm8 0h4v1h-4zm5 0h11v1h-11zm12 0h12v1h-12zm16 0h6v1h-6zm9 0h39v1h-39zm41 0h6v1h-6zm7 0h4v1h-4zm5 0h2v1h-2zm11 0h4v1h-4zm5 0h2v1h-2zm-318 1h2v1h-2zm3 0h11v1h-11zm18 0h11v1h-11zm13 0h4v1h-4zm6 0h121v1h-121zm123 0h9v1h-9zm11 0h3v1h-3zm4 0h9v1h-9zm11 0h5v1h-5zm6 0h2v1h-2zm4 0h7v1h-7zm8 0h6v1h-6zm8 0h15v1h-15zm17 0h6v1h-6zm8 0h6v1h-6zm9 0h5v1h-5zm6 0h43v1h-43zm44 0h2v1h-2zm14 0h2v1h-2zm7 0h1v1h-1zm-317 1h2v1h-2zm4 0h10v1h-10zm14 0h2v1h-2zm4 0h4v1h-4zm5 0h4v1h-4zm5 0h3v1h-3zm5 0h14v1h-14zm16 0h4v1h-4zm5 0h93v1h-93zm94 0h7v1h-7zm8 0h34v1h-34zm36 0h18v1h-18zm20 0h12v1h-12zm13 0h11v1h-11zm12 0h54v1h-54zm55 0h5v1h-5zm9 0h2v1h-2zm12 0h1v1h-1zm-313 1h5v1h-5zm6 0h4v1h-4zm5 0h6v1h-6zm7 0h4v1h-4zm5 0h10v1h-10zm11 0h139v1h-139zm141 0h4v1h-4zm5 0h22v1h-22zm26 0h2v1h-2zm3 0h2v1h-2zm3 0h12v1h-12zm13 0h66v1h-66zm68 0h4v1h-4zm8 0h2v1h-2zm-308 1h3v1h-3zm5 0h2v1h-2zm4 0h5v1h-5zm6 0h6v1h-6zm7 0h20v1h-20zm21 0h131v1h-131zm132 0h3v1h-3zm6 0h5v1h-5zm6 0h2v1h-2zm4 0h2v1h-2zm3 0h12v1h-12zm13 0h12v1h-12zm13 0h8v1h-8zm9 0h5v1h-5zm7 0h3v1h-3zm6 0h3v1h-3zm4 0h3v1h-3zm7 0h8v1h-8zm9 0h34v1h-34zm36 0h2v1h-2zm4 0h2v1h-2zm-302 1h3v1h-3zm5 0h9v1h-9zm11 0h4v1h-4zm7 0h2v1h-2zm6 0h29v1h-29zm30 0h99v1h-99zm100 0h8v1h-8zm9 0h9v1h-9zm13 0h5v1h-5zm6 0h3v1h-3zm4 0h2v1h-2zm3 0h3v1h-3zm4 0h3v1h-3zm7 0h18v1h-18zm19 0h2v1h-2zm5 0h3v1h-3zm5 0h7v1h-7zm8 0h2v1h-2zm3 0h6v1h-6zm8 0h43v1h-43zm45 0h2v1h-2zm4 0h3v1h-3zm15 0h2v1h-2zm-310 1h2v1h-2zm3 0h2v1h-2zm5 0h5v1h-5zm7 0h2v1h-2zm4 0h2v1h-2zm4 0h16v1h-16zm17 0h11v1h-11zm13 0h98v1h-98zm99 0h4v1h-4zm5 0h3v1h-3zm4 0h11v1h-11zm15 0h2v1h-2zm5 0h2v1h-2zm3 0h2v1h-2zm4 0h2v1h-2zm3 0h4v1h-4zm7 0h12v1h-12zm14 0h6v1h-6zm7 0h2v1h-2zm6 0h4v1h-4zm7 0h4v1h-4zm6 0h2v1h-2zm3 0h6v1h-6zm7 0h46v1h-46zm48 0h2v1h-2zm14 0h2v1h-2zm-317 1h12v1h-12zm15 0h4v1h-4zm7 0h3v1h-3zm4 0h3v1h-3zm4 0h27v1h-27zm29 0h104v1h-104zm105 0h10v1h-10zm12 0h3v1h-3zm7 0h3v1h-3zm7 0h3v1h-3zm8 0h4v1h-4zm7 0h6v1h-6zm7 0h2v1h-2zm3 0h3v1h-3zm4 0h6v1h-6zm7 0h2v1h-2zm6 0h2v1h-2zm4 0h8v1h-8zm9 0h2v1h-2zm3 0h6v1h-6zm7 0h46v1h-46zm49 0h2v1h-2zm-305 1h15v1h-15zm16 0h4v1h-4zm7 0h3v1h-3zm4 0h5v1h-5zm7 0h12v1h-12zm13 0h116v1h-116zm118 0h8v1h-8zm11 0h11v1h-11zm15 0h3v1h-3zm4 0h2v1h-2zm3 0h4v1h-4zm8 0h8v1h-8zm9 0h4v1h-4zm5 0h4v1h-4zm5 0h4v1h-4zm5 0h6v1h-6zm7 0h8v1h-8zm9 0h2v1h-2zm11 0h42v1h-42zm48 0h2v1h-2zm12 0h2v1h-2zm-317 1h2v1h-2zm5 0h2v1h-2zm3 0h4v1h-4zm5 0h5v1h-5zm7 0h2v1h-2zm3 0h11v1h-11zm13 0h10v1h-10zm11 0h116v1h-116zm118 0h8v1h-8zm9 0h10v1h-10zm11 0h2v1h-2zm3 0h2v1h-2zm3 0h10v1h-10zm14 0h13v1h-13zm16 0h6v1h-6zm8 0h7v1h-7zm10 0h5v1h-5zm8 0h2v1h-2zm4 0h10v1h-10zm11 0h37v1h-37zm43 0h2v1h-2zm11 0h3v1h-3zm-311 1h7v1h-7zm9 0h21v1h-21zm22 0h4v1h-4zm5 0h5v1h-5zm6 0h109v1h-109zm110 0h6v1h-6zm8 0h2v1h-2zm4 0h3v1h-3zm5 0h2v1h-2zm4 0h3v1h-3zm7 0h2v1h-2zm3 0h2v1h-2zm3 0h12v1h-12zm14 0h7v1h-7zm8 0h5v1h-5zm6 0h8v1h-8zm10 0h3v1h-3zm10 0h5v1h-5zm7 0h3v1h-3zm5 0h8v1h-8zm10 0h26v1h-26zm27 0h7v1h-7zm8 0h13v1h-13zm20 0h2v1h-2zm-316 1h2v1h-2zm7 0h3v1h-3zm9 0h13v1h-13zm15 0h5v1h-5zm6 0h5v1h-5zm6 0h2v1h-2zm3 0h10v1h-10zm11 0h126v1h-126zm132 0h6v1h-6zm7 0h8v1h-8zm9 0h2v1h-2zm3 0h4v1h-4zm5 0h5v1h-5zm6 0h3v1h-3zm6 0h7v1h-7zm8 0h2v1h-2zm4 0h2v1h-2zm3 0h4v1h-4zm6 0h5v1h-5zm7 0h42v1h-42zm43 0h10v1h-10zm11 0h2v1h-2zm-307 1h3v1h-3zm8 0h2v1h-2zm5 0h2v1h-2zm3 0h5v1h-5zm6 0h6v1h-6zm8 0h12v1h-12zm13 0h13v1h-13zm15 0h104v1h-104zm105 0h23v1h-23zm24 0h5v1h-5zm6 0h2v1h-2zm6 0h10v1h-10zm12 0h4v1h-4zm5 0h2v1h-2zm8 0h7v1h-7zm9 0h2v1h-2zm4 0h3v1h-3zm5 0h4v1h-4zm6 0h52v1h-52zm53 0h3v1h-3zm5 0h2v1h-2zm7 0h2v1h-2zm-312 1h4v1h-4zm7 0h7v1h-7zm8 0h5v1h-5zm7 0h4v1h-4zm5 0h19v1h-19zm20 0h113v1h-113zm116 0h5v1h-5zm6 0h7v1h-7zm10 0h9v1h-9zm13 0h2v1h-2zm6 0h2v1h-2zm4 0h3v1h-3zm4 0h2v1h-2zm4 0h4v1h-4zm8 0h8v1h-8zm11 0h2v1h-2zm5 0h2v1h-2zm3 0h2v1h-2zm4 0h4v1h-4zm5 0h2v1h-2zm4 0h7v1h-7zm8 0h41v1h-41zm43 0h6v1h-6zm11 0h2v1h-2zm-310 1h2v1h-2zm4 0h7v1h-7zm12 0h2v1h-2zm4 0h3v1h-3zm4 0h11v1h-11zm13 0h105v1h-105zm106 0h23v1h-23zm24 0h8v1h-8zm10 0h2v1h-2zm3 0h4v1h-4zm6 0h4v1h-4zm9 0h2v1h-2zm4 0h13v1h-13zm17 0h6v1h-6zm7 0h11v1h-11zm13 0h6v1h-6zm7 0h3v1h-3zm7 0h44v1h-44zm48 0h7v1h-7zm-299 1h2v1h-2zm4 0h8v1h-8zm16 0h4v1h-4zm5 0h2v1h-2zm3 0h7v1h-7zm10 0h42v1h-42zm43 0h84v1h-84zm87 0h8v1h-8zm10 0h13v1h-13zm18 0h16v1h-16zm19 0h2v1h-2zm4 0h2v1h-2zm5 0h4v1h-4zm5 0h4v1h-4zm8 0h9v1h-9zm14 0h6v1h-6zm7 0h37v1h-37zm39 0h4v1h-4zm13 0h2v1h-2zm-310 1h3v1h-3zm4 0h2v1h-2zm3 0h2v1h-2zm13 0h3v1h-3zm5 0h2v1h-2zm3 0h7v1h-7zm9 0h10v1h-10zm11 0h97v1h-97zm99 0h5v1h-5zm6 0h12v1h-12zm15 0h2v1h-2zm3 0h17v1h-17zm25 0h7v1h-7zm8 0h2v1h-2zm8 0h2v1h-2zm3 0h2v1h-2zm9 0h2v1h-2zm9 0h2v1h-2zm9 0h2v1h-2zm4 0h3v1h-3zm5 0h2v1h-2zm4 0h2v1h-2zm3 0h32v1h-32zm33 0h10v1h-10zm15 0h6v1h-6zm-305 1h2v1h-2zm3 0h2v1h-2zm6 0h4v1h-4zm5 0h2v1h-2zm8 0h2v1h-2zm7 0h3v1h-3zm4 0h5v1h-5zm6 0h2v1h-2zm3 0h2v1h-2zm5 0h96v1h-96zm98 0h18v1h-18zm24 0h2v1h-2zm3 0h7v1h-7zm9 0h2v1h-2zm4 0h4v1h-4zm8 0h4v1h-4zm8 0h4v1h-4zm10 0h6v1h-6zm9 0h2v1h-2zm12 0h2v1h-2zm7 0h2v1h-2zm6 0h6v1h-6zm10 0h42v1h-42zm50 0h4v1h-4zm-302 1h2v1h-2zm6 0h4v1h-4zm5 0h3v1h-3zm4 0h2v1h-2zm4 0h3v1h-3zm5 0h4v1h-4zm6 0h4v1h-4zm9 0h4v1h-4zm5 0h21v1h-21zm22 0h5v1h-5zm6 0h83v1h-83zm84 0h6v1h-6zm8 0h4v1h-4zm5 0h2v1h-2zm3 0h4v1h-4zm6 0h2v1h-2zm4 0h5v1h-5zm6 0h6v1h-6zm7 0h2v1h-2zm3 0h2v1h-2zm5 0h4v1h-4zm5 0h6v1h-6zm9 0h2v1h-2zm13 0h2v1h-2zm6 0h2v1h-2zm4 0h2v1h-2zm3 0h48v1h-48zm49 0h2v1h-2zm-295 1h2v1h-2zm8 0h2v1h-2zm3 0h2v1h-2zm3 0h3v1h-3zm4 0h2v1h-2zm5 0h2v1h-2zm4 0h11v1h-11zm15 0h113v1h-113zm114 0h2v1h-2zm3 0h6v1h-6zm8 0h2v1h-2zm5 0h2v1h-2zm3 0h5v1h-5zm6 0h2v1h-2zm7 0h2v1h-2zm3 0h6v1h-6zm7 0h5v1h-5zm7 0h5v1h-5zm6 0h2v1h-2zm3 0h3v1h-3zm4 0h2v1h-2zm14 0h6v1h-6zm11 0h21v1h-21zm23 0h18v1h-18zm19 0h4v1h-4zm5 0h4v1h-4zm11 0h3v1h-3zm-302 1h5v1h-5zm7 0h11v1h-11zm12 0h2v1h-2zm5 0h2v1h-2zm5 0h6v1h-6zm8 0h3v1h-3zm4 0h2v1h-2zm3 0h8v1h-8zm9 0h95v1h-95zm96 0h8v1h-8zm9 0h6v1h-6zm8 0h4v1h-4zm5 0h4v1h-4zm5 0h5v1h-5zm7 0h2v1h-2zm6 0h3v1h-3zm5 0h2v1h-2zm6 0h14v1h-14zm15 0h3v1h-3zm4 0h3v1h-3zm4 0h4v1h-4zm5 0h2v1h-2zm5 0h6v1h-6zm12 0h2v1h-2zm6 0h4v1h-4zm5 0h9v1h-9zm10 0h25v1h-25zm26 0h2v1h-2zm3 0h2v1h-2zm3 0h7v1h-7zm9 0h2v1h-2zm-309 1h4v1h-4zm5 0h2v1h-2zm4 0h10v1h-10zm11 0h2v1h-2zm5 0h5v1h-5zm6 0h4v1h-4zm9 0h5v1h-5zm7 0h7v1h-7zm10 0h98v1h-98zm99 0h11v1h-11zm12 0h8v1h-8zm9 0h5v1h-5zm8 0h2v1h-2zm7 0h5v1h-5zm7 0h2v1h-2zm6 0h4v1h-4zm5 0h10v1h-10zm12 0h7v1h-7zm8 0h2v1h-2zm4 0h10v1h-10zm14 0h5v1h-5zm6 0h13v1h-13zm14 0h31v1h-31zm32 0h4v1h-4zm8 0h3v1h-3zm5 0h2v1h-2zm-313 1h2v1h-2zm9 0h3v1h-3zm5 0h3v1h-3zm6 0h10v1h-10zm14 0h3v1h-3zm4 0h2v1h-2zm4 0h9v1h-9zm10 0h4v1h-4zm5 0h98v1h-98zm99 0h11v1h-11zm15 0h5v1h-5zm6 0h4v1h-4zm8 0h2v1h-2zm3 0h2v1h-2zm5 0h4v1h-4zm5 0h3v1h-3zm7 0h3v1h-3zm7 0h2v1h-2zm3 0h2v1h-2zm7 0h4v1h-4zm5 0h4v1h-4zm5 0h12v1h-12zm16 0h5v1h-5zm6 0h43v1h-43zm47 0h4v1h-4zm6 0h3v1h-3zm6 0h2v1h-2zm-312 1h3v1h-3zm5 0h2v1h-2zm4 0h2v1h-2zm4 0h2v1h-2zm7 0h7v1h-7zm9 0h2v1h-2zm3 0h4v1h-4zm5 0h2v1h-2zm4 0h6v1h-6zm7 0h2v1h-2zm4 0h116v1h-116zm117 0h6v1h-6zm7 0h6v1h-6zm11 0h2v1h-2zm9 0h3v1h-3zm5 0h2v1h-2zm3 0h3v1h-3zm7 0h2v1h-2zm7 0h5v1h-5zm8 0h13v1h-13zm16 0h4v1h-4zm5 0h5v1h-5zm7 0h50v1h-50zm52 0h2v1h-2zm-306 1h3v1h-3zm5 0h2v1h-2zm8 0h2v1h-2zm4 0h2v1h-2zm6 0h2v1h-2zm6 0h5v1h-5zm7 0h2v1h-2zm5 0h2v1h-2zm4 0h3v1h-3zm5 0h7v1h-7zm8 0h110v1h-110zm111 0h13v1h-13zm14 0h2v1h-2zm13 0h2v1h-2zm5 0h2v1h-2zm5 0h2v1h-2zm12 0h6v1h-6zm8 0h6v1h-6zm13 0h7v1h-7zm9 0h7v1h-7zm8 0h23v1h-23zm24 0h14v1h-14zm15 0h8v1h-8zm-293 1h3v1h-3zm12 0h2v1h-2zm3 0h2v1h-2zm4 0h4v1h-4zm9 0h2v1h-2zm3 0h2v1h-2zm3 0h2v1h-2zm3 0h4v1h-4zm7 0h7v1h-7zm9 0h92v1h-92zm93 0h11v1h-11zm12 0h11v1h-11zm13 0h5v1h-5zm7 0h5v1h-5zm26 0h2v1h-2zm7 0h2v1h-2zm7 0h4v1h-4zm9 0h2v1h-2zm10 0h5v1h-5zm6 0h5v1h-5zm7 0h7v1h-7zm8 0h39v1h-39zm41 0h2v1h-2zm-301 1h5v1h-5zm11 0h2v1h-2zm3 0h3v1h-3zm7 0h3v1h-3zm5 0h2v1h-2zm7 0h2v1h-2zm3 0h6v1h-6zm7 0h16v1h-16zm17 0h9v1h-9zm10 0h85v1h-85zm86 0h15v1h-15zm24 0h6v1h-6zm10 0h2v1h-2zm19 0h2v1h-2zm4 0h3v1h-3zm7 0h2v1h-2zm19 0h2v1h-2zm3 0h8v1h-8zm9 0h8v1h-8zm9 0h39v1h-39zm41 0h3v1h-3zm10 0h2v1h-2zm-312 1h3v1h-3zm11 0h4v1h-4zm5 0h2v1h-2zm5 0h2v1h-2zm5 0h3v1h-3zm7 0h4v1h-4zm5 0h2v1h-2zm3 0h26v1h-26zm27 0h2v1h-2zm3 0h4v1h-4zm5 0h95v1h-95zm97 0h4v1h-4zm9 0h5v1h-5zm6 0h5v1h-5zm6 0h2v1h-2zm13 0h2v1h-2zm3 0h7v1h-7zm16 0h2v1h-2zm9 0h3v1h-3zm9 0h2v1h-2zm4 0h3v1h-3zm4 0h3v1h-3zm4 0h4v1h-4zm5 0h28v1h-28zm29 0h15v1h-15zm22 0h2v1h-2zm-312 1h2v1h-2zm10 0h5v1h-5zm8 0h5v1h-5zm8 0h2v1h-2zm3 0h8v1h-8zm12 0h6v1h-6zm7 0h6v1h-6zm7 0h8v1h-8zm9 0h5v1h-5zm6 0h96v1h-96zm98 0h11v1h-11zm20 0h5v1h-5zm6 0h4v1h-4zm6 0h3v1h-3zm7 0h2v1h-2zm3 0h6v1h-6zm9 0h2v1h-2zm7 0h2v1h-2zm3 0h2v1h-2zm6 0h3v1h-3zm6 0h3v1h-3zm4 0h2v1h-2zm3 0h12v1h-12zm15 0h2v1h-2zm4 0h6v1h-6zm7 0h19v1h-19zm23 0h7v1h-7zm11 0h2v1h-2zm-306 1h4v1h-4zm8 0h2v1h-2zm3 0h2v1h-2zm5 0h5v1h-5zm10 0h7v1h-7zm12 0h14v1h-14zm15 0h8v1h-8zm9 0h5v1h-5zm6 0h96v1h-96zm100 0h6v1h-6zm7 0h3v1h-3zm7 0h4v1h-4zm12 0h3v1h-3zm4 0h5v1h-5zm7 0h2v1h-2zm12 0h2v1h-2zm10 0h3v1h-3zm12 0h3v1h-3zm4 0h7v1h-7zm9 0h6v1h-6zm7 0h30v1h-30zm33 0h2v1h-2zm7 0h2v1h-2zm7 0h2v1h-2zm-306 1h4v1h-4zm13 0h2v1h-2zm4 0h4v1h-4zm9 0h4v1h-4zm5 0h2v1h-2zm7 0h5v1h-5zm6 0h26v1h-26zm27 0h63v1h-63zm64 0h9v1h-9zm10 0h19v1h-19zm24 0h9v1h-9zm11 0h6v1h-6zm9 0h2v1h-2zm3 0h2v1h-2zm3 0h2v1h-2zm4 0h4v1h-4zm14 0h2v1h-2zm5 0h5v1h-5zm7 0h2v1h-2zm3 0h2v1h-2zm7 0h2v1h-2zm4 0h2v1h-2zm4 0h7v1h-7zm10 0h12v1h-12zm13 0h23v1h-23zm24 0h6v1h-6zm9 0h2v1h-2zm11 0h2v1h-2zm-310 1h2v1h-2zm3 0h2v1h-2zm10 0h2v1h-2zm4 0h2v1h-2zm11 0h3v1h-3zm6 0h4v1h-4zm5 0h4v1h-4zm9 0h2v1h-2zm3 0h19v1h-19zm20 0h84v1h-84zm85 0h12v1h-12zm13 0h3v1h-3zm4 0h9v1h-9zm11 0h2v1h-2zm5 0h2v1h-2zm3 0h3v1h-3zm9 0h2v1h-2zm9 0h2v1h-2zm3 0h2v1h-2zm5 0h5v1h-5zm7 0h2v1h-2zm5 0h2v1h-2zm4 0h5v1h-5zm8 0h8v1h-8zm10 0h11v1h-11zm12 0h6v1h-6zm7 0h10v1h-10zm12 0h15v1h-15zm27 0h2v1h-2zm-307 1h2v1h-2zm6 0h2v1h-2zm4 0h9v1h-9zm16 0h2v1h-2zm5 0h4v1h-4zm6 0h4v1h-4zm5 0h2v1h-2zm4 0h3v1h-3zm5 0h11v1h-11zm13 0h3v1h-3zm4 0h98v1h-98zm99 0h2v1h-2zm3 0h2v1h-2zm3 0h4v1h-4zm8 0h2v1h-2zm6 0h2v1h-2zm3 0h2v1h-2zm15 0h4v1h-4zm22 0h2v1h-2zm4 0h2v1h-2zm3 0h4v1h-4zm5 0h4v1h-4zm6 0h2v1h-2zm4 0h11v1h-11zm12 0h12v1h-12zm13 0h18v1h-18zm19 0h3v1h-3zm9 0h2v1h-2zm-296 1h2v1h-2zm6 0h7v1h-7zm13 0h2v1h-2zm7 0h2v1h-2zm3 0h2v1h-2zm4 0h5v1h-5zm7 0h4v1h-4zm6 0h11v1h-11zm12 0h10v1h-10zm12 0h72v1h-72zm73 0h4v1h-4zm6 0h2v1h-2zm4 0h9v1h-9zm12 0h2v1h-2zm10 0h2v1h-2zm3 0h2v1h-2zm3 0h7v1h-7zm10 0h2v1h-2zm8 0h2v1h-2zm9 0h2v1h-2zm5 0h2v1h-2zm16 0h3v1h-3zm4 0h3v1h-3zm11 0h3v1h-3zm5 0h8v1h-8zm10 0h22v1h-22zm24 0h4v1h-4zm5 0h3v1h-3zm8 0h2v1h-2zm9 0h2v1h-2zm-311 1h2v1h-2zm7 0h2v1h-2zm10 0h4v1h-4zm5 0h2v1h-2zm3 0h2v1h-2zm9 0h3v1h-3zm6 0h6v1h-6zm7 0h3v1h-3zm4 0h4v1h-4zm5 0h2v1h-2zm5 0h8v1h-8zm9 0h80v1h-80zm81 0h2v1h-2zm3 0h3v1h-3zm5 0h3v1h-3zm6 0h4v1h-4zm6 0h7v1h-7zm8 0h4v1h-4zm5 0h2v1h-2zm4 0h2v1h-2zm4 0h2v1h-2zm3 0h5v1h-5zm11 0h2v1h-2zm7 0h3v1h-3zm6 0h2v1h-2zm10 0h2v1h-2zm6 0h3v1h-3zm5 0h2v1h-2zm4 0h2v1h-2zm3 0h2v1h-2zm3 0h15v1h-15zm18 0h25v1h-25zm27 0h2v1h-2zm7 0h2v1h-2zm9 0h2v1h-2zm-313 1h4v1h-4zm5 0h2v1h-2zm4 0h4v1h-4zm8 0h6v1h-6zm7 0h2v1h-2zm12 0h4v1h-4zm9 0h3v1h-3zm4 0h3v1h-3zm4 0h7v1h-7zm10 0h67v1h-67zm68 0h18v1h-18zm19 0h8v1h-8zm12 0h4v1h-4zm7 0h2v1h-2zm5 0h6v1h-6zm7 0h3v1h-3zm8 0h2v1h-2zm5 0h2v1h-2zm3 0h2v1h-2zm3 0h2v1h-2zm4 0h2v1h-2zm4 0h2v1h-2zm7 0h3v1h-3zm6 0h4v1h-4zm5 0h2v1h-2zm5 0h2v1h-2zm7 0h2v1h-2zm8 0h13v1h-13zm14 0h23v1h-23zm24 0h2v1h-2zm3 0h6v1h-6zm16 0h2v1h-2zm-303 1h3v1h-3zm5 0h2v1h-2zm6 0h2v1h-2zm6 0h2v1h-2zm3 0h2v1h-2zm5 0h2v1h-2zm4 0h2v1h-2zm3 0h2v1h-2zm6 0h2v1h-2zm4 0h2v1h-2zm4 0h6v1h-6zm8 0h50v1h-50zm51 0h53v1h-53zm58 0h3v1h-3zm7 0h2v1h-2zm4 0h3v1h-3zm8 0h5v1h-5zm7 0h2v1h-2zm11 0h2v1h-2zm4 0h2v1h-2zm12 0h2v1h-2zm3 0h10v1h-10zm15 0h2v1h-2zm12 0h3v1h-3zm4 0h2v1h-2zm4 0h9v1h-9zm11 0h18v1h-18zm19 0h2v1h-2zm3 0h2v1h-2zm3 0h3v1h-3zm8 0h7v1h-7zm10 0h2v1h-2zm-307 1h2v1h-2zm10 0h2v1h-2zm8 0h2v1h-2zm6 0h6v1h-6zm7 0h2v1h-2zm10 0h2v1h-2zm4 0h6v1h-6zm8 0h4v1h-4zm6 0h7v1h-7zm8 0h91v1h-91zm102 0h3v1h-3zm14 0h3v1h-3zm7 0h2v1h-2zm13 0h2v1h-2zm15 0h2v1h-2zm6 0h6v1h-6zm9 0h2v1h-2zm13 0h2v1h-2zm5 0h2v1h-2zm4 0h4v1h-4zm5 0h2v1h-2zm5 0h20v1h-20zm21 0h2v1h-2zm3 0h2v1h-2zm6 0h7v1h-7zm12 0h2v1h-2zm-300 1h2v1h-2zm3 0h2v1h-2zm5 0h2v1h-2zm3 0h2v1h-2zm8 0h2v1h-2zm7 0h2v1h-2zm3 0h2v1h-2zm5 0h2v1h-2zm4 0h12v1h-12zm13 0h7v1h-7zm9 0h15v1h-15zm16 0h70v1h-70zm71 0h5v1h-5zm6 0h7v1h-7zm8 0h6v1h-6zm8 0h2v1h-2zm4 0h6v1h-6zm8 0h4v1h-4zm7 0h4v1h-4zm8 0h2v1h-2zm15 0h2v1h-2zm10 0h2v1h-2zm9 0h2v1h-2zm9 0h3v1h-3zm5 0h2v1h-2zm8 0h29v1h-29zm30 0h3v1h-3zm4 0h4v1h-4zm8 0h3v1h-3zm12 0h2v1h-2zm-306 1h2v1h-2zm3 0h2v1h-2zm5 0h4v1h-4zm12 0h2v1h-2zm4 0h7v1h-7zm9 0h2v1h-2zm5 0h10v1h-10zm12 0h6v1h-6zm9 0h7v1h-7zm8 0h56v1h-56zm58 0h18v1h-18zm21 0h2v1h-2zm4 0h2v1h-2zm3 0h10v1h-10zm12 0h2v1h-2zm4 0h2v1h-2zm4 0h4v1h-4zm8 0h2v1h-2zm7 0h4v1h-4zm24 0h2v1h-2zm18 0h4v1h-4zm9 0h3v1h-3zm8 0h32v1h-32zm34 0h4v1h-4zm5 0h2v1h-2zm8 0h3v1h-3zm12 0h2v1h-2zm-296 1h3v1h-3zm10 0h2v1h-2zm4 0h2v1h-2zm4 0h2v1h-2zm5 0h2v1h-2zm4 0h11v1h-11zm13 0h4v1h-4zm6 0h75v1h-75zm76 0h21v1h-21zm22 0h4v1h-4zm6 0h3v1h-3zm8 0h2v1h-2zm21 0h2v1h-2zm4 0h2v1h-2zm3 0h3v1h-3zm7 0h2v1h-2zm6 0h2v1h-2zm3 0h2v1h-2zm20 0h2v1h-2zm7 0h2v1h-2zm6 0h12v1h-12zm13 0h3v1h-3zm4 0h18v1h-18zm19 0h2v1h-2zm3 0h2v1h-2zm-274 1h3v1h-3zm8 0h2v1h-2zm4 0h3v1h-3zm8 0h3v1h-3zm7 0h4v1h-4zm5 0h2v1h-2zm5 0h2v1h-2zm4 0h3v1h-3zm5 0h4v1h-4zm7 0h17v1h-17zm18 0h50v1h-50zm51 0h4v1h-4zm5 0h16v1h-16zm17 0h4v1h-4zm6 0h3v1h-3zm8 0h3v1h-3zm7 0h4v1h-4zm12 0h4v1h-4zm6 0h6v1h-6zm9 0h3v1h-3zm7 0h2v1h-2zm4 0h2v1h-2zm7 0h3v1h-3zm25 0h2v1h-2zm3 0h15v1h-15zm16 0h10v1h-10zm11 0h5v1h-5zm9 0h2v1h-2zm3 0h2v1h-2zm14 0h2v1h-2zm-297 1h5v1h-5zm7 0h2v1h-2zm4 0h2v1h-2zm3 0h7v1h-7zm12 0h3v1h-3zm8 0h2v1h-2zm4 0h2v1h-2zm4 0h3v1h-3zm5 0h8v1h-8zm9 0h4v1h-4zm5 0h15v1h-15zm16 0h55v1h-55zm58 0h12v1h-12zm14 0h3v1h-3zm7 0h4v1h-4zm6 0h5v1h-5zm9 0h4v1h-4zm12 0h4v1h-4zm8 0h3v1h-3zm6 0h4v1h-4zm9 0h2v1h-2zm3 0h2v1h-2zm7 0h3v1h-3zm6 0h2v1h-2zm16 0h2v1h-2zm3 0h2v1h-2zm3 0h2v1h-2zm4 0h16v1h-16zm17 0h2v1h-2zm3 0h7v1h-7zm11 0h3v1h-3zm4 0h2v1h-2zm4 0h2v1h-2zm10 0h2v1h-2zm-299 1h7v1h-7zm9 0h2v1h-2zm4 0h2v1h-2zm4 0h3v1h-3zm4 0h2v1h-2zm3 0h2v1h-2zm5 0h2v1h-2zm7 0h2v1h-2zm5 0h2v1h-2zm3 0h2v1h-2zm6 0h7v1h-7zm8 0h67v1h-67zm68 0h8v1h-8zm10 0h3v1h-3zm4 0h17v1h-17zm19 0h3v1h-3zm4 0h5v1h-5zm8 0h3v1h-3zm10 0h2v1h-2zm13 0h2v1h-2zm5 0h2v1h-2zm6 0h2v1h-2zm3 0h6v1h-6zm8 0h2v1h-2zm4 0h2v1h-2zm4 0h2v1h-2zm11 0h7v1h-7zm8 0h2v1h-2zm5 0h9v1h-9zm10 0h2v1h-2zm3 0h3v1h-3zm6 0h13v1h-13zm14 0h2v1h-2zm8 0h2v1h-2zm-301 1h2v1h-2zm8 0h3v1h-3zm4 0h7v1h-7zm11 0h2v1h-2zm6 0h6v1h-6zm7 0h2v1h-2zm15 0h4v1h-4zm5 0h2v1h-2zm10 0h2v1h-2zm5 0h10v1h-10zm11 0h2v1h-2zm3 0h66v1h-66zm67 0h5v1h-5zm8 0h9v1h-9zm11 0h3v1h-3zm4 0h4v1h-4zm7 0h4v1h-4zm11 0h2v1h-2zm24 0h2v1h-2zm5 0h5v1h-5zm6 0h6v1h-6zm8 0h2v1h-2zm11 0h5v1h-5zm7 0h2v1h-2zm6 0h9v1h-9zm12 0h4v1h-4zm5 0h2v1h-2zm4 0h12v1h-12zm13 0h2v1h-2zm12 0h2v1h-2zm-306 1h2v1h-2zm5 0h2v1h-2zm3 0h3v1h-3zm7 0h4v1h-4zm8 0h2v1h-2zm5 0h6v1h-6zm8 0h2v1h-2zm7 0h2v1h-2zm5 0h5v1h-5zm8 0h3v1h-3zm5 0h2v1h-2zm4 0h3v1h-3zm4 0h16v1h-16zm18 0h3v1h-3zm4 0h67v1h-67zm69 0h2v1h-2zm3 0h9v1h-9zm11 0h3v1h-3zm8 0h2v1h-2zm3 0h2v1h-2zm5 0h3v1h-3zm7 0h2v1h-2zm4 0h2v1h-2zm14 0h4v1h-4zm10 0h2v1h-2zm3 0h4v1h-4zm21 0h3v1h-3zm5 0h2v1h-2zm6 0h5v1h-5zm7 0h2v1h-2zm3 0h4v1h-4zm7 0h2v1h-2zm4 0h9v1h-9zm10 0h2v1h-2zm3 0h2v1h-2zm11 0h3v1h-3zm4 0h2v1h-2zm6 0h2v1h-2zm-310 1h2v1h-2zm3 0h2v1h-2zm4 0h2v1h-2zm5 0h2v1h-2zm11 0h5v1h-5zm8 0h2v1h-2zm7 0h4v1h-4zm5 0h6v1h-6zm8 0h29v1h-29zm30 0h21v1h-21zm22 0h34v1h-34zm35 0h16v1h-16zm18 0h12v1h-12zm13 0h3v1h-3zm4 0h5v1h-5zm7 0h2v1h-2zm5 0h6v1h-6zm7 0h2v1h-2zm4 0h2v1h-2zm14 0h4v1h-4zm34 0h5v1h-5zm11 0h3v1h-3zm7 0h2v1h-2zm3 0h5v1h-5zm8 0h12v1h-12zm13 0h2v1h-2zm14 0h2v1h-2zm4 0h2v1h-2zm6 0h2v1h-2zm-316 1h2v1h-2zm3 0h2v1h-2zm10 0h2v1h-2zm17 0h4v1h-4zm9 0h3v1h-3zm7 0h2v1h-2zm4 0h5v1h-5zm8 0h5v1h-5zm6 0h22v1h-22zm23 0h49v1h-49zm50 0h6v1h-6zm8 0h6v1h-6zm7 0h8v1h-8zm10 0h4v1h-4zm5 0h7v1h-7zm12 0h5v1h-5zm11 0h2v1h-2zm3 0h4v1h-4zm5 0h2v1h-2zm5 0h2v1h-2zm13 0h2v1h-2zm6 0h2v1h-2zm3 0h2v1h-2zm11 0h2v1h-2zm8 0h2v1h-2zm6 0h5v1h-5zm11 0h2v1h-2zm5 0h6v1h-6zm7 0h3v1h-3zm5 0h4v1h-4zm5 0h2v1h-2zm3 0h2v1h-2zm3 0h2v1h-2zm4 0h5v1h-5zm6 0h2v1h-2zm14 0h2v1h-2zm-313 1h2v1h-2zm3 0h2v1h-2zm5 0h2v1h-2zm22 0h2v1h-2zm9 0h10v1h-10zm11 0h2v1h-2zm3 0h3v1h-3zm5 0h2v1h-2zm6 0h12v1h-12zm15 0h56v1h-56zm57 0h7v1h-7zm9 0h14v1h-14zm17 0h4v1h-4zm7 0h5v1h-5zm10 0h2v1h-2zm11 0h5v1h-5zm7 0h2v1h-2zm6 0h2v1h-2zm13 0h2v1h-2zm6 0h2v1h-2zm3 0h4v1h-4zm11 0h2v1h-2zm8 0h2v1h-2zm10 0h2v1h-2zm7 0h7v1h-7zm8 0h19v1h-19zm20 0h2v1h-2zm4 0h5v1h-5zm6 0h2v1h-2zm14 0h2v1h-2zm-305 1h2v1h-2zm3 0h4v1h-4zm18 0h2v1h-2zm10 0h10v1h-10zm12 0h2v1h-2zm3 0h15v1h-15zm16 0h2v1h-2zm3 0h15v1h-15zm16 0h57v1h-57zm58 0h2v1h-2zm3 0h5v1h-5zm6 0h3v1h-3zm6 0h5v1h-5zm8 0h3v1h-3zm5 0h2v1h-2zm4 0h2v1h-2zm4 0h2v1h-2zm9 0h3v1h-3zm5 0h2v1h-2zm6 0h3v1h-3zm4 0h4v1h-4zm10 0h2v1h-2zm10 0h2v1h-2zm21 0h2v1h-2zm6 0h2v1h-2zm3 0h3v1h-3zm4 0h5v1h-5zm11 0h6v1h-6zm7 0h4v1h-4zm5 0h7v1h-7zm10 0h4v1h-4zm5 0h2v1h-2zm-298 1h4v1h-4zm7 0h7v1h-7zm21 0h2v1h-2zm6 0h2v1h-2zm4 0h4v1h-4zm6 0h4v1h-4zm6 0h2v1h-2zm4 0h13v1h-13zm18 0h10v1h-10zm12 0h12v1h-12zm13 0h42v1h-42zm43 0h7v1h-7zm8 0h3v1h-3zm4 0h2v1h-2zm3 0h11v1h-11zm14 0h4v1h-4zm5 0h2v1h-2zm4 0h2v1h-2zm4 0h2v1h-2zm5 0h2v1h-2zm3 0h4v1h-4zm7 0h2v1h-2zm6 0h2v1h-2zm3 0h4v1h-4zm10 0h2v1h-2zm28 0h2v1h-2zm3 0h2v1h-2zm6 0h2v1h-2zm3 0h3v1h-3zm4 0h4v1h-4zm5 0h2v1h-2zm7 0h10v1h-10zm12 0h4v1h-4zm9 0h2v1h-2zm4 0h3v1h-3zm11 0h2v1h-2zm-308 1h5v1h-5zm9 0h2v1h-2zm8 0h2v1h-2zm5 0h2v1h-2zm6 0h4v1h-4zm6 0h2v1h-2zm4 0h4v1h-4zm6 0h4v1h-4zm7 0h3v1h-3zm5 0h2v1h-2zm3 0h3v1h-3zm5 0h4v1h-4zm7 0h2v1h-2zm3 0h2v1h-2zm3 0h5v1h-5zm7 0h17v1h-17zm18 0h28v1h-28zm30 0h3v1h-3zm4 0h11v1h-11zm12 0h14v1h-14zm15 0h2v1h-2zm4 0h6v1h-6zm10 0h4v1h-4zm5 0h2v1h-2zm4 0h3v1h-3zm4 0h2v1h-2zm5 0h4v1h-4zm17 0h4v1h-4zm17 0h2v1h-2zm15 0h2v1h-2zm7 0h2v1h-2zm9 0h2v1h-2zm5 0h6v1h-6zm7 0h3v1h-3zm4 0h2v1h-2zm17 0h2v1h-2zm4 0h2v1h-2zm5 0h2v1h-2zm6 0h2v1h-2zm-309 1h2v1h-2zm4 0h2v1h-2zm14 0h4v1h-4zm5 0h2v1h-2zm8 0h2v1h-2zm10 0h3v1h-3zm5 0h4v1h-4zm6 0h3v1h-3zm5 0h2v1h-2zm7 0h6v1h-6zm7 0h6v1h-6zm7 0h5v1h-5zm7 0h10v1h-10zm11 0h34v1h-34zm36 0h16v1h-16zm19 0h8v1h-8zm10 0h2v1h-2zm7 0h6v1h-6zm10 0h4v1h-4zm9 0h2v1h-2zm9 0h4v1h-4zm17 0h4v1h-4zm9 0h3v1h-3zm4 0h2v1h-2zm4 0h2v1h-2zm4 0h2v1h-2zm15 0h2v1h-2zm3 0h2v1h-2zm3 0h2v1h-2zm6 0h4v1h-4zm7 0h9v1h-9zm19 0h2v1h-2zm6 0h5v1h-5zm8 0h4v1h-4zm-301 1h2v1h-2zm4 0h2v1h-2zm16 0h2v1h-2zm11 0h2v1h-2zm11 0h3v1h-3zm6 0h2v1h-2zm5 0h3v1h-3zm4 0h2v1h-2zm6 0h10v1h-10zm11 0h3v1h-3zm4 0h5v1h-5zm7 0h40v1h-40zm41 0h5v1h-5zm6 0h16v1h-16zm17 0h5v1h-5zm10 0h5v1h-5zm21 0h3v1h-3zm5 0h2v1h-2zm10 0h2v1h-2zm8 0h2v1h-2zm19 0h3v1h-3zm4 0h2v1h-2zm8 0h2v1h-2zm11 0h2v1h-2zm4 0h2v1h-2zm6 0h2v1h-2zm8 0h2v1h-2zm4 0h10v1h-10zm16 0h2v1h-2zm4 0h2v1h-2zm5 0h6v1h-6zm9 0h2v1h-2zm-297 1h2v1h-2zm7 0h4v1h-4zm15 0h2v1h-2zm12 0h2v1h-2zm5 0h2v1h-2zm4 0h3v1h-3zm4 0h5v1h-5zm6 0h2v1h-2zm6 0h3v1h-3zm4 0h5v1h-5zm6 0h4v1h-4zm5 0h5v1h-5zm7 0h53v1h-53zm54 0h9v1h-9zm10 0h5v1h-5zm7 0h2v1h-2zm3 0h6v1h-6zm10 0h2v1h-2zm11 0h3v1h-3zm4 0h3v1h-3zm4 0h2v1h-2zm7 0h2v1h-2zm7 0h3v1h-3zm9 0h2v1h-2zm8 0h2v1h-2zm4 0h2v1h-2zm21 0h3v1h-3zm5 0h2v1h-2zm7 0h2v1h-2zm3 0h2v1h-2zm6 0h5v1h-5zm7 0h2v1h-2zm9 0h4v1h-4zm5 0h2v1h-2zm4 0h4v1h-4zm11 0h2v1h-2zm12 0h2v1h-2zm-302 1h6v1h-6zm15 0h2v1h-2zm12 0h2v1h-2zm9 0h2v1h-2zm3 0h4v1h-4zm5 0h2v1h-2zm13 0h3v1h-3zm4 0h10v1h-10zm13 0h4v1h-4zm6 0h33v1h-33zm34 0h19v1h-19zm21 0h2v1h-2zm4 0h4v1h-4zm5 0h3v1h-3zm4 0h7v1h-7zm10 0h3v1h-3zm6 0h2v1h-2zm5 0h2v1h-2zm4 0h2v1h-2zm4 0h2v1h-2zm5 0h2v1h-2zm9 0h2v1h-2zm9 0h2v1h-2zm8 0h2v1h-2zm4 0h2v1h-2zm3 0h2v1h-2zm18 0h2v1h-2zm5 0h2v1h-2zm7 0h2v1h-2zm3 0h2v1h-2zm6 0h2v1h-2zm7 0h4v1h-4zm9 0h2v1h-2zm3 0h4v1h-4zm6 0h2v1h-2zm23 0h2v1h-2zm-305 1h2v1h-2zm7 0h2v1h-2zm16 0h3v1h-3zm19 0h2v1h-2zm5 0h3v1h-3zm6 0h2v1h-2zm3 0h2v1h-2zm4 0h6v1h-6zm7 0h10v1h-10zm11 0h4v1h-4zm7 0h53v1h-53zm55 0h2v1h-2zm3 0h2v1h-2zm4 0h2v1h-2zm3 0h9v1h-9zm12 0h2v1h-2zm5 0h2v1h-2zm10 0h2v1h-2zm7 0h3v1h-3zm6 0h2v1h-2zm26 0h4v1h-4zm41 0h4v1h-4zm9 0h2v1h-2zm6 0h2v1h-2zm4 0h4v1h-4zm26 0h2v1h-2zm-302 1h2v1h-2zm23 0h3v1h-3zm25 0h2v1h-2zm3 0h7v1h-7zm10 0h17v1h-17zm19 0h2v1h-2zm3 0h35v1h-35zm36 0h19v1h-19zm21 0h2v1h-2zm6 0h2v1h-2zm3 0h12v1h-12zm13 0h2v1h-2zm5 0h2v1h-2zm9 0h3v1h-3zm5 0h2v1h-2zm3 0h2v1h-2zm6 0h3v1h-3zm4 0h2v1h-2zm11 0h2v1h-2zm11 0h4v1h-4zm23 0h2v1h-2zm20 0h2v1h-2zm13 0h2v1h-2zm5 0h2v1h-2zm19 0h2v1h-2zm6 0h2v1h-2zm-306 1h4v1h-4zm20 0h2v1h-2zm7 0h4v1h-4zm5 0h2v1h-2zm18 0h2v1h-2zm5 0h2v1h-2zm4 0h4v1h-4zm6 0h3v1h-3zm4 0h2v1h-2zm3 0h6v1h-6zm7 0h28v1h-28zm31 0h12v1h-12zm16 0h2v1h-2zm3 0h7v1h-7zm8 0h2v1h-2zm8 0h2v1h-2zm3 0h9v1h-9zm10 0h7v1h-7zm13 0h5v1h-5zm9 0h2v1h-2zm5 0h2v1h-2zm10 0h2v1h-2zm3 0h3v1h-3zm11 0h2v1h-2zm13 0h2v1h-2zm21 0h2v1h-2zm10 0h2v1h-2zm20 0h2v1h-2zm27 0h2v1h-2zm-300 1h4v1h-4zm14 0h2v1h-2zm6 0h2v1h-2zm7 0h7v1h-7zm17 0h3v1h-3zm4 0h4v1h-4zm6 0h2v1h-2zm3 0h6v1h-6zm12 0h36v1h-36zm40 0h13v1h-13zm14 0h18v1h-18zm20 0h4v1h-4zm5 0h9v1h-9zm10 0h2v1h-2zm3 0h3v1h-3zm12 0h7v1h-7zm8 0h2v1h-2zm18 0h2v1h-2zm21 0h2v1h-2zm9 0h2v1h-2zm24 0h2v1h-2zm12 0h2v1h-2zm8 0h2v1h-2zm7 0h2v1h-2zm4 0h2v1h-2zm-284 1h3v1h-3zm14 0h2v1h-2zm11 0h4v1h-4zm6 0h3v1h-3zm13 0h3v1h-3zm4 0h2v1h-2zm6 0h9v1h-9zm11 0h32v1h-32zm35 0h3v1h-3zm4 0h12v1h-12zm13 0h15v1h-15zm16 0h9v1h-9zm10 0h3v1h-3zm5 0h4v1h-4zm7 0h2v1h-2zm3 0h2v1h-2zm3 0h3v1h-3zm5 0h2v1h-2zm10 0h4v1h-4zm5 0h2v1h-2zm7 0h2v1h-2zm26 0h2v1h-2zm6 0h2v1h-2zm3 0h2v1h-2zm6 0h2v1h-2zm25 0h2v1h-2zm5 0h2v1h-2zm6 0h3v1h-3zm5 0h3v1h-3zm4 0h2v1h-2zm4 0h4v1h-4zm6 0h2v1h-2zm6 0h2v1h-2zm24 0h2v1h-2zm-313 1h2v1h-2zm24 0h4v1h-4zm7 0h2v1h-2zm5 0h2v1h-2zm6 0h2v1h-2zm8 0h6v1h-6zm7 0h6v1h-6zm7 0h7v1h-7zm10 0h24v1h-24zm25 0h17v1h-17zm18 0h14v1h-14zm15 0h3v1h-3zm4 0h12v1h-12zm16 0h8v1h-8zm12 0h3v1h-3zm5 0h3v1h-3zm18 0h2v1h-2zm10 0h2v1h-2zm6 0h2v1h-2zm10 0h2v1h-2zm9 0h2v1h-2zm5 0h2v1h-2zm25 0h3v1h-3zm6 0h2v1h-2zm3 0h6v1h-6zm8 0h6v1h-6zm8 0h5v1h-5zm9 0h2v1h-2zm3 0h2v1h-2zm24 0h2v1h-2zm-277 1h2v1h-2zm3 0h2v1h-2zm3 0h2v1h-2zm8 0h4v1h-4zm7 0h2v1h-2zm4 0h8v1h-8zm13 0h17v1h-17zm18 0h27v1h-27zm28 0h12v1h-12zm13 0h2v1h-2zm5 0h10v1h-10zm14 0h3v1h-3zm4 0h4v1h-4zm8 0h4v1h-4zm5 0h3v1h-3zm5 0h2v1h-2zm10 0h2v1h-2zm9 0h2v1h-2zm4 0h2v1h-2zm3 0h2v1h-2zm3 0h4v1h-4zm5 0h2v1h-2zm7 0h2v1h-2zm12 0h2v1h-2zm25 0h2v1h-2zm9 0h6v1h-6zm8 0h4v1h-4zm7 0h2v1h-2zm4 0h2v1h-2zm3 0h2v1h-2zm3 0h2v1h-2zm-277 1h2v1h-2zm4 0h4v1h-4zm20 0h2v1h-2zm6 0h2v1h-2zm5 0h6v1h-6zm8 0h3v1h-3zm5 0h4v1h-4zm6 0h4v1h-4zm10 0h6v1h-6zm7 0h11v1h-11zm12 0h8v1h-8zm9 0h21v1h-21zm23 0h11v1h-11zm14 0h2v1h-2zm4 0h6v1h-6zm10 0h4v1h-4zm5 0h2v1h-2zm9 0h2v1h-2zm5 0h6v1h-6zm13 0h2v1h-2zm9 0h2v1h-2zm5 0h4v1h-4zm7 0h5v1h-5zm10 0h2v1h-2zm34 0h2v1h-2zm16 0h2v1h-2zm4 0h2v1h-2zm7 0h2v1h-2zm7 0h2v1h-2zm-279 1h2v1h-2zm5 0h2v1h-2zm4 0h4v1h-4zm15 0h2v1h-2zm5 0h2v1h-2zm6 0h2v1h-2zm5 0h6v1h-6zm8 0h3v1h-3zm7 0h2v1h-2zm4 0h2v1h-2zm8 0h4v1h-4zm9 0h3v1h-3zm5 0h6v1h-6zm7 0h8v1h-8zm9 0h6v1h-6zm7 0h7v1h-7zm8 0h6v1h-6zm9 0h9v1h-9zm13 0h2v1h-2zm4 0h7v1h-7zm10 0h4v1h-4zm9 0h2v1h-2zm7 0h6v1h-6zm7 0h2v1h-2zm23 0h4v1h-4zm7 0h3v1h-3zm22 0h2v1h-2zm6 0h2v1h-2zm11 0h2v1h-2zm5 0h2v1h-2zm6 0h2v1h-2zm10 0h2v1h-2zm23 0h2v1h-2zm28 0h1v1h-1zm-312 1h2v1h-2zm11 0h2v1h-2zm13 0h2v1h-2zm6 0h2v1h-2zm4 0h3v1h-3zm5 0h2v1h-2zm3 0h2v1h-2zm6 0h2v1h-2zm3 0h3v1h-3zm4 0h6v1h-6zm7 0h2v1h-2zm3 0h4v1h-4zm6 0h2v1h-2zm5 0h2v1h-2zm5 0h2v1h-2zm3 0h3v1h-3zm4 0h8v1h-8zm9 0h14v1h-14zm16 0h6v1h-6zm8 0h10v1h-10zm13 0h2v1h-2zm4 0h2v1h-2zm3 0h9v1h-9zm12 0h2v1h-2zm4 0h4v1h-4zm5 0h6v1h-6zm7 0h2v1h-2zm51 0h2v1h-2zm3 0h2v1h-2zm6 0h2v1h-2zm11 0h2v1h-2zm11 0h2v1h-2zm7 0h2v1h-2zm26 0h2v1h-2zm28 0h1v1h-1zm-315 1h2v1h-2zm4 0h2v1h-2zm12 0h2v1h-2zm3 0h2v1h-2zm4 0h4v1h-4zm10 0h2v1h-2zm4 0h3v1h-3zm5 0h2v1h-2zm3 0h8v1h-8zm9 0h8v1h-8zm11 0h2v1h-2zm3 0h3v1h-3zm4 0h18v1h-18zm19 0h4v1h-4zm9 0h3v1h-3zm5 0h9v1h-9zm12 0h7v1h-7zm9 0h10v1h-10zm11 0h4v1h-4zm7 0h10v1h-10zm12 0h2v1h-2zm3 0h2v1h-2zm3 0h2v1h-2zm3 0h4v1h-4zm7 0h2v1h-2zm10 0h2v1h-2zm6 0h2v1h-2zm12 0h2v1h-2zm3 0h2v1h-2zm20 0h4v1h-4zm5 0h2v1h-2zm33 0h2v1h-2zm4 0h3v1h-3zm20 0h4v1h-4zm-286 1h3v1h-3zm5 0h2v1h-2zm10 0h4v1h-4zm5 0h2v1h-2zm4 0h4v1h-4zm5 0h2v1h-2zm12 0h2v1h-2zm6 0h5v1h-5zm10 0h6v1h-6zm11 0h13v1h-13zm14 0h6v1h-6zm7 0h2v1h-2zm3 0h2v1h-2zm5 0h20v1h-20zm21 0h3v1h-3zm4 0h3v1h-3zm4 0h5v1h-5zm6 0h5v1h-5zm7 0h3v1h-3zm6 0h2v1h-2zm4 0h6v1h-6zm10 0h5v1h-5zm9 0h2v1h-2zm15 0h2v1h-2zm6 0h2v1h-2zm12 0h2v1h-2zm3 0h2v1h-2zm5 0h2v1h-2zm6 0h2v1h-2zm11 0h2v1h-2zm3 0h2v1h-2zm15 0h2v1h-2zm11 0h2v1h-2zm4 0h2v1h-2zm7 0h5v1h-5zm6 0h2v1h-2zm14 0h4v1h-4zm-291 1h2v1h-2zm5 0h2v1h-2zm15 0h2v1h-2zm3 0h4v1h-4zm7 0h2v1h-2zm3 0h4v1h-4zm13 0h3v1h-3zm5 0h2v1h-2zm11 0h6v1h-6zm7 0h2v1h-2zm3 0h34v1h-34zm35 0h23v1h-23zm24 0h5v1h-5zm7 0h8v1h-8zm10 0h4v1h-4zm5 0h3v1h-3zm4 0h3v1h-3zm7 0h5v1h-5zm11 0h2v1h-2zm39 0h2v1h-2zm6 0h2v1h-2zm9 0h2v1h-2zm4 0h2v1h-2zm16 0h2v1h-2zm8 0h2v1h-2zm3 0h3v1h-3zm4 0h2v1h-2zm10 0h2v1h-2zm3 0h2v1h-2zm12 0h2v1h-2zm-289 1h2v1h-2zm18 0h2v1h-2zm5 0h2v1h-2zm7 0h2v1h-2zm3 0h5v1h-5zm11 0h2v1h-2zm3 0h2v1h-2zm4 0h2v1h-2zm3 0h2v1h-2zm5 0h2v1h-2zm3 0h2v1h-2zm7 0h5v1h-5zm7 0h5v1h-5zm7 0h2v1h-2zm3 0h20v1h-20zm21 0h13v1h-13zm14 0h9v1h-9zm11 0h18v1h-18zm19 0h4v1h-4zm6 0h4v1h-4zm7 0h3v1h-3zm11 0h2v1h-2zm3 0h2v1h-2zm5 0h2v1h-2zm3 0h2v1h-2zm14 0h2v1h-2zm4 0h2v1h-2zm9 0h2v1h-2zm6 0h2v1h-2zm3 0h3v1h-3zm7 0h3v1h-3zm4 0h2v1h-2zm12 0h2v1h-2zm12 0h2v1h-2zm4 0h2v1h-2zm26 0h4v1h-4zm-285 1h2v1h-2zm16 0h2v1h-2zm3 0h2v1h-2zm15 0h2v1h-2zm8 0h2v1h-2zm4 0h2v1h-2zm6 0h4v1h-4zm5 0h2v1h-2zm6 0h2v1h-2zm4 0h3v1h-3zm6 0h6v1h-6zm7 0h3v1h-3zm4 0h12v1h-12zm16 0h4v1h-4zm5 0h10v1h-10zm15 0h2v1h-2zm3 0h5v1h-5zm7 0h10v1h-10zm12 0h4v1h-4zm7 0h4v1h-4zm6 0h4v1h-4zm7 0h2v1h-2zm14 0h2v1h-2zm3 0h4v1h-4zm5 0h2v1h-2zm14 0h7v1h-7zm13 0h2v1h-2zm6 0h2v1h-2zm3 0h3v1h-3zm8 0h2v1h-2zm4 0h2v1h-2zm11 0h2v1h-2zm31 0h2v1h-2zm11 0h2v1h-2zm-285 1h2v1h-2zm15 0h2v1h-2zm4 0h2v1h-2zm15 0h4v1h-4zm8 0h2v1h-2zm4 0h3v1h-3zm8 0h2v1h-2zm8 0h3v1h-3zm10 0h3v1h-3zm5 0h22v1h-22zm23 0h11v1h-11zm12 0h3v1h-3zm6 0h4v1h-4zm5 0h4v1h-4zm5 0h2v1h-2zm3 0h7v1h-7zm8 0h6v1h-6zm7 0h2v1h-2zm5 0h3v1h-3zm4 0h2v1h-2zm5 0h2v1h-2zm3 0h2v1h-2zm16 0h2v1h-2zm21 0h2v1h-2zm3 0h2v1h-2zm6 0h2v1h-2zm6 0h2v1h-2zm16 0h3v1h-3zm18 0h2v1h-2zm17 0h2v1h-2zm5 0h2v1h-2zm3 0h2v1h-2zm17 0h2v1h-2zm-286 1h2v1h-2zm10 0h2v1h-2zm9 0h2v1h-2zm4 0h3v1h-3zm6 0h4v1h-4zm8 0h2v1h-2zm5 0h3v1h-3zm4 0h2v1h-2zm11 0h3v1h-3zm8 0h5v1h-5zm7 0h4v1h-4zm5 0h29v1h-29zm30 0h4v1h-4zm5 0h5v1h-5zm8 0h2v1h-2zm3 0h9v1h-9zm11 0h6v1h-6zm7 0h2v1h-2zm5 0h3v1h-3zm4 0h4v1h-4zm5 0h2v1h-2zm3 0h2v1h-2zm26 0h5v1h-5zm20 0h2v1h-2zm6 0h2v1h-2zm12 0h2v1h-2zm4 0h2v1h-2zm18 0h2v1h-2zm17 0h2v1h-2zm4 0h3v1h-3zm4 0h2v1h-2zm17 0h2v1h-2zm-286 1h2v1h-2zm19 0h2v1h-2zm4 0h3v1h-3zm20 0h2v1h-2zm3 0h2v1h-2zm5 0h2v1h-2zm6 0h2v1h-2zm7 0h3v1h-3zm8 0h5v1h-5zm6 0h2v1h-2zm5 0h9v1h-9zm10 0h13v1h-13zm14 0h10v1h-10zm12 0h2v1h-2zm3 0h5v1h-5zm6 0h9v1h-9zm10 0h2v1h-2zm3 0h2v1h-2zm6 0h2v1h-2zm5 0h2v1h-2zm9 0h2v1h-2zm5 0h2v1h-2zm14 0h2v1h-2zm4 0h5v1h-5zm13 0h2v1h-2zm12 0h2v1h-2zm13 0h2v1h-2zm17 0h2v1h-2zm9 0h2v1h-2zm17 0h2v1h-2zm11 0h2v1h-2zm10 0h2v1h-2zm-235 1h2v1h-2zm6 0h2v1h-2zm3 0h2v1h-2zm4 0h3v1h-3zm4 0h12v1h-12zm19 0h2v1h-2zm4 0h8v1h-8zm10 0h3v1h-3zm5 0h8v1h-8zm9 0h2v1h-2zm4 0h7v1h-7zm8 0h7v1h-7zm8 0h2v1h-2zm4 0h2v1h-2zm3 0h2v1h-2zm5 0h2v1h-2zm14 0h2v1h-2zm4 0h3v1h-3zm15 0h2v1h-2zm17 0h2v1h-2zm4 0h2v1h-2zm3 0h2v1h-2zm5 0h2v1h-2zm3 0h2v1h-2zm21 0h2v1h-2zm3 0h2v1h-2zm3 0h2v1h-2zm9 0h2v1h-2zm7 0h2v1h-2zm21 0h2v1h-2zm10 0h2v1h-2zm-292 1h2v1h-2zm56 0h2v1h-2zm4 0h2v1h-2zm5 0h5v1h-5zm6 0h2v1h-2zm3 0h6v1h-6zm9 0h3v1h-3zm6 0h3v1h-3zm4 0h12v1h-12zm18 0h4v1h-4zm12 0h6v1h-6zm9 0h4v1h-4zm7 0h5v1h-5zm6 0h2v1h-2zm3 0h4v1h-4zm10 0h2v1h-2zm5 0h2v1h-2zm4 0h2v1h-2zm4 0h2v1h-2zm3 0h2v1h-2zm19 0h2v1h-2zm14 0h2v1h-2zm3 0h2v1h-2zm8 0h2v1h-2zm21 0h2v1h-2zm3 0h2v1h-2zm19 0h2v1h-2zm-261 1h4v1h-4zm21 0h2v1h-2zm9 0h2v1h-2zm26 0h8v1h-8zm9 0h5v1h-5zm6 0h9v1h-9zm11 0h4v1h-4zm7 0h3v1h-3zm4 0h10v1h-10zm17 0h5v1h-5zm13 0h3v1h-3zm4 0h3v1h-3zm5 0h4v1h-4zm7 0h8v1h-8zm9 0h4v1h-4zm6 0h2v1h-2zm4 0h2v1h-2zm3 0h4v1h-4zm6 0h2v1h-2zm4 0h2v1h-2zm3 0h2v1h-2zm10 0h2v1h-2zm9 0h3v1h-3zm7 0h2v1h-2zm20 0h2v1h-2zm14 0h2v1h-2zm6 0h2v1h-2zm-238 1h2v1h-2zm5 0h2v1h-2zm14 0h2v1h-2zm9 0h2v1h-2zm9 0h2v1h-2zm5 0h3v1h-3zm8 0h2v1h-2zm4 0h8v1h-8zm10 0h13v1h-13zm16 0h3v1h-3zm4 0h10v1h-10zm11 0h4v1h-4zm7 0h2v1h-2zm4 0h6v1h-6zm8 0h4v1h-4zm6 0h3v1h-3zm6 0h2v1h-2zm5 0h2v1h-2zm4 0h3v1h-3zm5 0h5v1h-5zm6 0h2v1h-2zm6 0h2v1h-2zm7 0h4v1h-4zm7 0h2v1h-2zm3 0h2v1h-2zm13 0h2v1h-2zm4 0h2v1h-2zm4 0h4v1h-4zm8 0h2v1h-2zm12 0h2v1h-2zm8 0h2v1h-2zm14 0h2v1h-2zm6 0h2v1h-2zm-238 1h2v1h-2zm5 0h2v1h-2zm17 0h2v1h-2zm15 0h2v1h-2zm5 0h3v1h-3zm5 0h2v1h-2zm3 0h2v1h-2zm4 0h2v1h-2zm5 0h2v1h-2zm5 0h7v1h-7zm11 0h4v1h-4zm7 0h17v1h-17zm20 0h2v1h-2zm3 0h19v1h-19zm22 0h3v1h-3zm4 0h2v1h-2zm3 0h5v1h-5zm6 0h4v1h-4zm10 0h2v1h-2zm9 0h5v1h-5zm7 0h2v1h-2zm3 0h2v1h-2zm3 0h2v1h-2zm4 0h2v1h-2zm5 0h2v1h-2zm5 0h2v1h-2zm4 0h2v1h-2zm20 0h2v1h-2zm57 0h2v1h-2zm32 0h2v1h-2zm-299 1h2v1h-2zm3 0h2v1h-2zm19 0h2v1h-2zm5 0h2v1h-2zm7 0h2v1h-2zm4 0h2v1h-2zm9 0h2v1h-2zm4 0h2v1h-2zm10 0h2v1h-2zm5 0h2v1h-2zm3 0h2v1h-2zm7 0h3v1h-3zm5 0h5v1h-5zm7 0h3v1h-3zm6 0h16v1h-16zm17 0h13v1h-13zm16 0h6v1h-6zm7 0h7v1h-7zm8 0h2v1h-2zm7 0h3v1h-3zm4 0h2v1h-2zm3 0h3v1h-3zm6 0h2v1h-2zm6 0h2v1h-2zm4 0h3v1h-3zm4 0h2v1h-2zm5 0h2v1h-2zm5 0h2v1h-2zm81 0h2v1h-2zm12 0h2v1h-2zm20 0h2v1h-2zm-296 1h2v1h-2zm20 0h2v1h-2zm4 0h2v1h-2zm7 0h2v1h-2zm4 0h4v1h-4zm13 0h2v1h-2zm10 0h2v1h-2zm8 0h10v1h-10zm12 0h2v1h-2zm3 0h2v1h-2zm3 0h3v1h-3zm5 0h20v1h-20zm23 0h4v1h-4zm5 0h4v1h-4zm6 0h7v1h-7zm8 0h3v1h-3zm5 0h2v1h-2zm10 0h2v1h-2zm4 0h6v1h-6zm14 0h3v1h-3zm6 0h2v1h-2zm13 0h2v1h-2zm14 0h2v1h-2zm79 0h2v1h-2zm-279 1h2v1h-2zm23 0h2v1h-2zm17 0h2v1h-2zm11 0h2v1h-2zm9 0h3v1h-3zm9 0h11v1h-11zm12 0h2v1h-2zm3 0h2v1h-2zm3 0h2v1h-2zm4 0h7v1h-7zm8 0h5v1h-5zm6 0h9v1h-9zm11 0h9v1h-9zm10 0h4v1h-4zm5 0h2v1h-2zm3 0h7v1h-7zm13 0h2v1h-2zm5 0h2v1h-2zm3 0h3v1h-3zm6 0h3v1h-3zm6 0h4v1h-4zm21 0h2v1h-2zm12 0h2v1h-2zm11 0h2v1h-2zm12 0h2v1h-2zm12 0h2v1h-2zm7 0h2v1h-2zm5 0h2v1h-2zm35 0h2v1h-2zm-282 1h2v1h-2zm21 0h4v1h-4zm35 0h2v1h-2zm3 0h6v1h-6zm13 0h3v1h-3zm6 0h5v1h-5zm6 0h2v1h-2zm3 0h2v1h-2zm4 0h13v1h-13zm14 0h9v1h-9zm12 0h4v1h-4zm6 0h2v1h-2zm4 0h3v1h-3zm6 0h6v1h-6zm9 0h3v1h-3zm5 0h2v1h-2zm5 0h7v1h-7zm9 0h5v1h-5zm8 0h2v1h-2zm3 0h3v1h-3zm8 0h2v1h-2zm7 0h3v1h-3zm11 0h2v1h-2zm13 0h2v1h-2zm5 0h2v1h-2zm4 0h2v1h-2zm3 0h2v1h-2zm12 0h2v1h-2zm3 0h2v1h-2zm4 0h2v1h-2zm5 0h2v1h-2zm35 0h2v1h-2zm-271 1h2v1h-2zm3 0h2v1h-2zm7 0h4v1h-4zm16 0h2v1h-2zm9 0h2v1h-2zm10 0h2v1h-2zm3 0h6v1h-6zm7 0h4v1h-4zm5 0h12v1h-12zm13 0h2v1h-2zm5 0h4v1h-4zm6 0h8v1h-8zm10 0h9v1h-9zm10 0h7v1h-7zm8 0h2v1h-2zm4 0h4v1h-4zm6 0h6v1h-6zm7 0h5v1h-5zm8 0h3v1h-3zm4 0h9v1h-9zm12 0h2v1h-2zm5 0h2v1h-2zm3 0h5v1h-5zm8 0h3v1h-3zm6 0h3v1h-3zm12 0h2v1h-2zm18 0h2v1h-2zm4 0h2v1h-2zm5 0h2v1h-2zm10 0h2v1h-2zm3 0h2v1h-2zm30 0h2v1h-2zm14 0h2v1h-2zm-271 1h2v1h-2zm3 0h2v1h-2zm11 0h2v1h-2zm12 0h2v1h-2zm9 0h2v1h-2zm13 0h5v1h-5zm7 0h4v1h-4zm5 0h10v1h-10zm13 0h3v1h-3zm5 0h14v1h-14zm16 0h6v1h-6zm7 0h10v1h-10zm15 0h5v1h-5zm6 0h6v1h-6zm7 0h3v1h-3zm8 0h3v1h-3zm5 0h2v1h-2zm6 0h2v1h-2zm6 0h2v1h-2zm3 0h3v1h-3zm4 0h2v1h-2zm3 0h2v1h-2zm6 0h2v1h-2zm4 0h3v1h-3zm4 0h2v1h-2zm11 0h2v1h-2zm16 0h2v1h-2zm9 0h2v1h-2zm3 0h2v1h-2zm4 0h6v1h-6zm13 0h2v1h-2zm23 0h2v1h-2zm14 0h2v1h-2zm-277 1h2v1h-2zm20 0h2v1h-2zm34 0h5v1h-5zm7 0h4v1h-4zm5 0h3v1h-3zm5 0h5v1h-5zm6 0h5v1h-5zm7 0h10v1h-10zm14 0h9v1h-9zm11 0h4v1h-4zm5 0h2v1h-2zm8 0h7v1h-7zm8 0h4v1h-4zm6 0h2v1h-2zm7 0h8v1h-8zm9 0h2v1h-2zm6 0h4v1h-4zm5 0h2v1h-2zm17 0h3v1h-3zm4 0h2v1h-2zm11 0h2v1h-2zm16 0h2v1h-2zm12 0h2v1h-2zm4 0h6v1h-6zm13 0h2v1h-2zm12 0h2v1h-2zm36 0h2v1h-2zm16 0h2v1h-2zm7 0h2v1h-2zm-311 1h2v1h-2zm26 0h2v1h-2zm21 0h2v1h-2zm7 0h6v1h-6zm7 0h2v1h-2zm5 0h2v1h-2zm5 0h2v1h-2zm3 0h9v1h-9zm10 0h6v1h-6zm8 0h9v1h-9zm10 0h10v1h-10zm12 0h3v1h-3zm9 0h6v1h-6zm9 0h3v1h-3zm4 0h2v1h-2zm4 0h2v1h-2zm4 0h7v1h-7zm8 0h5v1h-5zm6 0h2v1h-2zm7 0h5v1h-5zm9 0h2v1h-2zm78 0h2v1h-2zm7 0h2v1h-2zm29 0h2v1h-2zm16 0h2v1h-2zm7 0h2v1h-2zm-309 1h2v1h-2zm18 0h2v1h-2zm3 0h2v1h-2zm3 0h2v1h-2zm7 0h2v1h-2zm13 0h3v1h-3zm4 0h2v1h-2zm5 0h2v1h-2zm3 0h2v1h-2zm8 0h4v1h-4zm5 0h2v1h-2zm4 0h2v1h-2zm4 0h4v1h-4zm7 0h13v1h-13zm20 0h8v1h-8zm9 0h4v1h-4zm7 0h4v1h-4zm8 0h5v1h-5zm8 0h4v1h-4zm12 0h2v1h-2zm3 0h6v1h-6zm12 0h5v1h-5zm9 0h2v1h-2zm38 0h2v1h-2zm19 0h2v1h-2zm28 0h2v1h-2zm8 0h2v1h-2zm16 0h2v1h-2zm6 0h2v1h-2zm-287 1h2v1h-2zm18 0h2v1h-2zm3 0h2v1h-2zm8 0h4v1h-4zm15 0h2v1h-2zm4 0h2v1h-2zm3 0h4v1h-4zm11 0h2v1h-2zm4 0h2v1h-2zm5 0h2v1h-2zm4 0h4v1h-4zm9 0h2v1h-2zm4 0h6v1h-6zm12 0h2v1h-2zm3 0h9v1h-9zm12 0h11v1h-11zm12 0h3v1h-3zm5 0h6v1h-6zm7 0h2v1h-2zm9 0h2v1h-2zm7 0h3v1h-3zm10 0h2v1h-2zm29 0h2v1h-2zm16 0h2v1h-2zm19 0h2v1h-2zm23 0h2v1h-2zm13 0h2v1h-2zm4 0h2v1h-2zm12 0h2v1h-2zm6 0h2v1h-2zm-276 1h2v1h-2zm10 0h2v1h-2zm8 0h2v1h-2zm11 0h2v1h-2zm10 0h6v1h-6zm9 0h2v1h-2zm3 0h2v1h-2zm9 0h6v1h-6zm11 0h8v1h-8zm10 0h2v1h-2zm3 0h14v1h-14zm16 0h3v1h-3zm4 0h6v1h-6zm7 0h8v1h-8zm10 0h5v1h-5zm7 0h3v1h-3zm17 0h2v1h-2zm9 0h2v1h-2zm29 0h2v1h-2zm58 0h2v1h-2zm17 0h2v1h-2zm14 0h2v1h-2zm-292 1h2v1h-2zm20 0h2v1h-2zm10 0h2v1h-2zm19 0h2v1h-2zm10 0h2v1h-2zm4 0h2v1h-2zm5 0h5v1h-5zm6 0h2v1h-2zm6 0h6v1h-6zm7 0h2v1h-2zm4 0h8v1h-8zm10 0h2v1h-2zm3 0h12v1h-12zm16 0h3v1h-3zm4 0h5v1h-5zm7 0h5v1h-5zm6 0h2v1h-2zm6 0h3v1h-3zm6 0h2v1h-2zm5 0h2v1h-2zm9 0h2v1h-2zm35 0h2v1h-2zm47 0h2v1h-2zm22 0h2v1h-2zm25 0h2v1h-2zm-292 1h2v1h-2zm19 0h2v1h-2zm19 0h4v1h-4zm11 0h2v1h-2zm3 0h4v1h-4zm17 0h2v1h-2zm5 0h3v1h-3zm5 0h6v1h-6zm8 0h3v1h-3zm6 0h2v1h-2zm3 0h4v1h-4zm5 0h3v1h-3zm5 0h2v1h-2zm3 0h2v1h-2zm4 0h3v1h-3zm7 0h5v1h-5zm7 0h2v1h-2zm4 0h2v1h-2zm3 0h3v1h-3zm6 0h11v1h-11zm14 0h2v1h-2zm5 0h2v1h-2zm4 0h2v1h-2zm6 0h2v1h-2zm5 0h2v1h-2zm24 0h2v1h-2zm47 0h2v1h-2zm22 0h2v1h-2zm49 0h2v1h-2zm3 0h2v1h-2zm-304 1h2v1h-2zm4 0h2v1h-2zm9 0h2v1h-2zm10 0h6v1h-6zm14 0h4v1h-4zm7 0h2v1h-2zm6 0h2v1h-2zm4 0h2v1h-2zm6 0h2v1h-2zm4 0h4v1h-4zm7 0h6v1h-6zm7 0h7v1h-7zm8 0h3v1h-3zm5 0h2v1h-2zm3 0h3v1h-3zm4 0h2v1h-2zm8 0h7v1h-7zm9 0h3v1h-3zm4 0h3v1h-3zm4 0h6v1h-6zm7 0h6v1h-6zm7 0h2v1h-2zm7 0h2v1h-2zm8 0h4v1h-4zm7 0h2v1h-2zm5 0h2v1h-2zm27 0h2v1h-2zm27 0h2v1h-2zm66 0h2v1h-2zm14 0h2v1h-2zm3 0h2v1h-2zm3 0h2v1h-2zm-315 1h2v1h-2zm11 0h3v1h-3zm13 0h3v1h-3zm5 0h2v1h-2zm9 0h2v1h-2zm8 0h2v1h-2zm9 0h4v1h-4zm6 0h2v1h-2zm3 0h3v1h-3zm7 0h2v1h-2zm7 0h3v1h-3zm4 0h2v1h-2zm3 0h11v1h-11zm12 0h4v1h-4zm9 0h2v1h-2zm7 0h3v1h-3zm4 0h3v1h-3zm4 0h3v1h-3zm5 0h3v1h-3zm5 0h2v1h-2zm3 0h9v1h-9zm10 0h2v1h-2zm3 0h3v1h-3zm16 0h4v1h-4zm8 0h3v1h-3zm4 0h2v1h-2zm27 0h2v1h-2zm27 0h3v1h-3zm66 0h2v1h-2zm14 0h3v1h-3zm-309 1h2v1h-2zm11 0h3v1h-3zm8 0h2v1h-2zm6 0h2v1h-2zm4 0h2v1h-2zm17 0h5v1h-5zm10 0h3v1h-3zm7 0h5v1h-5zm7 0h6v1h-6zm8 0h6v1h-6zm10 0h16v1h-16zm18 0h2v1h-2zm7 0h3v1h-3zm4 0h3v1h-3zm5 0h4v1h-4zm9 0h4v1h-4zm5 0h7v1h-7zm8 0h2v1h-2zm3 0h3v1h-3zm5 0h2v1h-2zm6 0h2v1h-2zm7 0h2v1h-2zm4 0h5v1h-5zm6 0h2v1h-2zm21 0h2v1h-2zm34 0h2v1h-2zm33 0h4v1h-4zm43 0h2v1h-2zm4 0h2v1h-2zm-299 1h2v1h-2zm8 0h2v1h-2zm29 0h3v1h-3zm7 0h2v1h-2zm3 0h2v1h-2zm4 0h3v1h-3zm4 0h2v1h-2zm4 0h6v1h-6zm8 0h4v1h-4zm9 0h2v1h-2zm3 0h4v1h-4zm6 0h8v1h-8zm9 0h6v1h-6zm8 0h3v1h-3zm11 0h2v1h-2zm3 0h2v1h-2zm3 0h7v1h-7zm14 0h2v1h-2zm8 0h2v1h-2zm5 0h3v1h-3zm12 0h2v1h-2zm4 0h4v1h-4zm23 0h2v1h-2zm20 0h2v1h-2zm41 0h2v1h-2zm6 0h4v1h-4zm43 0h2v1h-2zm-264 1h2v1h-2zm13 0h5v1h-5zm7 0h2v1h-2zm3 0h2v1h-2zm6 0h2v1h-2zm5 0h5v1h-5zm7 0h2v1h-2zm3 0h3v1h-3zm4 0h5v1h-5zm6 0h6v1h-6zm9 0h6v1h-6zm8 0h3v1h-3zm5 0h2v1h-2zm4 0h3v1h-3zm4 0h3v1h-3zm4 0h4v1h-4zm5 0h2v1h-2zm9 0h2v1h-2zm9 0h2v1h-2zm4 0h5v1h-5zm16 0h4v1h-4zm19 0h2v1h-2zm11 0h2v1h-2zm11 0h4v1h-4zm43 0h2v1h-2zm19 0h2v1h-2zm-276 1h2v1h-2zm20 0h2v1h-2zm22 0h2v1h-2zm14 0h4v1h-4zm9 0h3v1h-3zm5 0h3v1h-3zm6 0h16v1h-16zm17 0h3v1h-3zm12 0h2v1h-2zm8 0h2v1h-2zm4 0h4v1h-4zm5 0h6v1h-6zm16 0h2v1h-2zm6 0h2v1h-2zm9 0h2v1h-2zm6 0h5v1h-5zm7 0h2v1h-2zm8 0h3v1h-3zm18 0h2v1h-2zm11 0h2v1h-2zm6 0h2v1h-2zm5 0h2v1h-2zm62 0h2v1h-2zm5 0h2v1h-2zm28 0h2v1h-2zm-310 1h3v1h-3zm21 0h2v1h-2zm38 0h2v1h-2zm4 0h2v1h-2zm4 0h2v1h-2zm4 0h3v1h-3zm11 0h11v1h-11zm12 0h7v1h-7zm10 0h2v1h-2zm4 0h5v1h-5zm9 0h5v1h-5zm7 0h4v1h-4zm15 0h2v1h-2zm21 0h5v1h-5zm7 0h2v1h-2zm8 0h2v1h-2zm13 0h4v1h-4zm11 0h2v1h-2zm11 0h2v1h-2zm71 0h3v1h-3zm7 0h2v1h-2zm22 0h2v1h-2zm-310 1h2v1h-2zm15 0h2v1h-2zm18 0h2v1h-2zm3 0h2v1h-2zm17 0h2v1h-2zm3 0h2v1h-2zm7 0h2v1h-2zm4 0h4v1h-4zm5 0h2v1h-2zm4 0h2v1h-2zm3 0h2v1h-2zm7 0h4v1h-4zm7 0h3v1h-3zm4 0h5v1h-5zm6 0h12v1h-12zm14 0h5v1h-5zm12 0h2v1h-2zm6 0h2v1h-2zm4 0h2v1h-2zm4 0h3v1h-3zm4 0h2v1h-2zm3 0h2v1h-2zm12 0h2v1h-2zm26 0h4v1h-4zm11 0h2v1h-2zm26 0h2v1h-2zm56 0h2v1h-2zm7 0h2v1h-2zm-273 1h2v1h-2zm18 0h2v1h-2zm3 0h2v1h-2zm14 0h2v1h-2zm3 0h2v1h-2zm3 0h4v1h-4zm6 0h2v1h-2zm7 0h2v1h-2zm3 0h2v1h-2zm4 0h5v1h-5zm12 0h2v1h-2zm3 0h11v1h-11zm12 0h5v1h-5zm6 0h6v1h-6zm8 0h4v1h-4zm10 0h4v1h-4zm8 0h2v1h-2zm4 0h2v1h-2zm4 0h3v1h-3zm4 0h5v1h-5zm9 0h2v1h-2zm45 0h4v1h-4zm24 0h2v1h-2zm3 0h2v1h-2zm-202 1h2v1h-2zm24 0h5v1h-5zm8 0h6v1h-6zm14 0h2v1h-2zm3 0h6v1h-6zm8 0h4v1h-4zm8 0h19v1h-19zm21 0h2v1h-2zm7 0h4v1h-4zm8 0h2v1h-2zm16 0h3v1h-3zm5 0h2v1h-2zm8 0h2v1h-2zm12 0h3v1h-3zm33 0h4v1h-4zm11 0h2v1h-2zm16 0h2v1h-2zm30 0h2v1h-2zm-258 1h4v1h-4zm11 0h2v1h-2zm15 0h2v1h-2zm26 0h2v1h-2zm3 0h2v1h-2zm3 0h5v1h-5zm7 0h3v1h-3zm10 0h2v1h-2zm4 0h18v1h-18zm19 0h6v1h-6zm8 0h6v1h-6zm9 0h10v1h-10zm28 0h3v1h-3zm25 0h3v1h-3zm14 0h2v1h-2zm8 0h2v1h-2zm12 0h2v1h-2zm10 0h2v1h-2zm46 0h2v1h-2zm3 0h2v1h-2zm-261 1h4v1h-4zm11 0h2v1h-2zm17 0h2v1h-2zm18 0h2v1h-2zm6 0h2v1h-2zm3 0h2v1h-2zm6 0h2v1h-2zm4 0h3v1h-3zm4 0h2v1h-2zm6 0h2v1h-2zm3 0h2v1h-2zm3 0h3v1h-3zm5 0h6v1h-6zm8 0h3v1h-3zm7 0h4v1h-4zm8 0h3v1h-3zm6 0h5v1h-5zm8 0h4v1h-4zm14 0h3v1h-3zm45 0h2v1h-2zm8 0h2v1h-2zm71 0h2v1h-2zm-233 1h2v1h-2zm18 0h6v1h-6zm8 0h3v1h-3zm6 0h2v1h-2zm3 0h8v1h-8zm9 0h2v1h-2zm3 0h5v1h-5zm7 0h2v1h-2zm5 0h6v1h-6zm8 0h2v1h-2zm6 0h4v1h-4zm19 0h2v1h-2zm3 0h5v1h-5zm14 0h3v1h-3zm4 0h3v1h-3zm12 0h2v1h-2zm18 0h2v1h-2zm65 0h2v1h-2zm15 0h2v1h-2zm26 0h2v1h-2zm-281 1h2v1h-2zm4 0h2v1h-2zm46 0h11v1h-11zm14 0h2v1h-2zm3 0h2v1h-2zm4 0h2v1h-2zm4 0h3v1h-3zm5 0h2v1h-2zm6 0h2v1h-2zm3 0h4v1h-4zm5 0h3v1h-3zm5 0h3v1h-3zm4 0h2v1h-2zm3 0h3v1h-3zm10 0h2v1h-2zm8 0h2v1h-2zm5 0h3v1h-3zm9 0h4v1h-4zm7 0h3v1h-3zm11 0h3v1h-3zm5 0h2v1h-2zm14 0h2v1h-2zm28 0h2v1h-2zm37 0h2v1h-2zm6 0h2v1h-2zm9 0h2v1h-2zm26 0h2v1h-2zm30 0h2v1h-2zm-311 1h2v1h-2zm4 0h2v1h-2zm19 0h2v1h-2zm29 0h3v1h-3zm4 0h2v1h-2zm13 0h2v1h-2zm6 0h2v1h-2zm7 0h2v1h-2zm4 0h2v1h-2zm3 0h3v1h-3zm4 0h3v1h-3zm7 0h5v1h-5zm7 0h2v1h-2zm6 0h5v1h-5zm8 0h2v1h-2zm8 0h3v1h-3zm9 0h4v1h-4zm8 0h2v1h-2zm5 0h2v1h-2zm5 0h2v1h-2zm5 0h2v1h-2zm5 0h2v1h-2zm12 0h2v1h-2zm22 0h2v1h-2zm3 0h2v1h-2zm40 0h2v1h-2zm3 0h2v1h-2zm7 0h2v1h-2zm58 0h2v1h-2zm-288 1h2v1h-2zm8 0h2v1h-2zm21 0h3v1h-3zm12 0h2v1h-2zm5 0h4v1h-4zm6 0h5v1h-5zm7 0h2v1h-2zm8 0h2v1h-2zm3 0h2v1h-2zm6 0h5v1h-5zm6 0h4v1h-4zm8 0h5v1h-5zm7 0h11v1h-11zm18 0h4v1h-4zm6 0h2v1h-2zm7 0h2v1h-2zm15 0h2v1h-2zm3 0h2v1h-2zm9 0h2v1h-2zm12 0h2v1h-2zm4 0h2v1h-2zm6 0h2v1h-2zm43 0h3v1h-3zm10 0h2v1h-2zm-222 1h2v1h-2zm33 0h2v1h-2zm7 0h2v1h-2zm4 0h6v1h-6zm7 0h2v1h-2zm5 0h2v1h-2zm5 0h6v1h-6zm7 0h5v1h-5zm6 0h2v1h-2zm4 0h3v1h-3zm9 0h13v1h-13zm17 0h2v1h-2zm9 0h2v1h-2zm11 0h2v1h-2zm5 0h2v1h-2zm9 0h2v1h-2zm21 0h2v1h-2zm4 0h2v1h-2zm50 0h2v1h-2zm-216 1h2v1h-2zm38 0h2v1h-2zm5 0h2v1h-2zm6 0h7v1h-7zm10 0h2v1h-2zm5 0h6v1h-6zm10 0h2v1h-2zm7 0h4v1h-4zm9 0h8v1h-8zm11 0h2v1h-2zm3 0h7v1h-7zm9 0h4v1h-4zm14 0h2v1h-2zm3 0h4v1h-4zm-154 1h2v1h-2zm24 0h2v1h-2zm38 0h2v1h-2zm5 0h2v1h-2zm6 0h2v1h-2zm4 0h4v1h-4zm7 0h2v1h-2zm8 0h2v1h-2zm11 0h2v1h-2zm4 0h3v1h-3zm13 0h2v1h-2zm5 0h2v1h-2zm3 0h3v1h-3zm5 0h3v1h-3zm4 0h4v1h-4zm17 0h3v1h-3zm-154 1h2v1h-2zm38 0h2v1h-2zm29 0h2v1h-2zm9 0h6v1h-6zm8 0h4v1h-4zm8 0h2v1h-2zm6 0h3v1h-3zm5 0h2v1h-2zm4 0h4v1h-4zm8 0h4v1h-4zm5 0h5v1h-5zm6 0h4v1h-4zm8 0h2v1h-2zm21 0h2v1h-2zm-118 1h3v1h-3zm9 0h2v1h-2zm15 0h4v1h-4zm6 0h2v1h-2zm5 0h2v1h-2zm4 0h6v1h-6zm10 0h2v1h-2zm3 0h2v1h-2zm3 0h2v1h-2zm6 0h4v1h-4zm9 0h4v1h-4zm5 0h2v1h-2zm3 0h4v1h-4zm7 0h9v1h-9zm12 0h2v1h-2zm-135 1h2v1h-2zm37 0h5v1h-5zm10 0h2v1h-2zm4 0h2v1h-2zm6 0h2v1h-2zm5 0h4v1h-4zm5 0h2v1h-2zm6 0h2v1h-2zm3 0h2v1h-2zm14 0h2v1h-2zm3 0h2v1h-2zm3 0h2v1h-2zm4 0h3v1h-3zm13 0h2v1h-2zm5 0h2v1h-2zm4 0h2v1h-2zm4 0h2v1h-2zm4 0h2v1h-2zm5 0h2v1h-2zm-135 1h2v1h-2zm4 0h2v1h-2zm33 0h2v1h-2zm3 0h4v1h-4zm11 0h2v1h-2zm6 0h2v1h-2zm6 0h2v1h-2zm4 0h4v1h-4zm7 0h6v1h-6zm11 0h3v1h-3zm10 0h4v1h-4zm13 0h2v1h-2zm6 0h2v1h-2zm6 0h4v1h-4zm6 0h2v1h-2zm4 0h2v1h-2zm13 0h2v1h-2zm3 0h2v1h-2zm-142 1h2v1h-2zm10 0h2v1h-2zm3 0h2v1h-2zm25 0h2v1h-2zm12 0h2v1h-2zm9 0h2v1h-2zm6 0h2v1h-2zm5 0h6v1h-6zm11 0h5v1h-5zm9 0h7v1h-7zm9 0h2v1h-2zm5 0h2v1h-2zm6 0h2v1h-2zm6 0h2v1h-2zm7 0h3v1h-3zm12 0h2v1h-2zm4 0h2v1h-2zm3 0h2v1h-2zm6 0h2v1h-2zm-139 1h3v1h-3zm4 0h2v1h-2zm9 0h2v1h-2zm28 0h2v1h-2zm12 0h2v1h-2zm8 0h2v1h-2zm4 0h2v1h-2zm8 0h6v1h-6zm8 0h2v1h-2zm5 0h2v1h-2zm4 0h2v1h-2zm6 0h2v1h-2zm5 0h2v1h-2zm7 0h2v1h-2zm5 0h4v1h-4zm13 0h2v1h-2zm4 0h3v1h-3zm9 0h2v1h-2zm-139 1h2v1h-2zm13 0h2v1h-2zm37 0h2v1h-2zm3 0h4v1h-4zm7 0h3v1h-3zm4 0h3v1h-3zm7 0h2v1h-2zm3 0h2v1h-2zm3 0h2v1h-2zm8 0h3v1h-3zm5 0h3v1h-3zm6 0h2v1h-2zm7 0h2v1h-2zm3 0h4v1h-4zm7 0h2v1h-2zm18 0h2v1h-2zm7 0h2v1h-2zm-119 1h2v1h-2zm15 0h2v1h-2zm14 0h4v1h-4zm7 0h2v1h-2zm5 0h2v1h-2zm3 0h4v1h-4zm8 0h2v1h-2zm3 0h3v1h-3zm9 0h6v1h-6zm7 0h3v1h-3zm13 0h2v1h-2zm3 0h2v1h-2zm7 0h3v1h-3zm15 0h2v1h-2zm10 0h2v1h-2zm3 0h2v1h-2zm-151 1h2v1h-2zm21 0h2v1h-2zm8 0h4v1h-4zm15 0h2v1h-2zm14 0h3v1h-3zm7 0h2v1h-2zm5 0h2v1h-2zm3 0h4v1h-4zm11 0h3v1h-3zm6 0h2v1h-2zm3 0h2v1h-2zm4 0h2v1h-2zm13 0h2v1h-2zm6 0h2v1h-2zm5 0h5v1h-5zm9 0h2v1h-2zm5 0h2v1h-2zm3 0h2v1h-2zm13 0h2v1h-2zm-151 1h4v1h-4zm21 0h2v1h-2zm10 0h2v1h-2zm4 0h2v1h-2zm23 0h2v1h-2zm6 0h3v1h-3zm10 0h2v1h-2zm13 0h2v1h-2zm3 0h2v1h-2zm8 0h2v1h-2zm10 0h4v1h-4zm6 0h2v1h-2zm7 0h6v1h-6zm9 0h2v1h-2zm5 0h2v1h-2zm15 0h2v1h-2zm-148 1h2v1h-2zm29 0h2v1h-2zm4 0h4v1h-4zm23 0h2v1h-2zm5 0h3v1h-3zm9 0h4v1h-4zm6 0h2v1h-2zm5 0h2v1h-2zm4 0h5v1h-5zm8 0h2v1h-2zm3 0h2v1h-2zm5 0h4v1h-4zm5 0h2v1h-2zm6 0h2v1h-2zm4 0h2v1h-2zm7 0h2v1h-2zm13 0h2v1h-2zm5 0h3v1h-3zm7 0h2v1h-2zm3 0h2v1h-2zm-122 1h2v1h-2zm6 0h2v1h-2zm16 0h2v1h-2zm5 0h2v1h-2zm5 0h4v1h-4zm8 0h4v1h-4zm7 0h2v1h-2zm4 0h3v1h-3zm7 0h2v1h-2zm3 0h5v1h-5zm8 0h2v1h-2zm3 0h4v1h-4zm5 0h2v1h-2zm5 0h2v1h-2zm3 0h4v1h-4zm11 0h2v1h-2zm11 0h2v1h-2zm5 0h3v1h-3zm10 0h2v1h-2zm-109 1h2v1h-2zm4 0h2v1h-2zm5 0h2v1h-2zm10 0h4v1h-4zm8 0h4v1h-4zm7 0h2v1h-2zm4 0h2v1h-2zm8 0h6v1h-6zm10 0h2v1h-2zm3 0h2v1h-2zm5 0h2v1h-2zm5 0h2v1h-2zm3 0h2v1h-2zm11 0h2v1h-2zm8 0h2v1h-2zm3 0h2v1h-2zm4 0h2v1h-2zm11 0h2v1h-2zm-150 1h2v1h-2zm25 0h2v1h-2zm5 0h2v1h-2zm11 0h2v1h-2zm4 0h2v1h-2zm16 0h2v1h-2zm14 0h2v1h-2zm12 0h2v1h-2zm4 0h2v1h-2zm6 0h2v1h-2zm7 0h3v1h-3zm28 0h5v1h-5zm7 0h2v1h-2zm-147 1h2v1h-2zm8 0h2v1h-2zm25 0h2v1h-2zm5 0h2v1h-2zm9 0h4v1h-4zm22 0h3v1h-3zm5 0h4v1h-4zm11 0h2v1h-2zm6 0h2v1h-2zm3 0h2v1h-2zm11 0h2v1h-2zm7 0h2v1h-2zm15 0h2v1h-2zm6 0h2v1h-2zm3 0h3v1h-3zm5 0h3v1h-3zm6 0h2v1h-2zm-147 1h2v1h-2zm32 0h2v1h-2zm15 0h2v1h-2zm23 0h2v1h-2zm4 0h4v1h-4zm6 0h2v1h-2zm5 0h2v1h-2zm6 0h2v1h-2zm3 0h2v1h-2zm28 0h2v1h-2zm5 0h2v1h-2zm4 0h8v1h-8zm9 0h4v1h-4zm8 0h2v1h-2zm-116 1h2v1h-2zm21 0h2v1h-2zm27 0h2v1h-2zm8 0h2v1h-2zm4 0h4v1h-4zm17 0h2v1h-2zm13 0h2v1h-2zm9 0h5v1h-5zm8 0h3v1h-3zm6 0h2v1h-2zm3 0h2v1h-2zm3 0h2v1h-2zm-116 1h2v1h-2zm18 0h4v1h-4zm8 0h2v1h-2zm23 0h3v1h-3zm4 0h2v1h-2zm4 0h2v1h-2zm17 0h2v1h-2zm18 0h2v1h-2zm6 0h2v1h-2zm6 0h2v1h-2zm6 0h2v1h-2zm4 0h4v1h-4zm-135 1h2v1h-2zm20 0h3v1h-3zm9 0h2v1h-2zm4 0h4v1h-4zm8 0h2v1h-2zm6 0h2v1h-2zm23 0h3v1h-3zm11 0h2v1h-2zm6 0h2v1h-2zm8 0h3v1h-3zm5 0h2v1h-2zm13 0h2v1h-2zm22 0h2v1h-2zm-139 1h2v1h-2zm4 0h2v1h-2zm20 0h2v1h-2zm9 0h2v1h-2zm4 0h4v1h-4zm20 0h2v1h-2zm28 0h2v1h-2zm6 0h2v1h-2zm9 0h6v1h-6zm17 0h2v1h-2zm15 0h2v1h-2zm-132 1h2v1h-2zm36 0h2v1h-2zm7 0h2v1h-2zm14 0h2v1h-2zm16 0h2v1h-2zm7 0h2v1h-2zm22 0h4v1h-4zm15 0h2v1h-2zm4 0h2v1h-2zm11 0h2v1h-2zm14 0h2v1h-2zm-111 1h3v1h-3zm8 0h2v1h-2zm22 0h2v1h-2zm8 0h2v1h-2zm7 0h2v1h-2zm16 0h2v1h-2zm8 0h2v1h-2zm11 0h2v1h-2zm6 0h2v1h-2zm25 0h4v1h-4zm-131 1h2v1h-2zm20 0h2v1h-2zm4 0h2v1h-2zm9 0h2v1h-2zm17 0h2v1h-2zm19 0h2v1h-2zm12 0h2v1h-2zm9 0h2v1h-2zm10 0h2v1h-2zm3 0h2v1h-2zm30 0h2v1h-2zm-134 1h3v1h-3zm25 0h2v1h-2zm9 0h4v1h-4zm6 0h2v1h-2zm3 0h2v1h-2zm5 0h2v1h-2zm10 0h2v1h-2zm12 0h2v1h-2zm11 0h2v1h-2zm10 0h2v1h-2zm9 0h2v1h-2zm4 0h2v1h-2zm4 0h2v1h-2zm4 0h2v1h-2zm-117 1h2v1h-2zm5 0h2v1h-2zm36 0h2v1h-2zm4 0h2v1h-2zm3 0h2v1h-2zm5 0h2v1h-2zm10 0h2v1h-2zm12 0h2v1h-2zm3 0h2v1h-2zm8 0h2v1h-2zm19 0h2v1h-2zm8 0h2v1h-2zm4 0h2v1h-2zm12 0h2v1h-2zm-129 1h2v1h-2zm4 0h2v1h-2zm33 0h2v1h-2zm4 0h2v1h-2zm5 0h2v1h-2zm7 0h2v1h-2zm5 0h2v1h-2zm17 0h2v1h-2zm3 0h2v1h-2zm28 0h2v1h-2zm23 0h2v1h-2zm5 0h2v1h-2zm-138 1h2v1h-2zm8 0h2v1h-2zm20 0h2v1h-2zm13 0h2v1h-2zm4 0h2v1h-2zm5 0h2v1h-2zm7 0h2v1h-2zm3 0h4v1h-4zm48 0h4v1h-4zm7 0h2v1h-2zm23 0h2v1h-2zm-138 1h2v1h-2zm3 0h2v1h-2zm25 0h2v1h-2zm22 0h2v1h-2zm4 0h2v1h-2zm6 0h2v1h-2zm27 0h2v1h-2zm5 0h2v1h-2zm7 0h2v1h-2zm9 0h3v1h-3zm7 0h2v1h-2zm-112 1h2v1h-2zm18 0h2v1h-2zm13 0h2v1h-2zm16 0h3v1h-3zm4 0h2v1h-2zm15 0h2v1h-2zm18 0h2v1h-2zm5 0h2v1h-2zm7 0h3v1h-3zm14 0h2v1h-2zm4 0h2v1h-2zm-121 1h2v1h-2zm25 0h2v1h-2zm11 0h4v1h-4zm19 0h2v1h-2zm18 0h3v1h-3zm9 0h2v1h-2zm22 0h2v1h-2zm13 0h2v1h-2zm4 0h2v1h-2zm60 0h2v1h-2zm-181 1h2v1h-2zm36 0h2v1h-2zm15 0h2v1h-2zm4 0h2v1h-2zm8 0h2v1h-2zm11 0h2v1h-2zm8 0h3v1h-3zm15 0h2v1h-2zm84 0h2v1h-2zm8 0h2v1h-2zm9 0h2v1h-2zm3 0h4v1h-4z" fill="#000"/>
<path d="M403.7 434V327H511V434Z" fill="none" stroke="#111" stroke-width="1.3"/>
<path d="M403.2 434h-2.8M403.2 425.96h-1.8M403.2 421.26h-1.8M403.2 417.92h-1.8M403.2 415.34h-1.8M403.2 413.22h-1.8M403.2 411.44h-1.8M403.2 409.89h-1.8M403.2 408.52h-1.8M403.2 407.3h-2.8M403.2 399.26h-1.8M403.2 394.56h-1.8M403.2 391.22h-1.8M403.2 388.64h-1.8M403.2 386.52h-1.8M403.2 384.74h-1.8M403.2 383.19h-1.8M403.2 381.82h-1.8M403.2 380.6h-2.8M403.2 372.56h-1.8M403.2 367.86h-1.8M403.2 364.52h-1.8M403.2 361.94h-1.8M403.2 359.82h-1.8M403.2 358.04h-1.8M403.2 356.49h-1.8M403.2 355.12h-1.8M403.2 353.9h-2.8M403.2 345.86h-1.8M403.2 341.16h-1.8M403.2 337.82h-1.8M403.2 335.24h-1.8M403.2 333.12h-1.8M403.2 331.34h-1.8M403.2 329.79h-1.8M403.2 328.42h-1.8M403.2 327.2h-2.8" stroke="#111" stroke-width="0.9" fill="none"/>
<path d="M403.7 434.5v2.8M411.74 434.5v1.8M416.44 434.5v1.8M419.78 434.5v1.8M422.36 434.5v1.8M424.48 434.5v1.8M426.26 434.5v1.8M427.81 434.5v1.8M429.18 434.5v1.8M430.4 434.5v2.8M438.44 434.5v1.8M443.14 434.5v1.8M446.48 434.5v1.8M449.06 434.5v1.8M451.18 434.5v1.8M452.96 434.5v1.8M454.51 434.5v1.8M455.88 434.5v1.8M457.1 434.5v2.8M465.14 434.5v1.8M469.84 434.5v1.8M473.18 434.5v1.8M475.76 434.5v1.8M477.88 434.5v1.8M479.66 434.5v1.8M481.21 434.5v1.8M482.58 434.5v1.8M483.8 434.5v2.8M491.84 434.5v1.8M496.54 434.5v1.8M499.88 434.5v1.8M502.46 434.5v1.8M504.58 434.5v1.8M506.36 434.5v1.8M507.91 434.5v1.8M509.28 434.5v1.8M510.5 434.5v2.8" stroke="#111" stroke-width="0.9" fill="none"/>
<path d="M338.54 379.54L340.15 365.69L347.31 354.62L357.23 350.23L375 351.62L380.31 358.77L373.15 371.23L358.85 392Z" fill="none" stroke="#fff" stroke-width="1.5" stroke-linejoin="round"/>
<path d="M378.46 368L385.39 368.46" fill="none" stroke="#fff" stroke-width="1.5" stroke-linejoin="round"/>
<path d="M358.85 392L360 404.23L362.77 410" fill="none" stroke="#fff" stroke-width="1.2" stroke-linejoin="round" stroke-dasharray="1.4 0.7"/>
<path d="M462.92 379.08L463.39 365.23L469.85 353.69L482.54 349.08L488.31 353.69L497.77 369.85L496.39 375.39L484.85 392Z" fill="none" stroke="#fff" stroke-width="1.5" stroke-linejoin="round"/>
<path d="M497.77 369.85L506.31 365.69L510.69 377.69" fill="none" stroke="#fff" stroke-width="1.2" stroke-linejoin="round" stroke-dasharray="1.4 0.7"/>
<path d="M484.85 392L486 400.77L490.15 408.85" fill="none" stroke="#fff" stroke-width="1.2" stroke-linejoin="round" stroke-dasharray="1.4 0.7"/>
<text x="331.8" y="344.6" font-size="9.3" class="lt">NKT</text>
<text x="385.2" y="344.6" font-size="9.3" text-anchor="end" class="lt">24.44%</text>
<text x="336.6" y="430.8" font-size="9.3" class="lt">NK</text>
<text x="384.6" y="430.8" font-size="9.3" text-anchor="end" class="lt">9.67%</text>
<text x="454" y="345.4" font-size="9.3" class="lt">NKT</text>
<text x="510.6" y="345.4" font-size="9.3" text-anchor="end" class="lt">3.87%</text>
<text x="461.3" y="430.5" font-size="9.3" class="lt">NK</text>
<text x="508.8" y="430.5" font-size="9.3" text-anchor="end" class="lt">3.31%</text>
<line x1="352.8" y1="422.8" x2="360.33" y2="415.19" stroke="#000" stroke-width="1.4"/>
<path d="M362.3 413.2L360.68 417.22L358.29 414.86Z" fill="#000"/>
<line x1="475.7" y1="423.1" x2="482.96" y2="415.52" stroke="#000" stroke-width="1.4"/>
<path d="M484.9 413.5L483.35 417.55L480.92 415.23Z" fill="#000"/>
</svg>
</body></html>
